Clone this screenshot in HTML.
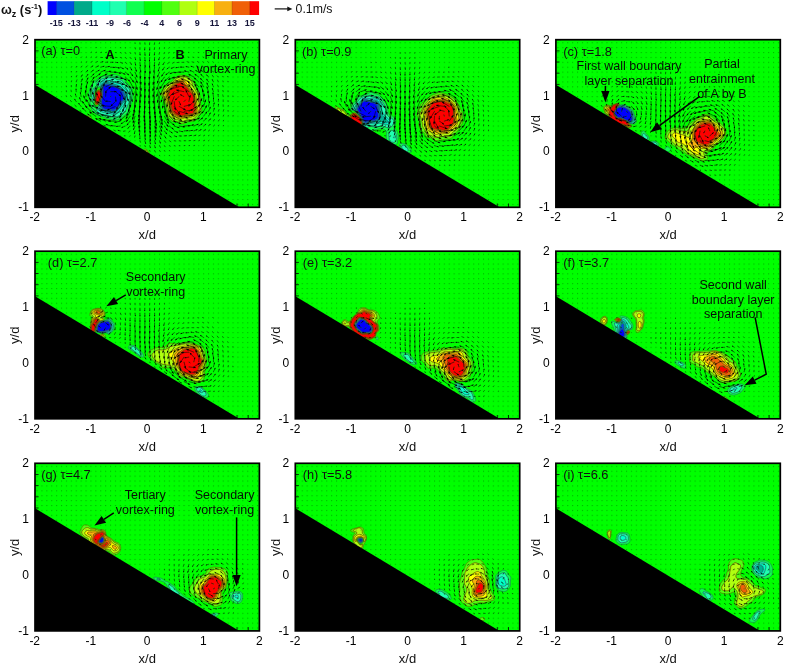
<!DOCTYPE html>
<html><head><meta charset="utf-8"><title>Vortex ring impinging on an inclined wall</title>
<style>html,body{margin:0;padding:0;background:#fff}body{width:785px;height:665px;overflow:hidden}svg{display:block}</style></head>
<body>
<svg width="785" height="665" viewBox="0 0 785 665" font-family="'Liberation Sans', Arial, sans-serif">
<defs><pattern id="dots" x="1.5" y="2.5" width="4.9" height="4.9" patternUnits="userSpaceOnUse"><rect x="0" y="0" width="1.1" height="1.1" fill="#008800" fill-opacity=".62"/></pattern></defs>
<rect width="785" height="665" fill="#fff"/>
<rect x="47.6" y="1.2" width="9.3" height="13.8" fill="#0000ff"/>
<rect x="56.6" y="1.2" width="17.9" height="13.8" fill="#0050e0"/>
<rect x="74.2" y="1.2" width="18.1" height="13.8" fill="#00b090"/>
<rect x="92" y="1.2" width="18.1" height="13.8" fill="#00ffc8"/>
<rect x="109.8" y="1.2" width="16.9" height="13.8" fill="#20ffb0"/>
<rect x="126.4" y="1.2" width="18" height="13.8" fill="#10ff50"/>
<rect x="144.1" y="1.2" width="17.9" height="13.8" fill="#00ff00"/>
<rect x="161.7" y="1.2" width="18" height="13.8" fill="#50ff10"/>
<rect x="179.4" y="1.2" width="18.1" height="13.8" fill="#b0ff10"/>
<rect x="197.2" y="1.2" width="17.6" height="13.8" fill="#ffff00"/>
<rect x="214.5" y="1.2" width="17.8" height="13.8" fill="#f8b010"/>
<rect x="232" y="1.2" width="18.1" height="13.8" fill="#f06008"/>
<rect x="249.8" y="1.2" width="9.3" height="13.8" fill="#ff0000"/>
<rect x="74.2" y="1.2" width="17.8" height="13.8" fill="#00a080" fill-opacity=".35"/>
<line x1="56.6" y1="1.2" x2="56.6" y2="15" stroke="#000" stroke-opacity=".25" stroke-width=".6"/>
<line x1="74.2" y1="1.2" x2="74.2" y2="15" stroke="#000" stroke-opacity=".25" stroke-width=".6"/>
<line x1="92" y1="1.2" x2="92" y2="15" stroke="#000" stroke-opacity=".25" stroke-width=".6"/>
<line x1="109.8" y1="1.2" x2="109.8" y2="15" stroke="#000" stroke-opacity=".25" stroke-width=".6"/>
<line x1="126.4" y1="1.2" x2="126.4" y2="15" stroke="#000" stroke-opacity=".25" stroke-width=".6"/>
<line x1="144.1" y1="1.2" x2="144.1" y2="15" stroke="#000" stroke-opacity=".25" stroke-width=".6"/>
<line x1="161.7" y1="1.2" x2="161.7" y2="15" stroke="#000" stroke-opacity=".25" stroke-width=".6"/>
<line x1="179.4" y1="1.2" x2="179.4" y2="15" stroke="#000" stroke-opacity=".25" stroke-width=".6"/>
<line x1="197.2" y1="1.2" x2="197.2" y2="15" stroke="#000" stroke-opacity=".25" stroke-width=".6"/>
<line x1="214.5" y1="1.2" x2="214.5" y2="15" stroke="#000" stroke-opacity=".25" stroke-width=".6"/>
<line x1="232" y1="1.2" x2="232" y2="15" stroke="#000" stroke-opacity=".25" stroke-width=".6"/>
<line x1="249.8" y1="1.2" x2="249.8" y2="15" stroke="#000" stroke-opacity=".25" stroke-width=".6"/>
<text x="1" y="14.4" font-size="12.8" font-weight="bold" fill="#111">ω<tspan font-size="9" dy="2.2">z</tspan><tspan dy="-2.2"> (s</tspan><tspan font-size="7.5" dy="-5">-1</tspan><tspan dy="5">)</tspan></text>
<text x="56.3" y="26.1" font-size="9" font-weight="bold" fill="#15153a" text-anchor="middle">-15</text>
<text x="74.2" y="26.1" font-size="9" font-weight="bold" fill="#15153a" text-anchor="middle">-13</text>
<text x="92" y="26.1" font-size="9" font-weight="bold" fill="#15153a" text-anchor="middle">-11</text>
<text x="110" y="26.1" font-size="9" font-weight="bold" fill="#15153a" text-anchor="middle">-9</text>
<text x="127" y="26.1" font-size="9" font-weight="bold" fill="#15153a" text-anchor="middle">-6</text>
<text x="144.6" y="26.1" font-size="9" font-weight="bold" fill="#15153a" text-anchor="middle">-4</text>
<text x="161.8" y="26.1" font-size="9" font-weight="bold" fill="#15153a" text-anchor="middle">4</text>
<text x="179.5" y="26.1" font-size="9" font-weight="bold" fill="#15153a" text-anchor="middle">6</text>
<text x="197.2" y="26.1" font-size="9" font-weight="bold" fill="#15153a" text-anchor="middle">9</text>
<text x="214.5" y="26.1" font-size="9" font-weight="bold" fill="#15153a" text-anchor="middle">11</text>
<text x="232" y="26.1" font-size="9" font-weight="bold" fill="#15153a" text-anchor="middle">13</text>
<text x="249.8" y="26.1" font-size="9" font-weight="bold" fill="#15153a" text-anchor="middle">15</text>
<line x1="274.7" y1="8.9" x2="289" y2="8.9" stroke="#111" stroke-width="1.2"/><polygon points="292.4,8.9 287.3,6.6 287.3,11.2" fill="#111"/>
<text x="295.6" y="12.5" font-size="12.3" fill="#111">0.1m/s</text>
<clipPath id="ca"><rect x="0" y="0" width="224.4" height="167.6"/></clipPath>
<g transform="translate(35,39.7)">
<g clip-path="url(#ca)">
<rect width="224.4" height="167.6" fill="#00ff00"/>
<path d="M69.6 45.3l.8-.2 .8 0 .8 .1 .8 .1 .8 .2 .8 .2 .8 .2 .8 .2 .8 .2 .8 .2 .8 .2 .8 .3 .6 .2 1 .4 .8 .3 .8 .3 .8 .5 .8 .5 .6 .4 1 .8 .8 .8 .6 .8 .4 .8 .3 .8 .2 .8 .2 .8 .3 .8 .2 .8 .1 .8-.1 .8-.4 .8-.5 .8-.5 .6-.7 1-.6 .8-.3 .6-.6 1-.5 .8-.5 .7-.7 .9-.8 .8-.7 .8-.9 .8-.9 .6-.8 .4-.8 .2-.8 .1-.8-.1-.8-.1-.8-.1-.8-.1-.8-.1-.8 0-.8 0-.8-.1-.8-.1-.8-.2-.8-.3-.8-.6-.6-1.1-.2-.7-.2-.9-.1-.8-.2-.8-.2-.8-.2-.8 0-.8 .1-.8 .2-.8 .2-.8 .2-.8 .2-.8 .3-.8 .2-.8 .1-.8 0-.8 .1-.8 0-.8 0-.8 .1-.8 0-.8 .1-.8-.1-.8 0-.8 .1-.8 .3-.8 .4-.5 .8-.6z" fill="#0000ff" stroke="#2a4a7a" stroke-opacity=".8" stroke-width=".6"/>
<path d="M69.6 43.8l.8-.1 .8 0 .8 0 .8 .2 .8 .2 .8 .2 .8 .3 .8 .2 .8 .2 .8 .2 .8 .3 .8 .3 .8 .2 .8 .3 .8 .3 .8 .3 .7 .3 .9 .5 .5 .3 1.1 .8 .8 .7 .8 .7 .8 .9 .6 .9 .4 .8 .3 .8 .3 .8 .2 .8 .2 .8 .1 .8 0 .8-.1 .8-.3 .8-.4 .8-.5 .7-.8 .8-.8 .9-.5 .8-.3 .4-.7 1.2-.5 .8-.4 .5-.8 1-.7 .9-.7 .8-.7 .8-.9 .8-1 .7-.8 .3-.8 .2-.8 0-.8-.1-.8-.2-.8-.2-.8-.2-.8-.2-.8 0-.8-.1-.8-.1-.8 0-.8-.2-.8-.1-.8-.4-.8-.6-.3-.4-.3-.8-.2-.8 0-.8 0-.8-.1-.8-.1-.8-.2-.8 0-.8 0-.8 .1-.8 .2-.8 .2-.8 .3-.8 .2-.8 .2-.8 .2-.8 .2-.8 0-.8 0-.8 0-.8 0-.8 0-.8 .1-.8 0-.8-.1-.8-.2-.8-.1-.8-.1-.8 .2-.8 .4-.8 1-.7 .8-.3zM69.1 45.6l-.7 .8-.3 .8-.1 .8 0 .8 .1 .8-.1 .8 0 .8-.1 .8 0 .8 0 .8-.1 .8 0 .8-.1 .8-.2 .8-.3 .8-.2 .8-.2 .8-.2 .8-.2 .6-.1 1 0 .8 .2 .8 .2 .8 .2 .8 .1 .8 .2 .8 .2 .8 .4 .8 .9 .8 .9 .4 .8 .2 .8 .1 .8 .1 .8 0 .8 0 .8 .1 .8 .1 .8 .1 .8 .1 .8 .1 .8-.1 .8-.2 .8-.4 .8-.5 .8-.7 .8-.8 .8-.9 .7-.9 .6-.8 .3-.4 .7-1.2 .4-.8 .5-.7 .7-.9 .6-.8 .5-.8 .4-.8 .1-.8-.1-.8-.2-.8-.3-.8-.2-.8-.2-.8-.3-.8-.4-.8-.6-.8-.8-.8-.8-.6-.8-.6-.6-.4-1-.6-.5-.2-1.1-.4-.8-.3-.8-.3-.8-.3-.8-.2-.8-.2-.8-.2-.8-.2-.8-.2-.8-.2-.8-.2-.8-.1-.8-.1-.8 0-.8 .2-.5 .3z" fill="#0050e0" stroke="#2a4a7a" stroke-opacity=".8" stroke-width=".6"/>
<path d="M70.4 42.4l.8-.1 .8 0 .7 .1 .9 .2 .8 .2 .8 .2 .6 .2 1 .3 .8 .2 .8 .3 .8 .3 .8 .3 .7 .2 .9 .3 .8 .2 .8 .3 .8 .2 .8 .5 .8 .6 .8 .8 .8 .7 .4 .4 .4 .4 .4 .4 .4 .4 .5 .4 .7 .8 .4 .5 .5 1.1 .2 .8 .1 .8 .1 .8 .1 .8 0 .8-.1 .8 0 .8-.2 .8-.3 .8-.4 .7-.7 .9-.8 .8-.7 .8-.6 .8-.4 .6-.6 1-.6 .8-.4 .5-.8 1.1-.6 .8-.6 .8-.4 .4-.8 .9-.4 .3-.4 .4-.6 .4-1 .6-.8 .3-.8 .2-.8 0-.8-.1-.7-.2-.9-.4-.8-.3-.8-.2-.8-.1-.8-.1-.8 0-.8-.1-.8-.1-.8-.1-.8-.2-.8-.3-.7-.5-.6-.8-.3-.6-.2-1 .1-.8 .1-.8 .1-.8 .1-.8-.1-.8-.1-.8 0-.8 0-.8 .2-.8 .2-.8 .3-.8 .3-.8 .3-.8 .2-.8 .1-.8 .1-.8 .1-.8-.1-.8 0-.8 0-.8 0-.8 0-.8 0-.8-.2-.8-.2-.8-.2-.8-.3-.8-.1-.8 0-.8 .4-.8 .5-.6 .8-.5 .8-.2 .8-.2 .8-.1zM69 44l-1 .6-.6 1-.2 .8 .1 .8 .1 .8 .2 .8 .1 .8 0 .8-.1 .8 0 .8 0 .8 0 .8 0 .8 0 .8-.2 .8-.2 .8-.2 .8-.2 .8-.3 .8-.2 .8-.2 .8-.1 .8 0 .8 0 .8 .2 .8 .1 .8 .1 .8 0 .8 0 .8 .2 .8 .3 .8 .3 .4 .4 .4 1.2 .6 .8 .1 .8 .2 .8 0 .8 .1 .8 .1 .8 0 .8 .2 .8 .2 .8 .2 .8 .2 .8 .1 .8 0 .8-.2 .5-.2 1.1-.7 .8-.6 .8-.8 .8-1 .7-.9 .7-.8 .6-.8 .4-.6 .6-1 .5-.8 .5-.8 .7-.8 .8-.8 .6-.8 .3-.5 .4-1.1 .1-.8 0-.8-.1-.8-.2-.8-.2-.8-.3-.8-.3-.8-.4-.8-.5-.8-.7-.8-.9-.8-.9-.8-.8-.6-.8-.5-.8-.5-.8-.3-.8-.3-.8-.3-.8-.3-.8-.2-.8-.3-.8-.3-.8-.2-.8-.2-.8-.2-.8-.3-.8-.2-.8-.2-.8-.2-.8 0-.8 0-.8 .1-.6 .2z" fill="#00b090" stroke="#2a4a7a" stroke-opacity=".8" stroke-width=".6"/>
<path d="M68 41.4l.8-.2 .8-.1 .8-.1 .8-.1 .8-.1 .8 0 .8 .1 .8 .1 .8 .2 .8 .2 .8 .2 .8 .1 .8 .3 .8 .3 .8 .3 .8 .4 .8 .3 .8 .2 .8 .1 .8 .1 .8 .1 .8 .3 .7 .7 .6 .8 .3 .4 .8 1.1 .8 .8 .8 .8 .8 .6 .8 .6 .5 .5 .6 .8 .2 .8 .1 .8 .1 .8 0 .8 0 .8 0 .8 0 .8-.1 .8 0 .8-.1 .8-.2 .8-.3 .8-.4 .8-.4 .5-.8 1-.8 .9-.6 .8-.5 .8-.5 .7-.6 .9-.6 .8-.4 .5-.8 1-.7 .9-.7 .8-.9 .8-.9 .7-.8 .6-.8 .6-.8 .4-.8 .2-.8 .2-.8-.1-.8-.1-.8-.2-.8-.3-.8-.3-.8-.3-.8-.2-.8-.1-.8-.1-.8-.1-.8 0-.8-.1-.8-.1-.8-.3-.8-.4-.8-.6-.8-.8-.5-1-.2-.8 .1-.8 .3-.8 .3-.7 .3-.9 .2-.8 0-.8 0-.8 0-.8 .1-.8 .1-.8 .3-.8 .3-.8 .3-.8 .3-.8 .2-.8 .2-.8 0-.8 0-.8 0-.8 0-.8 0-.8 0-.8 0-.8-.1-.8-.2-.8-.3-.8-.4-.8-.4-.8-.4-.8-.3-.8 0-.8 .4-.8 .7-.8 1.1-.7 .8-.3zM70.1 42.4l-1.3 .3-.8 .2-.5 .3-.8 .8-.3 .5-.1 1.1 .1 .6 .3 1 .2 .8 .2 .8 .2 .8 0 .8 0 .8 0 .8 0 .8 0 .8 .1 .8-.1 .8-.1 .7-.1 .9-.2 .8-.3 .8-.3 .8-.3 .8-.2 .8-.2 .8 0 .7 0 .9 .1 .8 .1 .8-.1 .8-.1 .8-.1 .8-.1 .8 .1 .8 .4 .8 .5 .7 .8 .6 .7 .3 .9 .2 .8 .1 .8 .1 .8 .1 .8 0 .8 .1 .8 .1 .8 .2 .8 .3 .8 .4 .8 .2 .8 .1 .8 0 .8-.2 .8-.3 .8-.4 .8-.6 .4-.4 .4-.3 .5-.5 .7-.8 .4-.5 .8-1.1 .6-.8 .6-.8 .4-.5 .7-1.1 .5-.8 .4-.6 .8-.9 .8-.8 .7-.9 .5-.8 .3-.8 .2-.8 0-.8 .1-.8 0-.8-.1-.8-.1-.8-.1-.8-.2-.8-.3-.8-.6-.8-.4-.4-.8-.8-.4-.4-.4-.4-.4-.4-.4-.4-.5-.4-.8-.8-1-.8-.9-.6-.7-.2-.9-.3-.8-.2-.8-.3-.8-.2-.8-.3-.8-.3-.8-.3-.8-.2-.8-.2-.8-.3-.8-.2-.8-.2-.8-.2-.8-.1-.8 0-.8 .1z" fill="#00ffc8" stroke="#2a4a7a" stroke-opacity=".8" stroke-width=".6"/>
<path d="M70.4 38.3l.8-.2 .8-.1 .8 0 .8 0 .8 0 .8 0 .8 0 .8 0 .8 .1 .8 .1 .6 .2 1 .3 .8 .4 .8 .4 .8 .3 .8 .2 .8 0 .8 .1 .8 .2 .8 .3 .8 .5 .5 .5 .6 .8 .5 .8 .5 .8 .3 .6 .8 1 .8 .8 .8 .6 .8 .6 .5 .4 .8 .8 .3 .5 .4 1.1 .1 .8 0 .8 0 .8 0 .8 0 .8 0 .8 .1 .8 .1 .8 .1 .8 0 .8 0 .8-.1 .8-.1 .8-.3 .8-.3 .7-.5 .9-.3 .6-.5 1-.3 .8-.3 .8-.4 .8-.3 .8-.4 .8-.2 .6-.3 1-.4 .8-.5 .8-1 .8-1 .7-.8 .5-.5 .4-1.1 .8-.8 .6-.5 .2-1.1 .5-.8 .3-.8 .3-.8 .3-.8 .1-.8 .1-.8-.1-.8-.2-.8-.2-.8-.2-.7-.1-.9-.1-.8-.2-.8-.2-.7-.3-.9-.3-.8-.2-.8-.2-.8-.2-.8-.1-.8-.3-.8-.2-.8-.4-.8-.4-.8-.4-.7-.5-.9-.8-.6-.8-.3-.8 0-.8 .4-.8 .5-.6 .7-1 .6-.8 .6-.8 .3-.8 .2-.8 .1-.8 .1-.8 .1-.8 .2-.8 .2-.8 .3-.8 .4-.8 .2-.8 .3-.8 .2-.8 0-.8 0-.8 0-.8-.1-.8 0-.8 0-.8-.1-.8-.1-.8-.3-.8-.5-.8-.6-.8-.4-.4-.6-.4-1-.6-.6-.2-1-.6-.1-1 .5-.8 .4-.4 .3-.4 .5-.5 .8-.8 .8-.7 .5-.4 1.1-.6 .6-.2 1-.3 .8-.2 .8-.2 .8-.2zM67.4 41.6l-1 .5-.8 .8-.6 1.1 0 .8 .3 .8 .3 .5 .5 1.1 .3 .5 .4 1.1 .2 .8 .1 .8 0 .8 0 .8 0 .8 0 .8 0 .8 0 .8 0 .8-.2 .8-.2 .8-.3 .7-.3 .9-.3 .8-.2 .6-.2 1-.1 .8 0 .8 0 .8 0 .8-.2 .8-.3 .8-.3 .8-.3 .8-.1 .8 .2 .8 .4 .8 .6 .8 1.1 .8 .8 .4 .8 .3 .8 .1 .8 .1 .8 0 .8 .1 .8 .1 .8 .1 .8 .2 .5 .2 1.1 .4 .8 .3 .8 .2 .8 .1 .8 .1 .8-.2 .8-.2 .8-.4 .8-.6 .7-.5 .9-.7 .8-.7 .8-.9 .8-.9 .6-.8 .6-.8 .4-.5 .8-1.1 .5-.8 .3-.5 .8-1.1 .7-.8 .7-.8 .6-.8 .4-.7 .3-.9 .2-.8 .1-.8 0-.8 .1-.8 0-.8 0-.8 0-.8 0-.8-.1-.8-.1-.8-.2-.8-.6-.8-.5-.5-.4-.3-1-.8-.9-.8-.8-.8-.6-.8-.6-.8-.5-.7-.8-.8-.8-.3-.8-.1-.8-.1-.8-.1-.8-.2-.8-.3-.8-.4-.5-.2-1.1-.4-.8-.3-.6-.1-1-.2-.8-.2-.8-.2-.8-.1-.8-.1-.8 0-.8 .1-.8 .1-.8 .1-.8 .1-.8 .2-.6 .2zM59.2 47.8l.5 1-.1 .8-.2 .8-.2 .7-.5 .9-.2 .8-.1 .8 0 .8 .1 .8 .1 .8 .1 .8 .1 .8 0 .8-.1 .8-.1 .8-.2 .8-.7 .8-.3-.8-.1-.8-.2-.8-.1-.8-.1-.8-.1-.8-.1-.8 0-.8 0-.8 0-.8 .2-.8 .3-.8 .3-.8 .4-.8 .3-.8 .2-.6 .7-1z" fill="#20ffb0" stroke="#2a4a7a" stroke-opacity=".8" stroke-width=".6"/>
<path d="M77.6 35.1l.8-.1 .8 0 .8 .1 .8 .2 .8 .2 .8 .3 .5 .2 1.1 .4 .8 .3 .8 .4 .8 .4 .8 .6 .5 .3 1 .8 .8 .8 .7 .8 .6 .8 .4 .6 .8 1 .8 .8 .7 .8 .8 .8 .8 .8 .7 .8 .6 .8 .4 .8 .2 .8 .1 .8-.1 .8-.1 .8 0 .8 0 .8 .1 .8 .3 .8 .2 .8 .2 .8 .1 .8-.1 .8-.2 .8-.1 .8-.2 .8-.2 .8-.2 .6-.3 1-.3 .8-.2 .5-.4 1.1-.4 .8-.2 .8-.3 .8-.3 .8-.2 .8-.2 .8-.2 .8-.2 .6-.6 1-.7 .8-1.1 .8-.8 .5-.8 .6-.7 .5-.9 .8-.8 .8-.8 .7-.8 .4-.8 .4-.8 .3-.8 .2-.8 .3-.8 .2-.8 .2-.8 .1-.8 0-.8-.1-.8-.3-.8-.2-.8-.3-.8-.1-.8-.1-.8-.1-.8-.2-.8-.2-.8-.4-.8-.4-.8-.4-.8-.3-.8-.2-.8-.3-.8-.2-.8-.3-.7-.3-.9-.3-.8-.4-.8-.3-.8-.4-.8-.4-.8-.6-.8-.7-.8-.8-.8-.9-.5-.8-.3-.7-.3-.9-.3-.8-.2-.8-.3-.8-.2-.8-.2-.8-.1-.7-.1-.9-.1-.8 0-.8-.1-.8-.2-.8-.1-.8-.2-.6-.3-1-.2-.8 0-.8 0-.8 .1-.8 .1-.8 .1-.8 .2-.8 .2-.8 .2-.8 .2-.8 .2-.7 .2-.9 .2-.8 .4-.8 .4-.8 .4-.5 .8-1 .8-.9 .8-.8 .7-.8 .9-.8 .8-.6 .8-.7 .4-.3 .4-.3 .7-.5 .9-.6 .8-.4 .8-.3 .8-.3 .8-.2 .8-.2 .8-.2 .8-.1 .8-.1 .8 0 .8-.1 .8-.1 .8-.1 .8-.1 .8-.2 .8-.2 .8-.1zM69.9 38.4l-1.1 .3-.8 .2-.8 .2-.8 .3-.8 .4-.8 .6-.5 .4-.8 .8-.8 .8-.3 .4-.4 .4-.4 .7-.2 .9 1 .6 .8 .4 .8 .4 .8 .6 .4 .4 .4 .4 .7 1.2 .3 .8 .1 .8 .1 .8 0 .8 0 .8 .1 .8 0 .8 0 .8 0 .8-.2 .8-.3 .8-.2 .8-.4 .8-.2 .5-.3 1.1-.2 .8-.1 .8-.1 .8-.1 .8-.2 .8-.3 .8-.6 .8-.5 .7-.7 .9-.6 .8-.3 .7-.1 .9 .3 .8 .6 .8 .8 .7 .8 .6 .6 .3 1 .5 .6 .3 1 .3 .8 .3 .8 .1 .8 .2 .8 .2 .8 .2 .8 .3 .8 .3 .8 .2 .8 .2 .8 .1 .8 .1 .8 .2 .8 .2 .8 .2 .8 .1 .8-.1 .8-.1 .8-.3 .8-.3 .8-.3 .8-.4 .8-.3 .8-.6 .8-.6 .8-.6 .6-.4 1-.7 .8-.6 .8-.9 .5-1 .2-.8 .3-.8 .4-.8 .2-.5 .5-1.1 .3-.8 .3-.8 .4-.8 .4-.8 .4-.8 .4-.8 .3-.8 .1-.8 .1-.8 0-.8 0-.8-.1-.8-.1-.8-.1-.8 0-.8 0-.8 0-.8 0-.8 0-.8-.1-.8-.2-.8-.5-.8-.5-.5-.8-.7-.6-.4-1-.8-.8-.8-.6-.8-.5-.8-.5-.8-.5-.8-.3-.5-.8-.8-.5-.3-1.1-.5-.8-.2-.8-.1-.8 0-.8-.2-.8-.3-.6-.3-1-.5-.8-.3-.8-.2-.8-.1-.8-.1-.8 0-.8 0-.8 0-.8 0-.8 0-.8 0-.8 .1-.8 .2zM59.1 48l-.5 .8-.4 .8-.3 .8-.3 .5-.4 1.1-.3 .8-.2 .8 0 .8 0 .8 0 .8 .1 .8 .1 .8 .1 .8 .1 .8 .2 .8 .1 .8 .1 .8 .9-.6 .2-1 .1-.8 .1-.8 0-.8-.1-.8-.1-.8-.1-.8-.1-.8 0-.8 .1-.8 .2-.8 .5-.8 .2-.8 .2-.8 .1-.8-.2-.8zM62.3 48l-.6 .8-.6 .8-.3 .5-.7 1.1-.5 .8-.3 .8-.1 .6-.1 1 .1 .8 .2 .8 .1 .8 .1 .8 .1 .8-.1 .8-.1 .8-.1 .8-.2 .8-.2 .8-.2 .8-.1 .8 .1 .8 .1 .8 .3 .7 .5 .9 1.1 .6 .8-.2 .5-.4 1-.8 .7-.8 .4-.8 .3-.8 .1-.8 .1-.8 .2-.8 .2-.8 .3-.8 .2-.7 .4-.9 .3-.8 .3-.8 .1-.8 .1-.8 0-.8-.1-.8-.1-.8 0-.8-.1-.8 0-.8-.2-.8-.4-.8-.3-.5-.4-.3-.4-.3-.8-.3-.8 0-.8 .4z" fill="#10ff50" stroke="#2a4a7a" stroke-opacity=".8" stroke-width=".6"/>
<path d="M144 36l.8-.3 .8-.1 .8-.1 .8 0 .8 0 .8 0 .8 .1 .8 .2 .7 .2 .9 .3 .8 .4 .8 .4 .8 .5 .8 .5 .4 .3 .9 .8 .7 .8 .4 .5 .6 1.1 .4 .8 .4 .8 .2 .7 .3 .9 .2 .8 .3 .6 .5 1 .3 .5 .7 1.1 .5 .8 .4 .7 .4 .9 .4 .8 .4 .8 .4 .8 .3 .8 .4 .8 .2 .8 .2 .8 .2 .8 0 .8 0 .8 .1 .8 0 .8 0 .8 .1 .8 0 .8 .1 .8 0 .8 .1 .8 .2 .8 .3 .8 .2 .7 .2 .9 .1 .8-.1 .8-.2 .8-.3 .8-.3 .8-.2 .6-.5 1-.3 .7-.7 .9-.6 .8-.7 .8-.4 .5-.8 1-.8 .8-.8 .6-.6 .3-1 .4-.8 .2-.8 .2-.8 .1-.8 0-.8 .1-.8 0-.8 .2-.8 .3-.8 .4-.8 .5-.8 .4-.8 .3-.8 .2-.8-.1-.8-.2-.8-.3-.6-.3-1-.6-.8-.4-.8-.3-.8-.1-.8 0-.8 0-.8 .1-.8-.1-.6-.2-1-.6-.8-.8-.8-.7-.8-.7-.4-.4-.4-.5-.6-1.1-.2-.8-.2-.8-.1-.8-.1-.8-.1-.8-.1-.8-.1-.8-.1-.8-.1-.8-.2-.8-.1-.8-.1-.8-.2-.8-.2-.8-.3-.8-.4-.8-.4-.8-.3-.8-.4-.8-.4-.8-.3-.8-.4-.8-.2-.5-.6-1.1-.5-.8-.4-.8-.3-.8-.1-.8 0-.8 .2-.8 .3-.8 .4-.8 .4-.8 .5-.8 .5-.8 .4-.6 .7-1 .6-.8 .9-.8 1-.8 .8-.6 .8-.4 .8-.4 .8-.4 .8-.5 .8-.6 .8-.8 .8-.9 .8-.9 .8-.8 .8-.7 .8-.6 .6-.4 1-.5 .7-.3zM144.1 37.6l-.9 .4-.6 .4-1 .7-.8 .6-.8 .7-.4 .4-.4 .4-.4 .4-.4 .4-.4 .4-.4 .4-.4 .4-.4 .3-.6 .5-1 .7-.8 .5-.6 .4-1 .8-.8 .7-.8 .8-.6 .9-.6 .8-.4 .7-.6 .9-.5 .8-.3 .8-.3 .8-.1 .8 .2 .8 .3 .8 .4 .8 .4 .8 .4 .8 .2 .8 .3 .8 .3 .8 .4 .8 .4 .8 .4 .8 .4 .8 .3 .8 .3 .8 .3 .8 .2 .8 .2 .8 .3 .8 .1 .8 .1 .8 .1 .8 0 .8 .1 .8 .1 .8 .1 .8 .2 .8 .5 .8 .4 .5 .8 .6 .8 .4 .8 .5 .5 .4 1.1 .7 .8 .2 .8 .1 .8 .1 .8 .2 .8 .2 .8 .4 .8 .4 .8 .5 .8 .4 .8 .2 .8 0 .8-.2 .8-.4 .6-.4 1-.5 .7-.3 .9-.2 .8-.1 .8 0 .8 0 .8 0 .8-.1 .8-.2 .5-.2 1.1-.6 .8-.7 .8-.9 .8-.9 .8-.9 .7-.8 .7-.8 .4-.8 .4-.8 .3-.8 .1-.8 0-.8-.2-.8-.3-.8-.3-.8-.2-.8-.1-.8 0-.8 .1-.8 0-.8-.1-.8-.1-.8-.1-.8-.1-.8-.1-.8-.1-.8 0-.8-.1-.8-.2-.8-.2-.8-.4-.8-.4-.8-.5-.7-.5-.9-.3-.5-.6-1.1-.4-.8-.5-.8-.6-.8-.3-.5-.7-1.1-.2-.8-.2-.8-.2-.8-.2-.8-.3-.8-.5-.8-.6-.8-.3-.4-.4-.4-.4-.3-.6-.5-1-.6-.5-.2-1.1-.5-.8-.3-.8-.3-.8-.2-.8-.1-.8-.1-.8 .1-.8 .1-.8 .2-.7 .3zM64 50.2l.8-.1 .4 .3 .4 .4 .3 1.2 .1 .8 .1 .8 .2 .8 0 .8 0 .8-.2 .8-.2 .8-.3 .6-.4 1-.4 .8-.3 .8-.2 .8-.2 .8-.3 .8-.4 .8-.6 .8-.4 .3-.8 .3-.8-.4-.5-1-.1-.8 0-.8 .1-.8 .1-.8 .2-.8 .1-.8 .1-.6 0-1 0-.8-.1-.8-.2-.8-.1-.8 0-.8 .3-.8 .6-.8 .8-.8 1.1-.7 .8-.3zM62.6 51.2l-1 .8-.6 .8-.3 .8-.1 .8 .1 .8 .2 .8 .1 .8 0 .8 0 .8-.1 .8-.1 .8-.2 .8-.1 .8-.1 .8 0 .8 .2 .8 .6 .8 1.1 0 .9-.8 .4-.8 .3-.8 .2-.8 .3-.8 .3-.8 .3-.8 .4-.8 .4-.8 .2-.8 .2-.8 0-.8 0-.8-.2-.8-.1-.8-.2-.8-.2-.8-.7-.7-.8 0-.8 .4-.6 .3zM49.6 76.1l.8 .1 .8 .1 .8 0 .8 .1 .8 0 .8 .1 .8 .3 .8 .5 .8 .9-.8 .6-.8-.1-.8 0-.8-.1-.8-.1-.8-.1-.8-.2-.8-.5-.8-.4-.5-.5 .5-.7zM52.6 77.6l1 0-.8 0zM109.6 109.4l.8-.1 .8 .3 .8 .5 .8 1 .6 .9 .5 .8 .5 .8 .5 .8 .3 .5 0 .9-.8 .1-.8-.3-.6-.4-1-.7-.8-.6-.8-.7-.4-.4-.4-.5-.6-1.1-.1-.8 .4-.8zM110.2 111.2l.2 .7 .6 .9 .9 .8 .9 .6 .7 .2-.2-.8-.4-.8-.5-.8-.4-.7-.8-.6-.8 0-.2 .5z" fill="#50ff10" stroke="#7a3a00" stroke-opacity=".8" stroke-width=".6"/>
<path d="M144.8 37.3l.8-.2 .8-.1 .8-.1 .8 .1 .8 .1 .8 .2 .8 .3 .8 .3 .8 .4 .8 .3 .8 .5 .8 .6 .4 .3 .4 .4 .3 .4 .5 .6 .6 1 .2 .6 .3 1 .2 .8 .2 .8 .2 .8 .5 .8 .5 .8 .5 .7 .6 .9 .4 .8 .4 .8 .5 .8 .5 .8 .5 .8 .3 .6 .5 1 .2 .8 .2 .8 .1 .8 0 .8 .1 .8 .1 .8 .1 .8 .1 .8 .1 .8 .1 .8 0 .8-.1 .8 0 .8 .1 .7 .2 .9 .3 .8 .3 .8 .2 .8 0 .8-.1 .8-.3 .8-.4 .8-.4 .8-.6 .7-.8 .9-.7 .8-.8 .8-.6 .8-.8 .8-1.1 .7-.8 .3-.8 .2-.8 .1-.8 0-.8 0-.8 0-.8 .1-.8 .2-.8 .3-.8 .4-.8 .5-.8 .4-.8 .2-.8 0-.7-.2-.9-.4-.7-.4-.9-.5-.6-.3-1-.3-.8-.2-.8-.1-.8-.1-.8-.2-.8-.5-.8-.6-.6-.4-1-.5-.8-.6-.4-.5-.4-.6-.3-1-.1-.8-.1-.8-.1-.8 0-.8-.1-.8-.1-.8-.1-.8-.3-.8-.2-.8-.2-.7-.3-.9-.3-.8-.2-.5-.5-1.1-.3-.6-.5-1-.3-.6-.4-1-.3-.8-.2-.8-.4-.8-.3-.6-.5-1-.3-.7-.2-.9 .1-.8 .3-.8 .3-.8 .3-.5 .7-1.1 .5-.8 .4-.6 .8-1 .7-.8 .8-.8 .9-.7 .8-.5 .6-.4 1-.6 .8-.7 .4-.3 .4-.4 .4-.4 .4-.4 .4-.4 .4-.4 .4-.4 .4-.4 .4-.4 1-.8 1-.7 .8-.5 .8-.4 .8-.3zM145.7 39.2l-.9 .3-.8 .4-.8 .4-.8 .5-.8 .4-.5 .4-1 .8-.9 .8-.8 .7-.8 .8-.8 .7-.8 .6-.5 .4-1 .8-.8 .8-.8 .8-.6 .8-.3 .5-.7 1.1-.6 .8-.3 .5-.5 1.1-.1 .8 .2 .8 .2 .8 .4 .8 .2 .8 .3 .8 .2 .8 .2 .8 .3 .8 .4 .8 .5 .8 .4 .8 .3 .8 .3 .8 .3 .8 .3 .8 .3 .8 .2 .8 .3 .8 .2 .8 .1 .8 .1 .8 .1 .8 .1 .8 .3 .8 .6 .8 1 .7 .8 .4 .8 .5 .8 .5 .6 .3 1 .5 .8 .3 .8 .3 .8 .2 .8 .3 .8 .2 .8 .1 .8 0 .8-.1 .6-.2 1-.3 .8-.2 .8-.2 .8-.1 .8-.1 .8 0 .8-.1 .8 0 .8-.1 .8-.2 .8-.3 .8-.4 .5-.4 1-.8 .8-.8 .7-.8 .7-.8 .3-.6 .4-1 0-.8-.1-.8-.3-.8-.2-.8-.2-.8-.2-.8 0-.8-.1-.8 0-.8 0-.8 0-.8-.1-.8-.1-.8 0-.8-.1-.8-.1-.8-.1-.8-.2-.8-.2-.8-.3-.8-.4-.8-.5-.8-.4-.6-.6-1-.4-.8-.5-.8-.6-.8-.8-.8-.8-.8-.3-.4-.5-1.2-.2-.8-.1-.8-.1-.8-.3-.8-.4-.6-.8-.9-.8-.6-.5-.3-1.1-.6-.8-.4-.8-.3-.7-.3-.9-.2-.8 0-.7 .2zM63.2 50.9l.8-.4 .8 0 .7 .7 .2 .8 .2 .8 .1 .8 .2 .8 0 .8 0 .8-.2 .8-.2 .8-.4 .8-.4 .8-.2 .5-.4 1.1-.3 .8-.2 .8-.3 .8-.4 .8-.8 .8-.8 .2-.8-.5-.4-1.3 0-.8 .1-.8 .1-.8 .2-.8 .1-.8 .1-.8 0-.8 0-.8-.1-.8-.2-.8-.1-.8 .1-.8 .3-.8 .6-.8 .8-.7 .8-.4zM63.5 51.2l-1.1 .6-.8 .8-.6 1 0 .8 0 .8 .2 .8 .1 .8 0 .8-.1 .8-.1 .8-.2 .8-.1 .8-.1 .8 0 .8 0 .8 .4 .8 .5 .5 .8-.2 .8-.8 .5-1.1 .2-.8 .3-.8 .3-.8 .3-.6 .5-1 .3-.8 .3-.8 .1-.8 .1-.8-.1-.8-.2-.8-.2-.8-.2-.8-.5-.8-.9-.2zM52.8 77.6l.8-.1-.8 .1zM110.4 110.7l.8 0 .7 .5 .5 .8 .4 .6 .5 1 .3 .7-.8-.1-.8-.5-.8-.7-.8-1-.2-.8 .2-.5z" fill="#b0ff10" stroke="#7a3a00" stroke-opacity=".8" stroke-width=".6"/>
<path d="M146.4 39l.8 0 .8 .2 .8 .3 .8 .3 .8 .4 .8 .4 .8 .5 .7 .5 .8 .8 .5 .8 .3 .8 .1 .7 .1 .9 .2 .8 .3 .8 .5 .8 .5 .5 .8 .8 .8 .9 .6 1 .4 .8 .5 .8 .5 .8 .4 .7 .5 .9 .3 .7 .2 .9 .2 .8 .1 .8 .1 .8 .1 .8 0 .8 .1 .8 .1 .8 0 .8 0 .8 0 .8 .1 .8 0 .8 .2 .8 .2 .8 .2 .7 .3 .9 .1 .8 0 .8-.3 .8-.4 .8-.5 .6-.8 .9-.8 .8-.8 .7-.8 .6-.8 .4-.8 .3-.8 .2-.8 .1-.8 0-.8 .1-.8 0-.7 .1-.9 .1-.8 .2-.8 .2-.8 .2-.8 .3-.8 .1-.8 0-.8-.1-.6-.2-1-.3-.8-.2-.8-.3-.8-.3-.8-.4-.8-.4-.8-.5-.8-.5-.6-.3-1-.6-.8-1-.3-.8-.1-.8-.1-.8-.1-.8-.1-.8-.2-.8-.3-.8-.2-.8-.3-.8-.3-.8-.3-.8-.3-.8-.3-.8-.3-.6-.6-1-.2-.5-.5-1.1-.2-.8-.2-.8-.3-.8-.2-.8-.4-.8-.2-.8-.2-.8 .1-.8 .4-.8 .4-.8 .5-.7 .6-.9 .5-.8 .5-.6 .8-.9 .8-.8 .8-.7 .8-.6 .5-.4 1-.8 .8-.8 .9-.8 .8-.7 .8-.7 .8-.6 .7-.4 .9-.5 .6-.3 1-.5 .8-.3 .8-.2zM144.8 40.8l-.8 .3-.8 .5-.8 .4-.6 .4-1 .6-.8 .6-.5 .4-.9 .8-.9 .8-.9 .7-.8 .7-.8 .7-.8 .8-.8 .9-.6 1-.5 .8-.5 .8-.4 .8-.4 .8-.1 .8 0 .8 .2 .8 .3 .8 .2 .8 .2 .8 .2 .8 .3 .8 .3 .8 .4 .8 .4 .7 .4 .9 .2 .8 .2 .5 .3 1.1 .3 .8 .3 .8 .3 .8 .3 .8 .1 .6 .2 1 .1 .8 .2 .8 .3 .7 .6 .9 1 .8 .8 .5 .5 .3 1.1 .7 .8 .4 .8 .4 .8 .3 .8 .2 .8 .1 .8 .1 .8 0 .8-.1 .8-.2 .8-.1 .7-.2 .9-.1 .8-.2 .8-.1 .8-.1 .8-.2 .8 0 .7-.1 .9-.1 .8-.1 .8-.3 .6-.3 1-.7 .8-.7 .8-.9 .5-.9 .2-.8 .1-.8-.1-.8-.2-.8-.2-.8-.1-.8-.2-.8-.1-.8 0-.8-.1-.8-.1-.8 0-.8 0-.8-.1-.8 0-.8-.1-.8-.1-.8-.1-.8-.1-.7-.3-.9-.3-.8-.5-.8-.5-.7-.6-.9-.5-.8-.5-.8-.6-.8-.8-.8-.8-.8-.6-.8-.4-.6-.6-1-.4-.8-.5-.8-.5-.8-.4-.6-.7-1-.8-.8-.9-.6-.8-.4-.8-.2-.8 0-.8 .1-.8 .3zM64 51l.8 0 .6 1 .2 .6 .2 1 .2 .8 .1 .8-.1 .8-.1 .8-.3 .8-.3 .8-.4 .8-.4 .8-.3 .8-.2 .6-.3 1-.4 .8-.6 .8-1.1 .5-.5-.5-.3-.5-.1-1.1 0-.8 .1-.8 .1-.8 .2-.8 .1-.8 .1-.8 0-.8-.1-.8-.2-.8 0-.8 0-.8 .4-.8 .7-.8 1.1-.7 .8-.3zM62.5 52l-.8 .8-.4 .8-.1 .8 .1 .8 .1 .8 .1 .8-.1 .8-.1 .8-.1 .8-.1 .8-.1 .8-.1 .8-.1 .8 .2 .8 .4 .8 1 0 .7-.8 .4-.8 .3-.8 .2-.6 .4-1 .4-.8 .4-.8 .3-.8 .3-.8 .1-.8 .1-.8-.1-.8-.2-.8-.2-.8-.3-.8-.4-.6-.8-.1-.8 .3-.7 .4z" fill="#ffff00" stroke="#7a3a00" stroke-opacity=".8" stroke-width=".6"/>
<path d="M144.8 40.8l.8-.3 .8-.1 .8 0 .8 .2 .8 .4 .8 .5 .8 .8 .7 .9 .5 .8 .4 .6 .6 1 .4 .8 .5 .8 .5 .8 .4 .6 .8 .8 .8 .8 .8 1 .5 .8 .5 .8 .6 .8 .5 .8 .3 .5 .5 1.1 .3 .8 .1 .8 .1 .8 .1 .8 .1 .8 0 .8 .1 .8 0 .8 0 .8 .1 .8 .1 .8 0 .8 .1 .8 .2 .8 .1 .8 .2 .8 .2 .8 .1 .8-.1 .8-.2 .8-.5 .8-.6 .8-.9 .8-.9 .7-.8 .4-.8 .3-.8 .1-.8 .1-.8 .1-.8 0-.8 .2-.8 .1-.8 .1-.8 .2-.8 .1-.8 .2-.8 .1-.8 .2-.8 .1-.8 0-.8-.1-.8-.1-.8-.2-.8-.3-.8-.4-.5-.3-1.1-.6-.8-.5-.8-.5-.8-.6-.8-1-.3-.8-.2-.8-.1-.8-.2-.8-.1-.8-.3-.8-.3-.8-.3-.8-.3-.8-.2-.8-.3-.8-.2-.8-.4-.8-.4-.8-.4-.8-.3-.8-.3-.8-.2-.8-.2-.8-.2-.8-.3-.8-.2-.8 0-.8 .1-.8 .4-.8 .4-.8 .5-.8 .3-.5 .7-1.1 .6-.8 .8-.8 .8-.8 1-.8 .9-.7 .8-.7 .8-.7 .8-.7 .6-.4 1-.7 .8-.5 .7-.4 .9-.5 .8-.3zM145.9 41.6l-1.1 .3-.8 .3-.8 .5-.8 .4-.8 .5-.6 .4-1 .6-.8 .6-.5 .4-1 .8-.9 .8-.8 .7-.8 .8-.7 .9-.5 .8-.4 .8-.4 .8-.3 .8-.4 .8-.2 .8 0 .8 .2 .8 .2 .8 .2 .8 .2 .8 .2 .8 .2 .8 .3 .8 .4 .8 .2 .5 .3 1.1 .2 .8 .2 .8 .3 .8 .3 .8 .3 .8 .2 .8 .3 .8 .2 .8 .2 .8 .2 .8 .3 .8 .5 .8 .5 .5 .8 .7 .7 .4 .9 .6 .8 .4 .8 .4 .8 .4 .8 .2 .8 .1 .8 0 .8 0 .8-.2 .8-.1 .7-.2 .9-.2 .8-.1 .8-.2 .8-.1 .8-.2 .8-.1 .8-.1 .8-.1 .8 0 .8-.2 .8-.2 .8-.5 .6-.4 .7-.8 .5-.8 .3-.8 0-.8 0-.8-.2-.8-.1-.8-.1-.8-.1-.8-.1-.8 0-.8-.1-.8-.1-.8-.1-.8 0-.8-.1-.8 0-.8 0-.8-.1-.8-.1-.8-.2-.8-.2-.8-.5-.8-.5-.8-.3-.4-.8-1.1-.7-.9-.7-.8-.7-.8-.7-.8-.4-.5-.8-1-.8-.9-.7-.8-.8-.8-.6-.8-.3-.5-.6-1.1-.6-.8-.4-.3-.8-.4-.8-.2zM63.2 51.6l.8-.3 .8 .1 .4 .6 .3 .8 .2 .8 .2 .8 .1 .8-.1 .8-.1 .8-.3 .8-.3 .8-.4 .7-.4 .9-.3 .8-.3 .8-.3 .8-.3 .7-.8 .9-.8 .1-.6-.9-.2-.8 .1-.8 .1-.8 .1-.8 .1-.8 .1-.8 .1-.8 .1-.8-.1-.8-.1-.8-.1-.8 .1-.8 .3-.6 .8-.9 .8-.5zM62.9 52l-.5 .4-.4 .4-.4 .7-.2 .9 .1 .8 .1 .8 0 .8 0 .8-.2 .8-.1 .8-.1 .8-.1 .8-.1 .8 0 .8 .2 .8 .4 .6 .8-.1 .5-.5 .3-.4 .5-1.2 .3-.8 .3-.8 .4-.8 .4-.8 .3-.8 .2-.6 .2-1 0-.8 0-.8-.2-.7-.3-.9-.4-.8-.9-.4-.8 .2z" fill="#f8b010" stroke="#7a3a00" stroke-opacity=".8" stroke-width=".6"/>
<path d="M146.4 41.5l.8 .2 .8 .4 .4 .3 .4 .5 .7 1.1 .4 .8 .5 .7 .8 .8 .8 .8 .7 .9 .7 .8 .6 .8 .4 .4 .8 .9 .8 1 .7 .9 .6 .8 .6 .8 .5 .7 .5 .9 .2 .8 .2 .8 .1 .8 .1 .8 0 .8 0 .8 .1 .8 0 .8 .1 .8 .1 .8 .1 .8 0 .8 .1 .8 .1 .8 .1 .8 .1 .8 .2 .8 0 .8 0 .8-.3 .8-.5 .8-.5 .6-.8 .6-.7 .4-.9 .3-.8 .2-.8 0-.8 .1-.8 .1-.8 .1-.8 .2-.8 .1-.8 .2-.8 .1-.8 .2-.8 .2-.8 .1-.8 .2-.8 0-.8 0-.8-.1-.8-.2-.8-.4-.8-.4-.8-.4-.8-.5-.8-.5-.5-.4-.8-.8-.3-.4-.5-1.2-.2-.8-.2-.8-.2-.8-.3-.8-.2-.8-.3-.8-.3-.8-.2-.6-.3-1-.2-.8-.2-.8-.3-.8-.4-.8-.2-.6-.3-1-.2-.8-.2-.8-.2-.8-.2-.8-.2-.8 0-.8 .2-.8 .3-.6 .4-1 .4-.8 .4-.8 .4-.7 .7-.9 .8-.8 .9-.8 .8-.7 .8-.6 .8-.7 .6-.4 1-.7 .8-.5 .7-.4 .9-.5 .5-.3 1.1-.5 .8-.3 .8-.1zM144.1 43.2l-.9 .5-.6 .3-1 .6-.8 .4-.8 .5-.8 .6-.4 .3-1 .8-1 .8-.8 .8-.6 .8-.5 .8-.3 .8-.2 .6-.3 1-.2 .8-.1 .8 0 .8 .1 .8 .2 .8 .2 .8 .1 .8 .1 .8 .2 .8 .2 .8 .2 .8 .2 .8 .1 .8 .2 .8 .1 .8 .3 .8 .3 .8 .2 .8 .3 .7 .3 .9 .2 .8 .2 .8 .3 .8 .4 .8 .6 .8 1 .8 1 .6 .8 .5 .8 .4 .8 .3 .8 .3 .8 .1 .8 0 .8-.1 .8-.1 .8-.2 .8-.2 .8-.1 .8-.2 .8-.2 .8-.2 .8-.2 .8-.1 .8-.1 .8-.1 .8-.1 .8-.1 .5-.2 1.1-.7 .8-.9 .3-.8 .1-.8 0-.8-.1-.8 0-.8-.1-.8-.1-.8 0-.8-.1-.8-.1-.8-.1-.8-.1-.8-.1-.8 0-.8 0-.8-.1-.8 0-.8-.1-.8-.2-.8-.3-.8-.5-.8-.6-.8-.6-.8-.4-.4-.4-.4-.4-.5-.8-.9-.8-1-.6-.8-.7-.8-.7-.8-1-.8-.9-.8-.7-.8-.6-.8-.4-.7-.7-.9-.9-.4-.8-.1-.8 .2-.7 .3zM63.2 51.8l.8-.2 .8 .2 .5 1 .3 .8 .2 .8 0 .8 0 .8-.1 .8-.3 .8-.3 .8-.3 .5-.5 1.1-.3 .7-.3 .9-.3 .8-.5 .8-.5 .5-.8 .1-.4-.6-.2-.8 0-.8 .1-.8 .1-.8 .1-.8 .1-.8 .2-.8 0-.8 0-.8-.1-.8-.1-.8 .1-.8 .5-.8 .4-.4 .5-.4zM63.5 52l-1.1 .7-.6 .9-.2 .8 .1 .8 .1 .8 0 .8-.1 .8-.1 .7-.2 .9-.1 .8-.1 .8 0 .8 0 .8 .2 .8 1 .3 .8-1.1 .3-.8 .3-.8 .4-.8 .3-.8 .3-.5 .5-1.1 .3-.8 .1-.8 0-.8-.1-.8-.2-.8-.3-.8-.3-.6-.8-.3z" fill="#f06008" stroke="#7a3a00" stroke-opacity=".8" stroke-width=".6"/>
<path d="M144.8 42.9l.8-.2 .8 .1 .8 .3 .8 .9 .4 .8 .4 .6 .8 .9 .8 .7 .8 .7 .8 .7 .8 1 .8 1 .7 .8 .6 .8 .7 .8 .4 .4 .4 .4 .4 .5 .8 1.1 .5 .8 .3 .8 .2 .8 .1 .8 0 .8 .1 .8 0 .8 0 .8 .1 .8 .1 .8 .1 .8 .1 .8 .1 .8 0 .8 .1 .8 .1 .8 0 .8 .1 .8 0 .8-.1 .8-.3 .7-.6 .9-1 .7-.8 .3-.8 .1-.8 .1-.8 .1-.8 .1-.8 .1-.8 .2-.8 .2-.8 .2-.8 .2-.7 .1-.9 .2-.8 .2-.8 .1-.8 .1-.8 0-.8-.1-.8-.3-.5-.2-1.1-.5-.5-.3-1.1-.7-.8-.6-.8-.8-.6-1.1-.2-.5-.3-1.1-.2-.8-.3-.8-.3-.8-.2-.8-.3-.8-.3-.8-.1-.8-.2-.8-.1-.8-.2-.8-.2-.8-.2-.8-.2-.8-.1-.8-.1-.8-.2-.8-.2-.8-.1-.8 0-.8 .1-.8 .2-.8 .2-.8 .3-.8 .3-.8 .3-.5 .8-1.1 .8-.8 .8-.7 .8-.6 .8-.6 .7-.5 .9-.6 .8-.4 .8-.5 .8-.4 .8-.5 .8-.3zM64 51.9l.8 .3 .3 .6 .3 .8 .2 .6 .1 1 0 .8-.1 .6-.3 1-.3 .8-.5 .8-.3 .8-.4 .8-.3 .8-.3 .8-.6 .8-1 .2-.4-1 0-.8 0-.8 .1-.8 .1-.8 .2-.8 .1-.8 .1-.8 0-.8-.1-.8-.1-.8 .2-.8 .5-.8 .9-.7 .8-.2z" fill="#ff0000" stroke="#7a3a00" stroke-opacity=".8" stroke-width=".6"/>
<rect width="224.4" height="167.6" fill="url(#dots)"/>
<path d="M100 3l.2 1.2M104.9 3l.2 1.8M109.8 3l.3 2M114.7 3l-.2 2.4M119.6 3l-.4 2.2M124.5 3l-.4 1.4M60.8 7.9l.9-.1M85.3 7.9l.9 .3M90.2 7.9l.8 .7M100 7.9l.6 1.8M104.9 7.9l0 2.3M109.8 7.9l-.1 2.8M114.7 7.9l0 3M119.6 7.9l-.4 2.4M124.5 7.9l-.2 1.8M129.4 7.9l-.1 1.1M134.3 7.9l-.7 .8M55.9 12.8l1-.6M60.8 12.8l1.1-.4M65.7 12.8l1.3-.3M70.6 12.8l1.4-.3M75.5 12.8l1.4-.1M80.4 12.8l1.3 .2M85.3 12.8l1.3 .7M90.2 12.8l.9 1.3M95.1 12.8l.8 1.4M100 12.8l.5 1.9M104.9 12.8l.2 2.9M109.8 12.8l.3 3.3M114.7 12.8l-.3 3.5M119.6 12.8l-.4 2.9M124.5 12.8l-.5 2.2M129.4 12.8l-.5 1.6M134.3 12.8l-1.2 .8M139.2 12.8l-1 .6M144.1 12.8l-1.2 .2M149 12.8l-.9 .2M153.9 12.8l-.9-.3M163.7 12.8l-.9-.2M46.1 17.7l.7-.7M51 17.7l.9-.7M55.9 17.7l.9-.6M60.8 17.7l1.4-.6M65.7 17.7l2.2 .1M70.6 17.7l2.2-.1M75.5 17.7l2.3 0M80.4 17.7l2 .2M85.3 17.7l1.8 .7M90.2 17.7l1.5 1.3M95.1 17.7l1.4 1.7M100 17.7l.8 2.8M104.9 17.7l.4 3.7M109.8 17.7l.3 4.2M114.7 17.7l-.3 4.3M119.6 17.7l-.3 3.7M124.5 17.7l-.9 2.8M129.4 17.7l-1 1.8M134.3 17.7l-1.4 1M139.2 17.7l-1.6 .7M144.1 17.7l-1.8 0M149 17.7l-1.6 .3M153.9 17.7l-1.2-.5M158.8 17.7l-1.3-.3M163.7 17.7l-1.1-.2M168.6 17.7l-1-.5M178.4 17.7l-.9-.5M46.1 22.6l.9-.6M51 22.6l1.2-.8M55.9 22.6l1.7-1M60.8 22.6l2.1-.9M65.7 22.6l2.6-.7M70.6 22.6l2.6-.3M75.5 22.6l3-.1M80.4 22.6l2.9 .4M85.3 22.6l2.6 1M90.2 22.6l2 1.6M95.1 22.6l1.5 2.4M100 22.6l.8 3.3M104.9 22.6l.5 4.3M109.8 22.6l.4 5.1M114.7 22.6l-.2 5.4M119.6 22.6l-.4 4.4M124.5 22.6l-.9 3.3M129.4 22.6l-1.7 2.6M134.3 22.6l-2 1.5M139.2 22.6l-2.1 1.1M144.1 22.6l-2.5 .3M149 22.6l-2.5 0M153.9 22.6l-2.2-.7M158.8 22.6l-2.1-.5M163.7 22.6l-1.6-1M168.6 22.6l-1.2-.7M173.5 22.6l-1.2-.9M178.4 22.6l-.9-.7M36.3 27.5l.6-.8M41.2 27.5l.9-1.2M46.1 27.5l1.1-1.4M51 27.5l1.6-1.6M55.9 27.5l2.3-1.5M60.8 27.5l3-1.5M65.7 27.5l3.7-1.1M70.6 27.5l4.4-.9M75.5 27.5l4.6 .2M80.4 27.5l4.4 .9M85.3 27.5l3.5 1.7M90.2 27.5l3 2.3M95.1 27.5l1.9 3.2M100 27.5l1.6 4.5M104.9 27.5l1 5.3M109.8 27.5l.5 5.9M114.7 27.5l.3 6.7M119.6 27.5l-.8 5.4M124.5 27.5l-1.5 4.4M129.4 27.5l-2.1 3.2M134.3 27.5l-2.6 2M139.2 27.5l-3.3 1.2M144.1 27.5l-3.6 .7M149 27.5l-4-.1M153.9 27.5l-3.2-.7M158.8 27.5l-3.1-1.1M163.7 27.5l-2.3-1.5M168.6 27.5l-1.8-1.7M173.5 27.5l-1.1-1.1M178.4 27.5l-.8-1M193.1 27.5l-.6-.8M36.3 32.4l.1-1M41.2 32.4l.8-1M46.1 32.4l1.4-1.5M51 32.4l1.9-2M55.9 32.4l2.8-2.2M60.8 32.4l3.8-2.2M65.7 32.4l5-2.1M70.6 32.4l5.7-1M75.5 32.4l6 .1M80.4 32.4l5.8 1.3M85.3 32.4l5.1 2.3M90.2 32.4l3.9 3.1M95.1 32.4l3 4.2M100 32.4l2.2 5.3M104.9 32.4l.8 6.6M109.8 32.4l.1 7.4M114.7 32.4l-.5 7.5M119.6 32.4l-1.2 6.5M124.5 32.4l-2.1 5.2M129.4 32.4l-3 4.4M134.3 32.4l-3.8 2.9M139.2 32.4l-4.5 1.7M144.1 32.4l-5.3 .7M149 32.4l-5.4 0M153.9 32.4l-4.9-1.3M158.8 32.4l-4.2-1.8M163.7 32.4l-3.4-1.8M168.6 32.4l-2.7-1.8M173.5 32.4l-1.5-1.3M178.4 32.4l-1-1.3M183.3 32.4l-.8-.8M188.2 32.4l-.4-.9M193.1 32.4l-.7-.6M36.3 37.3l.5-1.1M41.2 37.3l.8-1.8M46.1 37.3l1.3-2.5M51 37.3l2.2-2.9M55.9 37.3l3.4-3.5M60.8 37.3l4.9-3.8M65.7 37.3l6.7-3.2M70.6 37.3l7.6-2.2M75.5 37.3l7.9 0M80.4 37.3l7.8 1.8M85.3 37.3l6.6 3.3M90.2 37.3l5 4.6M95.1 37.3l3.8 5.6M100 37.3l2.5 6.2M104.9 37.3l1.1 7.7M109.8 37.3l.1 8.7M114.7 37.3l-.7 8.8M119.6 37.3l-1.6 7.9M124.5 37.3l-2.4 6.6M129.4 37.3l-3.7 5.3M134.3 37.3l-5.1 4.4M139.2 37.3l-6.2 2.7M144.1 37.3l-7 1M149 37.3l-7.1-.3M153.9 37.3l-6.4-1.5M158.8 37.3l-5.4-2.9M163.7 37.3l-4.1-3M168.6 37.3l-3.1-2.9M173.5 37.3l-2.1-2.5M178.4 37.3l-1.3-2.1M183.3 37.3l-1.3-1.4M188.2 37.3l-.8-1.1M193.1 37.3l-.7-1M31.4 42.2l.1-1.1M36.3 42.2l.4-1.5M41.2 42.2l.9-2.4M46.1 42.2l1.4-3.3M51 42.2l2.2-4.3M55.9 42.2l3.6-5.2M60.8 42.2l5.2-5M65.7 42.2l7.2-4.6M70.6 42.2l8.5-2.7M75.5 42.2l9.2-.2M80.4 42.2l8.9 2.9M85.3 42.2l7.6 4.9M90.2 42.2l5.5 6.3M95.1 42.2l3.8 7.1M100 42.2l2.3 8M104.9 42.2l1.3 9M109.8 42.2l.2 9.9M114.7 42.2l-.7 10M119.6 42.2l-1.8 9.3M124.5 42.2l-2.9 8M129.4 42.2l-4.6 7M134.3 42.2l-6.1 5.6M139.2 42.2l-7.7 4.2M144.1 42.2l-8.8 1.7M149 42.2l-8.9-1.1M153.9 42.2l-8-3.1M158.8 42.2l-6.4-4M163.7 42.2l-4.8-4.3M168.6 42.2l-3.5-3.9M173.5 42.2l-2.1-3.1M178.4 42.2l-1.3-2.7M183.3 42.2l-.9-2.2M188.2 42.2l-.4-1.4M193.1 42.2l-.3-1M31.4 47.1l-.2-1.2M36.3 47.1l0-1.8M41.2 47.1l.2-2.7M46.1 47.1l.8-3.7M51 47.1l1.9-5.4M55.9 47.1l3.1-6.5M60.8 47.1l4.6-7M65.7 47.1l6.6-6.5M70.6 47.1l8.1-4M75.5 47.1l9.3-.3M80.4 47.1l8.4 3.9M85.3 47.1l7 6.9M90.2 47.1l4.9 8.2M95.1 47.1l3.5 8.7M100 47.1l2.1 9.5M104.9 47.1l1.1 10.4M109.8 47.1l.1 11.2M114.7 47.1l-.9 11.3M119.6 47.1l-1.6 10.6M124.5 47.1l-2.9 10.1M129.4 47.1l-4.3 8.6M134.3 47.1l-6.5 7.7M139.2 47.1l-8.4 5.7M144.1 47.1l-9.5 2.5M149 47.1l-9.5-1.2M153.9 47.1l-8.4-3.8M158.8 47.1l-6.5-5.7M163.7 47.1l-5.3-6.1M168.6 47.1l-3.1-5.4M173.5 47.1l-1.8-4.2M178.4 47.1l-1.3-3.3M183.3 47.1l-.8-2.1M188.2 47.1l-.5-1.6M31.4 52l-.1-1.4M36.3 52l-.3-2M41.2 52l-.2-3.1M46.1 52l0-4.5M51 52l.5-6.3M55.9 52l1.7-7.6M60.8 52l3-9M65.7 52l3.9-8.2M70.6 52l5.3-5.2M75.5 52l6-.2M80.4 52l5.8 4.7M85.3 52l4.6 8.5M90.2 52l3.4 9.8M95.1 52l2.2 10.3M100 52l1.4 10.7M104.9 52l.2 11.2M109.8 52l-.2 12.2M114.7 52l-.8 12.2M119.6 52l-1.4 11.8M124.5 52l-2.2 11.2M129.4 52l-3.5 10.7M134.3 52l-5.1 9.5M139.2 52l-6.6 7.1M144.1 52l-7.7 3M149 52l-7.9-1.8M153.9 52l-7.2-5.4M158.8 52l-5.6-7.4M163.7 52l-4-7.9M168.6 52l-3-6.8M173.5 52l-1.7-5.3M178.4 52l-1.2-3.6M183.3 52l-.3-2.5M188.2 52l-.4-1.7M193.1 52l-.1-1.3M31.4 56.9l-.3-1.2M36.3 56.9l-1-1.5M41.2 56.9l-1-3M46.1 56.9l-.9-4.7M51 56.9l-.6-6.5M55.9 56.9l-.5-8.6M60.8 56.9l.1-9.8M65.7 56.9l.3-9.1M70.6 56.9l.4-5.8M75.5 56.9l.6-.7M80.4 56.9l.7 5.1M85.3 56.9l.1 9.2M90.2 56.9l.4 10.8M95.1 56.9l.2 10.9M100 56.9l.1 11.1M104.9 56.9l-.1 12M109.8 56.9l-.1 12.5M114.7 56.9l-.3 13M119.6 56.9l-.6 12.9M124.5 56.9l-1.1 12.2M129.4 56.9l-1.9 11.9M134.3 56.9l-2.6 10.6M139.2 56.9l-3.4 8.4M144.1 56.9l-4.1 3.6M149 56.9l-3.9-2.1M153.9 56.9l-3.2-6.7M158.8 56.9l-2.8-9M163.7 56.9l-1.9-9.1M168.6 56.9l-1.2-7.5M173.5 56.9l-.7-5.8M178.4 56.9l-.5-4.2M183.3 56.9l-.3-2.7M188.2 56.9l-.5-2.1M193.1 56.9l0-1.3M198 56.9l-.1-1M36.3 61.8l-1.2-1.4M41.2 61.8l-1.8-2.7M46.1 61.8l-1.8-4.3M51 61.8l-2.5-6.1M55.9 61.8l-3.1-8M60.8 61.8l-3.6-9.7M65.7 61.8l-4.5-8.9M70.6 61.8l-4.9-5.9M75.5 61.8l-5-.5M80.4 61.8l-4.8 4.9M85.3 61.8l-4 8.3M90.2 61.8l-2.5 10.4M95.1 61.8l-1.6 10.6M100 61.8l-1 11.1M104.9 61.8l-.6 11.6M109.8 61.8l-.4 12.4M114.7 61.8l-.3 12.9M119.6 61.8l.2 13M124.5 61.8l.4 12.5M129.4 61.8l.7 12.2M134.3 61.8l.9 10.9M139.2 61.8l1.2 8.8M144.1 61.8l1.6 3.7M149 61.8l1.8-1.8M153.9 61.8l1.4-6.5M158.8 61.8l1.2-9M163.7 61.8l.7-9.3M168.6 61.8l.6-7.9M173.5 61.8l.2-6.2M178.4 61.8l.2-4.2M183.3 61.8l.2-2.8M188.2 61.8l0-2M193.1 61.8l-.1-1.3M41.2 66.7l-1.7-1.5M46.1 66.7l-2.8-3.5M51 66.7l-3.9-5.3M55.9 66.7l-5-7.2M60.8 66.7l-6.4-8.4M65.7 66.7l-7.9-7.7M70.6 66.7l-8.8-4.9M75.5 66.7l-9.3-.8M80.4 66.7l-8.5 3.9M85.3 66.7l-6.7 7.3M90.2 66.7l-5.1 9.1M95.1 66.7l-3.5 9.6M100 66.7l-2 10.1M104.9 66.7l-1.3 11.2M109.8 66.7l-.7 12M114.7 66.7l.2 12.5M119.6 66.7l.8 12.1M124.5 66.7l1.9 12.1M129.4 66.7l2.9 11M134.3 66.7l4.2 10.2M139.2 66.7l5.8 8M144.1 66.7l6.7 3.7M149 66.7l6.7-1.8M153.9 66.7l5.9-6M158.8 66.7l4.6-8.5M163.7 66.7l3.3-8.1M168.6 66.7l2.2-6.9M173.5 66.7l1.3-5.5M178.4 66.7l.9-3.9M183.3 66.7l.2-2.6M188.2 66.7l-.1-1.9M193.1 66.7l.3-1.3M46.1 71.6l-1.4-.9M51 71.6l-4-3.5M55.9 71.6l-5.8-5.5M60.8 71.6l-7.4-6.7M65.7 71.6l-9.3-6.3M70.6 71.6l-10.1-4.3M75.5 71.6l-10.7-1.3M80.4 71.6l-9.7 2.7M85.3 71.6l-8.1 5.2M90.2 71.6l-6.1 6.8M95.1 71.6l-4.3 7.8M100 71.6l-2.7 8.5M104.9 71.6l-1.1 10.2M109.8 71.6l-.5 10.9M114.7 71.6l.7 11.7M119.6 71.6l1.3 11.3M124.5 71.6l2.8 10.3M129.4 71.6l4.3 9.8M134.3 71.6l5.9 8.5M139.2 71.6l7.9 5.9M144.1 71.6l9 2.6M149 71.6l9.4-1.5M153.9 71.6l8.2-4.9M158.8 71.6l6.4-7M163.7 71.6l4.8-6.8M168.6 71.6l3.3-6M173.5 71.6l2.1-4.5M178.4 71.6l1-3.5M183.3 71.6l.9-2.2M188.2 71.6l.6-2M193.1 71.6l-.1-1.2M198 71.6l.6-.7M51 76.5l2.2 1M55.9 76.5l-3.5-2.4M60.8 76.5l-6.5-4.5M65.7 76.5l-8.7-4.9M70.6 76.5l-9.3-3.8M75.5 76.5l-9.7-1.4M80.4 76.5l-9.2 1.1M85.3 76.5l-7.4 3.2M90.2 76.5l-5.8 4.8M95.1 76.5l-4 5.9M100 76.5l-2.1 7.1M104.9 76.5l-1.6 8.4M109.8 76.5l0 9.9M114.7 76.5l.5 10.1M119.6 76.5l1.9 9.7M124.5 76.5l3 8.8M129.4 76.5l4.5 7.6M134.3 76.5l6.5 6.5M139.2 76.5l8.1 4.6M144.1 76.5l9.2 2M149 76.5l9.2-.8M153.9 76.5l8.2-3.5M158.8 76.5l7-4.9M163.7 76.5l5-5M168.6 76.5l3.6-4.7M173.5 76.5l2.1-3.6M178.4 76.5l1.3-2.8M183.3 76.5l.6-2.1M188.2 76.5l.6-1.5M193.1 76.5l.3-.9M198 76.5l.2-1M65.7 81.4l-5.4-2.8M70.6 81.4l-7-2.8M75.5 81.4l-7.8-1.8M80.4 81.4l-7.5 0M85.3 81.4l-6 1.4M90.2 81.4l-4.5 3M95.1 81.4l-3.4 4.3M100 81.4l-2 5.7M104.9 81.4l-1 7.3M109.8 81.4l.1 8.7M114.7 81.4l.5 8.8M119.6 81.4l1.6 8.3M124.5 81.4l2.7 7.3M129.4 81.4l4.1 6M134.3 81.4l5.5 4.5M139.2 81.4l7.1 2.9M144.1 81.4l7.9 1.4M149 81.4l7.9-.6M153.9 81.4l7.2-2M158.8 81.4l6-3.4M163.7 81.4l4.3-3.6M168.6 81.4l3.1-3.2M173.5 81.4l2.2-2.6M178.4 81.4l1.3-2M183.3 81.4l1.2-1.7M188.2 81.4l.6-1.2M70.6 86.3l-2.1-.9M75.5 86.3l-4.8-1.8M80.4 86.3l-4.9-.4M85.3 86.3l-4.4 .5M90.2 86.3l-3.8 1.8M95.1 86.3l-2.5 2.6M100 86.3l-1.7 4.1M104.9 86.3l-.8 5.9M109.8 86.3l0 7M114.7 86.3l.8 7.8M119.6 86.3l1.5 6.9M124.5 86.3l2.4 5.8M129.4 86.3l3.2 4.6M134.3 86.3l4.4 3.5M139.2 86.3l5.3 2M144.1 86.3l6 1M149 86.3l6.1-.3M153.9 86.3l5.1-1.3M158.8 86.3l4.8-2.1M163.7 86.3l3.8-2.4M168.6 86.3l2.6-2.1M173.5 86.3l2-2M178.4 86.3l1.6-1.3M183.3 86.3l.8-1.3M188.2 86.3l.5-.9M75.5 91.2l1.2 1.1M80.4 91.2l-1.9-1M85.3 91.2l-2.6-.7M90.2 91.2l-2.2 .5M95.1 91.2l-1.8 1.5M100 91.2l-.8 3.2M104.9 91.2l-.5 4.6M109.8 91.2l.4 5.8M114.7 91.2l.8 6.2M119.6 91.2l1.4 5.8M124.5 91.2l2 4.5M129.4 91.2l2.6 3.3M134.3 91.2l3.3 2.3M139.2 91.2l3.9 1.7M144.1 91.2l4.2 1M149 91.2l4.3-.3M153.9 91.2l4.1-.6M158.8 91.2l3.7-1.4M163.7 91.2l2.8-1.4M168.6 91.2l2.3-1.3M173.5 91.2l1.5-1.2M178.4 91.2l1.1-1M183.3 91.2l.6-.7M188.2 91.2l.6-.7M90.2 96.1l-1.3 0M95.1 96.1l-.7 .7M100 96.1l-.5 1.9M104.9 96.1l0 3.5M109.8 96.1l.6 4.4M114.7 96.1l.8 5.4M119.6 96.1l1.1 4.5M124.5 96.1l1.6 3.5M129.4 96.1l1.8 2.7M134.3 96.1l2.2 1.5M139.2 96.1l2.8 1.1M144.1 96.1l2.6 .3M149 96.1l2.9 0M153.9 96.1l3-.5M158.8 96.1l2.5-.9M163.7 96.1l1.9-.8M168.6 96.1l1.4-.8M173.5 96.1l1-1M178.4 96.1l.8-.6M104.9 101l.7 1.9M109.8 101l1 3.2M114.7 101l.8 3.6M119.6 101l.9 3.5M124.5 101l1 2.8M129.4 101l1.5 2M134.3 101l1.9 1.3M139.2 101l2 .4M144.1 101l2.1 .4M149 101l2.2 .1M153.9 101l2-.2M158.8 101l1.6-.4M163.7 101l1.3-.7M168.6 101l1.4-.6M173.5 101l.8-.6M104.9 105.9l.8 .5M109.8 105.9l.8 1.5M114.7 105.9l.8 2.5M119.6 105.9l.8 2.6M124.5 105.9l1.1 2.1M129.4 105.9l1 1.5M134.3 105.9l1.4 .8M139.2 105.9l1.4 .5M144.1 105.9l1.3 .2M149 105.9l1.3-.1M153.9 105.9l1.1-.1M158.8 105.9l1.1-.3M168.6 105.9l.8-.6M114.7 110.8l.6 1.1M119.6 110.8l1 1.9M124.5 110.8l1 1.4M129.4 110.8l.7 1.1M134.3 110.8l.8 .7M144.1 110.8l1 .3M149 110.8l.9 0M124.5 115.7l.6 .7M134.3 115.7l.7 .7" fill="none" stroke="#000" stroke-width=".62" stroke-opacity=".85"/>
<path d="M109.7 10.7L109.2 9.5L110.2 9.5zM114.7 10.9L114.2 9.6L115.2 9.6zM105.1 15.7L104.5 14.4L105.5 14.4zM110.1 16.1L109.4 14.8L110.5 14.7zM114.4 16.3L114 14.8L115.1 14.9zM119.2 15.7L118.9 14.4L119.9 14.5zM100.8 20.5L100 19.4L100.9 19.2zM105.3 21.4L104.6 20L105.7 19.8zM110.1 21.9L109.3 20.3L110.6 20.3zM114.4 22L113.9 20.3L115.1 20.4zM119.3 21.4L118.9 19.8L120 19.9zM123.6 20.5L123.5 19.1L124.5 19.4zM68.3 21.9L67.2 22.7L67 21.8zM73.2 22.3L72 22.9L71.9 22zM78.5 22.5L77.2 23L77.2 22zM83.3 23L81.9 23.3L82.1 22.3zM87.9 23.6L86.6 23.6L86.9 22.7zM96.6 25L95.5 24.2L96.3 23.7zM100.8 25.9L99.9 24.7L101 24.4zM105.4 26.9L104.6 25.3L105.9 25.2zM110.2 27.7L109.4 25.8L110.8 25.7zM114.5 28L113.9 26L115.3 26zM119.2 27L118.7 25.3L120 25.4zM123.6 25.9L123.5 24.4L124.5 24.7zM127.7 25.2L128 23.8L128.9 24.3zM58.2 26L57.4 27.1L56.9 26.3zM63.8 26L62.8 27.1L62.3 26.2zM69.4 26.4L68.1 27.4L67.7 26.3zM75 26.6L73.4 27.6L73.2 26.3zM80.1 27.7L78.3 28.3L78.4 27zM84.8 28.4L83 28.7L83.2 27.4zM88.8 29.2L87.2 29.1L87.7 28zM93.2 29.8L91.6 29.3L92.3 28.4zM97 30.7L95.7 29.7L96.7 29.1zM101.6 32L100.4 30.5L101.7 30.1zM105.9 32.8L104.8 31L106.3 30.7zM110.3 33.4L109.3 31.4L110.9 31.3zM115 34.2L114 31.9L115.7 31.8zM118.8 32.9L118.4 30.8L119.9 31zM123 31.9L123 30L124.2 30.5zM127.3 30.7L127.7 29.1L128.6 29.7zM131.7 29.5L132.5 28.2L133.1 29.1zM135.9 28.7L137.1 27.7L137.5 28.7zM140.5 28.2L141.9 27.3L142.1 28.4zM145 27.4L146.6 26.9L146.6 28.1zM150.7 26.8L152.2 26.6L152 27.6zM155.7 26.4L157.2 26.4L156.8 27.4zM161.4 26L162.7 26.3L162.2 27.1zM52.9 30.4L52.4 31.7L51.7 31zM58.7 30.2L57.9 31.5L57.2 30.7zM64.6 30.2L63.5 31.6L62.8 30.5zM70.7 30.3L69.2 31.7L68.6 30.4zM76.3 31.4L74.4 32.5L74.1 31zM81.5 32.5L79.4 33.2L79.4 31.6zM86.2 33.7L84 34L84.3 32.5zM90.4 34.7L88.3 34.6L88.9 33.2zM94.1 35.5L92.2 34.9L93.1 33.8zM98.1 36.6L96.4 35.5L97.6 34.6zM102.2 37.7L100.7 36.1L102.1 35.5zM105.7 39L104.5 36.9L106.3 36.6zM109.9 39.8L108.9 37.3L110.8 37.3zM114.2 39.9L113.4 37.3L115.3 37.5zM118.4 38.9L118 36.5L119.7 36.8zM122.4 37.6L122.4 35.5L123.8 36zM126.4 36.8L126.9 34.8L128.1 35.6zM130.5 35.3L131.5 33.7L132.3 34.8zM134.7 34.1L136.2 32.8L136.6 34.1zM138.8 33.1L140.6 32.1L140.8 33.6zM143.6 32.4L145.6 31.7L145.6 33.2zM149 31.1L151 30.9L150.6 32.3zM154.6 30.6L156.5 30.7L155.9 31.9zM160.3 30.6L161.9 30.8L161.3 31.8zM165.9 30.6L167.3 30.9L166.7 31.8zM47.4 34.8L47.2 36.2L46.4 35.7zM53.2 34.4L52.8 35.9L51.9 35.2zM59.3 33.8L58.5 35.6L57.5 34.6zM65.7 33.5L64.5 35.5L63.5 34.2zM72.4 34.1L70.6 36.1L69.8 34.3zM78.2 35.1L76.1 36.7L75.6 34.9zM83.4 37.3L80.9 38.3L80.9 36.4zM88.2 39.1L85.5 39.5L85.9 37.6zM91.9 40.6L89.3 40.3L90.1 38.6zM95.2 41.9L92.9 41L94.1 39.7zM98.9 42.9L96.9 41.4L98.3 40.4zM102.5 43.5L100.8 41.7L102.4 41.1zM106 45L104.7 42.7L106.6 42.4zM109.9 46L108.9 43.5L110.8 43.5zM114 46.1L113.2 43.5L115.1 43.7zM118 45.2L117.6 42.5L119.4 42.9zM122.1 43.9L122.1 41.3L123.8 41.9zM125.7 42.6L126.3 40.3L127.7 41.3zM129.2 41.7L130.4 39.5L131.5 40.8zM133 40L134.8 38.3L135.5 39.9zM137.1 38.3L139.4 37.1L139.6 38.9zM141.9 37L144.4 36.2L144.3 38zM147.5 35.8L149.9 35.5L149.5 37.1zM153.4 34.4L155.7 34.7L154.9 36.2zM159.6 34.3L161.5 34.8L160.6 36zM165.5 34.4L167.1 35.1L166.3 36zM171.4 34.8L172.7 35.6L171.9 36.2zM47.5 38.9L47.4 40.5L46.4 40.1zM53.2 37.9L53 39.8L51.8 39.2zM59.5 37L58.9 39.3L57.6 38.3zM66 37.2L64.9 39.5L63.6 38.2zM72.9 37.6L71.3 39.7L70.3 38.1zM79.1 39.5L77 41.1L76.4 39.3zM84.7 42L82.2 43L82.2 41.1zM89.3 45.1L86.6 45.2L87.2 43.4zM92.9 47.1L90.3 46.5L91.3 44.9zM95.7 48.5L93.3 47.3L94.8 46zM98.9 49.3L96.9 47.6L98.6 46.7zM102.3 50.2L100.7 48.1L102.6 47.5zM106.2 51.2L104.9 48.8L106.8 48.6zM110 52.1L109 49.6L110.9 49.6zM114 52.2L113.2 49.7L115.1 49.8zM117.8 51.5L117.3 48.9L119.2 49.3zM121.6 50.2L121.6 47.6L123.3 48.2zM124.8 49.2L125.4 46.6L127 47.6zM128.2 47.8L129.4 45.4L130.7 46.8zM131.5 46.4L133.2 44.3L134.1 46zM135.3 43.9L137.5 42.5L137.9 44.4zM140.1 41.1L142.7 40.5L142.5 42.4zM145.9 39.1L148.6 39.1L147.9 40.9zM152.4 38.2L155 38.7L154 40.3zM158.9 37.9L161.1 38.8L160 40zM165.1 38.3L166.9 39.3L165.9 40.2zM171.4 39.1L172.7 40L171.8 40.7zM177.1 39.5L178.1 40.5L177.2 40.9zM41.4 44.4L41.8 45.7L40.8 45.6zM46.9 43.4L47.2 45L46 44.7zM52.9 41.7L53 43.9L51.5 43.4zM59 40.6L58.8 43.2L57.1 42.4zM65.4 40.1L64.8 42.7L63.3 41.6zM72.3 40.6L71.2 43L69.9 41.7zM78.7 43.1L76.9 45L76 43.3zM84.8 46.8L82.3 47.8L82.3 45.9zM88.8 51L86.2 50.8L87 49.1zM92.3 54L89.9 52.9L91.2 51.5zM95.1 55.3L93 53.6L94.6 52.6zM98.6 55.8L96.8 53.8L98.5 53.1zM102.1 56.6L100.7 54.4L102.5 54zM106 57.5L104.8 55.1L106.6 54.9zM109.9 58.3L109 55.8L110.9 55.8zM113.8 58.4L113.1 55.8L115 56zM118 57.7L117.4 55.1L119.3 55.3zM121.6 57.2L121.4 54.5L123.2 55zM125.1 55.7L125.3 53L127 53.9zM127.8 54.8L128.7 52.3L130.2 53.5zM130.8 52.8L132.4 50.6L133.4 52.2zM134.6 49.6L136.8 48L137.3 49.8zM139.5 45.9L142.1 45.3L141.9 47.2zM145.5 43.3L148.2 43.5L147.4 45.2zM152.3 41.4L154.8 42.3L153.5 43.7zM158.4 41L160.8 42.3L159.4 43.5zM165.5 41.7L167.3 43.2L165.8 44zM171.7 42.9L173 44.2L171.8 44.8zM177.1 43.8L178.1 45L177.1 45.4zM41 48.9L41.6 50.2L40.6 50.2zM46.1 47.5L46.8 49.2L45.4 49.2zM51.5 45.7L52.2 48L50.5 47.9zM57.6 44.4L58 47.1L56.1 46.6zM63.8 43L63.9 45.6L62.1 45zM69.6 43.8L69.4 46.5L67.7 45.6zM75.9 46.8L74.7 49.2L73.4 47.9zM81.5 51.8L79.4 52.7L79.3 51.1zM86.2 56.7L83.7 55.8L84.9 54.4zM89.9 60.5L87.8 58.7L89.5 57.8zM93.6 61.8L91.9 59.7L93.7 59.1zM97.3 62.3L95.9 60.1L97.7 59.7zM101.4 62.7L100.2 60.3L102 60.1zM105.1 63.2L104.1 60.7L106 60.7zM109.6 64.2L108.7 61.7L110.6 61.7zM113.9 64.2L113.2 61.6L115.1 61.7zM118.2 63.8L117.5 61.2L119.4 61.5zM122.3 63.2L121.9 60.6L123.7 60.9zM125.9 62.7L125.8 60.1L127.6 60.7zM129.2 61.5L129.5 58.8L131.2 59.7zM132.6 59.1L133.6 56.6L135 57.9zM136.4 55L138.4 53.2L139.1 55zM141.1 50.2L143.8 49.8L143.3 51.7zM146.7 46.6L149.3 47.3L148.2 48.8zM153.2 44.6L155.5 46L154 47.1zM159.7 44.1L161.7 45.9L160 46.8zM165.6 45.2L167.5 47.1L165.8 47.9zM171.8 46.7L173.1 48.3L171.7 48.8zM177.2 48.4L178.3 49.6L177.2 50zM40.2 53.9L41.1 55L40.2 55.3zM45.2 52.2L46.2 53.8L44.9 54.1zM50.4 50.4L51.4 52.6L49.7 52.7zM55.4 48.3L56.5 50.7L54.6 50.9zM60.9 47.1L61.8 49.6L59.9 49.6zM66 47.8L66.9 50.4L65 50.3zM71 51.1L71.6 53.2L70.1 53.1zM81.1 62L80.1 60.2L81.5 60.1zM85.4 66.1L84.5 63.6L86.4 63.6zM90.6 67.7L89.5 65.3L91.4 65.2zM95.3 67.8L94.3 65.3L96.2 65.3zM100.1 68L99.2 65.5L101.1 65.5zM104.8 68.9L103.9 66.4L105.8 66.4zM109.7 69.4L108.8 66.9L110.7 66.9zM114.4 69.9L113.5 67.4L115.4 67.4zM119 69.8L118.2 67.2L120.1 67.3zM123.4 69.1L122.7 66.5L124.5 66.7zM127.5 68.8L127 66.2L128.9 66.5zM131.7 67.5L131.4 64.9L133.2 65.3zM135.8 65.3L135.8 62.7L137.6 63.4zM140 60.5L141 58.6L142 59.7zM145.1 54.8L146.9 55L146.3 56.2zM150.7 50.2L152.6 52.1L150.9 52.9zM156 47.9L157.6 50L155.8 50.5zM161.8 47.8L163.2 50L161.4 50.4zM167.4 49.4L168.7 51.7L166.9 52zM172.8 51.1L173.8 53L172.2 53.2zM177.9 52.7L178.7 54.2L177.5 54.4zM183 54.2L183.6 55.4L182.7 55.4zM39.4 59.1L40.6 60L39.7 60.5zM44.3 57.5L45.6 58.9L44.4 59.4zM48.5 55.7L50.2 57.5L48.6 58.1zM52.8 53.8L54.6 55.8L52.8 56.4zM57.2 52.1L58.9 54.1L57.1 54.8zM61.2 52.9L63.2 54.7L61.5 55.6zM65.7 55.9L68.1 57.2L66.6 58.4zM70.5 61.3L72.4 60.8L72.3 62.2zM75.6 66.7L76.6 64.4L77.9 65.6zM81.3 70.1L81.5 67.4L83.2 68.3zM87.7 72.2L87.3 69.5L89.2 70zM93.5 72.4L92.9 69.8L94.8 70.1zM99 72.9L98.3 70.3L100.2 70.5zM104.3 73.4L103.5 70.9L105.4 71zM109.4 74.2L108.5 71.7L110.4 71.8zM114.4 74.7L113.5 72.2L115.4 72.2zM119.8 74.8L118.8 72.3L120.7 72.2zM124.9 74.3L123.9 71.8L125.8 71.8zM130.1 74L129 71.5L130.9 71.4zM135.2 72.7L134.1 70.3L135.9 70.1zM140.4 70.6L139.1 68.2L141 68zM145.7 65.5L144.5 64.3L145.7 63.8zM155.3 55.3L155.7 57.7L153.9 57.4zM160 52.8L160.6 55.4L158.7 55.2zM164.4 52.5L165.2 55.1L163.3 55zM169.2 53.9L170 56.4L168.1 56.3zM173.7 55.6L174.5 57.8L172.8 57.8zM178.6 57.6L179.1 59.3L177.9 59.2zM183.5 59L183.9 60.3L182.9 60.3zM43.3 63.2L44.9 64.1L43.9 64.9zM47.1 61.4L49.1 62.7L47.8 63.8zM50.9 59.5L53.1 61L51.5 62.1zM54.4 58.3L56.7 59.7L55.2 60.8zM57.8 59L60.3 60L58.9 61.4zM61.8 61.8L64.4 62.2L63.5 63.8zM66.2 65.9L68.8 65.2L68.7 67.1zM71.9 70.6L73.8 68.7L74.6 70.4zM78.6 74L79.6 71.5L81 72.8zM85.1 75.8L85.5 73.1L87.1 74zM91.6 76.3L91.6 73.7L93.3 74.3zM98 76.8L97.5 74.1L99.4 74.5zM103.6 77.9L103 75.3L104.9 75.5zM109.1 78.7L108.3 76.1L110.2 76.2zM114.9 79.2L113.9 76.7L115.8 76.7zM120.4 78.8L119.3 76.4L121.2 76.3zM126.4 78.8L125.1 76.5L127 76.2zM132.3 77.7L130.7 75.5L132.6 75zM138.5 76.9L136.6 75L138.4 74.2zM145 74.7L142.7 73.2L144.3 72.1zM150.8 70.4L148.1 70L149 68.3zM155.7 64.9L153.6 66.4L153.2 64.7zM159.8 60.7L158.7 63.2L157.4 61.8zM163.4 58.2L163 60.9L161.4 60zM167 58.6L167 61.3L165.2 60.6zM170.8 59.8L170.9 62.4L169.2 61.9zM174.8 61.2L175.1 63.4L173.6 63zM179.3 62.8L179.5 64.4L178.4 64.2zM183.5 64.1L183.8 65.3L182.9 65.3zM47 68.1L49 68.8L48 69.9zM50.1 66.1L52.6 67.1L51.3 68.5zM53.4 64.9L55.9 65.9L54.7 67.3zM56.4 65.3L59 65.9L57.9 67.5zM60.5 67.3L63.1 67.4L62.4 69.1zM64.8 70.3L67.4 69.6L67.2 71.5zM70.7 74.3L72.8 72.7L73.3 74.5zM77.2 76.8L78.8 74.6L79.9 76.2zM84.1 78.4L85.1 75.9L86.5 77.1zM90.8 79.4L91.2 76.7L92.8 77.6zM97.3 80.1L97.1 77.5L99 78.1zM103.8 81.8L103.1 79.2L105 79.4zM109.3 82.5L108.5 80L110.4 80.1zM115.4 83.3L114.3 80.8L116.2 80.7zM120.9 82.9L119.7 80.5L121.5 80.3zM127.3 81.9L125.7 79.8L127.5 79.3zM133.7 81.4L131.8 79.5L133.5 78.7zM140.2 80.1L138 78.6L139.5 77.5zM147.1 77.5L144.5 76.8L145.6 75.3zM153.1 74.2L150.5 74.4L151 72.6zM158.4 70.1L156 71.4L155.8 69.6zM162.1 66.7L160.4 68.8L159.4 67.2zM165.2 64.6L164.2 67.1L162.8 65.8zM168.5 64.8L167.8 67.4L166.3 66.3zM171.9 65.6L171.6 68.1L170 67.2zM175.6 67.1L175.4 69L174.2 68.4zM179.4 68.1L179.6 69.7L178.5 69.3zM52.4 74.1L54.1 74.5L53.4 75.6zM54.3 72L56.9 72.6L55.8 74.2zM57 71.6L59.6 72L58.7 73.6zM61.3 72.7L64 72.8L63.3 74.5zM65.8 75.1L68.4 74.5L68.1 76.4zM71.2 77.6L73.6 76.4L73.8 78.3zM77.9 79.7L79.8 77.8L80.6 79.6zM84.4 81.3L85.8 78.9L87 80.4zM91.1 82.4L91.7 79.8L93.2 80.9zM97.9 83.6L97.7 80.9L99.5 81.5zM103.3 84.9L102.8 82.3L104.7 82.7zM109.8 86.4L108.8 83.8L110.7 83.9zM115.2 86.6L114.2 84.1L116.1 84zM121.5 86.2L120.1 84L121.9 83.6zM127.5 85.3L125.8 83.2L127.6 82.6zM133.9 84.1L131.8 82.5L133.4 81.5zM140.8 83L138.3 81.9L139.7 80.5zM147.3 81.1L144.6 80.7L145.6 79.1zM153.3 78.5L150.6 78.9L151 77zM158.2 75.7L155.8 76.8L155.7 74.9zM162.1 73L160.2 74.9L159.4 73.1zM165.8 71.6L164.3 73.8L163.2 72.3zM168.7 71.5L167.6 73.8L166.3 72.5zM172.2 71.8L171.6 74L170.3 73zM175.6 72.9L175.3 74.6L174.2 74zM179.7 73.7L179.6 75.2L178.7 74.7zM60.3 78.6L62.6 78.8L61.8 80.3zM63.6 78.6L66.3 78.6L65.6 80.4zM67.7 79.6L70.4 79.2L70 81.1zM72.9 81.4L75.4 80.4L75.4 82.3zM79.3 82.8L81.2 81.5L81.6 83.1zM85.7 84.4L86.9 82.7L87.7 83.9zM91.7 85.7L92.3 83.7L93.5 84.6zM98 87.1L98 84.8L99.5 85.3zM103.9 88.7L103.3 86.1L105.2 86.3zM109.9 90.1L108.9 87.6L110.8 87.6zM115.2 90.2L114.1 87.8L116 87.7zM121.2 89.7L119.8 87.4L121.7 87zM127.2 88.7L125.4 86.7L127.2 86.1zM133.5 87.4L131.3 85.9L132.9 84.8zM139.8 85.9L137.3 85.1L138.5 83.7zM146.3 84.3L143.6 84.3L144.3 82.5zM152 82.8L149.4 83.3L149.7 81.5zM156.9 80.8L154.5 81.9L154.3 80zM161.1 79.4L158.9 81L158.4 79.2zM164.8 78L163.2 79.9L162.3 78.4zM168 77.8L167 79.7L166 78.5zM171.7 78.2L171 79.9L170.1 79zM175.7 78.8L175.2 80.2L174.3 79.6zM70.7 84.5L72.7 84.5L72.2 85.8zM75.5 85.9L77.4 85.3L77.3 86.7zM80.9 86.8L82.5 86L82.6 87.3zM86.4 88.1L87.6 86.8L88.1 87.9zM92.6 88.9L93.2 87.5L94 88.3zM98.3 90.4L98.4 88.6L99.6 89.1zM104.1 92.2L103.6 90L105.2 90.2zM109.8 93.3L108.9 90.9L110.7 90.9zM115.5 94.1L114.3 91.7L116.2 91.5zM121.1 93.2L119.7 91L121.5 90.6zM126.9 92.1L125.3 90.4L126.8 89.8zM132.6 90.9L130.8 89.7L132.1 88.8zM138.7 89.8L136.7 89.1L137.6 87.9zM144.5 88.3L142.3 88.3L142.9 86.9zM150.1 87.3L147.8 87.7L148.1 86.1zM155.1 86L153 86.9L152.9 85.3zM159 85L157.3 86.2L157 84.8zM163.6 84.2L162.2 85.6L161.6 84.3zM167.5 83.9L166.4 85.4L165.7 84.3zM171.2 84.2L170.4 85.5L169.8 84.7zM175.5 84.3L175 85.5L174.3 84.8zM82.7 90.5L84 90.3L83.7 91.2zM99.2 94.4L99 92.9L100 93.2zM104.4 95.8L103.9 94L105.2 94.1zM110.2 97L109.3 95L110.8 94.9zM115.5 97.4L114.4 95.3L116 95.1zM121 97L119.7 95.1L121.3 94.8zM126.5 95.7L125.1 94.3L126.4 93.8zM132 94.5L130.5 93.6L131.5 92.8zM137.6 93.5L135.9 93.1L136.6 92.1zM143.1 92.9L141.4 92.8L141.9 91.6zM148.3 92.2L146.5 92.4L146.8 91.2zM153.3 90.9L151.7 91.7L151.6 90.4zM158 90.6L156.5 91.4L156.3 90.2zM162.5 89.8L161.2 90.9L160.8 89.8zM166.5 89.8L165.5 90.8L165.1 89.9zM170.9 89.9L170 90.9L169.6 90.1zM104.9 99.6L104.3 98.2L105.4 98.2zM110.4 100.5L109.5 98.9L110.8 98.7zM115.5 101.5L114.4 99.7L115.9 99.5zM120.7 100.6L119.6 99.1L120.9 98.8zM126.1 99.6L124.9 98.5L126 98zM131.2 98.8L130 97.9L130.9 97.4zM136.5 97.6L135.2 97.3L135.7 96.5zM142 97.2L140.6 97.2L141 96.3zM146.7 96.4L145.4 96.7L145.5 95.8zM151.9 96.1L150.6 96.6L150.6 95.6zM156.9 95.6L155.6 96.3L155.5 95.4zM161.3 95.2L160.3 96L160 95.2zM110.8 104.2L109.9 103L110.9 102.7zM115.5 104.6L114.6 103.3L115.7 103.1zM120.5 104.5L119.6 103.2L120.7 102.9zM125.5 103.8L124.6 102.7L125.5 102.4zM115.5 108.4L114.7 107.4L115.6 107.1zM120.4 108.5L119.6 107.4L120.5 107.2z" fill="#000"/>
<polygon points="0,45 204.3,167.6 0,167.6" fill="#000"/>
<path d="M0 0h5M0 11.2h3.6M0 22.3h3.6M0 33.5h3.6M0 44.7h3.6M0 55.9h5M0 67h3.6M0 78.2h3.6M0 89.4h3.6M0 100.6h3.6M0 111.7h5M0 122.9h3.6M0 134.1h3.6M0 145.3h3.6M0 156.4h3.6M0 167.6h5M0 167.6v-5M11.2 167.6v-3.8M22.4 167.6v-3.8M33.7 167.6v-3.8M44.9 167.6v-3.8M56.1 167.6v-5M67.3 167.6v-3.8M78.5 167.6v-3.8M89.8 167.6v-3.8M101 167.6v-3.8M112.2 167.6v-5M123.4 167.6v-3.8M134.6 167.6v-3.8M145.9 167.6v-3.8M157.1 167.6v-3.8M168.3 167.6v-5M179.5 167.6v-3.8M190.7 167.6v-3.8M202 167.6v-3.8M213.2 167.6v-3.8M224.4 167.6v-5" stroke="#000" stroke-width=".8" fill="none"/>
</g>
<rect x="0" y="0" width="224.4" height="167.6" fill="none" stroke="#000" stroke-width="1.7"/>
<text x="-.3" y="181.8" font-size="12" fill="#000" text-anchor="middle">-2</text>
<text x="55.8" y="181.8" font-size="12" fill="#000" text-anchor="middle">-1</text>
<text x="112.2" y="181.8" font-size="12" fill="#000" text-anchor="middle">0</text>
<text x="168.3" y="181.8" font-size="12" fill="#000" text-anchor="middle">1</text>
<text x="224.4" y="181.8" font-size="12" fill="#000" text-anchor="middle">2</text>
<text x="-6.2" y="4.1" font-size="12" fill="#000" text-anchor="end">2</text>
<text x="-6.2" y="60" font-size="12" fill="#000" text-anchor="end">1</text>
<text x="-6.2" y="115.8" font-size="12" fill="#000" text-anchor="end">0</text>
<text x="-6.2" y="171.7" font-size="12" fill="#000" text-anchor="end">-1</text>
<text x="112.2" y="199.4" font-size="13" fill="#111" text-anchor="middle">x/d</text>
<text transform="translate(-15.8,84.1) rotate(-90)" font-size="13" fill="#111" text-anchor="middle">y/d</text>
<text x="6.2" y="15.4" font-size="12.8" fill="#111">(a) τ=0</text>
</g>
<text x="110" y="58.5" font-size="12.5" fill="#061006" text-anchor="middle" font-weight="bold">A</text>
<text x="180" y="58.5" font-size="12.5" fill="#061006" text-anchor="middle" font-weight="bold">B</text>
<text x="226" y="59.2" font-size="12.5" fill="#061006" text-anchor="middle">Primary</text>
<text x="226" y="73" font-size="12.5" fill="#061006" text-anchor="middle">vortex-ring</text>
<clipPath id="cb"><rect x="0" y="0" width="224.4" height="167.6"/></clipPath>
<g transform="translate(295.3,39.7)">
<g clip-path="url(#cb)">
<rect width="224.4" height="167.6" fill="#00ff00"/>
<path d="M68.8 61.4l.8-.3 .8 0 .8 .1 .8 .3 .8 .3 .8 .3 .8 .2 .6 .1 1 .2 .8 .2 .8 .3 .8 .3 .8 .3 .8 .3 .8 .4 .4 .4 .4 .5 .4 1.1 .2 .8 .1 .8 .2 .8 .1 .8 .1 .8 0 .8 .1 .8 0 .8 .1 .8 0 .8 .1 .8 .1 .8-.1 .8-.3 .8-.3 .5-.8 1-.8 .6-.7 .3-.9 .3-.8 .2-.8 .1-.8 .1-.7 .1-.9 .1-.8 .2-.8 .3-.6 .2-1 .5-.8 .3-.8 .2-.8-.1-.8-.7-.5-1-.3-.4-.6-1.2-.5-.8-.5-.7-.5-.9-.3-.8-.3-.8-.4-.8-.4-.8-.5-.7-.7-.9-.5-.8-.3-.8-.1-.8 .1-.8 .4-.8 .3-.6 .7-1 .7-.8 .7-.8 .7-.8 .4-.4 .4-.4 .4-.4 .4-.4 .4-.4 .6-.4z" fill="#0000ff" stroke="#2a4a7a" stroke-opacity=".8" stroke-width=".6"/>
<path d="M68.8 60.5l.8-.3 .8 0 .8 .1 .8 .3 .8 .3 .8 .3 .8 .2 .8 .1 .8 .1 .8 .1 .8 .1 .8 .1 .8 .1 .8 .1 .8 .2 .8 .3 .8 .6 .6 .8 .3 .8 .2 .8 .1 .8-.1 .8 0 .8 .1 .8 0 .8 .1 .8 .1 .8 .1 .8 .1 .8 .2 .8 .2 .8 .3 .8 .4 .8 .4 .8 .2 .8-.4 .8-.5 .3-.5 .5-1.1 .7-.8 .5-.8 .4-.8 .3-.8 .2-.8 .1-.8 .1-.7 .1-.9 .1-.8 0-.8 .2-.8 .2-.8 .2-.8 .4-.8 .4-.8 .4-.8 .2-.8-.2-.8-.8-.6-1.1-.4-.8-.3-.8-.3-.4-.7-1.2-.4-.8-.5-.8-.3-.8-.4-.8-.4-.8-.5-.7-.7-.9-.6-.8-.3-.5-.6-1.1-.2-.7 0-.9 .2-.8 .4-.8 .6-.8 .4-.5 .8-.9 .8-.9 .8-.8 .8-.8 .8-.8 .8-.7 .8-.5zM68.6 61.6l-.6 .4-.4 .4-.4 .4-.4 .4-.4 .4-.4 .4-.4 .5-.8 .8-.8 1-.7 .9-.4 .8-.4 .8-.1 .8 .1 .8 .3 .8 .4 .7 .7 .9 .6 .8 .3 .5 .5 1.1 .3 .8 .3 .8 .4 .8 .6 .8 .3 .6 .6 1 .5 .8 .4 .8 .8 .8 .9 .2 .8-.2 .8-.3 .8-.4 .8-.3 .8-.3 .8-.2 .8-.1 .8-.1 .8-.1 .8-.1 .8-.2 .8-.2 .8-.4 .7-.5 .7-.8 .5-.8 .3-.8 .1-.8-.1-.8-.1-.8 0-.8-.1-.8 0-.8-.1-.8 0-.8-.1-.8-.1-.8-.2-.8-.1-.8-.2-.8-.3-.8-.5-.8-.4-.4-.8-.4-.8-.3-.8-.3-.8-.3-.8-.3-.8-.2-.8-.2-.8-.1-.8-.2-.8-.3-.5-.2-1.1-.4-.8-.1-.8 0-.8 .3z" fill="#0050e0" stroke="#2a4a7a" stroke-opacity=".8" stroke-width=".6"/>
<path d="M68.8 59.6l.8-.3 .8 0 .8 .1 .8 .2 .8 .3 .8 .3 .8 .1 .8 .1 .8 0 .8 0 .8 .1 .8 .1 .8 0 .8 0 .8 0 .8 .1 .8 .4 .6 .5 .6 .8 .4 .6 .5 1 .3 .7 .2 .9 0 .8-.1 .8-.1 .8 0 .8 0 .8 .1 .8 .2 .8 .1 .8 .2 .8 .3 .8 .4 .8 .6 .8 .5 .5 .8 .7 .5 .4 .9 .8 .7 .8 .6 .8 .5 .6 .8 .8 .8 1-.2 .8-.6 .5-.7 .3-.9 0-.8-.1-.8-.3-.8-.3-.8-.3-.8-.3-.8-.2-.8 0-.8 .1-.8 .1-.8 .2-.8 .1-.8 .2-.8 .2-.8 .1-.8 0-.8 0-.8 0-.8 .1-.8 .1-.8 .2-.8 .3-.8 .4-.5 .2-1.1 .6-.8 .1-.8-.2-.5-.5-.5-.8-.4-.8-.3-.8-.3-.8-.4-.7-.4-.9-.4-.5-.6-1.1-.4-.8-.4-.8-.4-.8-.5-.8-.6-.8-.7-.8-.4-.5-.8-1.1-.5-.8-.3-.7-.2-.9 .1-.8 .4-.8 .5-.8 .7-.8 .7-.8 .8-.8 .8-.8 .8-.8 .7-.8 .9-.8 1-.8 .8-.4zM68.3 60.8l-1 .8-.8 .8-.8 .8-.8 .8-.8 .8-.7 .8-.6 .8-.4 .5-.6 1.1-.2 .8 0 .8 .2 .8 .4 .8 .5 .8 .5 .7 .8 .9 .5 .8 .3 .5 .5 1.1 .3 .8 .5 .8 .3 .6 .6 1 .5 .8 .3 .8 .4 .8 .4 .8 .7 .8 1.1 .5 .8-.2 .6-.3 1-.5 .7-.3 .9-.3 .8-.2 .8-.2 .8 0 .8-.1 .8-.1 .8-.1 .8-.1 .8-.2 .7-.3 .9-.4 .7-.4 .9-.6 .8-.7 .5-.3 .3-.6-.1-1-.4-.8-.3-.5-.4-1.1-.2-.8-.2-.8-.1-.8-.1-.8-.1-.8-.1-.8 0-.8-.1-.8 0-.8 .1-.8-.1-.8-.2-.8-.3-.8-.6-.8-.8-.6-.8-.3-.8-.2-.8-.1-.8-.1-.8-.1-.8-.1-.8-.1-.8-.1-.8-.1-.8-.2-.8-.3-.8-.3-.8-.3-.8-.1-.8 0-.8 .3-.5 .3z" fill="#00b090" stroke="#2a4a7a" stroke-opacity=".8" stroke-width=".6"/>
<path d="M69.6 58.4l.8-.1 .8 0 .7 .1 .9 .2 .8 .1 .8 .1 .8 0 .8 0 .8 .1 .8 .1 .8 .1 .8 .1 .8-.1 .8 0 .8 0 .8 .2 .8 .4 .8 .9 .6 1 .4 .8 .5 .8 .4 .8 .4 .8 .3 .8 0 .8-.1 .8-.1 .8 0 .8 .1 .8 .1 .8 .3 .8 .2 .8 .2 .8 .4 .8 .3 .5 .8 1 .8 .7 .8 .8 .8 .9 .8 .9 .8 .7 .8 .6 .5 .3 .8 .8 .3 .7 0 .9-.3 .8-.5 .7-.8 .6-.7 .3-.9 .2-.8 0-.8-.1-.8-.2-.8-.2-.8-.2-.8-.2-.8-.2-.8-.2-.8-.1-.8 0-.8 .1-.8 .1-.8 .1-.8 .2-.8 .1-.8 0-.8 0-.8-.1-.8-.1-.8 0-.7 0-.9 .2-.8 .3-.6 .3-1 .5-.6 .3-1 .3-.8-.2-.8-.9-.3-.8-.3-.8-.3-.8-.3-.8-.3-.8-.4-.8-.4-.8-.5-.8-.4-.7-.5-.9-.3-.6-.5-1-.3-.5-.8-1-.8-.9-.7-.8-.7-.8-.7-.8-.3-.5-.6-1.1 0-.8 .3-.8 .3-.4 .8-1 .8-.8 .8-.8 .8-.8 .8-.9 .8-.8 .8-.9 .8-.7 .8-.7 .8-.5 .8-.3 .7-.2zM68 60l-.8 .6-.8 .7-.8 .9-.8 .8-.8 .8-.8 .8-.8 .8-.8 1-.5 .8-.3 .6-.2 1 .1 .8 .4 .8 .5 .8 .6 .8 .6 .8 .4 .4 .8 1 .6 1 .4 .8 .4 .8 .4 .8 .5 .8 .5 .8 .4 .8 .4 .8 .3 .8 .3 .8 .4 .8 .5 .8 .5 .5 .8 .2 .8-.1 .8-.4 .8-.4 .8-.4 .8-.3 .8-.2 .8-.1 .8-.1 .8 0 .8 0 .8 0 .8-.1 .8-.2 .8-.2 .8-.1 .8-.2 .8-.1 .8-.1 .8 0 .8 .2 .8 .3 .8 .3 .8 .3 .8 .3 .7 .1 .9 0 .8-.3 .6-.5 .2-.8-.6-.8-.8-.8-.7-.8-.3-.4-.8-1-.8-.7-.8-.7-.5-.4-.8-.8-.6-.8-.4-.8-.3-.8-.2-.8-.1-.8-.2-.8-.1-.8 0-.8 0-.8 .1-.8 .1-.8 0-.8-.2-.8-.3-.8-.4-.8-.5-.8-.4-.6-.8-.7-.6-.3-1-.2-.8 0-.8 0-.8 0-.8-.1-.8-.1-.8 0-.8 0-.8-.1-.8-.1-.5-.2-1.1-.4-.8-.2-.8-.1-.8 0-.8 .3-.8 .4zM98.4 97l.3 .6-.1 .8-.5-.8 .3-.6z" fill="#00ffc8" stroke="#2a4a7a" stroke-opacity=".8" stroke-width=".6"/>
<path d="M73.6 55.8l.8-.2 .8-.2 .8 0 .8 .2 .8 .3 .8 .3 .8 .3 .8 .1 .8 .1 .8 0 .8 .2 .8 .2 .8 .5 .8 .7 .7 .9 .5 .8 .4 .8 .4 .8 .4 .7 .6 .9 .6 .8 .4 .6 .5 1 .3 .8 .2 .8 .1 .8 .2 .8 .2 .8 .1 .8 .1 .8 .1 .8 .2 .8 .3 .8 .4 .8 .5 .8 .6 .8 .7 .8 1 .8 .9 .4 .8 .3 .8 .5 .6 .4 .6 .8 .4 .8 .1 .8 0 .8-.2 .8-.2 .8-.4 .8-.4 .8-.5 .7-.8 .9-.8 .6-.7 .2-.9 .1-.8 0-.8-.1-.8-.2-.8-.3-.7-.3-.9-.3-.8-.2-.8-.2-.8 0-.8 0-.8 .1-.8 .2-.8 .1-.8 .2-.8 0-.8 .1-.8 0-.8 0-.8 0-.8-.1-.8-.2-.8-.2-.8-.1-.8 .1-.8 .3-.5 .2-1.1 .5-.8 .3-.8 0-.8-.1-.8-.4-.6-1.1-.1-.8-.1-.8-.1-.8-.2-.8-.2-.8-.3-.8-.2-.8-.4-.8-.4-.8-.5-.8-.5-.8-.4-.7-.5-.9-.3-.6-.8-1-.7-.8-.7-.8-.8-.8-1-.8-.8-.6-.5-.2-1-.8-.4-.8 0-.8 .2-.8 .3-.8 .6-.8 .7-.8 .9-.8 .8-.6 .8-.7 .8-.9 .7-1 .6-.8 .3-.4 .8-.9 .5-.3 1.1-.6 .8-.4 .8-.3 .8-.3 .8-.2 .8-.1 .8-.2 .8-.1 .8-.1 .8-.3zM69.5 58.4l-.7 .2-.8 .3-.8 .5-.7 .6-.9 .8-.7 .8-.8 .8-.7 .8-.8 .8-.9 .8-.8 .8-.7 .8-.5 .8-.3 .8 0 .8 .4 .8 .5 .8 .5 .5 .8 1 .8 .9 .7 .8 .7 .8 .5 .8 .4 .8 .4 .8 .4 .8 .5 .8 .4 .7 .5 .9 .3 .7 .4 .9 .3 .8 .3 .8 .3 .8 .3 .8 .7 .8 .9 .3 .8-.2 .8-.4 .8-.4 .8-.4 .8-.3 .8-.2 .8 0 .7 0 .9 .1 .8 .1 .8 0 .8 0 .8-.1 .8-.2 .8-.1 .8-.1 .8-.1 .8 0 .8 .1 .8 .2 .8 .2 .8 .2 .8 .2 .8 .2 .8 .2 .8 .1 .8 0 .8-.1 .8-.4 .7-.5 .6-.8 .3-.7 .1-.9-.4-.8-.5-.5-.8-.6-.7-.5-.9-.8-.7-.8-.7-.8-.8-.8-.9-.8-.7-.8-.5-.8-.4-.8-.2-.8-.2-.8-.3-.8-.1-.8-.1-.8 0-.8 .1-.8 .1-.8 0-.8-.3-.8-.4-.8-.3-.6-.6-1-.4-.8-.5-.8-.6-.8-1.1-.7-.8-.2-.8 0-.8 0-.8 .1-.8-.1-.8-.1-.8-.1-.8-.1-.8 0-.8 0-.8-.1-.8-.1-.8-.2-.8-.1-.8 0-.8 .1zM95.2 91.1l.8-.5 .8 .1 .8 .3 .8 .5 .8 .4 .8 .7 .5 1 .3 .8 .2 .8 .2 .8 .2 .8 .1 .8 0 .8-.2 .8-.3 .8-.2 .5-.5 1.1-.8 .8-1.1 .3-.8-.1-.8-.1-.8-.1-.8-.3-.6-.5-.5-.8-.2-.8-.1-.8 0-.8-.1-.8-.1-.8-.1-.8 0-.8 0-.8 .3-.8 .3-.8 .3-.5 .8-1.1zM98.1 97.6l.1 .8 .5-.8-.3-.6-.3 .6zM107.2 105.6l.8-.2 .8 .1 .8 .3 .8 .5 .8 .9 .6 .8 .5 .8 .4 .8 .4 .8-.1 .8-1 .5-.8 .1-.8-.1-.8-.3-.8-.5-.6-.5-.7-.8-.6-.8-.4-.8-.1-.7 .1-.9 .6-.8z" fill="#20ffb0" stroke="#2a4a7a" stroke-opacity=".8" stroke-width=".6"/>
<path d="M75.2 52.7l.8-.1 .6 .2 1 .4 .7 .4 .9 .4 .8 .2 .8 .2 .8 .1 .8 .3 .8 .3 .8 .5 .6 .4 .9 .8 .7 .8 .6 .8 .4 .6 .6 1 .5 .8 .5 .8 .6 .8 .7 .8 .3 .4 .8 1.2 .4 .8 .2 .8 .2 .8 .1 .8 .1 .8 .1 .8 .1 .8 .2 .8 .1 .8 .3 .8 .2 .8 .4 .8 .6 .8 1 .7 .8 .3 .8 .2 .8 .3 .8 .6 .8 1 .5 .9 .3 .6 .4 1 .1 .8 0 .8-.2 .8-.2 .8-.2 .8-.2 .8-.2 .8-.2 .8 .1 .8 .3 .8 .3 .5 .8 .9 .7 1 .4 .8 .3 .8 .1 .8 .2 .8 .2 .8 .2 .8 .1 .8 .1 .8 0 .8-.3 .8-.2 .8-.2 .5-.2 1.1 0 .8 0 .8-.4 .8-1 .6-.8 .2-.8 0-.8-.1-.8-.1-.8-.1-.8 0-.8-.1-.8-.4-.8 0-.8-.8-.8-.5-.5-1.1-.2-.8-.1-.7-.1-.9 0-.8 0-.8 0-.8 0-.8 0-.8 .1-.8 .1-.8 .1-.8-.1-.8-.4-.8-.5-.4-.6-.4-1-.7-.8-.4-.8-.3-.8-.2-.8 0-.8 .1-.8 .1-.8 .2-.8 .2-.8 .2-.8 .1-.8 .2-.8 .3-.7 .2-.9 .3-.8 .3-.8 .1-.8-.1-.8-.1-.8-.2-.8-.1-.8-.1-.8-.2-.8-.6-.8-.1-.8-.7-.8-.1-.8-.8-.2-.8 .4-.8 .2-.8 .1-.8-.1-.8-.1-.8-.2-.8-.3-.8-.2-.8-.4-.8-.4-.8-.4-.6-.6-1-.4-.8-.5-.8-.5-.8-.4-.4-.8-.9-.8-.9-.8-.7-.8-.6-.8-.4-.8-.2-.8-.2-.8-.2-.6-.3-.5-.8-.1-.8 .1-.8 .2-.8 .3-.8 .4-.8 .5-.8 .5-.8 .7-.8 .8-.8 .9-.8 .7-.8 .4-.8 .4-.8 .4-.8 .5-.6 .8-.7 .5-.3 1.1-.3 .8-.3 .8-.2 .8-.2 .8-.3 .8-.2 .8-.2 .8-.2 .8-.2 .8-.3 .8-.4 .6-.4 1-.6 .8-.3zM73 56l-1 .2-.8 .1-.8 .2-.8 .1-.7 .2-.9 .3-.8 .3-.8 .4-.8 .4-.8 .5-.5 .5-.6 .8-.5 .7-.6 .9-.7 .8-.9 .8-1 .8-.8 .7-.8 .9-.6 .8-.2 .5-.3 1.1 0 .8 .3 .7 .8 .7 .8 .4 .8 .6 .8 .6 .8 .8 .8 .9 .8 .9 .6 .8 .5 .8 .5 .8 .4 .8 .4 .7 .6 .9 .4 .8 .4 .8 .2 .8 .3 .8 .2 .8 .2 .8 .1 .6 .1 1 .1 .8 .4 .8 1 .7 .6 .1 1 0 .8-.3 .8-.4 .8-.3 .8-.3 .8-.1 .8 .1 .8 .2 .8 .2 .7 .1 .9 0 .8 0 .8 0 .8-.1 .8 0 .8-.2 .8-.1 .8-.2 .8-.1 .8 0 .8 0 .8 .2 .8 .2 .8 .3 .8 .3 .8 .3 .7 .2 .9 .1 .8 0 .8-.1 .8-.2 .8-.6 .7-.8 .6-.8 .3-.5 .5-1.1 .2-.8 .2-.8 0-.8-.1-.6-.4-1-.4-.6-.8-.6-.7-.4-.9-.4-.8-.3-.8-.6-.8-.8-.8-1.1-.5-.8-.3-.5-.4-1.1-.2-.8-.1-.8-.1-.8-.1-.8-.2-.8-.2-.8-.1-.8-.2-.8-.3-.8-.4-.8-.5-.8-.4-.5-.7-1.1-.5-.8-.4-.8-.4-.8-.4-.6-.7-1-.9-.8-.8-.5-.8-.2-.8-.2-.8 0-.8-.1-.8-.1-.8-.3-.6-.2-1-.4-.8-.2-.8 0-.8 .2-.8 .2-.6 .2zM95.2 91.2l-.6 .8-.5 .8-.3 .8-.2 .6-.1 1 0 .8 .1 .8 .1 .8 .1 .8 0 .8 .1 .8 .2 .8 .3 .5 .8 .8 .8 .3 .8 .1 .8 .1 .8 .1 .8-.1 .8-.6 .7-1.2 .3-.8 .3-.8 .2-.8 0-.8-.1-.8-.2-.8-.2-.8-.2-.7-.3-.9-.4-.8-.8-.8-.9-.5-.6-.3-1-.5-.8-.1-.8 .5zM105.6 103.9l.8 0 .8 0 .8 .2 .8 .1 .8 .2 .8 .3 .8 .4 .8 .5 .8 .8 .6 .8 .6 .8 .4 .5 .8 .9 .6 1 .2 .6-.1 1-.7 .6-.7 .2-.9 .1-.8 0-.8 0-.8-.1-.8-.2-.8-.3-.6-.3-1-.7-.8-.8-.8-.9-.7-.8-.5-.8-.4-.8-.3-.8-.3-.8 0-.8 .6-.7 .8-.2zM107.1 105.6l-.6 .8-.1 .8 .1 .8 .4 .8 .3 .4 .8 1 .8 .7 .4 .3 1.2 .5 .8 .1 .8-.1 .8-.3 .3-1-.3-.6-.5-1-.5-.8-.6-.8-.7-.8-.9-.6-.5-.2-1.1-.2-.8 .2z" fill="#10ff50" stroke="#2a4a7a" stroke-opacity=".8" stroke-width=".6"/>
<path d="M142.4 53.3l.8-.3 .8-.1 .8 0 .8 .2 .8 .2 .7 .3 .9 .2 .8 .2 .8 .1 .8 .2 .8 .2 .8 .3 .8 .4 .8 .5 .5 .3 1.1 .6 .8 .5 .8 .5 .8 .5 .8 .6 .6 .5 .8 .8 .6 .8 .4 .6 .7 1 .6 .8 .6 .8 .5 .7 .6 .9 .2 .6 .4 1 .2 .8 .2 .6 .5 1 .3 .6 .6 1 .4 .8 .3 .8 .2 .8 .1 .6 .1 1 0 .8 0 .8 0 .8 0 .8 0 .8 .1 .8 .1 .8-.1 .8-.1 .8-.2 .8-.4 .8-.3 .6-.5 1-.3 .5-.7 1.1-.4 .8-.5 .7-.6 .9-.6 .8-.4 .7-.8 .9-.8 .8-.8 .6-.8 .8-.8 1-.4 .8-.4 .6-.7 1-.8 .8-.9 .5-.8 .3-.8 .1-.8 0-.8-.1-.8 0-.8 .1-.8 .2-.8 .2-.8 .2-.8 .2-.8 .1-.8 .1-.8 0-.8 0-.8 .2-.8 .2-.8 .2-.8 0-.8-.1-.8-.2-.8-.5-.8-.5-.5-.4-1.1-.8-.8-.3-.8-.1-.8-.2-.8-.1-.8-.3-.8-.5-.8-.9-.4-.8-.4-.7-.6-.9-.8-.8-1-.8-.8-.6-.8-.8-.5-1-.3-.6-.4-1-.3-.8-.3-.8-.2-.8-.1-.8 .2-.8 .2-.8 .2-.8 .1-.8-.1-.8-.1-.8-.3-.8-.4-.8-.5-.8-.4-.6-.4-1-.1-.8 0-.8 .2-.8 .2-.8 .2-.8 .1-.8 .1-.8 .4-.8 .5-.8 .4-.5 .6-1.1 .3-.8 .3-.8 .3-.8 .6-.8 1-.8 .9-.6 .8-.5 .7-.5 .9-.6 .8-.7 .4-.3 .4-.4 .4-.4 .4-.4 .3-.4 .5-.5 .8-.8 .8-.7 .7-.4 .9-.5 .8-.3 .8-.3 .8-.2 .8-.3 .8-.3 .8-.4 .8-.4zM141.2 56l-1.2 .4-.8 .2-.7 .2-.9 .3-.8 .3-.8 .6-.5 .4-.8 .8-.7 .8-.4 .5-.8 1-.8 .8-.8 .9-.7 .8-.7 .8-.6 .8-.4 .5-.6 1.1-.4 .8-.4 .8-.4 .8-.4 .8-.4 .8-.4 .8-.4 .8-.3 .8-.2 .8-.1 .6 .1 1 .3 .8 .4 .7 .3 .9 .2 .8 .2 .8 .2 .8 .2 .8 .2 .8 .2 .8 0 .8 .1 .8 0 .8 .2 .8 .3 .8 .3 .6 .6 1 .6 .8 .4 .5 .8 1.1 .6 .8 .5 .8 .5 .8 .7 .8 .9 .6 .8 .3 .8 .3 .8 .2 .8 .4 .8 .4 .8 .5 .8 .4 .8 .3 .8 .1 .8-.1 .7-.2 .9-.2 .8-.2 .8-.1 .8-.1 .8-.1 .8-.2 .8-.1 .8-.1 .8-.1 .8-.1 .8 .1 .8 0 .8 .1 .8-.1 .8-.2 .8-.7 .8-1.1 .6-.8 .6-.8 .4-.4 .4-.4 1.1-.8 .9-.7 .8-.7 .8-.9 .6-.9 .6-.8 .4-.8 .4-.8 .4-.8 .3-.8 .3-.8 .2-.8 .2-.8 .2-.8 .1-.8 .1-.8 .1-.8 .1-.7 .1-.9 0-.8-.1-.8-.2-.8-.3-.8-.3-.6-.6-1-.4-.8-.4-.8-.3-.8-.2-.8-.2-.8-.2-.8-.3-.8-.3-.8-.5-.8-.6-.7-.7-.9-.7-.8-.6-.8-.4-.4-.8-.8-.4-.4-1.1-.8-.9-.6-.8-.5-.8-.4-.8-.4-.8-.4-.8-.3-.8-.3-.8-.1-.8-.1-.8-.1-.8-.2-.8-.2-.8-.2-.8-.1-.8-.1-.8 .1-.8 .3-.8 .2zM40 66.8l.8-.1 .8 .3 .8 .5 .8 .5 .8 .5 .5 .3 1.1 .6 .8 .3 .8 .3 .8 .4 .8 .5 .8 .8 .8 1.1 .5 .8 .7 .8 .4 .4 .6 .4 1 .5 .8-.2 .5-.3 1.1-.8 .8-.5 .6-.3 1-.4 .8 0 .8 .1 .8 .5 .7 .6 .9 .8 .7 .8 .6 .8 .6 .8 .5 .8 .5 .8 .3 .5 .5 1.1 .3 .8 .2 .8 .1 .8 0 .8-.3 .8-.8 .8-.8 .4-.8 .2-.8-.1-.5-.5-1.1-.2-.6-.6-1-.3-.5-.5-.7-.8-.4-.5-.4-.3-.4-.8-.6-.8-.6-.8-.4-.4-.4-.4-.4-.4-.5-.4-1-.8-.9-.5-.8-.2-.6-.1-1-.3-.8-.3-.8-.4-.8-.4-.8-.4-.8-.5-.8-.4-.7-.5-.9-.7-.8-.9-.7-.8-.6-.8-.3-.5-.8-1-.7-.9-.4-.8zM42.1 68.8l.2 .8 .5 .8 .4 .6 .8 .9 .8 .7 .8 .6 .6 .4 1 .6 .8 .5 .8 .4 .8 .4 .8 .2 .8-.4-.6-.9-.6-.8-.4-.7-.7-.9-.9-.7-.8-.4-.8-.3-.8-.3-.8-.4-.4-.3-1.2-.7-.8-.3zM58.8 73.6l-1.2 .3-.8 .4-.8 .6-.8 .8-.4 .3-.4 .5 0 .8 .8 1.1 .8 .8 .7 .8 .6 .8 .3 .5 .7 1.1 .6 .8 .8 .8 1.1 .5 .8 .7 .8 .1 .5 .3 1.1 .4 .8-.3 .8-.4 .5-.5 .3-.6 .1-1-.1-.8-.1-.8-.3-.8-.4-.8-.4-.8-.4-.5-.7-1.1-.6-.8-.3-.4-.3-.4-.5-.5-.8-.7-.5-.4-1.1-.7-.6-.1z" fill="#50ff10" stroke="#7a3a00" stroke-opacity=".8" stroke-width=".6"/>
<path d="M141.6 55.8l.8-.2 .8-.3 .8-.1 .8 .1 .8 .1 .8 .2 .8 .2 .8 .2 .8 .1 .8 .1 .8 .1 .8 .3 .6 .2 1 .5 .6 .3 1 .5 .5 .3 1.1 .7 .8 .6 .8 .7 .5 .4 .7 .8 .4 .5 .8 1 .7 .9 .7 .8 .5 .8 .3 .8 .2 .5 .3 1.1 .2 .8 .2 .8 .3 .8 .4 .8 .4 .8 .5 .8 .4 .8 .3 .8 .2 .8 .1 .8 0 .8-.1 .8-.1 .8-.1 .8-.1 .8-.1 .8-.2 .8-.2 .8-.2 .8-.3 .8-.3 .7-.4 .9-.4 .8-.4 .8-.4 .6-.8 1-.6 .8-.9 .8-.9 .7-.8 .6-.8 .7-.4 .4-.4 .5-.8 1.1-.5 .8-.9 .8-1 .4-.8 .1-.8-.1-.8 0-.8-.1-.8 .1-.8 .1-.8 .1-.8 .1-.8 .2-.8 .1-.8 .1-.8 .1-.8 .2-.8 .2-.8 .2-.8 .1-.8-.1-.6-.2-1-.5-.5-.3-1.1-.6-.8-.4-.8-.2-.8-.3-.8-.3-.8-.5-.8-.9-.5-.8-.3-.4-.8-1.2-.6-.8-.6-.8-.4-.6-.7-1-.4-.8-.3-.8-.2-.8 0-.8-.1-.8 0-.8-.2-.8-.2-.8-.2-.8-.2-.8-.2-.8-.2-.8-.3-.8-.4-.8-.3-.8-.1-.6 .1-1 .2-.8 .3-.8 .4-.8 .4-.8 .4-.8 .4-.8 .4-.8 .4-.8 .4-.8 .4-.8 .6-.8 .4-.5 .8-1 .8-.9 .7-.8 .8-.8 .7-.8 .6-.8 .4-.4 .8-.9 .8-.7 .5-.4 1.1-.5 .8-.3 .8-.2 .8-.2 .8-.3 .8-.3zM141 58.4l-1 .2-.8 .1-.8 .3-.8 .4-.8 .5-.8 .7-.8 .9-.7 .9-.6 .8-.3 .5-.8 1-.7 .9-.6 .8-.3 .4-.8 1.2-.4 .8-.4 .8-.3 .8-.2 .8-.3 .8-.1 .8-.1 .8 .1 .8 .2 .8 .2 .8 .2 .8 .1 .8 0 .8 0 .8 .1 .8 .3 .8 .3 .8 .3 .8 .2 .8 .1 .8 0 .8 .1 .8 .2 .8 .2 .6 .3 1 .4 .8 .5 .8 .4 .6 .8 .8 .8 .5 .8 .4 .8 .3 .8 .3 .6 .3 1 .7 .8 .6 .7 .3 .9 .2 .8-.1 .8-.2 .8-.2 .8-.1 .8-.1 .8 0 .8 .1 .8 0 .8-.1 .8 0 .8-.1 .8-.1 .8 0 .8-.1 .8-.2 .8-.3 .4-.3 .9-.8 .7-.8 .4-.4 .4-.4 .4-.4 .4-.4 1.1-.8 .9-.7 .8-.7 .8-.9 .5-.9 .3-.7 .3-.9 .2-.8 .2-.8 0-.8 .1-.8 .1-.8 .1-.8 .2-.8 .2-.8 .1-.8 .1-.8-.2-.8-.3-.8-.3-.6-.5-1-.3-.8-.2-.8-.2-.8-.1-.8-.2-.8-.2-.8-.2-.8-.3-.8-.5-.8-.5-.7-.7-.9-.8-.8-.8-.8-.9-.8-.8-.5-.5-.3-1.1-.7-.8-.5-.7-.4-.9-.4-.8-.3-.8-.2-.8-.1-.8-.1-.8 0-.8 .1-.8 0-.8 0-.8 0-.8 0-.8 .1-.8 0-.6 .1zM42.4 68.6l.8 .3 .8 .5 .8 .5 .8 .4 .8 .3 .8 .3 .7 .3 .9 .7 .7 .9 .5 .8 .4 .5 .8 1.1-.8 .5-.8-.2-.7-.3-.9-.5-.5-.3-1.1-.7-.8-.5-.5-.4-1-.8-.7-.8-.6-.8-.4-.6-.3-1zM59.2 73.6l.8 .1 .8 .4 .8 .7 .5 .4 .8 .8 .3 .4 .3 .4 .5 .7 .6 .9 .6 .8 .4 .8 .4 .8 .3 .8 .1 .7 .1 .9 0 .8-.4 .8-.5 .5-.6 .3-1 .4-.8-.1-.8-.6-.8-.1-.4-.4-1.2-.5-.8-.8-.8-1-.6-.9-.5-.8-.5-.6-.8-1-.8-.8-.7-.8-.4-.8 .7-.8 .4-.3 .5-.5 1-.8 .9-.5 .8-.3 .8 0zM57.8 74.4l-1 .5-.8 .7-.4 .4-.4 .7 0 .9 .4 .8 .4 .4 .3 .4 .5 .5 .8 1.1 .5 .8 .3 .5 .8 1.1 .7 .8 .9 .3 .6 .5 1 .4 .8 .4 .8 0 .8-.3 .8-.5 .5-.8 .2-.8-.1-.8-.1-.8-.3-.8-.4-.8-.5-.8-.5-.8-.4-.5-.8-1.1-.7-.8-.9-.8-.8-.6-.8-.4-.8-.1-.8 .1-.6 .2z" fill="#b0ff10" stroke="#7a3a00" stroke-opacity=".8" stroke-width=".6"/>
<path d="M141.6 58.3l.8 0 .8-.1 .8 0 .8 0 .8 0 .8 0 .8-.1 .8 0 .8 .1 .8 .1 .8 .2 .8 .3 .8 .4 .8 .4 .7 .4 .9 .6 .8 .5 .7 .5 .9 .7 .8 .7 .8 .9 .7 .9 .6 .8 .3 .5 .5 1.1 .2 .8 .2 .8 .2 .8 .1 .8 .2 .8 .2 .7 .3 .9 .4 .8 .4 .8 .3 .8 .2 .8-.1 .8-.1 .8-.2 .8-.2 .8-.1 .8-.1 .7-.1 .9 0 .8-.2 .8-.2 .8-.2 .8-.4 .8-.5 .8-.6 .8-.9 .8-.9 .7-.8 .6-.8 .7-.4 .4-.4 .4-.4 .4-.4 .5-.8 .8-.8 .6-.8 .3-.8 .2-.8 .1-.8 0-.8 .1-.8 .1-.8 0-.8 .1-.8 0-.8-.1-.8 0-.8 .1-.8 .1-.8 .2-.8 .2-.8 .1-.8-.2-.8-.3-.7-.5-.9-.7-.8-.4-.8-.3-.8-.3-.8-.4-.5-.3-.9-.8-.6-.8-.4-.7-.5-.9-.2-.8-.3-.8-.2-.8-.1-.8 0-.8-.1-.8-.2-.8-.3-.8-.3-.8-.2-.6-.2-1 0-.8 0-.8-.1-.8-.2-.8-.2-.8-.2-.8-.1-.8 .1-.8 .1-.8 .3-.8 .2-.8 .3-.7 .4-.9 .4-.8 .5-.8 .6-.8 .5-.6 .7-1 .6-.8 .6-.8 .5-.6 .7-1 .7-.8 .9-.8 .9-.6 .8-.4 .8-.3 .8-.1 .8-.2 .8-.1zM139.8 60l-.6 .1-.8 .3-.8 .4-.8 .5-.8 .9-.8 1-.5 .8-.6 .8-.5 .7-.7 .9-.6 .8-.6 .8-.5 .8-.3 .8-.3 .8-.2 .8-.1 .8-.1 .8 .1 .8 .1 .7 .2 .9 .1 .8 .1 .8 0 .8 .1 .8 .1 .8 .2 .8 .2 .8 .3 .8 .3 .8 .2 .8 .1 .8 .1 .8 .1 .8 .1 .8 .2 .7 .3 .9 .4 .8 .8 .8 .9 .5 .8 .3 .8 .2 .8 .3 .5 .3 1.1 .6 .8 .4 .8 .2 .8 0 .8-.1 .8-.1 .8 0 .8 .1 .8 .1 .8 .1 .8 .1 .8 0 .8-.1 .8 0 .8-.1 .8-.1 .8-.2 .8-.2 .8-.5 .8-.7 .8-.9 .8-.9 .8-.8 .8-.7 .8-.6 .5-.4 .7-.8 .4-.5 .5-1.1 .2-.8 .1-.7 .1-.9 0-.8 0-.8 0-.8 0-.8-.1-.8 0-.8 0-.8 0-.8-.1-.8-.1-.8-.2-.8-.1-.8-.1-.8-.2-.8-.1-.8-.1-.8-.2-.8-.2-.8-.4-.8-.5-.8-.6-.8-.7-.8-.4-.4-.5-.4-1.1-.8-.8-.4-.7-.4-.9-.5-.5-.3-1.1-.6-.8-.4-.8-.3-.8-.1-.8 0-.8 0-.8 .1-.8 .2-.8 0-.8 .1-.8 0-.8 .1-.8 0-.8 0-.8 .1zM58.4 74.2l.8-.1 .8 .1 .8 .4 .8 .6 .8 .7 .8 .9 .6 .8 .6 .8 .4 .6 .6 1 .4 .8 .3 .8 .1 .8 .1 .8-.2 .8-.5 .8-.8 .5-.8 .3-.8 0-.8-.4-.8-.2-.8-.7-.8-.2-.8-.9-.6-.8-.5-.8-.5-.8-.6-.8-.7-.8-.3-.4-.4-.4-.4-.8 0-.8 .4-.8 .4-.4 .5-.4 1.1-.7 .8-.3zM59.1 74.4l-.7 .1-.8 .3-.7 .4-.8 .8-.6 .8 0 .8 .4 .8 .6 .8 .7 .8 .4 .5 .7 1.1 .5 .8 .4 .5 .8 1 .8 .3 .7 .6 .9 .3 .8 .3 .8 0 .8-.3 .5-.3 .6-.8 .2-.8 0-.8-.2-.8-.2-.8-.4-.8-.5-.8-.6-.8-.6-.8-.4-.6-.8-.8-.8-.7-.8-.6-.8-.4-.8-.1z" fill="#ffff00" stroke="#7a3a00" stroke-opacity=".8" stroke-width=".6"/>
<path d="M140 60l.8-.1 .8 0 .8 0 .8-.1 .8 0 .8-.1 .8 0 .8-.2 .8-.1 .8 0 .8 0 .8 .1 .8 .3 .8 .4 .8 .4 .8 .5 .8 .5 .8 .4 .8 .4 .8 .5 .8 .7 .4 .4 .4 .5 .8 1 .6 .9 .4 .8 .2 .8 .2 .8 .1 .8 .1 .6 .2 1 .1 .8 .1 .8 .2 .8 .1 .8 .1 .8 0 .8 0 .8 0 .8 .1 .8 0 .8 0 .8 0 .8 0 .8-.1 .8-.1 .8-.2 .8-.4 .8-.5 .8-.4 .5-.8 .7-.5 .4-1 .8-.8 .8-.7 .8-.7 .8-.9 .8-1 .7-.8 .2-.8 .2-.8 .1-.8 .1-.8 0-.8 .1-.8 0-.8-.1-.8-.1-.8-.1-.8-.1-.8 0-.8 .1-.8 .1-.8 0-.8-.2-.8-.4-.8-.4-.8-.5-.8-.3-.8-.2-.8-.3-.8-.4-.8-.8-.5-.9-.3-.8-.2-.8-.1-.8-.1-.8-.1-.8-.1-.8-.2-.8-.3-.8-.3-.8-.2-.8-.2-.8-.1-.8-.1-.8 0-.8-.1-.8-.1-.8-.2-.8-.1-.8-.1-.8 .1-.8 .1-.8 .2-.8 .3-.8 .3-.7 .5-.9 .6-.8 .5-.7 .7-.9 .6-.8 .6-.8 .5-.8 .6-.8 .7-.8 1-.8 .9-.4 .8-.3 .6-.1zM146.5 60.8l-.9 .1-.8 .1-.8 .1-.8 .1-.8 0-.8 .1-.8 0-.8 0-.8 .2-.8 .2-.8 .4-.8 .7-.4 .4-.4 .6-.7 1-.5 .8-.4 .6-.8 1-.6 .8-.6 .8-.4 .8-.3 .8-.2 .8-.1 .8 0 .8 .1 .8 .1 .8 .1 .8 .1 .8 .1 .8 .1 .8 .1 .8 .2 .8 .2 .8 .3 .8 .3 .8 .3 .8 .2 .8 .2 .8 .1 .8 0 .8 .1 .8 .2 .8 .4 .8 .6 .6 .8 .4 .8 .3 .8 .3 .8 .3 .8 .3 .8 .3 .8 .2 .8 .1 .8-.1 .8 0 .8 .1 .8 .1 .8 .2 .6 .1 1 .1 .8 .1 .8-.1 .8 0 .8-.1 .8-.2 .8-.2 .8-.4 .8-.6 .8-.9 .7-.9 .7-.8 .8-.8 .9-.8 .8-.8 .6-.8 .3-.6 .3-1 .1-.8 0-.8 0-.8-.1-.8-.1-.8-.1-.8-.2-.8-.1-.8 0-.8 .1-.8 0-.8 .1-.8-.1-.8 0-.8-.2-.8-.1-.8-.1-.8-.2-.8-.3-.8-.3-.8-.6-.8-.5-.7-.8-.7-.8-.6-.8-.4-.8-.3-.8-.4-.8-.4-.8-.5-.8-.4-.8-.4-.8-.1-.8-.1-.8 .1-.7 .1zM59.2 74.4l.8 .1 .8 .4 .4 .3 1 .8 .8 .8 .6 .8 .4 .5 .8 1.1 .5 .8 .3 .7 .3 .9 .2 .8 0 .8-.2 .8-.3 .5-.8 .6-.8 .3-.8 0-.8-.3-.8-.2-.8-.7-.6-.2-.8-.8-.6-.8-.4-.7-.6-.9-.6-.8-.4-.5-.8-1-.5-.9 0-.8 .5-.7 .8-.8 .8-.5 .8-.3 .7-.1zM57.4 75.2l-.6 .4-.4 .4-.4 .6-.2 1 .3 .8 .7 .8 .6 .8 .5 .8 .5 .7 .6 .9 .6 .8 .4 .4 .4 .4 1.2 .8 .8 .2 .8 .2 .8 0 .8-.3 .8-.7 .4-1 0-.8-.2-.8-.2-.6-.5-1-.3-.5-.8-1.1-.6-.8-.6-.8-.4-.4-.5-.4-1.1-.8-.8-.4-.8-.1-.8 0-.8 .4z" fill="#f8b010" stroke="#7a3a00" stroke-opacity=".8" stroke-width=".6"/>
<path d="M147.2 60.7l.8-.1 .8 .1 .7 .1 .9 .4 .8 .4 .8 .5 .6 .3 1 .5 .8 .3 .8 .4 .6 .4 .9 .8 .6 .8 .6 .8 .3 .8 .3 .8 .2 .8 .1 .8 .1 .8 .2 .8 0 .8 .1 .8-.1 .8 0 .8-.1 .8 0 .8 .1 .8 .2 .8 .1 .8 .1 .8 .1 .8 0 .8 0 .8-.1 .8-.2 .8-.4 .8-.5 .7-.8 .8-.8 .7-.8 .8-.8 .9-.7 .9-.7 .8-1 .8-.8 .4-.8 .2-.8 .2-.8 .1-.8 0-.8 .1-.8-.1-.8-.1-.8-.1-.8-.2-.8-.1-.8-.1-.8 0-.8 .1-.8-.1-.8-.2-.8-.3-.8-.3-.7-.3-.9-.3-.8-.3-.5-.2-.9-.8-.4-.8-.2-.8-.1-.8 0-.8-.1-.8-.2-.8-.2-.8-.3-.8-.3-.8-.3-.8-.2-.8-.2-.8-.1-.8-.1-.8-.1-.8-.1-.8-.1-.8-.1-.8-.1-.8 0-.8 .1-.8 .2-.8 .3-.8 .4-.8 .4-.5 .8-1.1 .6-.8 .6-.8 .4-.6 .6-1 .6-.8 .4-.4 .4-.4 1.2-.7 .8-.2 .8-.2 .8 0 .8 0 .8-.1 .8 0 .8-.1 .8-.1 .8-.1 .8-.1 .8-.1zM142.2 62.4l-.6 .1-.8 0-.8 .1-.8 .1-.8 .3-.8 .5-.5 .5-.3 .4-.8 1.2-.5 .8-.6 .8-.5 .7-.7 .9-.5 .8-.4 .8-.2 .8-.1 .8 0 .8 .1 .8 .1 .8 .1 .8 .1 .8 0 .8 .1 .8 .2 .8 .2 .8 .2 .5 .4 1.1 .3 .8 .3 .8 .2 .8 .2 .8 .1 .8 .1 .7 .2 .9 .3 .8 1 .8 .9 .4 .8 .3 .8 .2 .8 .3 .8 .1 .8 .1 .8 .1 .8 0 .8 .1 .8 .2 .8 .1 .8 .2 .8 .1 .8 .1 .8 0 .8-.1 .8-.1 .8-.2 .6-.3 1-.7 .8-.8 .7-.9 .6-.8 .7-.8 .4-.4 .4-.4 .4-.4 .8-1 .5-1 .3-.8 .1-.8 0-.8-.1-.8-.1-.8-.2-.8-.2-.8-.1-.8-.1-.8 .1-.8 .1-.8 .1-.8 0-.8 0-.8-.1-.8-.1-.8-.2-.8-.2-.8-.3-.8-.3-.6-.7-1-.9-.8-.8-.4-.8-.3-.8-.2-.8-.4-.7-.3-.9-.5-.6-.3-1-.3-.8-.1-.8 0-.8 0-.8 .1-.8 0-.8 .1-.8 .1-.8 .1zM57.6 75.1l.8-.4 .8 0 .8 .1 .8 .4 .8 .5 .8 .7 .4 .4 .4 .5 .8 1 .6 .9 .5 .8 .4 .8 .3 .8 .2 .8 0 .8-.3 .8-.8 .8-.9 .4-.8 0-.8-.2-.8-.2-.8-.7-.8-.5-.4-.4-.4-.5-.7-1.1-.6-.8-.3-.5-.8-1.1-.7-.8-.3-.8 .1-.8 .5-.8 .4-.4 .6-.4zM57.9 75.2l-1.1 .7-.7 .9-.1 .8 .3 .8 .5 .6 .8 1 .5 .8 .3 .4 .8 1.2 .6 .8 .9 .8 .9 .6 .8 .3 .8 .1 .8 0 .8-.4 .7-.6 .3-.8 0-.8-.1-.8-.3-.8-.4-.8-.5-.8-.5-.7-.7-.9-.7-.8-.9-.8-.9-.6-.5-.2-1.1-.3-.8 .1z" fill="#f06008" stroke="#7a3a00" stroke-opacity=".8" stroke-width=".6"/>
<path d="M142.4 62.4l.8-.1 .8-.1 .8-.1 .8 0 .8-.1 .8 0 .8 0 .8 .1 .8 .2 .8 .4 .8 .4 .8 .4 .8 .4 .8 .2 .8 .3 .7 .4 .9 .7 .7 .9 .4 .8 .3 .8 .2 .7 .2 .9 .1 .8 .1 .8 0 .8 0 .8-.1 .8-.1 .8-.1 .8 .1 .8 .1 .8 .2 .8 .2 .8 .1 .6 .1 1 0 .8-.1 .6-.3 1-.4 .8-.6 .8-.7 .8-.4 .4-.4 .4-.4 .5-.8 1-.7 .9-.7 .8-1 .7-.8 .4-.8 .2-.8 .1-.8 .1-.8 0-.8-.1-.8-.1-.8-.2-.8-.1-.8-.2-.8-.1-.8 0-.8-.1-.8-.1-.8-.1-.8-.3-.8-.2-.8-.3-.8-.3-.8-.6-.6-1.1-.2-.8-.1-.8-.1-.8-.2-.8-.2-.8-.3-.8-.3-.8-.3-.8-.3-.8-.2-.8-.2-.8-.1-.8 0-.8-.1-.8-.1-.8-.1-.8-.1-.8 0-.8 .1-.8 .2-.8 .4-.8 .4-.7 .7-.9 .6-.8 .6-.8 .5-.8 .5-.8 .6-.8 .5-.5 .4-.3 1.2-.5 .8-.1 .8-.1 .8 0 .6-.1zM58.4 75l.8-.1 .8 .2 .8 .3 .8 .5 .8 .7 .8 .9 .7 .9 .6 .8 .3 .5 .6 1.1 .2 .6 .2 1 0 .8-.2 .6-.8 .8-.8 .4-.8 0-.8-.1-.8-.3-.8-.6-.8-.6-.8-1-.6-.8-.5-.8-.5-.7-.7-.9-.6-.8-.3-.8 .1-.8 .6-.8 .9-.7 .8-.3z" fill="#ff0000" stroke="#7a3a00" stroke-opacity=".8" stroke-width=".6"/>
<rect width="224.4" height="167.6" fill="url(#dots)"/>
<path d="M104.9 12.8l0 1.3M109.8 12.8l.2 1.1M114.7 12.8l-.2 .9M119.6 12.8l-.2 1.1M95.1 17.7l.5 .8M100 17.7l.2 1.1M104.9 17.7l.1 1.6M109.8 17.7l0 1.5M114.7 17.7l-.5 1.5M119.6 17.7l.1 1.2M75.5 22.6l.9 .3M80.4 22.6l.9 .2M100 22.6l.2 1.5M104.9 22.6l.5 2M109.8 22.6l.2 2.3M114.7 22.6l-.2 1.9M119.6 22.6l-.3 1.5M124.5 22.6l-.1 1.2M55.9 27.5l.8-.5M65.7 27.5l1-.2M70.6 27.5l1 .2M75.5 27.5l1.3-.2M85.3 27.5l.9 .6M95.1 27.5l.8 1.3M100 27.5l.4 2M104.9 27.5l.1 2.7M109.8 27.5l.2 2.6M114.7 27.5l-.5 2.5M119.6 27.5l-.3 2.1M124.5 27.5l-.4 1.6M134.3 27.5l-.9 .4M153.9 27.5l-1.2 .2M51 32.4l.9-.5M55.9 32.4l1.3-.6M60.8 32.4l1.2-.5M65.7 32.4l1.3-.4M70.6 32.4l1.8-.3M75.5 32.4l1.8-.1M80.4 32.4l1.6 0M85.3 32.4l1.5 .7M90.2 32.4l1 1.2M95.1 32.4l.7 2.1M100 32.4l.6 2.6M104.9 32.4l.3 3.4M109.8 32.4l-.1 3.7M114.7 32.4l-.1 3.2M119.6 32.4l-.6 2.7M124.5 32.4l-.8 1.9M129.4 32.4l-.9 1.3M134.3 32.4l-.9 1M139.2 32.4l-1 .5M144.1 32.4l-1.4 0M149 32.4l-1.3 .2M153.9 32.4l-1.2-.2M158.8 32.4l-1.3-.1M163.7 32.4l-1-.6M168.6 32.4l-.6-.7M46.1 37.3l1.1-.6M51 37.3l1.1-.8M55.9 37.3l1.5-.7M60.8 37.3l1.9-.5M65.7 37.3l2.4-.5M70.6 37.3l2.3-.1M75.5 37.3l2.6 .1M80.4 37.3l2.2 .7M85.3 37.3l1.8 1.1M90.2 37.3l1.7 1.8M95.1 37.3l1 2.3M100 37.3l.8 3.4M104.9 37.3l.2 4.1M109.8 37.3l0 4.2M114.7 37.3l-.3 4.1M119.6 37.3l-.7 3.4M124.5 37.3l-1.1 2.4M129.4 37.3l-1.3 1.5M134.3 37.3l-1.7 1.4M139.2 37.3l-1.8 .5M144.1 37.3l-2.3 .1M149 37.3l-2.2-.1M153.9 37.3l-2-.1M158.8 37.3l-1.8-.4M163.7 37.3l-1.5-.5M168.6 37.3l-1.1-.6M173.5 37.3l-.9-.3M178.4 37.3l-.7-.7M183.3 37.3l-.6-.7M41.2 42.2l.4-1.2M46.1 42.2l.7-1.2M51 42.2l1.7-1.4M55.9 42.2l2.1-1.6M60.8 42.2l2.6-1.1M65.7 42.2l3.1-1M70.6 42.2l3.6-.2M75.5 42.2l3.5 .6M80.4 42.2l3.1 1.1M85.3 42.2l2.4 1.6M90.2 42.2l2 2M95.1 42.2l1.3 3.3M100 42.2l.6 4.1M104.9 42.2l.4 5.5M109.8 42.2l.1 5.4M114.7 42.2l-.7 5M119.6 42.2l-.9 4.3M124.5 42.2l-1.4 3.1M129.4 42.2l-1.7 2.1M134.3 42.2l-2.2 1.4M139.2 42.2l-2.7 .7M144.1 42.2l-3 .5M149 42.2l-3-.1M153.9 42.2l-2.7-.6M158.8 42.2l-2.6-1M163.7 42.2l-2-1M168.6 42.2l-1.6-.9M173.5 42.2l-1.2-.9M178.4 42.2l-.8-.8M36.3 47.1l.2-1M41.2 47.1l.7-1.2M46.1 47.1l.9-1.6M51 47.1l1.9-1.9M55.9 47.1l2.6-2.3M60.8 47.1l3.8-1.8M65.7 47.1l4.6-1.1M70.6 47.1l4.7-.3M75.5 47.1l5 .4M80.4 47.1l4.4 1.6M85.3 47.1l3.2 2.6M90.2 47.1l2.5 3.2M95.1 47.1l1.9 4.1M100 47.1l1.1 5M104.9 47.1l.6 6.1M109.8 47.1l-.2 6.5M114.7 47.1l-.5 5.9M119.6 47.1l-1 5M124.5 47.1l-1.5 4M129.4 47.1l-2.5 3M134.3 47.1l-3.4 2.1M139.2 47.1l-4 1.3M144.1 47.1l-4.3 .6M149 47.1l-4.2-.1M153.9 47.1l-4.1-.9M158.8 47.1l-3.4-1.6M163.7 47.1l-3.2-1.7M168.6 47.1l-2.2-1.8M173.5 47.1l-1.7-1.3M178.4 47.1l-1-1.3M183.3 47.1l-.6-.7M36.3 52l0-1.2M41.2 52l.5-1.4M46.1 52l.9-2.2M51 52l1.6-3M55.9 52l3.2-3.2M60.8 52l4.2-3.1M65.7 52l5.7-2.1M70.6 52l6.7-.7M75.5 52l6.3 1.1M80.4 52l5.7 2.6M85.3 52l4.4 3.1M90.2 52l3.3 4.3M95.1 52l2.3 5.3M100 52l1.2 6.5M104.9 52l.4 7.6M109.8 52l-.1 7.3M114.7 52l-.9 7.2M119.6 52l-1.7 6.1M124.5 52l-2.3 4.8M129.4 52l-3.4 3.8M134.3 52l-4.3 3.1M139.2 52l-5.4 2.1M144.1 52l-6 1.1M149 52l-6.1 0M153.9 52l-5.4-1.6M158.8 52l-5-2.3M163.7 52l-3.7-2.5M168.6 52l-2.6-2.5M173.5 52l-2.1-2.3M178.4 52l-1.5-1.7M183.3 52l-.5-1.1M188.2 52l-.5-1M36.3 56.9l-.2-1.2M41.2 56.9l-.2-2M46.1 56.9l.3-2.8M51 56.9l1.1-4.1M55.9 56.9l2.4-4.9M60.8 56.9l4.2-5.1M65.7 56.9l6.3-3.8M70.6 56.9l7.9-1.2M75.5 56.9l7.7 1.4M80.4 56.9l6.4 4M85.3 56.9l5 4.8M90.2 56.9l3.5 5.7M95.1 56.9l2.2 6.3M100 56.9l1.1 7.2M104.9 56.9l.4 8.5M109.8 56.9l0 8.8M114.7 56.9l-1 8.3M119.6 56.9l-1.7 7.3M124.5 56.9l-2.5 6M129.4 56.9l-4 5.3M134.3 56.9l-5.2 4.2M139.2 56.9l-6.8 3.4M144.1 56.9l-7.5 1.4M149 56.9l-7.7-.5M153.9 56.9l-7.4-2M158.8 56.9l-6.1-3.4M163.7 56.9l-4.8-3.8M168.6 56.9l-3.3-3.7M173.5 56.9l-2.1-2.9M178.4 56.9l-1.3-2.2M183.3 56.9l-.7-1.6M188.2 56.9l-.6-1.2M193.1 56.9l-.5-.9M36.3 61.8l-1-.7M41.2 61.8l-.7-2M46.1 61.8l-.6-3.4M51 61.8l.1-4.8M55.9 61.8l1.2-6.4M60.8 61.8l3.2-7.1M65.7 61.8l5.7-5.6M70.6 61.8l7.1-2.1M75.5 61.8l7.4 2.4M80.4 61.8l6.3 5.5M85.3 61.8l4.6 6.8M90.2 61.8l2.9 7.5M95.1 61.8l1.9 7.5M100 61.8l.7 8.1M104.9 61.8l.2 8.9M109.8 61.8l-.4 9.3M114.7 61.8l-.9 9.5M119.6 61.8l-1.7 8.6M124.5 61.8l-2.8 7.6M129.4 61.8l-4.3 6.8M134.3 61.8l-5.8 6.1M139.2 61.8l-7.5 4.6M144.1 61.8l-8.8 2.2M149 61.8l-8.8-.7M153.9 61.8l-8.1-3.4M158.8 61.8l-6.4-5.3M163.7 61.8l-5-5.2M168.6 61.8l-3.3-4.9M173.5 61.8l-2-3.8M178.4 61.8l-1.5-2.6M183.3 61.8l-.7-2.2M188.2 61.8l-.8-1.5M41.2 66.7l-1-1.3M46.1 66.7l-1.9-2.9M51 66.7l-2-5.4M55.9 66.7l-1.5-7.4M60.8 66.7l0-9M65.7 66.7l1.9-8M70.6 66.7l3.8-3.2M75.5 66.7l3.9 2.6M80.4 66.7l3.2 6.9M85.3 66.7l2.2 8.5M90.2 66.7l1.6 8.3M95.1 66.7l.9 8.3M100 66.7l.4 8.9M104.9 66.7l0 9.8M109.8 66.7l-.2 10.4M114.7 66.7l-.7 10M119.6 66.7l-1.3 9.5M124.5 66.7l-2.4 8.7M129.4 66.7l-3.7 8.2M134.3 66.7l-5.2 7.5M139.2 66.7l-6.8 6M144.1 66.7l-8.3 2.9M149 66.7l-8.3-1.2M153.9 66.7l-7.4-4.6M158.8 66.7l-5.9-6.9M163.7 66.7l-4.1-7M168.6 66.7l-2.6-6.1M173.5 66.7l-2.2-4.6M178.4 66.7l-1.2-3.6M183.3 66.7l-.8-2.2M188.2 66.7l-.4-1.7M193.1 66.7l-.2-1M46.1 71.6l-1.4-1M51 71.6l-3.8-3.7M55.9 71.6l-4.9-7.3M60.8 71.6l-5-9.8M65.7 71.6l-4.3-9M70.6 71.6l-3.4-4.2M75.5 71.6l-2.5 2.5M80.4 71.6l-2 7.1M85.3 71.6l-1.3 8.6M90.2 71.6l-.4 8.7M95.1 71.6l-.3 8.8M100 71.6l-.2 9M104.9 71.6l-.1 9.8M109.8 71.6l-.5 10.5M114.7 71.6l-.4 10.3M119.6 71.6l-1 9.9M124.5 71.6l-1.4 9.7M129.4 71.6l-2.3 9.7M134.3 71.6l-3.2 9.3M139.2 71.6l-4.4 7.4M144.1 71.6l-5 3.7M149 71.6l-5.2-1.4M153.9 71.6l-5-5.9M158.8 71.6l-3.7-8M163.7 71.6l-3-8.2M168.6 71.6l-1.6-7.2M173.5 71.6l-1.3-5M178.4 71.6l-.7-4M183.3 71.6l-.4-2.5M188.2 71.6l-.3-1.6M193.1 71.6l-.4-1.2M51 76.5l2.4 1.1M55.9 76.5l-4.4-3.5M60.8 76.5l-8.3-7.6M65.7 76.5l-9.9-8.4M70.6 76.5l-10.2-4.9M75.5 76.5l-9.1 .9M80.4 76.5l-7 5.7M85.3 76.5l-4.6 7.4M90.2 76.5l-3 7.5M95.1 76.5l-1.6 8.1M100 76.5l-1.4 8.3M104.9 76.5l-.4 9.5M109.8 76.5l-.4 10.3M114.7 76.5l-.3 10.5M119.6 76.5l-.2 10.3M124.5 76.5l-.1 10.1M129.4 76.5l-.2 10M134.3 76.5l-.3 9.9M139.2 76.5l-.5 8.2M144.1 76.5l-.3 3.5M149 76.5l-.5-1.7M153.9 76.5l-.5-6.3M158.8 76.5l-.2-8.7M163.7 76.5l-.3-8.7M168.6 76.5l-.2-7.6M173.5 76.5l0-5.9M178.4 76.5l.1-3.9M183.3 76.5l.1-2.9M188.2 76.5l-.1-1.8M193.1 76.5l0-1M65.7 81.4l-9.2-5.7M70.6 81.4l-11.8-5.4M75.5 81.4l-12-1.5M80.4 81.4l-9.5 2.7M85.3 81.4l-6.7 4.8M90.2 81.4l-4.2 5.5M95.1 81.4l-2.4 6.5M100 81.4l-1.1 7.5M104.9 81.4l-.5 8.9M109.8 81.4l-.1 9.3M114.7 81.4l.2 9.8M119.6 81.4l.7 9.6M124.5 81.4l1.4 9.5M129.4 81.4l2.1 9.6M134.3 81.4l3 9.3M139.2 81.4l4.1 7.5M144.1 81.4l4.7 3.3M149 81.4l4.8-1.6M153.9 81.4l4.2-6M158.8 81.4l3.4-8.1M163.7 81.4l2.5-8.4M168.6 81.4l1.4-7.5M173.5 81.4l1-5.2M178.4 81.4l.4-3.8M183.3 81.4l.3-2.8M188.2 81.4l.4-1.7M193.1 81.4l0-1.2M70.6 86.3l-3.8-2M75.5 86.3l-8.3-2.7M80.4 86.3l-8.4-.5M85.3 86.3l-6.2 1.8M90.2 86.3l-4.6 3.3M95.1 86.3l-2.6 4.7M100 86.3l-1.4 5.9M104.9 86.3l-.5 7.3M109.8 86.3l.4 8.5M114.7 86.3l.5 8.7M119.6 86.3l1.6 8.6M124.5 86.3l2.4 8.4M129.4 86.3l3.5 8.1M134.3 86.3l5.2 7.9M139.2 86.3l6.9 6.4M144.1 86.3l8.1 2.8M149 86.3l8-1.1M153.9 86.3l7.5-5M158.8 86.3l5.7-6.9M163.7 86.3l4-7.2M168.6 86.3l2.9-6.2M173.5 86.3l1.9-5M178.4 86.3l1.2-3.2M183.3 86.3l.6-2.3M188.2 86.3l.2-1.8M193.1 86.3l.3-1.1M75.5 91.2l3 2M80.4 91.2l-3.5-1.4M85.3 91.2l-4.2-.1M90.2 91.2l-3 1.4M95.1 91.2l-1.8 2.6M100 91.2l-1.1 4.5M104.9 91.2l-.2 6.2M109.8 91.2l.6 7.1M114.7 91.2l1.2 7.3M119.6 91.2l1.8 7.1M124.5 91.2l2.9 6.7M129.4 91.2l4.4 6.6M134.3 91.2l6 6M139.2 91.2l7.5 4.7M144.1 91.2l8.9 2.2M149 91.2l9.3-.9M153.9 91.2l8.1-3.5M158.8 91.2l6.7-4.9M163.7 91.2l4.9-5.5M168.6 91.2l3.4-4.8M173.5 91.2l1.8-3.8M178.4 91.2l1.2-2.9M183.3 91.2l.9-2M188.2 91.2l.4-1.2M193.1 91.2l.2-1.3M90.2 96.1l-1.3-.1M95.1 96.1l-.9 1.2M100 96.1l-.2 2.6M104.9 96.1l.2 4.3M109.8 96.1l1 5.6M114.7 96.1l1.2 5.8M119.6 96.1l1.9 5.7M124.5 96.1l2.9 5.4M129.4 96.1l4.2 5.2M134.3 96.1l5.5 4.6M139.2 96.1l6.9 3.2M144.1 96.1l8 2M149 96.1l8.1-.5M153.9 96.1l7-2.4M158.8 96.1l6.1-3.4M163.7 96.1l4.9-3.9M168.6 96.1l3.1-3.3M173.5 96.1l2.2-2.9M178.4 96.1l1.3-2.3M183.3 96.1l.8-1.6M188.2 96.1l.6-1M100 101l.3 1.3M104.9 101l.9 2.7M109.8 101l1.3 3.5M114.7 101l1.5 4.3M119.6 101l2.2 4.3M124.5 101l2.9 3.7M129.4 101l3.7 3.6M134.3 101l4.7 2.9M139.2 101l5.8 2.4M144.1 101l6.3 1M149 101l6.5-.4M153.9 101l6.1-1.3M158.8 101l5.1-2.2M163.7 101l4-2.8M168.6 101l2.7-2.7M173.5 101l2.2-2.3M178.4 101l1.4-1.4M183.3 101l1-1.2M188.2 101l.5-1M104.9 105.9l.7 1M109.8 105.9l1.2 2.2M114.7 105.9l1.5 2.9M119.6 105.9l1.9 3M124.5 105.9l2.7 2.7M129.4 105.9l3.2 2.3M134.3 105.9l3.6 2.2M139.2 105.9l4.3 1.5M144.1 105.9l4.7 .7M149 105.9l4.9 0M153.9 105.9l4.3-.7M158.8 105.9l3.9-1.2M163.7 105.9l3.1-1.5M168.6 105.9l2.2-1.7M173.5 105.9l1.8-1.4M178.4 105.9l1.3-1M183.3 105.9l1-.9M114.7 110.8l1.4 1.3M119.6 110.8l1.7 1.7M124.5 110.8l1.8 1.9M129.4 110.8l2.4 1.7M134.3 110.8l2.7 1.4M139.2 110.8l3 1M144.1 110.8l3.4 .5M149 110.8l3.2-.1M153.9 110.8l3.2-.4M158.8 110.8l2.9-.8M163.7 110.8l2.1-1.1M168.6 110.8l1.8-.6M173.5 110.8l1.2-.9M178.4 110.8l.8-.6M124.5 115.7l1.3 1M129.4 115.7l1.9 1.3M134.3 115.7l2.2 .8M139.2 115.7l2.2 .5M144.1 115.7l2.8 .5M149 115.7l2.2 0M153.9 115.7l2.3-.8M158.8 115.7l1.7-.5M163.7 115.7l1.3-.4M168.6 115.7l1.1-.6M173.5 115.7l1.1-.5M178.4 115.7l.9-.2M188.2 115.7l.6-.7M129.4 120.6l1 .4M134.3 120.6l1.1 .6M139.2 120.6l1.2 .4M144.1 120.6l1.7 .2M149 120.6l1.4 .1M153.9 120.6l1.4 .4M158.8 120.6l1.2-.2M163.7 120.6l1.1-.3M144.1 125.5l.9 .1M149 125.5l.9 .5M153.9 125.5l1 .2M158.8 125.5l.9-.4" fill="none" stroke="#000" stroke-width=".62" stroke-opacity=".85"/>
<path d="M105 30.2L104.5 29L105.4 29zM110 30.1L109.4 28.9L110.4 28.9zM100.6 35L99.9 33.9L100.8 33.7zM105.2 35.8L104.5 34.5L105.6 34.4zM109.7 36.1L109.2 34.6L110.3 34.6zM114.6 35.6L114.1 34.2L115.2 34.3zM119 35.1L118.8 33.7L119.7 34zM78.1 37.4L76.9 37.8L76.9 36.9zM100.8 40.7L99.9 39.4L101 39.2zM105.1 41.4L104.4 39.8L105.6 39.7zM109.8 41.5L109.2 39.9L110.4 39.9zM114.4 41.4L113.9 39.7L115.1 39.8zM118.9 40.7L118.6 39.2L119.7 39.4zM58 40.6L57.3 41.7L56.8 41zM63.4 41.1L62.4 42.1L62 41.2zM68.8 41.2L67.6 42.1L67.3 41.1zM74.2 42L72.7 42.7L72.7 41.6zM79 42.8L77.5 43.1L77.7 42zM83.5 43.3L82 43.3L82.3 42.4zM87.7 43.8L86.4 43.5L86.9 42.7zM92.2 44.2L91 43.6L91.6 43zM96.4 45.5L95.3 44.3L96.4 43.9zM100.6 46.3L99.8 44.8L101 44.6zM105.3 47.7L104.4 45.8L105.9 45.7zM109.9 47.6L109.1 45.6L110.6 45.6zM114 47.2L113.6 45.3L115 45.5zM118.7 46.5L118.4 44.7L119.7 45zM123.1 45.3L123.2 43.8L124.2 44.3zM127.7 44.3L128.1 43L128.9 43.6zM136.5 42.9L137.6 42.1L137.8 43zM141.1 42.7L142.3 42L142.5 43zM146 42.1L147.3 41.6L147.3 42.6zM151.2 41.6L152.5 41.4L152.3 42.3zM156.2 41.2L157.6 41.2L157.2 42.1zM52.9 45.2L52.4 46.4L51.7 45.7zM58.5 44.8L57.8 46.2L57 45.4zM64.6 45.3L63.4 46.5L62.8 45.4zM70.3 46L68.7 47.1L68.4 45.7zM75.3 46.8L73.6 47.6L73.5 46.2zM80.5 47.5L78.6 48L78.7 46.6zM84.8 48.7L82.9 48.7L83.4 47.5zM88.5 49.7L86.9 49.1L87.6 48.2zM92.7 50.3L91.3 49.4L92.2 48.6zM97 51.2L95.7 49.9L96.8 49.4zM101.1 52.1L100 50.4L101.4 50.1zM105.5 53.2L104.4 51.1L106.1 51zM109.6 53.6L108.8 51.3L110.5 51.4zM114.2 53L113.6 50.8L115.2 51zM118.6 52.1L118.2 50.1L119.6 50.4zM123 51.1L123 49.3L124.2 49.7zM126.9 50.1L127.5 48.5L128.4 49.3zM130.9 49.2L132 47.9L132.6 48.9zM135.2 48.4L136.6 47.3L137 48.5zM139.8 47.7L141.3 46.8L141.5 48.1zM144.8 47L146.4 46.4L146.4 47.7zM149.8 46.2L151.5 46L151.3 47.2zM155.4 45.5L157 45.6L156.5 46.7zM160.5 45.4L162.1 45.6L161.6 46.6zM166.4 45.3L167.7 45.7L167.1 46.5zM52.6 49L52.4 50.5L51.5 50zM59.1 48.8L58.3 50.5L57.4 49.6zM65 48.9L63.9 50.6L63.1 49.4zM71.4 49.9L69.7 51.4L69.1 49.9zM77.3 51.3L75.1 52.4L74.9 50.7zM81.8 53.1L79.4 53.5L79.7 51.9zM86.1 54.6L83.7 54.4L84.4 52.9zM89.7 55.1L87.7 54.6L88.5 53.4zM93.5 56.3L91.7 55.2L92.9 54.3zM97.4 57.3L95.8 55.7L97.3 55.1zM101.2 58.5L99.9 56.4L101.6 56.1zM105.3 59.6L104.2 57.2L106.1 57.1zM109.7 59.3L108.8 56.8L110.7 56.9zM113.8 59.2L113.2 56.7L115.1 56.9zM117.9 58.1L117.7 55.7L119.3 56.2zM122.2 56.8L122.3 54.7L123.7 55.4zM126 55.8L126.7 53.9L127.8 54.8zM130 55.1L131.1 53.3L132 54.6zM133.8 54.1L135.4 52.6L136 54.1zM138.1 53.1L140.1 51.9L140.4 53.5zM142.9 52L145 51.2L145 52.8zM148.5 50.4L150.6 50.2L150.2 51.7zM153.8 49.7L155.9 49.8L155.3 51.2zM160 49.5L161.8 49.9L161.1 51zM166 49.5L167.5 50.1L166.7 50.9zM171.4 49.7L172.7 50.4L171.9 51.1zM46.4 54.1L46.7 55.4L45.8 55.3zM52.1 52.8L52.3 54.6L51.1 54.2zM58.3 52L58.1 54.1L56.8 53.5zM65 51.8L64.2 54.1L62.9 53zM72 53.1L70.3 55.2L69.4 53.6zM78.5 55.7L76.2 57L75.9 55.1zM83.2 58.3L80.6 58.8L80.9 56.9zM86.8 60.9L84.2 60.4L85.2 58.8zM90.3 61.7L88 60.7L89.2 59.4zM93.7 62.6L91.7 61.1L93.2 60.2zM97.3 63.2L95.7 61.3L97.3 60.8zM101.1 64.1L99.8 61.8L101.6 61.5zM105.3 65.4L104.2 63L106.1 62.9zM109.8 65.7L108.8 63.2L110.7 63.2zM113.7 65.2L113.1 62.6L115 62.8zM117.9 64.2L117.5 61.6L119.4 62zM122 62.9L122.1 60.5L123.6 61.1zM125.4 62.2L126.1 59.9L127.5 60.9zM129.1 61.1L130.3 58.9L131.4 60.3zM132.4 60.3L134.2 58.3L135.1 60zM136.6 58.3L138.8 56.9L139.2 58.8zM141.3 56.4L143.8 55.6L143.7 57.5zM146.5 54.9L149.2 54.6L148.7 56.5zM152.7 53.5L155.3 53.9L154.4 55.5zM158.9 53.1L161.1 53.8L160.1 55.1zM165.3 53.2L167 54.1L166 55.1zM171.4 54L172.7 54.8L171.8 55.5zM45.5 58.4L46.3 59.7L45.2 59.9zM51.1 57L51.7 58.8L50.4 58.8zM57.1 55.4L57.5 57.8L55.9 57.5zM64 54.7L63.9 57.4L62.1 56.6zM71.4 56.2L70.3 58.6L68.9 57.3zM77.7 59.7L75.6 61.3L75.1 59.5zM82.9 64.2L80.3 64.3L80.8 62.5zM86.7 67.3L84.2 66.4L85.5 65zM89.9 68.6L87.7 67.1L89.3 66zM93.1 69.3L91.3 67.3L93.1 66.6zM97 69.3L95.5 67.2L97.3 66.7zM100.7 69.9L99.5 67.5L101.4 67.3zM105.1 70.7L104.1 68.2L106 68.2zM109.4 71.1L108.5 68.6L110.4 68.7zM113.8 71.3L113.1 68.7L115 68.9zM117.9 70.4L117.4 67.8L119.3 68.2zM121.7 69.4L121.7 66.7L123.4 67.4zM125.1 68.6L125.6 66L127.2 67zM128.5 67.9L129.5 65.4L130.9 66.7zM131.7 66.4L133.4 64.3L134.4 65.9zM135.3 64L137.5 62.5L138 64.3zM140.2 61.1L142.8 60.3L142.6 62.2zM145.8 58.4L148.5 58.5L147.7 60.2zM152.4 56.5L154.9 57.4L153.7 58.8zM158.7 56.6L161.1 57.7L159.7 59zM165.3 56.9L167.1 58.2L165.8 59.1zM171.5 58L172.9 59.2L171.8 59.8zM176.9 59.2L178 60.1L177.1 60.6zM44.2 63.8L45.5 64.7L44.6 65.3zM49 61.3L50.4 62.9L49 63.5zM54.4 59.3L55.8 61.6L54 61.9zM60.8 57.7L61.7 60.2L59.8 60.2zM67.6 58.7L67.9 61.3L66.1 60.9zM74.4 63.5L73.4 65.2L72.5 64.1zM79.4 69.3L77.6 68.9L78.3 67.8zM83.6 73.6L81.7 71.8L83.4 71zM87.5 75.2L85.9 73L87.8 72.5zM91.8 75L90.4 72.7L92.3 72.4zM96 75L94.8 72.6L96.7 72.4zM100.4 75.6L99.3 73.1L101.2 73zM104.9 76.5L103.9 74L105.8 74zM109.6 77.1L108.7 74.6L110.6 74.6zM114 76.7L113.2 74.1L115.1 74.3zM118.3 76.2L117.7 73.6L119.6 73.9zM122.1 75.4L121.9 72.7L123.7 73.2zM125.7 74.9L125.9 72.2L127.6 73zM129.1 74.2L129.8 71.6L131.3 72.7zM132.4 72.7L133.6 70.3L134.9 71.8zM135.8 69.6L137.9 67.9L138.5 69.6zM140.7 65.5L143.3 64.9L143 66.8zM146.5 62.1L149.1 62.6L148.1 64.2zM152.9 59.8L155.3 61.1L153.8 62.4zM159.6 59.7L161.6 61.4L160 62.3zM166 60.6L167.7 62.4L166.1 63zM171.3 62.1L172.8 63.5L171.5 64.1zM177.2 63.1L178.3 64.4L177.2 64.7zM47.2 67.9L49.1 68.7L48.1 69.8zM51 64.3L53.2 65.9L51.6 66.9zM55.8 61.8L57.8 63.6L56.1 64.5zM61.4 62.6L63.3 64.4L61.6 65.3zM67.2 67.4L69 68.4L67.9 69.4zM73 74.1L73.6 72.7L74.4 73.5zM78.4 78.7L78.1 76.1L80 76.6zM84 80.2L83.5 77.6L85.3 77.9zM89.8 80.3L89 77.8L90.9 77.9zM94.8 80.4L93.9 77.9L95.8 77.9zM99.8 80.6L98.9 78L100.8 78.1zM104.8 81.4L103.9 78.9L105.8 78.9zM109.3 82.1L108.4 79.6L110.3 79.7zM114.3 81.9L113.4 79.4L115.3 79.5zM118.6 81.5L117.9 78.9L119.8 79.1zM123.1 81.3L122.5 78.7L124.4 79zM127.1 81.3L126.7 78.6L128.6 79.1zM131.1 80.9L131 78.2L132.8 78.8zM134.8 79L135.2 76.4L136.9 77.3zM139.1 75.3L140.4 73.3L141.4 74.6zM143.8 70.2L145.9 70L145.5 71.4zM148.9 65.7L151.2 67L149.8 68.2zM155.1 63.6L157 65.5L155.3 66.3zM160.7 63.4L162.4 65.4L160.7 66.1zM167 64.4L168.5 66.6L166.6 67zM172.2 66.6L173.4 68.3L172 68.6zM177.7 67.6L178.6 69.1L177.4 69.3zM53.4 77.6L52.1 77.5L52.5 76.7zM51.5 73L53.6 73.7L52.6 74.8zM52.5 68.9L55 69.8L53.7 71.2zM55.8 68.1L58.3 69L57.1 70.5zM60.4 71.6L63 71.9L62.2 73.6zM66.4 77.4L68.8 76.2L68.9 78.1zM73.4 82.2L74.8 79.9L76 81.4zM80.7 83.9L81.2 81.3L82.9 82.3zM87.2 84L87.2 81.3L89 82zM93.5 84.6L93.1 81.9L94.9 82.3zM98.6 84.8L98.1 82.2L100 82.5zM104.5 86L103.6 83.5L105.5 83.6zM109.4 86.8L108.5 84.3L110.4 84.4zM114.4 87L113.5 84.4L115.4 84.5zM119.4 86.8L118.5 84.3L120.4 84.3zM124.4 86.6L123.4 84.1L125.3 84.1zM129.2 86.5L128.3 84L130.2 84zM134 86.4L133.1 83.9L135 83.9zM138.7 84.7L137.9 82.1L139.8 82.2zM143.8 80L143.4 78.5L144.5 78.6zM153.4 70.2L154.4 72.4L152.8 72.5zM158.6 67.8L159.6 70.2L157.7 70.3zM163.4 67.8L164.5 70.2L162.6 70.3zM168.4 68.9L169.4 71.3L167.5 71.4zM173.5 70.6L174.3 72.7L172.7 72.7zM178.5 72.6L179.1 74.2L177.9 74.2zM183.4 73.6L183.9 74.9L182.9 74.8zM56.5 75.7L59.2 76.2L58.2 77.8zM58.8 76L61.5 76.1L60.7 77.9zM63.5 79.9L66.1 79.3L65.9 81.2zM70.9 84.1L73.1 82.5L73.6 84.3zM78.6 86.2L80.1 84L81.2 85.5zM86 86.9L86.7 84.4L88.1 85.5zM92.7 87.9L92.7 85.4L94.3 86zM98.9 88.9L98.3 86.3L100.2 86.5zM104.4 90.3L103.6 87.7L105.5 87.8zM109.7 90.7L108.8 88.2L110.7 88.2zM114.9 91.2L113.9 88.8L115.8 88.7zM120.3 91L119.2 88.6L121.1 88.5zM125.9 90.9L124.6 88.6L126.5 88.3zM131.5 91L130 88.8L131.9 88.4zM137.3 90.7L135.7 88.7L137.5 88.1zM143.3 88.9L141.3 87.2L142.9 86.3zM148.8 84.7L146.7 84.2L147.6 82.9zM153.8 79.8L152.3 81.1L151.8 79.7zM158.1 75.4L157.5 78L155.9 76.9zM162.2 73.3L162.1 75.9L160.3 75.2zM166.2 73L166.4 75.6L164.6 75.1zM170 73.9L170.5 76.5L168.6 76.2zM174.5 76.2L174.9 78.2L173.4 77.9zM178.8 77.6L179.2 79.2L178.1 79.1zM183.6 78.6L183.9 79.9L183 79.8zM66.8 84.3L68.6 84.5L68 85.6zM67.2 83.6L69.9 83.5L69.3 85.3zM72 85.8L74.5 85L74.4 86.9zM79.1 88.1L81 86.6L81.5 88.3zM85.6 89.6L86.8 87.8L87.7 89zM92.5 91L92.8 88.9L94.1 89.6zM98.6 92.2L98.3 89.9L99.9 90.3zM104.4 93.6L103.6 91L105.5 91.2zM110.2 94.8L109.1 92.3L111 92.3zM115.2 95L114.1 92.5L116 92.4zM121.2 94.9L119.8 92.6L121.7 92.3zM126.9 94.7L125.3 92.5L127.1 92zM132.9 94.4L131 92.5L132.8 91.8zM139.5 94.2L137.4 92.7L138.9 91.6zM146.1 92.7L143.7 91.7L144.9 90.3zM152.2 89.1L149.5 89.2L150.1 87.4zM157 85.2L154.6 86.5L154.4 84.6zM161.4 81.3L159.9 83.5L158.8 81.9zM164.5 79.4L163.7 81.9L162.2 80.7zM167.7 79.1L167.3 81.7L165.7 80.8zM171.5 80.1L171.3 82.6L169.7 81.8zM175.4 81.3L175.4 83.4L174 82.8zM179.6 83.1L179.6 84.6L178.6 84.2zM78.5 93.2L77 92.8L77.6 91.9zM76.9 89.8L78.5 89.8L78.1 90.9zM81.1 91.1L82.8 90.5L82.7 91.8zM87.2 92.6L88.2 91.5L88.7 92.5zM93.3 93.8L93.6 92.4L94.5 93zM98.9 95.7L98.7 93.8L99.9 94.1zM104.7 97.4L104 95.2L105.6 95.2zM110.4 98.3L109.3 95.9L111.1 95.8zM115.9 98.5L114.5 96.2L116.4 95.9zM121.4 98.3L119.9 96.1L121.7 95.7zM127.4 97.9L125.5 96L127.3 95.3zM133.8 97.8L131.6 96.2L133.2 95.2zM140.3 97.2L137.9 96.1L139.2 94.7zM146.7 95.9L144.1 95.4L145.1 93.7zM153 93.4L150.3 93.7L150.8 91.9zM158.3 90.3L155.9 91.5L155.7 89.6zM162 87.7L160.1 89.6L159.4 87.8zM165.5 86.3L164 88.6L162.9 87zM168.6 85.7L167.7 88.2L166.3 86.9zM172 86.4L171.5 88.6L170.2 87.7zM175.3 87.4L175.2 89.1L174 88.6zM179.6 88.3L179.6 89.8L178.6 89.4zM105.1 100.4L104.4 98.8L105.6 98.7zM110.8 101.7L109.7 99.8L111.2 99.6zM115.9 101.9L114.7 100L116.3 99.7zM121.5 101.8L120.1 100L121.6 99.5zM127.4 101.5L125.7 100L127.1 99.2zM133.6 101.3L131.4 100L132.8 99zM139.8 100.7L137.4 99.9L138.5 98.4zM146.1 99.3L143.4 99.1L144.2 97.3zM152.1 98.1L149.5 98.4L149.9 96.6zM157.1 95.6L154.7 96.7L154.5 94.8zM160.9 93.7L158.8 95.4L158.2 93.6zM164.9 92.7L163.3 94.6L162.4 93.1zM168.6 92.2L167.4 94.2L166.3 92.9zM171.7 92.8L171 94.5L170 93.6zM175.7 93.2L175.2 94.7L174.3 94.1zM179.7 93.8L179.5 95.1L178.7 94.6zM105.8 103.7L105 102.7L105.9 102.4zM111.1 104.5L110 103.3L111.1 102.9zM116.2 105.3L115 103.9L116.3 103.4zM121.8 105.3L120.4 104L121.6 103.4zM127.4 104.7L125.8 103.7L126.9 102.9zM133.1 104.6L131.3 103.8L132.3 102.8zM139 103.9L136.9 103.5L137.7 102.2zM145 103.4L142.6 103.3L143.3 101.8zM150.4 102L148.1 102.5L148.3 100.8zM155.5 100.6L153.3 101.6L153.2 99.9zM160 99.7L158 101L157.7 99.4zM163.9 98.8L162.4 100.3L161.8 98.9zM167.7 98.2L166.6 99.8L165.8 98.7zM171.3 98.3L170.6 99.8L169.8 99zM175.7 98.7L175.1 100.1L174.4 99.4zM116.2 108.8L115.1 107.8L116 107.3zM121.5 108.9L120.2 108L121.2 107.4zM127.2 108.6L125.7 107.9L126.5 107.1zM132.6 108.2L131 107.8L131.7 106.8zM137.9 108.1L136.2 107.8L136.8 106.7zM143.5 107.4L141.6 107.4L142.1 106.2zM148.8 106.6L146.9 107L147.1 105.7zM153.9 105.9L152.1 106.6L152.1 105.2zM158.2 105.2L156.7 106.1L156.5 104.8zM162.7 104.7L161.3 105.7L161 104.6zM166.8 104.4L165.8 105.5L165.3 104.5zM170.8 104.2L170.1 105.3L169.5 104.6zM126.3 112.7L125.1 112.2L125.8 111.5zM131.8 112.5L130.4 112.2L131 111.4zM137 112.2L135.6 112.1L136.1 111.2zM142.2 111.8L140.8 111.9L141.1 110.9zM147.5 111.3L146 111.6L146.2 110.5zM152.2 110.7L150.9 111.3L150.8 110.2zM157.1 110.4L155.8 111.1L155.7 110.1zM161.7 110L160.6 110.8L160.3 109.9zM146.9 116.2L145.5 116.4L145.7 115.5z" fill="#000"/>
<polygon points="0,45 204.3,167.6 0,167.6" fill="#000"/>
<path d="M0 0h5M0 11.2h3.6M0 22.3h3.6M0 33.5h3.6M0 44.7h3.6M0 55.9h5M0 67h3.6M0 78.2h3.6M0 89.4h3.6M0 100.6h3.6M0 111.7h5M0 122.9h3.6M0 134.1h3.6M0 145.3h3.6M0 156.4h3.6M0 167.6h5M0 167.6v-5M11.2 167.6v-3.8M22.4 167.6v-3.8M33.7 167.6v-3.8M44.9 167.6v-3.8M56.1 167.6v-5M67.3 167.6v-3.8M78.5 167.6v-3.8M89.8 167.6v-3.8M101 167.6v-3.8M112.2 167.6v-5M123.4 167.6v-3.8M134.6 167.6v-3.8M145.9 167.6v-3.8M157.1 167.6v-3.8M168.3 167.6v-5M179.5 167.6v-3.8M190.7 167.6v-3.8M202 167.6v-3.8M213.2 167.6v-3.8M224.4 167.6v-5" stroke="#000" stroke-width=".8" fill="none"/>
</g>
<rect x="0" y="0" width="224.4" height="167.6" fill="none" stroke="#000" stroke-width="1.7"/>
<text x="-.3" y="181.8" font-size="12" fill="#000" text-anchor="middle">-2</text>
<text x="55.8" y="181.8" font-size="12" fill="#000" text-anchor="middle">-1</text>
<text x="112.2" y="181.8" font-size="12" fill="#000" text-anchor="middle">0</text>
<text x="168.3" y="181.8" font-size="12" fill="#000" text-anchor="middle">1</text>
<text x="224.4" y="181.8" font-size="12" fill="#000" text-anchor="middle">2</text>
<text x="-6.2" y="4.1" font-size="12" fill="#000" text-anchor="end">2</text>
<text x="-6.2" y="60" font-size="12" fill="#000" text-anchor="end">1</text>
<text x="-6.2" y="115.8" font-size="12" fill="#000" text-anchor="end">0</text>
<text x="-6.2" y="171.7" font-size="12" fill="#000" text-anchor="end">-1</text>
<text x="112.2" y="199.4" font-size="13" fill="#111" text-anchor="middle">x/d</text>
<text transform="translate(-15.8,84.1) rotate(-90)" font-size="13" fill="#111" text-anchor="middle">y/d</text>
<text x="6.6" y="16" font-size="12.8" fill="#111">(b) τ=0.9</text>
</g>
<clipPath id="cc"><rect x="0" y="0" width="224.4" height="167.6"/></clipPath>
<g transform="translate(555.9,39.7)">
<g clip-path="url(#cc)">
<rect width="224.4" height="167.6" fill="#00ff00"/>
<path d="M62.4 67.8l.8-.3 .8-.2 .8 0 .8 0 .8 0 .8 .2 .8 .1 .8 .3 .8 .4 .7 .5 .9 .6 .8 .6 .5 .4 1 .8 .7 .8 .5 .8 .3 .8 .2 .8 .2 .8 .3 .8 .2 .8 .2 .8 .1 .8 0 .8-.1 .8-.4 .8-.5 .4-.8 .4-.8-.1-.8-.2-.8-.3-.6-.2-1-.5-.8-.2-.8-.4-.8-.3-.8-.3-.8-.4-.7-.3-.9-.3-.8-.2-.8-.1-.8-.1-.8-.4-.6-.5-.7-.8-.7-.8-.4-.6-.3-1-.1-.8 .2-.8 .2-.7 .6-.9 .6-.8 .4-.6 .8-.7 .5-.3z" fill="#0000ff" stroke="#2a4a7a" stroke-opacity=".8" stroke-width=".6"/>
<path d="M64 67l.8 0 .8 0 .8 0 .8 .1 .8 .2 .8 .2 .8 .4 .8 .5 .5 .4 1 .8 .9 .6 .8 .7 .4 .3 .4 .5 .7 1.1 .3 .8 .2 .8 .3 .8 .3 .8 .2 .8 .2 .8 .1 .8 .1 .8-.1 .8-.3 .8-.4 .5-.8 .6-.8 .1-.8-.1-.8-.3-.8-.4-.8-.3-.8-.4-.8-.3-.8-.3-.8-.4-.8-.3-.8-.4-.8-.3-.8-.2-.8-.2-.8-.1-.8-.1-.8-.3-.8-.7-.8-.9-.6-.8-.5-.8-.2-.8-.1-.8 .2-.8 .3-.8 .6-.8 .3-.6 .8-1 .8-.7 .8-.5 .8-.4 .8-.2zM62.1 68l-.5 .3-.5 .5-.7 .8-.4 .5-.7 1.1-.3 .8-.2 .8 .1 .8 .2 .8 .5 .8 .4 .5 .8 .9 .8 .7 .5 .3 1.1 .2 .8 .1 .8 .2 .8 .3 .8 .3 .8 .4 .8 .3 .8 .3 .6 .3 1 .3 .8 .4 .8 .3 .8 .3 .8 .2 .8 .1 .8-.4 .5-.4 .3-.6 .2-1 0-.8-.1-.8-.2-.8-.2-.8-.3-.8-.2-.8-.2-.8-.3-.8-.3-.5-.8-1-.8-.7-.8-.6-.6-.4-1-.8-.8-.5-.6-.3-1-.4-.8-.1-.8-.2-.8 0-.8 0-.8 0-.8 .2-.8 .3z" fill="#0050e0" stroke="#2a4a7a" stroke-opacity=".8" stroke-width=".6"/>
<path d="M63.2 67l.8-.2 .8-.2 .8 0 .8 .1 .8 .1 .8 .1 .8 .3 .8 .3 .8 .5 .8 .6 .8 .6 .5 .4 1.1 .8 .8 .7 .7 .9 .5 .8 .2 .8 .3 .8 .3 .8 .2 .8 .2 .6 .3 1 .1 .8 .1 .8 0 .8-.2 .8-.3 .6-.8 .8-.6 .2-1 0-.8-.2-.8-.4-.5-.2-1.1-.6-.5-.2-1.1-.5-.8-.3-.8-.4-.8-.3-.8-.3-.8-.4-.8-.2-.8-.1-.8-.1-.8-.1-.8-.3-.8-.6-.3-.4-.5-.5-.8-1.1-.4-.8-.3-.8 0-.8 .2-.8 .3-.8 .5-.8 .5-.8 .7-.8 .8-.8 .9-.7 .8-.3zM63.3 67.2l-.9 .4-.7 .4-.9 .8-.6 .8-.5 .8-.5 .6-.4 1-.2 .8 .1 .8 .2 .8 .3 .5 .8 1.1 .7 .8 .9 .8 .8 .3 .8 .1 .8 .1 .8 .2 .8 .2 .8 .3 .8 .4 .8 .3 .8 .4 .8 .3 .8 .3 .6 .3 1 .4 .8 .4 .8 .3 .8 .1 .8-.1 .5-.3 .7-.8 .3-.8 .1-.8-.1-.8-.1-.8-.2-.8-.2-.8-.3-.8-.3-.8-.2-.8-.3-.8-.4-.8-.7-.8-.4-.3-.6-.5-1-.7-.8-.7-.8-.6-.7-.4-.9-.5-.8-.2-.8-.2-.8-.1-.8 0-.8 0-.8 0-.7 .2z" fill="#00b090" stroke="#2a4a7a" stroke-opacity=".8" stroke-width=".6"/>
<path d="M64.8 66.3l.8 0 .8 0 .8 .1 .8 .1 .8 .2 .8 .3 .8 .5 .6 .5 1 .8 .8 .6 .8 .5 .6 .5 .9 .8 .6 .8 .3 .7 .3 .9 .3 .8 .2 .7 .3 .9 .3 .8 .2 .8 .2 .8 .1 .8 0 .8-.1 .8-.2 .7-.7 .9-.9 .5-.8 0-.8-.1-.8-.3-.8-.4-.8-.4-.8-.5-.8-.4-.8-.4-.8-.3-.8-.3-.8-.4-.6-.2-1-.4-.8-.2-.8-.1-.8-.1-.8-.1-.8-.3-.6-.4-.7-.8-.7-.8-.4-.5-.6-1.1-.2-.6 0-1 .2-.8 .3-.8 .3-.6 .7-1 .6-.8 .8-.8 1-.8 .9-.5 .8-.2 .8-.2zM62.7 67.2l-1.1 .7-.8 .7-.8 1-.5 .8-.3 .4-.5 1.2-.2 .8 0 .8 .3 .8 .4 .8 .6 .8 .7 .8 .3 .4 .5 .4 1.1 .5 .8 .1 .8 .1 .8 .1 .8 .2 .8 .4 .5 .2 1.1 .4 .8 .4 .8 .3 .8 .4 .8 .3 .8 .5 .8 .3 .8 .4 .7 .2 .9 0 .8-.2 .7-.6 .4-.8 .2-.8 0-.8-.1-.8-.1-.8-.2-.8-.3-.8-.2-.8-.3-.8-.3-.8-.2-.8-.4-.7-.7-.9-.9-.8-.8-.6-.8-.6-.6-.4-1-.8-.8-.5-.7-.3-.9-.3-.8-.1-.8-.1-.8-.1-.8 0-.8 .2-.8 .2z" fill="#00ffc8" stroke="#2a4a7a" stroke-opacity=".8" stroke-width=".6"/>
<path d="M63.2 66.4l.8-.4 .8-.2 .8-.1 .8-.1 .8 .1 .8 .1 .8 .1 .8 .3 .5 .2 1.1 .8 .8 .7 .8 .6 .8 .6 .7 .5 .9 .6 .8 .8 .6 1 .3 .8 .3 .8 .2 .8 .2 .6 .4 1 .2 .8 .2 .6 .3 1 .3 .8 .1 .8 .1 .8-.1 .8-.3 .8-.4 .5-.8 .6-.8 .2-.8 0-.8-.1-.8-.3-.8-.4-.8-.5-.8-.5-.5-.3-1.1-.6-.8-.4-.8-.3-.7-.3-.9-.4-.8-.3-.8-.3-.8-.3-.8-.1-.8 0-.8-.1-.8-.2-.8-.6-.8-.8-.6-.9-.6-.8-.4-.7-.2-.9 0-.8 .2-.8 .4-.8 .4-.8 .6-.8 .5-.8 .5-.6 .8-.7 .8-.6 .8-.5zM64.4 66.4l-1.2 .3-.8 .4-.8 .6-.8 .8-.8 .9-.6 1-.5 .8-.3 .8-.2 .6 0 1 .2 .8 .4 .8 .6 .8 .4 .5 .8 .9 .8 .6 .8 .3 .7 .1 .9 .1 .8 .1 .8 .2 .8 .3 .8 .3 .8 .4 .5 .2 1.1 .4 .7 .4 .9 .4 .7 .4 .9 .5 .7 .3 .9 .4 .8 .1 .8 0 .8-.4 .8-.9 .2-.8 .1-.8 0-.8-.1-.8-.2-.6-.2-1-.3-.8-.3-.8-.2-.8-.3-.8-.3-.8-.3-.8-.5-.7-.8-.7-.8-.7-.5-.3-1.1-.8-.8-.7-.8-.6-.5-.3-1.1-.5-.8-.2-.8-.1-.8-.1-.8 0-.8 0zM87.2 93.7l.8 0 .8 .7 .8 .7 .8 .7 .8 .8 .6 1 0 .8-.3 .8-1.1 .7-.8-.1-.8-.4-.8-.9-.7-.9-.4-.8-.3-.8 0-.8 .2-.8 .4-.7zM97.6 102.4l.8 0 .8 .2 .8 .4 .8 .7 .4 1.1-.4 .7-.8 .5-.8 0-.8 0-.8-.3-.8-.5-.4-.4-.4-.8 .1-.8 .7-.6 .7-.2z" fill="#20ffb0" stroke="#2a4a7a" stroke-opacity=".8" stroke-width=".6"/>
<path d="M64.8 65.4l.8-.2 .8-.1 .8 0 .8 0 .8 .1 .8 .2 .8 .3 .8 .6 .8 .6 .8 .8 .4 .3 .4 .3 .7 .5 .9 .6 .8 .6 .5 .4 .3 .4 .7 1.2 .3 .8 .2 .8 .2 .8 .2 .6 .4 1 .2 .8 .3 .8 .4 .8 .3 .8 .3 .8 .1 .8-.1 .8-.2 .8-.4 .8-.5 .5-.8 .5-.8 .1-.8 0-.8-.1-.7-.2-.9-.4-.7-.4-.9-.6-.8-.5-.8-.5-.8-.5-.7-.3-.9-.4-.8-.3-.8-.4-.8-.3-.5-.2-1.1-.3-.8-.2-.8 0-.8-.1-.8-.2-.8-.5-.8-.9-.8-1-.5-.8-.3-.5-.3-1.1 .1-.8 .1-.8 .4-.8 .4-.8 .6-.8 .3-.5 .8-1.1 .8-.7 .8-.6 .5-.3 1.1-.7 .8-.3zM63.2 66.4l-.8 .5-.4 .3-1 .8-.7 .8-.3 .4-.8 1.2-.4 .8-.4 .8-.2 .8 0 .8 .2 .8 .4 .8 .4 .6 .8 1 .7 .8 .9 .7 .8 .2 .8 .1 .8 0 .8 .1 .8 .3 .5 .2 1.1 .4 .8 .4 .8 .3 .8 .3 .8 .4 .8 .4 .8 .5 .8 .5 .8 .5 .6 .3 1 .4 .8 .1 .8 0 .8-.2 .5-.3 .7-.8 .3-.8 .1-.8-.1-.8-.1-.8-.3-.8-.2-.8-.3-.8-.2-.8-.3-.8-.3-.8-.2-.8-.3-.8-.3-.8-.5-.8-.7-.8-1-.7-.8-.6-.4-.3-1-.8-1-.8-.8-.6-.8-.4-.8-.3-.8-.1-.8-.1-.8-.1-.8 .1-.8 .1-.8 .2-.8 .4zM87.2 91.2l.8 .2 .7 .6 .6 .8 .6 .8 .5 .6 .8 .8 .8 .9 .7 .9 .4 .8 .2 .8-.1 .8-.2 .8-.7 .8-1.1 .6-.8 .1-.8-.1-.8-.6-.8-.8-.6-.8-.6-.8-.4-.5-.7-1.1-.4-.8-.1-.8 0-.8 .2-.8 .2-.6 .5-1 1.1-.8zM86.8 94.4l-.2 .8 0 .8 .3 .8 .3 .6 .7 1 .7 .8 1 .6 .8 .1 .8-.4 .6-1.1 0-.8-.5-.8-.7-.8-.9-.8-.9-.8-.8-.7-.8 0-.4 .7zM96 101.5l.8-.1 .8 0 .8 .1 .7 .1 .9 .2 .8 .3 .5 .3 1 .8 .6 .8 .1 .8-.3 .8-.7 .8-1.2 .7-.8 .2-.8-.1-.8-.6-.8 0-.8-.8-.8-.1-.8-.8-.6-.9-.1-.8 .2-.8 .5-.5 .5-.3zM97.5 102.4l-.7 .2-.7 .6-.1 .7 .4 .9 .4 .4 .6 .4 1 .4 .8 0 .8 0 .7-.4 .5-.8-.2-.8-.7-.8-1.1-.6-.8-.2-.8 0zM111.2 106.9l.8 .1 .8 .5 .6 .5 .8 .8 .4 .8-.1 .8-.6 .8-1.1 .5-.8 .2-.8 0-.8 0-.8-.4-.7-1.1 .1-.8 .4-.8 .4-.8 .6-.8 .8-.3z" fill="#10ff50" stroke="#2a4a7a" stroke-opacity=".8" stroke-width=".6"/>
<path d="M60.8 64l.8-.3 .8-.1 .8 .2 .1 1-.6 .8-.7 .8-.9 .8-.7 .8-.4 .5-.7 1.1-.5 .8-.4 .7-.3 .9-.2 .8-.1 .8 .1 .8 .3 .8 .5 .8 .5 .7 .7 .9 .8 .8 .9 .5 .8 .2 .8 .1 .8 0 .8 .1 .8 .2 .8 .2 .6 .3 1 .4 .8 .3 .8 .4 .8 .5 .8 .5 .4 .3 .4 .4 .5 .4 .9 .8 .9 .8 .9 .8 .6 .8-.4 .8-1 .6-.8 .1-.8 .1-.8-.1-.8-.3-.8-.3-.8-.4-.8-.4-.8-.3-.8-.4-.8-.4-.8-.3-.8-.3-.8-.1-.8 0-.8 0-.8 .1-.8-.3-.8 0-.5-.5-.9-.8-1-.5-.8-1.1-.7-.8-.6-.8-.3-.4-.3-.4-.5-.7-.7-.9-.5-.8-.4-.8-.8-.8-.8-.2-.8-.2-.8-.4-.5-.8-.3-.8-.2-.8-.2-.8-.2-.8-.3-.8-.2-.8-.1-.8 .3-.8 .7-.8 1-.6 .8-.4 .8-.2 .8 0 .8 .3 .8 .3 .8 .3 .8 .2 .8-.3 .6-.4 1-.7 .8-.3 .8-.3 .8-.1 .8-.2zM58.8 64.8l-1.2 .4-.6 .4-.9 .8-.9 .4-.8 0-.8-.2-.5-.2-1.1-.3-.8 .1-.8 .2-.8 .5-.8 1.1-.1 .8 .2 .8 .2 .8 .2 .8 .2 .8 .3 .8 .4 .8 1 .5 .8 .2 .8 .8 .3 .9 .5 .8 .4 .8 .4 .5 .8 1.1 .6 .8 .6 .8 .4 .5 .8 1.1 .8 .4 .4 .4 .4 .4 .5 .4 1.1 .4 .8 .1 .8 0 .8 0 .8 0 .8 .1 .8 .1 .8 .2 .8 .4 .8 .3 .8 .4 .8 .4 .8 .4 .8 .3 .8 .3 .8 .1 .8-.1 .7-.2 .7-.8-.3-.8-.8-.8-.8-.8-.8-.8-.9-.8-1-.7-.8-.5-.8-.4-.8-.3-.8-.4-.8-.3-.8-.3-.8-.1-.8-.1-.8 0-.8-.1-.8-.2-.8-.4-.8-.7-.8-1-.6-.9-.5-.8-.3-.8-.1-.8 .1-.8 .2-.8 .3-.8 .5-.8 .4-.8 .6-.8 .5-.8 .5-.6 .8-.9 .8-.8 .5-.9-.5-.8-.8 0-.8 .2-.8 .2-.8 .2zM147.2 75l.8-.3 .8-.2 .8 0 .8 .1 .8 .1 .8 .2 .8 .3 .8 .3 .8 .4 .8 .5 .5 .4 1.1 .8 .8 .7 .8 .9 .7 .8 .9 .8 .8 .5 .8 .5 .8 .5 .8 .5 .6 .4 1 .7 .8 .6 .8 .8 .8 .8 .8 1 .6 .9 .5 .8 .3 .8 .2 .8 .2 .8 .1 .8 0 .8 0 .8-.1 .8-.2 .8-.3 .8-.4 .8-.5 .8-.4 .6-.8 1-.7 .8-.7 .8-.8 .8-.9 .8-.9 .7-.8 .6-.8 .6-.6 .5-.9 .8-.9 .8-.8 .8-.8 .8-.8 .8-.8 .8-.8 .7-.8 .7-.8 .5-.8 .5-.8 .5-.5 .3-.7 .8-.2 .8 .2 .8 .3 .8 .3 .8 .3 .8 .1 .8-.3 .8-.3 .4-.6 .4-1 .4-.8 .1-.8 .1-.8 .1-.8 0-.8-.1-.8-.2-.8-.2-.8-.4-.8-.4-.8-.4-.8-.4-.6-.2-1-.4-.8-.4-.8-.4-.8-.3-.8-.4-.8-.3-.5-.2-1.1-.4-.8-.3-.8-.3-.8-.4-.8-.5-.8-.5-.8-.6-.8-.6-.6-.4-1-.6-.8-.4-.8-.3-.8-.3-.8-.5-.4-.3-.9-.8-1-.8-.9-.7-.8-.5-.8-.4-.8-.5-.5-.3-1.1-.8-.8-.7-.8-.7-.8-.7-.8-.7-.5-.4-.9-.8-.9-.8-.7-.8-.4-.8-.2-.8-.1-.8 .1-.8 .2-.8 .4-.8 .6-.8 .6-.8 .6-.8 .4-.5 .8-1 .8-.7 .8-.5 .8-.4 .8-.2 .8-.2 .8-.2 .8-.1 .8-.1 .8 0 .8 0 .8 .1 .8 .2 .8 .2 .8 .2 .8 .1 .8 .1 .8-.1 .8 0 .8-.2 .8-.3 .8-.4 .8-.6 .8-.7 .8-.7 .5-.4 .9-.8 .9-.8 .9-.7 .8-.6 .5-.3 1.1-.8 .8-.6 .8-.7 .4-.3 1.2-.8 .8-.5 .6-.3 1-.5 .6-.3 1-.7 .8-.7 .8-.7 .8-.5zM149.2 76.8l-1.2 .7-.8 .6-.4 .3-1.2 .7-.8 .3-.8 .2-.8 .2-.6 .2-1 .4-.6 .4-1 .7-.8 .8-.8 .9-.6 .8-.6 .8-.4 .5-.8 .8-.8 .7-.4 .4-.4 .4-.5 .4-.3 .5-.7 1.1-.4 .8-.5 .8-.8 .5-.8 .2-.8 0-.8-.1-.8-.1-.8-.1-.8-.1-.8-.1-.8-.1-.8-.2-.8-.2-.8-.3-.8-.2-.8-.2-.8-.1-.8 .1-.8 0-.8 .2-.8 .2-.8 .3-.6 .3-1 .8-.6 .8-.5 .8-.4 .8-.4 .8-.4 .8-.2 .8 .1 .8 .4 .8 .4 .5 .8 .7 .5 .4 1 .8 .8 .8 .7 .8 .8 .8 .8 .8 1 .6 .8 .5 .8 .4 .8 .4 .8 .4 .8 .4 .8 .4 .8 .3 .8 .4 .8 .4 .8 .5 .8 .6 .4 .3 .4 .3 .5 .5 .8 .8 .8 .8 .9 .8 1 .7 .8 .4 .8 .3 .6 .2 1 .4 .8 .3 .8 .4 .8 .3 .8 .4 .8 .4 .8 .4 .8 .3 .5 .3 1.1 .5 .6 .3 1 .3 .8 .2 .8-.1 .8-.1 .7-.3 .7-.8 0-.8-.2-.8-.3-.8-.2-.8-.1-.8 .1-.8 .3-.8 .6-.6 .8-.4 .8-.2 .8-.2 .6-.2 1-.3 .8-.5 .8-.6 .8-.7 .8-.8 .4-.3 .4-.4 .4-.4 .4-.4 .4-.4 .4-.5 .8-.8 .8-.8 .8-.7 .6-.4 1-.6 .8-.5 .6-.5 .9-.8 .7-.8 .7-.8 .7-.8 .4-.6 .6-1 .4-.8 .2-.8 .1-.8 .1-.8-.1-.8-.1-.8-.2-.8-.2-.6-.5-1-.7-.8-.4-.4-.4-.4-.4-.3-.5-.5-.9-.8-1-.8-.8-.7-.8-.5-.8-.4-.8-.4-.8-.4-.8-.5-.5-.3-1-.8-.9-.8-.8-.8-.8-.7-.8-.8-.8-.5-.8-.4-.8-.2-.8-.1-.8 .1z" fill="#50ff10" stroke="#7a3a00" stroke-opacity=".8" stroke-width=".6"/>
<path d="M59.2 64.6l.8-.2 .8-.2 .8-.2 .8 0 .5 .8-.4 .8-.7 .8-.8 .8-.7 .8-.3 .4-.8 1.2-.4 .8-.4 .6-.4 1-.2 .8-.1 .8 .1 .8 .3 .8 .3 .5 .7 1.1 .7 .8 .7 .8 1.1 .6 .6 .2 1 .1 .8 0 .8 .1 .8 .1 .8 .3 .8 .3 .8 .4 .7 .3 .9 .4 .7 .4 .9 .6 .8 .7 .8 .8 .8 .9 .8 .8 .6 1-.6 .7-.8 .3-.8 .1-.8-.1-.8-.3-.8-.3-.7-.4-.9-.4-.8-.4-.8-.3-.8-.4-.8-.2-.8-.1-.8-.1-.8 0-.8 0-.8 0-.8-.1-.8-.1-.8-.7-.4-.4-.4-.4-.8-.4-.6-.8-.6-.8-.4-.6-.8-1-.6-.8-.6-.8-.4-.8-.5-.8-.3-.8-.7-.8-.9-.3-.8-.4-.6-.9-.3-.8-.2-.8-.2-.8-.2-.8-.2-.8 .1-.8 .5-.8 1.1-.8 .8-.2 .8-.1 .8 .2 .8 .3 .8 .2 .8 0 .8-.3 .8-.7 .8-.6 .8-.3 .8-.3zM59.8 64.8l-.6 .1-.8 .2-.8 .5-.8 .6-.8 .8-.8 .6-.8 .1-.8-.2-.8-.2-.8 0-.8 .3-.6 .4-.3 .8 0 .8 .1 .7 .2 .9 .3 .8 .3 .5 .8 .5 .8 .4 .2 1 .2 .8 .4 .8 .3 .8 .5 .8 .5 .8 .3 .4 .8 1 .8 1 .6 .8 .5 .8 .5 .3 .5 .5 1.1 .8 .8 .1 .8 .1 .8 0 .8-.1 .8 0 .8 .1 .8 .1 .8 .2 .8 .3 .8 .3 .8 .3 .8 .4 .8 .4 .5 .2 1.1 .4 .8 0 .8-.2 .3-1-.6-.8-.5-.6-.8-1-.8-.8-.8-.6-.8-.5-.8-.3-.8-.4-.8-.3-.7-.3-.9-.3-.8-.2-.8-.1-.8 0-.8 0-.8-.2-.8-.4-.5-.4-.7-.8-.4-.5-.8-1.1-.4-.8-.3-.8-.1-.8 .1-.8 .2-.8 .3-.8 .5-.8 .4-.8 .6-.8 .3-.6 .8-1 .7-.8 .6-.8 .3-.8-.8-.4-.8 .1-.8 .2zM149.6 76.6l.8-.1 .8 .1 .8 .2 .8 .4 .6 .4 .9 .8 .9 .8 .8 .8 .8 .7 .8 .6 .8 .6 .8 .5 .8 .4 .8 .4 .8 .4 .6 .4 1 .8 .8 .7 .8 .7 .8 .7 .4 .3 .4 .4 .4 .4 .4 .4 .7 1.2 .3 .8 .2 .8 .1 .8 .1 .8-.1 .8-.1 .8-.2 .8-.4 .8-.4 .8-.6 .8-.4 .5-.8 .9-.8 .9-.8 .7-.8 .7-.5 .3-1.1 .7-.8 .5-.5 .4-.8 .8-.8 .8-.7 .8-.4 .4-.4 .4-.4 .4-.4 .4-.4 .3-.5 .5-.8 .8-1.1 .8-.8 .5-.8 .3-.8 .2-.8 .2-.8 .2-.8 .4-.6 .6-.3 .8-.1 .8 .1 .8 .2 .8 .3 .8 .2 .8 0 .8-.6 .7-.8 .4-.8 .1-.8 .1-.8-.2-.8-.2-.8-.4-.8-.4-.8-.4-.8-.3-.8-.4-.8-.4-.8-.4-.8-.3-.6-.3-1-.4-.8-.3-.8-.3-.8-.3-.6-.3-1-.7-.8-.6-.8-.8-.8-.8-.8-.8-.4-.3-.4-.3-.7-.5-.9-.6-.8-.4-.8-.4-.5-.2-1.1-.5-.5-.3-1.1-.5-.5-.3-1.1-.5-.5-.3-1.1-.7-.8-.7-.8-.8-.8-.9-.8-.8-.8-.7-.8-.6-.5-.4-.7-.8-.4-.8-.1-.8 .2-.8 .4-.8 .3-.7 .5-.9 .3-.5 .8-1.1 .8-.7 .8-.4 .8-.3 .8-.2 .8-.2 .8 0 .8-.1 .8 .1 .8 .2 .8 .2 .8 .3 .8 .2 .8 .2 .8 .1 .8 .1 .8 .1 .8 .1 .8 .1 .8 .1 .8 0 .8-.2 .8-.5 .5-.8 .3-.5 .6-1.1 .5-.8 .5-.4 .4-.4 .4-.4 .5-.4 .8-.8 .7-.8 .4-.5 .8-1.1 .7-.8 .8-.8 .9-.7 .8-.5 .8-.3 .8-.3 .8-.2 .8-.2 .8-.3 .8-.5 .8-.5 .6-.5 1-.6 .8-.4zM150 80l-1.2 .3-.8 .3-.7 .2-.9 .2-.8 .3-.8 .2-.6 .1-1 .3-.8 .4-.8 .6-.8 .9-.6 1-.2 .5-.6 1.1-.6 .8-.4 .6-.8 1-.6 .8-.5 .8-.3 .8-.2 .7-.3 .9-.3 .8-.2 .7-.3 .9-.3 .8-.2 .5-.8 .9-.8 .3-.8-.1-.8-.2-.8-.4-.8-.4-.8-.5-.8-.4-.8-.3-.7-.2-.9-.2-.8-.1-.8-.3-.6-.2-1-.5-.8-.3-.8-.2-.8-.1-.8 0-.8 .1-.8 .3-.8 .6-.5 .9 .1 .8 .4 .8 .8 .8 .8 .8 .7 .8 .7 .8 .6 .8 .4 .5 .8 .7 .6 .4 1 .4 .8 .2 .8 .2 .8 .2 .8 .2 .7 .4 .9 .6 .8 .7 .8 .8 .8 .8 .8 .8 .8 .8 .8 1 .7 .9 .9 .8 .8 .5 .8 .5 .8 .4 .8 .4 .8 .5 .8 .4 .8 .4 .8 .3 .8 .2 .8 .2 .8 .1 .7-.7 .1-.8-.1-.8-.3-.8-.3-.8-.2-.8 .2-.8 .7-.6 .8-.3 .8-.1 .8 0 .8 0 .8 .1 .8 0 .8 .1 .8-.1 .8-.1 .8-.2 .7-.4 .9-.7 .8-.7 .8-.8 .8-.7 .8-.8 .8-.9 .8-.9 .8-.8 .8-.6 .5-.3 1.1-.6 .8-.6 .6-.4 .9-.8 .7-.8 .7-.8 .3-.4 .7-1.2 .2-.8 .1-.8 0-.8-.1-.8-.1-.6-.6-1-.9-.8-.9-.6-.8-.7-.8-1.1-.6-.8-.7-.8-1.1-.8-.8-.5-.6-.3-1-.6-.8-.5-.6-.5-1-.7-.8-.6-.5-.3-1.1-.6-.6-.2-1-.2-.8 .1z" fill="#b0ff10" stroke="#7a3a00" stroke-opacity=".8" stroke-width=".6"/>
<path d="M60 64.7l.8-.2 .8-.1 .8 .4-.3 .8-.5 .7-.8 .9-.6 .8-.5 .8-.5 .7-.5 .9-.3 .4-.5 1.2-.2 .8-.1 .6 .1 1 .3 .8 .4 .8 .6 .8 .6 .8 .4 .5 .8 .7 .8 .4 .8 .2 .8 0 .8 0 .8 .1 .8 .2 .8 .2 .8 .4 .8 .3 .5 .2 1.1 .5 .5 .3 1.1 .8 .8 .8 .7 .8 .6 .8 .3 .5 .3 1.1-1.1 .4-.8 0-.8-.3-.8-.3-.8-.4-.8-.4-.8-.3-.7-.3-.9-.3-.8-.2-.8-.1-.8-.1-.8 0-.8 .1-.8 0-.8-.1-.8-.1-.8-.5-.8-.8-.5-.3-.3-.5-.8-1.1-.6-.8-.7-.8-.6-.8-.5-.8-.5-.8-.3-.7-.4-.9-.2-.8-.1-.8-.9-.6-.8-.5-.3-.5-.3-.8-.2-.8-.1-.8 0-.8 .3-.8 .6-.4 .8-.3 .8 0 .8 .2 .8 .2 .8-.1 .4-.4 1-.8 1-.8 .8-.5 .8-.2 .6-.1zM60.5 64.8l-1.3 .3-.8 .2-.5 .3-1.1 .8-.8 .8-.8 .8-.8 .3-.8-.1-.8-.1-.8 .3-.5 .4-.1 .8 .1 .8 .2 .8 .3 .5 .8 .6 .3 .5 .2 .8 0 .8 .1 .8 .3 .8 .3 .8 .4 .6 .7 1 .6 .8 .3 .4 .3 .4 .5 .6 .8 1 .5 .8 .9 .8 1 .7 .8 .1 .8 0 .8 0 .8-.1 .8 0 .8 .1 .8 .1 .8 .2 .8 .3 .8 .2 .8 .3 .8 .4 .8 .3 .8 .4 .8 .2 .8 0 .5-.8-.3-.8-.6-.8-.4-.5-.8-.9-.8-.6-.5-.4-1.1-.6-.5-.2-1.1-.5-.8-.3-.8-.3-.8-.1-.8-.1-.8 0-.8-.1-.8-.1-.8-.4-.6-.5-.7-.8-.6-.8-.5-.7-.5-.9-.3-.8-.1-.8 .1-.8 .3-.8 .3-.8 .4-.8 .5-.8 .5-.8 .4-.7 .7-.9 .7-.8 .5-.8-.1-.8-1-.1zM150.4 79.9l.8-.1 .8 .1 .8 .3 .8 .4 .8 .5 .7 .5 .9 .7 .8 .6 .5 .3 1.1 .7 .8 .4 .8 .5 .8 .5 .8 .8 .8 1.1 .6 .8 .7 .8 1.1 .7 .8 .7 .7 1 .2 .8 .1 .8 0 .8-.1 .8-.2 .8-.5 .8-.5 .8-.5 .6-.8 .9-.8 .7-.8 .6-.5 .4-1.1 .6-.8 .5-.7 .5-.8 .8-.7 .8-.7 .8-.8 .8-.8 .8-.9 .8-.8 .8-1 .8-.8 .4-.8 .2-.8 .1-.8 .1-.8-.1-.8 0-.8-.1-.8 0-.8 0-.8 .1-.8 .3-.7 .6-.2 .8 .2 .8 .3 .8 .3 .8 .1 .7-.1 .9-.7 .7-.8-.1-.8-.2-.8-.2-.5-.2-1.1-.5-.6-.3-1-.6-.8-.4-.8-.4-.8-.5-.8-.5-.8-.7-.7-.9-.7-.8-.7-.8-.8-.8-.8-.8-.8-.8-.9-.8-1-.8-.8-.4-.8-.2-.7-.2-.9-.2-.8-.2-.8-.3-.8-.5-.5-.4-.7-.8-.4-.5-.8-1-.8-.9-.8-.8-.8-.8-.4-.8-.1-.8 .4-.8 .9-.7 .8-.3 .8-.1 .8 0 .8 .1 .8 .2 .8 .3 .8 .4 .8 .3 .8 .3 .8 .1 .8 .2 .8 .2 .8 .3 .6 .3 1 .6 .8 .4 .8 .4 .8 .2 .8 .1 .8-.3 .6-.6 .4-.8 .3-.8 .3-.8 .2-.8 .3-.8 .3-.8 .2-.8 .3-.8 .3-.5 .8-1.1 .6-.8 .6-.8 .4-.5 .6-1.1 .4-.8 .5-.8 .6-.8 .9-.8 1-.5 .8-.3 .8-.1 .8-.2 .8-.3 .8-.2 .8-.2 .8-.3 .8-.2 .8-.2zM150.3 81.6l-.7 .1-.8 .1-.8 .1-.8 .2-.8 .2-.6 .1-1 .3-.8 .3-.5 .2-1.1 .8-.7 .8-.6 .8-.3 .5-.7 1.1-.6 .8-.3 .5-.8 1.1-.4 .8-.4 .8-.2 .8-.2 .8-.2 .8-.2 .8-.1 .8 0 .8-.1 .8 .1 .8-.1 .8 0 .8-.2 .8-.3 .8-.5 .8-.4 .6-.8 .5-.8 .3-.5 .2-.3 .6 .4 1 .4 .6 .8 .9 .8 .9 .7 .8 .8 .8 .9 .6 .8-.6 .7-.8 .9-.4 .8-.4 .8-.2 .8-.2 .8-.1 .8 0 .8 0 .8 .2 .8 .1 .8 .2 .8 .1 .8 .2 .8 0 .8 0 .8-.1 .5-.2 1.1-.7 .8-.6 .8-.7 .4-.4 .4-.3 .5-.5 .7-.8 .4-.5 .8-1 .8-.8 .8-.6 .5-.3 1.1-.6 .8-.6 .6-.4 .9-.8 .7-.8 .6-.8 .4-.7 .3-.9 .1-.8-.2-.8-.2-.5-.8-.8-.8-.6-.7-.5-.7-.8-.5-.8-.4-.8-.4-.8-.5-.7-.8-.8-.8-.6-.5-.3-1.1-.8-.8-.6-.8-.6-.6-.4-1-.5-.8-.3-.8-.1-.8 0-.8 .1z" fill="#ffff00" stroke="#7a3a00" stroke-opacity=".8" stroke-width=".6"/>
<path d="M60.8 64.7l.8 0 .3 .9-.3 .4-.8 1-.7 1-.5 .8-.4 .6-.6 1-.4 .8-.3 .8-.3 .8-.1 .8 .1 .8 .3 .8 .4 .8 .6 .8 .3 .4 .8 1 .8 .7 .6 .3 1 .2 .8 .1 .8 0 .8 .1 .8 .1 .7 .3 .9 .3 .8 .4 .8 .3 .8 .4 .8 .6 .6 .4 .8 .8 .6 .8 .4 .6 .5 1-.5 .8-.8 0-.8-.2-.8-.4-.8-.3-.8-.4-.8-.3-.8-.2-.8-.3-.8-.2-.8-.1-.8-.1-.8 0-.8 .1-.8 0-.8 0-.8-.1-.8-.5-.8-.9-.8-.9-.6-.8-.7-.8-.3-.4-.3-.4-.5-.6-.7-1-.5-.8-.3-.8-.3-.8-.1-.8 0-.8-.2-.8-.3-.5-.6-.3-.5-.8-.2-.8-.1-.8 .1-.8 .5-.4 .8-.3 .8 .1 .8 .1 .8-.3 .8-.7 .8-.8 .8-.8 .8-.4 .8-.2 .8-.2 .8-.2zM58.2 65.6l-.6 .3-.6 .5-.8 .8-.7 .8-.3 .5-.6 .3-1 .1-.8 .4-.2 1.1 .5 .8 .5 .5 .1 1.1-.1 .8-.1 .8 .1 .8 .2 .8 .4 .8 .4 .8 .6 .8 .6 .8 .7 .8 .3 .4 .3 .4 .5 .6 .7 1 .9 .8 .8 .5 .8 .2 .8 0 .8 0 .8-.1 .8 0 .8 .1 .8 0 .8 .2 .8 .2 .8 .3 .7 .2 .9 .4 .8 .3 .8 .3 .8 .1 .7-.3-.1-.8-.4-.8-.6-.8-.4-.4-.4-.4-.4-.3-.7-.5-.9-.5-.7-.3-.9-.4-.8-.3-.8-.3-.8-.2-.8 0-.8 0-.8-.1-.8-.1-.8-.4-.7-.6-.7-.8-.6-.8-.4-.5-.6-1.1-.2-.5-.1-1.1 0-.8 .3-.8 .3-.8 .3-.6 .6-1 .5-.8 .5-.8 .6-.8 .6-.8 .4-.7-.8-.8-.8 .1-.8 .2-.8 .3zM150.4 81.6l.8-.1 .8 0 .8 .1 .8 .3 .8 .3 .8 .6 .6 .4 1 .8 .8 .6 .8 .5 .7 .5 .9 .8 .5 .8 .3 .5 .5 1.1 .3 .5 .8 1 .8 .6 .8 .6 .6 .5 .4 .8 .2 .8-.1 .8-.2 .8-.5 .8-.4 .6-.8 .9-.8 .7-.8 .6-.5 .4-1.1 .6-.8 .5-.6 .5-.9 .8-.6 .8-.7 .8-.4 .5-.8 .8-.4 .3-.4 .4-.5 .4-.9 .8-1 .7-.8 .3-.8 .1-.8 0-.8 0-.8-.2-.7-.1-.9-.2-.8-.1-.8-.2-.8 0-.8 0-.8 .1-.8 .2-.7 .2-.9 .4-.8 .4-.8 .8-.8 .6-.8-.5-.8-.8-.8-.9-.7-.8-.7-.8-.6-.8-.4-.7 .3-.9 .5-.2 .8-.3 .8-.5 .4-.6 .4-.5 .4-1.1 .2-.8 0-.8 .1-.8-.1-.8 .1-.8 0-.8 .1-.8 .2-.8 .2-.8 .2-.8 .2-.7 .4-.9 .4-.7 .6-.9 .5-.8 .5-.6 .6-1 .5-.8 .5-.7 .8-.9 .8-.6 .8-.4 .8-.3 .8-.3 .8-.1 .8-.2 .8-.2 .8-.1 .8-.1 .7-.1zM147.6 83.2l-1.2 .2-.8 .3-.8 .3-.8 .4-.6 .4-.9 .8-.7 .8-.6 .8-.4 .5-.8 1.1-.5 .8-.3 .6-.5 1-.2 .8-.2 .8-.1 .8-.1 .8-.1 .8 0 .8 0 .8 .1 .8 .1 .8 .2 .8 .1 .8 .3 .8 .3 .8 .5 .8 .4 .5 .8 .8 .5 .3 1.1 .5 .8 .2 .8 .2 .8 .2 .8 .2 .8 .3 .8 .2 .8 .2 .8 .1 .8 .1 .8 0 .8-.2 .8-.4 .8-.6 .8-.5 .6-.5 .9-.8 .7-.8 .6-.8 .4-.5 .8-.9 .8-.6 .5-.4 1.1-.7 .8-.6 .8-.7 .4-.4 .4-.5 .6-1.1 .2-.8-.2-.8-.5-.8-.7-.8-.6-.8-.4-.5-.7-1.1-.4-.8-.4-.8-.5-.8-.4-.5-.8-.8-.8-.7-.4-.4-.4-.3-.6-.5-1-.7-.8-.4-.8-.2-.8-.1-.8 .1-.8 .1-.8 .1-.8 .1-.8 .1z" fill="#f8b010" stroke="#7a3a00" stroke-opacity=".8" stroke-width=".6"/>
<path d="M58.4 65.5l.8-.3 .8-.2 .8-.1 .8 .3-.4 1.2-.4 .5-.8 1.1-.5 .8-.3 .5-.7 1.1-.4 .8-.3 .8-.2 .6-.1 1 0 .8 .3 .8 .4 .8 .6 .8 .4 .6 .8 .9 .8 .7 .8 .4 .8 .1 .8 .1 .8 0 .8 0 .8 .2 .8 .3 .8 .3 .8 .3 .8 .4 .8 .4 .8 .6 .4 .3 .4 .4 .4 .4 .4 .6 .6 1 .1 .8-.7 .3-.8-.1-.5-.2-1.1-.4-.8-.4-.8-.2-.8-.3-.8-.2-.8-.2-.8 0-.8-.1-.8 0-.8 .1-.8 0-.8 0-.8-.2-.8-.5-.8-.8-.7-.8-.6-.8-.3-.4-.3-.4-.5-.6-.8-1-.6-.8-.2-.5-.6-1.1-.2-.8-.1-.8 .1-.8 .1-.8 0-.8-.6-.8-.3-.4-.2-1.2 1-.7 .8 .1 .8-.5 .3-.5 .5-.5 .8-.8 .8-.8 .6-.3zM58.5 65.6l-.9 .5-.4 .3-.4 .4-.4 .4-.4 .6-.7 1-.7 .8-.2 .6-.2 1-.1 .8-.2 .8-.1 .8-.1 .8 0 .8 .3 .8 .4 .8 .4 .8 .4 .6 .8 1 .6 .8 .7 .8 .3 .4 .8 1.1 .8 .8 .8 .5 .8 .1 .8 .1 .8-.1 .8 0 .8 0 .8 0 .8 .1 .8 .1 .8 .2 .8 .3 .8 .2 .6 .2 1 .4 .8 .2 .8-.1 0-1-.6-1.1-.7-.8-1.1-.8-.8-.4-.8-.4-.8-.3-.8-.3-.8-.3-.8-.2-.8-.1-.8 0-.8 0-.8-.1-.7-.3-.9-.8-.7-.8-.6-.8-.6-.8-.4-.8-.2-.8-.1-.8 .1-.8 .2-.8 .4-.8 .3-.7 .5-.9 .5-.8 .5-.8 .6-.8 .3-.5 .7-1.1-.7-.5-.8 .1-.8 .2-.7 .2zM148 83.1l.8-.1 .8-.1 .8-.1 .8-.1 .8-.1 .8 .1 .8 .2 .7 .3 .9 .6 .8 .7 .4 .3 .4 .4 .5 .4 .9 .8 .6 .8 .4 .6 .5 1 .3 .6 .6 1 .6 .8 .4 .6 .8 .9 .6 .9 .2 .8-.2 .8-.4 .8-.6 .8-.4 .4-.4 .4-1 .8-1 .6-.8 .6-.5 .4-.8 .8-.7 .8-.4 .6-.8 .9-.8 .8-.8 .6-.5 .3-1.1 .8-.8 .4-.8 .2-.8 0-.8-.1-.8-.1-.8-.2-.7-.2-.9-.3-.8-.2-.8-.2-.8-.2-.8-.2-.8-.3-.8-.5-.5-.5-.7-.8-.4-.6-.4-1-.3-.8-.1-.8-.2-.8-.1-.8-.1-.8 0-.8 0-.8 .1-.8 .1-.8 .1-.8 .2-.8 .2-.8 .4-.8 .4-.8 .5-.7 .6-.9 .6-.8 .4-.6 .8-.9 .8-.8 .8-.5 .7-.4 .9-.3 .8-.3 .8-.1 .8-.2zM149.9 84l-1.1 .2-.8 .2-.8 .1-.8 .2-.8 .3-.8 .3-.5 .3-1.1 .7-.8 .7-.8 1-.6 .8-.5 .8-.4 .8-.4 .8-.2 .8-.2 .8-.1 .8 0 .8-.1 .8 0 .8 .1 .8 .1 .8 .1 .8 .3 .8 .3 .7 .7 .9 .9 .8 .8 .5 .5 .3 1.1 .6 .8 .4 .8 .4 .8 .3 .8 .3 .8 .1 .8 .1 .8 0 .8-.1 .8-.2 .7-.3 .9-.4 .7-.4 .9-.7 .8-.9 .6-.8 .6-.8 .4-.5 .8-.8 .4-.3 .4-.3 .6-.5 .8-.8 .6-.8 .4-.8 .2-.8-.1-.8-.3-.8-.4-.8-.4-.8-.5-.8-.5-.8-.4-.8-.5-.8-.6-.8-.5-.6-.8-.8-.8-.8-.8-.6-.7-.4-.9-.3-.8 0-.8 0-.8 .2z" fill="#f06008" stroke="#7a3a00" stroke-opacity=".8" stroke-width=".6"/>
<path d="M59.2 65.4l.8-.2 .8-.1 .7 .5-.4 .8-.6 .8-.5 .7-.6 .9-.5 .8-.4 .8-.4 .8-.4 .8-.2 .8-.1 .8 .1 .8 .2 .8 .4 .8 .6 .8 .5 .7 .8 .9 .8 .7 .8 .4 .8 .1 .8 0 .8 0 .8 .1 .8 .2 .8 .3 .8 .3 .8 .3 .8 .4 .8 .4 .8 .6 .8 .8 .7 1 .3 .8-1 .6-.8-.2-.8-.3-.8-.3-.8-.2-.8-.3-.8-.2-.8-.1-.8-.1-.8 0-.8 0-.8 0-.8 .1-.8-.1-.8-.1-.6-.4-.9-.8-.6-.8-.6-.8-.5-.6-.8-1-.7-.8-.5-.8-.4-.7-.4-.9-.3-.8 0-.8 .1-.8 .1-.8 .2-.8 .1-.8 0-.8 .4-.8 .6-.6 .6-1 .6-.8 .4-.4 .4-.4 .4-.3 .8-.5 .8-.2zM150.4 83.9l.8-.2 .8 0 .8 0 .8 .2 .8 .5 .6 .4 .8 .8 .8 .8 .7 .8 .6 .8 .5 .8 .4 .8 .4 .6 .6 1 .2 .5 .6 1.1 .2 .6 .2 1-.2 .8-.4 .8-.4 .6-.8 .8-.8 .7-.4 .3-.4 .3-.5 .5-.7 .8-.4 .5-.8 1.1-.7 .8-.9 .7-.8 .5-.8 .4-.8 .3-.8 .2-.8 .1-.8 0-.8-.1-.8-.1-.8-.3-.8-.3-.8-.4-.5-.2-1.1-.6-.8-.5-.8-.5-.8-.6-.7-1-.4-.8-.3-.8-.1-.8-.1-.8-.1-.8 0-.8 .1-.8 0-.8 .1-.8 .2-.8 .2-.8 .3-.6 .5-1 .3-.5 .8-1.1 .7-.8 .8-.8 .9-.6 .8-.5 .8-.3 .8-.3 .8-.2 .8-.1 .8-.2 .8-.1 .8-.2z" fill="#ff0000" stroke="#7a3a00" stroke-opacity=".8" stroke-width=".6"/>
<rect width="224.4" height="167.6" fill="url(#dots)"/>
<path d="M109.8 17.7l-.1 .9M114.7 17.7l.1 1.2M104.9 22.6l.2 1M109.8 22.6l-.1 1.1M114.7 22.6l-.1 1.1M119.6 22.6l-.2 1.1M95.1 27.5l.1 1M100 27.5l0 1.2M104.9 27.5l-.1 1.6M109.8 27.5l-.1 1.6M114.7 27.5l-.2 1.5M119.6 27.5l0 1.6M124.5 27.5l-.1 1.5M95.1 32.4l0 1.3M100 32.4l.2 1.6M104.9 32.4l.1 1.9M109.8 32.4l-.2 2.2M114.7 32.4l0 2M119.6 32.4l.1 1.6M124.5 32.4l0 1.3M65.7 37.3l1.1 0M90.2 37.3l.3 1.1M95.1 37.3l.4 1.5M100 37.3l0 1.9M104.9 37.3l0 2.5M109.8 37.3l.1 2.4M114.7 37.3l-.2 2.7M119.6 37.3l-.2 2.5M124.5 37.3l-.1 1.9M129.4 37.3l-.3 1.4M134.3 37.3l-.6 .8M55.9 42.2l1.1-.2M65.7 42.2l1.1-.2M70.6 42.2l1 .4M75.5 42.2l1.2 .5M80.4 42.2l.9 .5M85.3 42.2l.8 .7M90.2 42.2l.3 1.4M95.1 42.2l.3 1.9M100 42.2l.1 2.2M104.9 42.2l-.2 3M109.8 42.2l-.2 3.3M114.7 42.2l-.2 3.2M119.6 42.2l-.4 3M124.5 42.2l-.2 2.6M129.4 42.2l-.6 1.9M134.3 42.2l-.6 1.2M139.2 42.2l-.7 .8M144.1 42.2l-.8 .4M153.9 42.2l-.9-.1M158.8 42.2l-.9-.2M55.9 47.1l.9-.5M60.8 47.1l1.4-.4M65.7 47.1l1.6 0M70.6 47.1l1.6 .1M75.5 47.1l1.4 .6M80.4 47.1l1.1 .8M85.3 47.1l.9 1.4M90.2 47.1l.6 1.9M95.1 47.1l.4 2.4M100 47.1l.1 3M104.9 47.1l.3 3.5M109.8 47.1l.1 3.9M114.7 47.1l0 4M119.6 47.1l-.2 3.6M124.5 47.1l-.7 3M129.4 47.1l-.7 1.9M134.3 47.1l-.9 1.3M139.2 47.1l-.8 .9M144.1 47.1l-1.1 .6M149 47.1l-1 .1M153.9 47.1l-1 0M158.8 47.1l-1-.3M163.7 47.1l-.9-.4M168.6 47.1l-1-.4M46.1 52l.2-.9M51 52l.6-1M55.9 52l1.1-1M60.8 52l1.7-1M65.7 52l1.9-.5M70.6 52l2.5 .3M75.5 52l2 .9M80.4 52l1.8 1.2M85.3 52l1.3 1.7M90.2 52l1 2.1M95.1 52l.5 3M100 52l.1 3.7M104.9 52l0 4.3M109.8 52l-.3 4.6M114.7 52l-.4 4.7M119.6 52l-.7 4.3M124.5 52l-.9 3.5M129.4 52l-1.1 2.3M134.3 52l-1.3 1.6M139.2 52l-1.1 1.2M144.1 52l-1.5 .7M149 52l-2 .3M153.9 52l-1.8-.1M158.8 52l-1.7-.4M163.7 52l-1.5-.6M168.6 52l-1-.6M173.5 52l-1-.7M178.4 52l-.7-.7M46.1 56.9l.6-1.4M51 56.9l.9-1.7M55.9 56.9l1.3-1.6M60.8 56.9l2.1-1.1M65.7 56.9l2.9-.3M70.6 56.9l2.9 .3M75.5 56.9l2.8 1.2M80.4 56.9l1.9 1.8M85.3 56.9l1.4 2.3M90.2 56.9l.9 2.7M95.1 56.9l.5 3.3M100 56.9l.3 4.1M104.9 56.9l.3 4.8M109.8 56.9l-.3 5.3M114.7 56.9l-.4 5.5M119.6 56.9l-.5 4.8M124.5 56.9l-.6 3.7M129.4 56.9l-1.3 3.2M134.3 56.9l-1.6 2M139.2 56.9l-2.1 1.5M144.1 56.9l-2.6 1M149 56.9l-2.4 .3M153.9 56.9l-2.5-.3M158.8 56.9l-2.2-.5M163.7 56.9l-2-.8M168.6 56.9l-1.8-.8M173.5 56.9l-1.1-.7M178.4 56.9l-1-.5M41.2 61.8l-.6-1M46.1 61.8l-.3-1.4M51 61.8l.5-2.2M55.9 61.8l1.2-2.5M60.8 61.8l2.5-2.6M65.7 61.8l3.6-.9M70.6 61.8l3.7 .4M75.5 61.8l2.9 2.2M80.4 61.8l2.1 2.5M85.3 61.8l1.2 2.9M90.2 61.8l1 3.2M95.1 61.8l.2 4.3M100 61.8l.2 4.4M104.9 61.8l0 5.3M109.8 61.8l-.4 5.7M114.7 61.8l-.6 5.5M119.6 61.8l-.9 5.3M124.5 61.8l-1.3 4.5M129.4 61.8l-1.9 3.6M134.3 61.8l-2.4 2.6M139.2 61.8l-2.9 1.8M144.1 61.8l-3.2 1.1M149 61.8l-3.7 .4M153.9 61.8l-3.5-.5M158.8 61.8l-3.2-1M163.7 61.8l-2.7-1M168.6 61.8l-2.3-1.3M173.5 61.8l-1.7-1.2M178.4 61.8l-1.2-.8M183.3 61.8l-1-.9M46.1 66.7l-1-1.4M51 66.7l-.7-2.6M55.9 66.7l.6-3.8M60.8 66.7l2.3-4M65.7 66.7l4.1-2.3M70.6 66.7l4.1 1.1M75.5 66.7l3.2 3.5M80.4 66.7l1.8 3.5M85.3 66.7l.9 3.4M90.2 66.7l.8 3.4M95.1 66.7l0 4M100 66.7l.1 5M104.9 66.7l-.2 5.8M109.8 66.7l-.4 6M114.7 66.7l-.6 6.2M119.6 66.7l-.9 5.8M124.5 66.7l-1.3 5.2M129.4 66.7l-2.3 4.4M134.3 66.7l-2.9 3.3M139.2 66.7l-4.1 2.4M144.1 66.7l-5 1.7M149 66.7l-5.2 .9M153.9 66.7l-5.2-.6M158.8 66.7l-4.7-1.6M163.7 66.7l-4-1.8M168.6 66.7l-2.9-2.1M173.5 66.7l-2-1.7M178.4 66.7l-1.5-1.7M183.3 66.7l-.9-1M188.2 66.7l-.5-1M193.1 66.7l-.4-.8M51 71.6l-1.7-2.2M55.9 71.6l-2.1-4.8M60.8 71.6l-.6-5.7M65.7 71.6l.9-3.3M70.6 71.6l1.8 1.7M75.5 71.6l1 4.1M80.4 71.6l.6 4.3M85.3 71.6l.2 3.9M90.2 71.6l0 3.8M95.1 71.6l-.3 4.1M100 71.6l.2 5M104.9 71.6l-.3 5.9M109.8 71.6l-.2 6.2M114.7 71.6l-.7 6.4M119.6 71.6l-1.1 6.2M124.5 71.6l-1.6 5.8M129.4 71.6l-2.7 5.4M134.3 71.6l-3.7 4.4M139.2 71.6l-5 3.8M144.1 71.6l-6.3 2.4M149 71.6l-6.9 1M153.9 71.6l-6.8-1.1M158.8 71.6l-6.1-2.2M163.7 71.6l-5-3.1M168.6 71.6l-3.7-2.7M173.5 71.6l-2.6-2.6M178.4 71.6l-1.5-2.3M183.3 71.6l-1-1.9M188.2 71.6l-.9-1.2M51 76.5l1.5 .6M55.9 76.5l-2.9-2M60.8 76.5l-5.1-6M65.7 76.5l-5.2-4.4M70.6 76.5l-4.1 1.3M75.5 76.5l-3.1 4.6M80.4 76.5l-1.7 4.4M85.3 76.5l-.9 3.5M90.2 76.5l-.6 3.6M95.1 76.5l-.4 3.7M100 76.5l-.2 4.9M104.9 76.5l-.5 5.5M109.8 76.5l-.4 6M114.7 76.5l-.8 6.6M119.6 76.5l-1 6.6M124.5 76.5l-1.7 6.2M129.4 76.5l-2.8 6.2M134.3 76.5l-3.9 6M139.2 76.5l-6.3 5M144.1 76.5l-7.5 3.3M149 76.5l-8.3 1.2M153.9 76.5l-8.2-1.4M158.8 76.5l-7.2-3.5M163.7 76.5l-5.5-4.7M168.6 76.5l-3.8-4.3M173.5 76.5l-2.7-3.9M178.4 76.5l-1.7-3M183.3 76.5l-.9-2.1M188.2 76.5l-.6-1.6M193.1 76.5l-.3-1.1M65.7 81.4l-6.4-3.3M70.6 81.4l-7.5-1M75.5 81.4l-5.3 2M80.4 81.4l-3.1 2.6M85.3 81.4l-1.8 2.4M90.2 81.4l-1.1 2.9M95.1 81.4l-.9 3.6M100 81.4l-.4 4.3M104.9 81.4l-.2 5.1M109.8 81.4l-.2 5.9M114.7 81.4l-.3 6.5M119.6 81.4l-.8 7M124.5 81.4l-1.4 7M129.4 81.4l-2.5 7.2M134.3 81.4l-3.9 7.5M139.2 81.4l-5.8 6.9M144.1 81.4l-7.6 5M149 81.4l-8.5 1.4M153.9 81.4l-8.3-2.2M158.8 81.4l-7.3-5.1M163.7 81.4l-5.2-5.9M168.6 81.4l-3.6-5.7M173.5 81.4l-2.4-4.9M178.4 81.4l-1.3-3.5M183.3 81.4l-.7-3M188.2 81.4l-.6-2M193.1 81.4l-.2-1.3M198 81.4l-.5-1M70.6 86.3l-2.2-.9M75.5 86.3l-4-.8M80.4 86.3l-3.1 .8M85.3 86.3l-1.9 1.3M90.2 86.3l-1.2 2M95.1 86.3l-.7 2.7M100 86.3l-.2 3.6M104.9 86.3l.1 4.8M109.8 86.3l0 5.7M114.7 86.3l-.3 6.2M119.6 86.3l-.6 6.5M124.5 86.3l-.9 7.7M129.4 86.3l-1.6 8.3M134.3 86.3l-2.7 8.8M139.2 86.3l-4 8.4M144.1 86.3l-5.3 6.2M149 86.3l-6.5 1.9M153.9 86.3l-6.1-3.1M158.8 86.3l-5.2-6.7M163.7 86.3l-3.5-7.7M168.6 86.3l-2.5-7.2M173.5 86.3l-1.4-5.9M178.4 86.3l-.9-4.2M183.3 86.3l-.6-3.2M188.2 86.3l-.3-2.1M193.1 86.3l-.2-1.4M198 86.3l-.2-.9M75.5 91.2l.8 .7M80.4 91.2l-1.1-.4M85.3 91.2l-1.4 .2M90.2 91.2l-.7 .8M95.1 91.2l-.6 2M100 91.2l.3 2.8M104.9 91.2l.1 3.8M109.8 91.2l.1 4.7M114.7 91.2l.2 5.7M119.6 91.2l.1 6.4M124.5 91.2l0 7.5M129.4 91.2l-.5 8.5M134.3 91.2l-.5 9.4M139.2 91.2l-.9 9.6M144.1 91.2l-1.2 7.2M149 91.2l-1.3 2.3M153.9 91.2l-1.5-3.5M158.8 91.2l-1-7.5M163.7 91.2l-.6-8.6M168.6 91.2l-.3-8M173.5 91.2l-.3-6.2M178.4 91.2l.2-4.7M183.3 91.2l-.1-3.3M188.2 91.2l.1-2.1M193.1 91.2l-.2-1.3M198 91.2l-.1-1M100 96.1l.3 1.7M104.9 96.1l.5 2.9M109.8 96.1l.7 3.6M114.7 96.1l.9 5M119.6 96.1l.7 6M124.5 96.1l1 6.9M129.4 96.1l1.7 8.3M134.3 96.1l2.1 8.8M139.2 96.1l2.7 8.9M144.1 96.1l3.5 6.7M149 96.1l3.8 2.1M153.9 96.1l3.9-3.4M158.8 96.1l3.5-7.2M163.7 96.1l2.6-8.4M168.6 96.1l1.3-7.5M173.5 96.1l.9-5.9M178.4 96.1l.6-4.6M183.3 96.1l.4-3.2M188.2 96.1l0-2.1M193.1 96.1l0-1.3M198 96.1l-.1-1.2M100 101l.6 .7M104.9 101l.5 1.9M109.8 101l1 2.9M114.7 101l1.3 3.8M119.6 101l1.6 4.9M124.5 101l1.8 6.2M129.4 101l2.5 7M134.3 101l4 7.7M139.2 101l5.7 7.7M144.1 101l6.6 5.8M149 101l7.8 1.9M153.9 101l7.8-2.8M158.8 101l6.4-5.9M163.7 101l4.9-6.9M168.6 101l3.4-6.6M173.5 101l2.1-5.7M178.4 101l1.3-4M183.3 101l.8-3M188.2 101l.4-2M193.1 101l0-1.1M198 101l-.1-.9M104.9 105.9l.7 .6M109.8 105.9l1.1 1.6M114.7 105.9l1.4 2.7M119.6 105.9l1.8 3.7M124.5 105.9l2.7 5M129.4 105.9l3.5 5.7M134.3 105.9l4.7 5.8M139.2 105.9l6.5 5.6M144.1 105.9l8.4 4.2M149 105.9l9.2 1.4M153.9 105.9l8.9-2.1M158.8 105.9l7.4-4.3M163.7 105.9l5.6-5.4M168.6 105.9l3.7-5.1M173.5 105.9l2.6-4.5M178.4 105.9l1.8-3.4M183.3 105.9l.9-2.4M188.2 105.9l.7-1.7M193.1 105.9l.2-1.4M198 105.9l.3-.9M114.7 110.8l1.3 1.1M119.6 110.8l1.9 2.2M124.5 110.8l2.9 3.3M129.4 110.8l3.8 4.1M134.3 110.8l5.1 4.4M139.2 110.8l6.1 4.2M144.1 110.8l7.6 3M149 110.8l8.4 1.1M153.9 110.8l7.8-1.1M158.8 110.8l7-2.9M163.7 110.8l5.6-3.6M168.6 110.8l3.8-3.4M173.5 110.8l2.7-3.4M178.4 110.8l1.7-2.4M183.3 110.8l1.5-2.1M188.2 110.8l.5-1.4M193.1 110.8l.7-.9M119.6 115.7l.7 .5M124.5 115.7l2.4 1.9M129.4 115.7l3.4 2.7M134.3 115.7l4.4 3M139.2 115.7l5.2 2.7M144.1 115.7l6.2 2.3M149 115.7l6.8 .7M153.9 115.7l6.3-.7M158.8 115.7l5.6-1.5M163.7 115.7l4.3-2.4M168.6 115.7l3.3-2.2M173.5 115.7l2.4-2M178.4 115.7l1.7-2M183.3 115.7l.9-1.6M188.2 115.7l.7-1.1M193.1 115.7l.5-.8M124.5 120.6l-1-.7M129.4 120.6l1.9 1.1M134.3 120.6l3.3 1.9M139.2 120.6l4.1 2.1M144.1 120.6l4.7 1.9M149 120.6l5 .7M153.9 120.6l4.6 0M158.8 120.6l4.1-1M163.7 120.6l3.5-1.5M168.6 120.6l2.7-1.5M173.5 120.6l2.1-1.2M178.4 120.6l1.5-1.3M183.3 120.6l1-.9M139.2 125.5l2.4 1.1M144.1 125.5l3.4 1.4M149 125.5l3.2 .9M153.9 125.5l3.1 .5M158.8 125.5l3-.4M163.7 125.5l2.5-.6M168.6 125.5l2.1-.7M173.5 125.5l1.7-.8M178.4 125.5l1.2-.7M144.1 130.4l1 .4M149 130.4l2 .8M153.9 130.4l2.2 .5M158.8 130.4l2.1 .1M163.7 130.4l2-.1M168.6 130.4l1.6-.3M173.5 130.4l1.3 0M153.9 135.3l1 .4M158.8 135.3l1.5 .4M163.7 135.3l1.2 .1M168.6 135.3l1.1-.1M173.5 135.3l.9-.2" fill="none" stroke="#000" stroke-width=".62" stroke-opacity=".85"/>
<path d="M114.5 40L114.1 38.7L115.1 38.8zM104.7 45.2L104.3 43.8L105.3 43.9zM109.6 45.5L109.2 44.1L110.2 44.2zM114.5 45.4L114.1 44L115.1 44.1zM119.2 45.2L118.9 43.8L119.9 43.9zM100.1 50.1L99.6 48.8L100.6 48.8zM105.2 50.6L104.5 49.2L105.6 49.1zM109.9 51L109.2 49.5L110.4 49.5zM114.7 51.1L114.1 49.5L115.3 49.6zM119.4 50.7L118.9 49.2L120 49.2zM123.8 50.1L123.6 48.7L124.6 48.9zM95.6 55L94.9 53.8L95.9 53.6zM100.1 55.7L99.5 54.2L100.6 54.2zM104.9 56.3L104.3 54.6L105.5 54.6zM109.5 56.6L108.9 54.8L110.3 54.9zM114.3 56.7L113.8 54.8L115.1 55zM118.9 56.3L118.5 54.6L119.8 54.8zM123.6 55.5L123.4 53.9L124.5 54.2zM68.6 56.6L67.4 57.2L67.3 56.2zM73.5 57.2L72.2 57.6L72.3 56.6zM78.3 58.1L76.9 58L77.3 57.1zM82.3 58.7L81.1 58.2L81.7 57.5zM86.7 59.2L85.6 58.4L86.4 57.9zM91.1 59.6L90.2 58.6L91.1 58.3zM95.6 60.2L94.9 58.9L95.9 58.7zM100.3 61L99.6 59.5L100.8 59.4zM105.2 61.7L104.4 60L105.8 59.9zM109.5 62.2L108.9 60.3L110.4 60.3zM114.3 62.4L113.7 60.4L115.2 60.5zM119.1 61.7L118.6 59.8L120 59.9zM123.9 60.6L123.6 59L124.7 59.2zM128.1 60.1L128.2 58.6L129.2 59zM141.5 57.9L142.5 57L142.8 57.9zM57.1 59.3L57 60.7L56.2 60.2zM63.3 59.2L62.7 60.7L61.9 59.9zM69.3 60.9L68 61.8L67.7 60.7zM74.3 62.2L72.7 62.6L72.9 61.5zM78.4 64L76.9 63.5L77.6 62.6zM82.5 64.3L81.2 63.6L82 62.9zM86.5 64.7L85.5 63.6L86.4 63.2zM91.2 65L90.3 63.8L91.3 63.5zM95.3 66.1L94.6 64.4L95.8 64.4zM100.2 66.2L99.5 64.6L100.8 64.5zM104.9 67.1L104.2 65.2L105.6 65.2zM109.4 67.5L108.8 65.4L110.3 65.5zM114.1 67.3L113.5 65.2L115 65.4zM118.7 67.1L118.3 65.1L119.8 65.3zM123.2 66.3L123.1 64.4L124.4 64.8zM127.5 65.4L127.7 63.7L128.8 64.3zM131.9 64.4L132.5 63L133.3 63.7zM136.3 63.6L137.3 62.4L137.8 63.3zM140.9 62.9L142.1 61.9L142.4 62.9zM145.3 62.2L146.7 61.5L146.8 62.6zM150.4 61.3L151.9 61L151.8 62.1zM155.6 60.8L157.1 60.7L156.8 61.7zM161 60.8L162.4 60.8L162 61.7zM166.3 60.5L167.6 60.7L167.2 61.5zM50.3 64.1L51.1 65.2L50.2 65.4zM56.5 62.9L56.8 64.5L55.7 64.3zM63.1 62.7L62.8 64.6L61.6 63.9zM69.8 64.4L68.6 65.9L68 64.7zM74.7 67.8L72.9 68L73.3 66.8zM78.7 70.2L77 69.4L78 68.4zM82.2 70.2L81 69.1L82 68.5zM86.2 70.1L85.3 68.8L86.3 68.5zM91 70.1L90.1 68.8L91.2 68.6zM95.1 70.7L94.5 69.1L95.7 69.1zM100.1 71.7L99.3 69.8L100.7 69.8zM104.7 72.5L104 70.4L105.5 70.4zM109.4 72.7L108.7 70.5L110.3 70.6zM114.1 72.9L113.5 70.7L115.2 70.8zM118.7 72.5L118.3 70.4L119.8 70.6zM123.2 71.9L123 69.8L124.4 70.2zM127.1 71.1L127.3 69.1L128.6 69.8zM131.4 70L132 68.3L133 69.2zM135.1 69.1L136.3 67.6L137 68.8zM139.1 68.4L140.7 67.1L141.2 68.5zM143.8 67.6L145.6 66.5L145.8 68zM148.7 66.1L150.7 65.6L150.5 67zM154.1 65.1L156.1 65L155.6 66.3zM159.7 64.9L161.5 65L160.9 66.2zM165.7 64.6L167.2 65L166.5 65.9zM171.5 65L172.7 65.4L172.1 66.1zM49.3 69.4L50.4 70.1L49.7 70.7zM53.8 66.8L55.2 68.2L53.9 68.8zM60.2 65.9L61.2 67.8L59.6 68zM66.6 68.3L66.7 69.8L65.7 69.5zM76.5 75.7L75.5 74.3L76.7 74zM81 75.9L80.2 74.3L81.4 74.1zM85.5 75.5L84.9 74L86 73.9zM90.2 75.4L89.6 73.9L90.8 73.8zM94.8 75.7L94.3 74.1L95.6 74.1zM100.2 76.6L99.4 74.8L100.8 74.7zM104.6 77.5L103.9 75.3L105.5 75.4zM109.6 77.8L108.8 75.6L110.5 75.6zM114 78L113.4 75.7L115.1 75.9zM118.5 77.8L118.1 75.5L119.7 75.8zM122.9 77.4L122.7 75.1L124.3 75.6zM126.7 77L126.9 74.7L128.4 75.4zM130.6 76L131.3 73.9L132.5 74.9zM134.2 75.4L135.4 73.4L136.4 74.7zM137.8 74L139.7 72.3L140.3 74zM142.1 72.6L144.3 71.4L144.6 73.1zM147.1 70.5L149.5 70L149.3 71.8zM152.7 69.4L155.1 69.4L154.5 71zM158.7 68.5L160.9 68.9L160 70.3zM164.9 68.9L166.7 69.4L165.9 70.4zM170.9 69L172.3 69.6L171.5 70.4zM176.9 69.3L178 70.1L177.2 70.6zM53 74.5L54.5 74.9L53.9 75.8zM55.7 70.5L58.1 71.8L56.6 73zM60.5 72.1L62.8 73L61.7 74.3zM66.5 77.8L67.9 76.7L68.3 77.9zM72.4 81.1L72.9 79L74.1 79.9zM78.7 80.9L78.7 79L80 79.5zM84.4 80L84.2 78.4L85.3 78.7zM89.6 80.1L89.3 78.6L90.4 78.7zM94.7 80.2L94.3 78.6L95.4 78.7zM99.8 81.4L99.2 79.6L100.5 79.6zM104.4 82L103.8 80L105.4 80.1zM109.4 82.5L108.8 80.3L110.4 80.4zM113.9 83.1L113.3 80.7L115.1 80.9zM118.6 83.1L118.1 80.7L119.8 80.9zM122.8 82.7L122.6 80.3L124.2 80.8zM126.6 82.7L126.7 80.2L128.4 81zM130.4 82.5L131 79.9L132.5 80.9zM132.9 81.5L134.3 79.2L135.5 80.7zM136.6 79.8L138.5 77.9L139.2 79.7zM140.7 77.7L143 76.4L143.3 78.3zM145.7 75.1L148.4 74.6L148.1 76.5zM151.6 73L154.3 73.2L153.4 74.9zM158.2 71.8L160.7 72.7L159.5 74.1zM164.8 72.2L166.7 73.2L165.6 74.2zM170.8 72.6L172.4 73.7L171.3 74.5zM176.7 73.5L177.9 74.5L176.9 75zM59.3 78.1L61.9 78.4L61 80zM63.1 80.4L65.7 79.8L65.5 81.7zM70.2 83.4L71.8 81.9L72.3 83.4zM77.3 84L78.1 82.5L78.9 83.4zM83.5 83.8L83.9 82.5L84.7 83.1zM89.1 84.3L89.1 82.9L90.1 83.2zM94.2 85L94 83.4L95.1 83.7zM99.6 85.7L99.1 84L100.4 84.1zM104.7 86.5L104.1 84.6L105.5 84.7zM109.6 87.3L108.9 85.2L110.4 85.2zM114.4 87.9L113.7 85.6L115.4 85.7zM118.8 88.4L118.2 85.9L120 86.1zM123.1 88.4L122.7 85.8L124.5 86.2zM126.9 88.6L126.8 85.9L128.6 86.5zM130.4 88.9L130.7 86.3L132.4 87.1zM133.4 88.3L134.3 85.8L135.8 87zM136.5 86.4L138.1 84.3L139.1 85.8zM140.5 82.8L142.8 81.5L143.1 83.4zM145.6 79.2L148.3 78.9L147.8 80.8zM151.5 76.3L154.1 77L153 78.5zM158.5 75.5L160.9 76.8L159.4 78zM165 75.7L167 77.2L165.5 78.1zM171.1 76.5L172.6 78L171.3 78.6zM177.1 77.9L178.2 79.1L177.1 79.5zM182.6 78.4L183.4 79.5L182.4 79.8zM71.5 85.5L73.2 85.2L72.9 86.4zM77.3 87.1L78.5 86.2L78.7 87.3zM94.4 89L94.3 87.7L95.2 87.9zM99.8 89.9L99.3 88.4L100.4 88.4zM105 91.1L104.3 89.3L105.6 89.3zM109.8 92L109 90L110.6 90zM114.4 92.5L113.7 90.3L115.3 90.4zM119 92.8L118.3 90.5L120.1 90.6zM123.6 94L122.9 91.4L124.8 91.6zM127.8 94.6L127.4 91.9L129.2 92.3zM131.6 95.1L131.5 92.4L133.3 92.9zM135.2 94.7L135.4 92.1L137.2 92.9zM138.8 92.5L139.7 90L141.2 91.2zM142.5 88.2L144.5 86.7L145 88.4zM147.8 83.2L150.3 83.5L149.5 85.1zM153.6 79.6L155.9 81L154.4 82.2zM160.2 78.6L162.1 80.5L160.4 81.3zM166.1 79.1L167.8 81.1L166 81.7zM172.1 80.4L173.4 82.3L171.8 82.7zM177.5 82.1L178.5 83.6L177.2 83.9zM182.7 83.1L183.5 84.4L182.4 84.6zM100.3 94L99.7 92.8L100.6 92.7zM105 95L104.4 93.5L105.5 93.5zM109.9 95.9L109.2 94.1L110.5 94.1zM114.9 96.9L114 94.9L115.6 94.8zM119.7 97.6L118.8 95.4L120.5 95.4zM124.5 98.7L123.6 96.2L125.5 96.2zM128.9 99.7L128.1 97.2L130 97.3zM133.8 100.6L133 98.1L134.9 98.2zM138.3 100.8L137.6 98.2L139.5 98.4zM142.9 98.4L142.4 95.8L144.2 96.1zM147.7 93.5L147.9 92.2L148.7 92.7zM152.4 87.7L153.5 88.9L152.5 89.3zM157.8 83.7L159 86.1L157.2 86.3zM163.1 82.6L164.2 85L162.3 85.1zM168.3 83.2L169.3 85.6L167.4 85.7zM173.2 85L174.1 87.1L172.5 87.2zM178.6 86.5L179.2 88.3L177.8 88.2zM183.2 87.9L183.8 89.3L182.7 89.3zM105.4 99L104.7 97.8L105.7 97.6zM110.5 99.7L109.6 98.4L110.8 98.2zM115.6 101.1L114.5 99.4L115.9 99.2zM120.3 102.1L119.2 100L120.8 99.9zM125.5 103L124.3 100.7L126.1 100.5zM131.1 104.4L129.6 102.2L131.5 101.8zM136.4 104.9L134.9 102.7L136.8 102.3zM141.9 105L140.3 102.9L142.1 102.4zM147.6 102.8L145.6 101L147.3 100.1zM152.8 98.2L151 98L151.7 96.8zM157.8 92.7L156.9 94.5L155.9 93.4zM162.3 88.9L162 91.5L160.3 90.7zM166.3 87.7L166.5 90.4L164.7 89.8zM169.9 88.6L170.4 91.2L168.5 90.9zM174.4 90.2L174.9 92.4L173.3 92.1zM179 91.5L179.4 93.4L178.1 93.2zM183.7 92.9L184.1 94.3L183 94.2zM110.8 103.9L109.9 102.8L110.8 102.5zM116 104.8L114.9 103.5L116 103.1zM121.2 105.9L119.9 104.3L121.3 103.9zM126.3 107.2L124.9 105.3L126.5 104.8zM131.9 108L130.2 106L132 105.3zM138.3 108.7L136.3 106.9L138 106zM144.9 108.7L142.6 107.2L144.2 106.1zM150.7 106.8L148.2 105.8L149.5 104.4zM156.8 102.9L154.1 103.2L154.6 101.4zM161.7 98.2L159.7 99.9L159.1 98.1zM165.2 95.1L164 97.5L162.7 96.1zM168.6 94.1L167.9 96.7L166.3 95.6zM172 94.4L171.7 97L170 96.2zM175.6 95.3L175.6 97.6L174.1 97zM179.7 97L179.8 98.8L178.6 98.4zM184.1 98L184.3 99.4L183.3 99.2zM116.1 108.6L115.1 107.6L115.9 107.2zM121.4 109.6L120.2 108.4L121.3 107.9zM127.2 110.9L125.5 109.5L126.9 108.7zM132.9 111.6L131 110.1L132.5 109.2zM139 111.7L136.7 110.4L138.1 109.2zM145.7 111.5L143.2 110.6L144.4 109.1zM152.5 110.1L149.8 109.8L150.7 108.1zM158.2 107.3L155.6 107.9L155.9 106zM162.8 103.8L160.6 105.3L160.1 103.5zM166.2 101.6L164.5 103.7L163.6 102zM169.3 100.5L168.1 102.9L166.8 101.6zM172.3 100.8L171.7 103.1L170.4 102.1zM176.1 101.4L175.8 103.4L174.5 102.7zM180.2 102.5L180 104.1L179 103.6zM121.5 113L120.3 112.4L121 111.7zM127.4 114.1L125.8 113.3L126.8 112.4zM133.2 114.9L131.3 114L132.4 112.9zM139.4 115.2L137 114.3L138.2 113zM145.3 115L142.7 114.4L143.7 112.8zM151.7 113.8L149.1 113.7L149.7 112zM157.4 111.9L154.8 112.5L155 110.7zM161.7 109.7L159.3 111L159 109.1zM165.8 107.9L163.8 109.7L163.1 108zM169.3 107.2L167.9 109.2L166.9 107.7zM172.4 107.4L171.5 109.2L170.5 108.1zM176.2 107.4L175.6 109.1L174.6 108.3zM180.1 108.4L179.7 109.8L178.9 109.2zM184.8 108.7L184.5 109.9L183.8 109.4zM126.9 117.6L125.6 117.2L126.2 116.4zM132.8 118.4L131.1 117.9L131.9 116.9zM138.7 118.7L136.7 118.2L137.5 117zM144.4 118.4L142.2 118.2L142.9 116.8zM150.3 118L147.8 118L148.4 116.4zM155.8 116.4L153.4 117.1L153.6 115.3zM160.2 115L158.1 116.1L157.9 114.4zM164.4 114.2L162.6 115.5L162.2 114zM168 113.3L166.8 114.8L166.1 113.6zM171.9 113.5L170.9 114.9L170.3 113.9zM175.9 113.7L175.2 114.9L174.5 114.2zM180.1 113.7L179.7 114.9L179 114.3zM137.6 122.5L136 122.2L136.6 121.2zM143.3 122.7L141.5 122.5L142.1 121.3zM148.8 122.5L146.8 122.5L147.3 121.2zM154 121.3L152.1 121.7L152.2 120.3zM158.5 120.6L156.8 121.3L156.8 119.9zM162.9 119.6L161.5 120.6L161.2 119.4zM167.2 119.1L166 120.3L165.6 119.2zM171.3 119.1L170.4 120.2L169.9 119.3zM147.5 126.9L145.9 126.8L146.3 125.8zM152.2 126.4L150.7 126.5L151 125.5zM157 126L155.6 126.3L155.8 125.3zM161.8 125.1L160.5 125.8L160.4 124.8z" fill="#000"/>
<polygon points="0,45 204.3,167.6 0,167.6" fill="#000"/>
<path d="M0 0h5M0 11.2h3.6M0 22.3h3.6M0 33.5h3.6M0 44.7h3.6M0 55.9h5M0 67h3.6M0 78.2h3.6M0 89.4h3.6M0 100.6h3.6M0 111.7h5M0 122.9h3.6M0 134.1h3.6M0 145.3h3.6M0 156.4h3.6M0 167.6h5M0 167.6v-5M11.2 167.6v-3.8M22.4 167.6v-3.8M33.7 167.6v-3.8M44.9 167.6v-3.8M56.1 167.6v-5M67.3 167.6v-3.8M78.5 167.6v-3.8M89.8 167.6v-3.8M101 167.6v-3.8M112.2 167.6v-5M123.4 167.6v-3.8M134.6 167.6v-3.8M145.9 167.6v-3.8M157.1 167.6v-3.8M168.3 167.6v-5M179.5 167.6v-3.8M190.7 167.6v-3.8M202 167.6v-3.8M213.2 167.6v-3.8M224.4 167.6v-5" stroke="#000" stroke-width=".8" fill="none"/>
</g>
<rect x="0" y="0" width="224.4" height="167.6" fill="none" stroke="#000" stroke-width="1.7"/>
<text x="-.3" y="181.8" font-size="12" fill="#000" text-anchor="middle">-2</text>
<text x="55.8" y="181.8" font-size="12" fill="#000" text-anchor="middle">-1</text>
<text x="112.2" y="181.8" font-size="12" fill="#000" text-anchor="middle">0</text>
<text x="168.3" y="181.8" font-size="12" fill="#000" text-anchor="middle">1</text>
<text x="224.4" y="181.8" font-size="12" fill="#000" text-anchor="middle">2</text>
<text x="-6.2" y="4.1" font-size="12" fill="#000" text-anchor="end">2</text>
<text x="-6.2" y="60" font-size="12" fill="#000" text-anchor="end">1</text>
<text x="-6.2" y="115.8" font-size="12" fill="#000" text-anchor="end">0</text>
<text x="-6.2" y="171.7" font-size="12" fill="#000" text-anchor="end">-1</text>
<text x="112.2" y="199.4" font-size="13" fill="#111" text-anchor="middle">x/d</text>
<text transform="translate(-15.8,84.1) rotate(-90)" font-size="13" fill="#111" text-anchor="middle">y/d</text>
<text x="7.3" y="16" font-size="12.8" fill="#111">(c) τ=1.8</text>
</g>
<text x="629" y="70.3" font-size="12.5" fill="#061006" text-anchor="middle">First wall boundary</text>
<text x="629" y="85.3" font-size="12.5" fill="#061006" text-anchor="middle">layer separation</text>
<text x="722" y="68.3" font-size="12.5" fill="#061006" text-anchor="middle">Partial</text>
<text x="722" y="82.7" font-size="12.5" fill="#061006" text-anchor="middle">entrainment</text>
<text x="722" y="97.7" font-size="12.5" fill="#061006" text-anchor="middle">of A by B</text>
<polyline points="605.4,85.9 605.4,91.1" fill="none" stroke="#000" stroke-width="1.5"/><polygon points="605.4,102.4 601.3,91.1 609.5,91.1" fill="#000"/>
<polyline points="699.7,96.4 659.4,125.7" fill="none" stroke="#000" stroke-width="1.5"/><polygon points="650.3,132.3 657,122.3 661.9,129" fill="#000"/>
<clipPath id="cd"><rect x="0" y="0" width="224.4" height="167.6"/></clipPath>
<g transform="translate(35,251.2)">
<g clip-path="url(#cd)">
<rect width="224.4" height="167.6" fill="#00ff00"/>
<path d="M71.2 70.3l.8-.1 .8 0 .8 .4 .6 .6 .5 .8 .5 .8 .4 .8 .2 .8 0 .8-.1 .8-.3 .8-.2 .5-.8 1-.8 .5-.8 .3-.8 .2-.8 .2-.8 .2-.8 .2-.8 .2-.8 .2-.8 .1-.8 0-.8-.1-.8-.2-.7-.1-.9-.3-.6-.5-.4-.8 0-.8 .1-.8 .1-.8 .2-.8 .3-.8 .3-.6 .8-1 .8-.7 .8-.5 .8-.4 .8-.2 .8-.2 .8-.1 .8-.2 .8-.1 .8-.1z" fill="#0000ff" stroke="#2a4a7a" stroke-opacity=".8" stroke-width=".6"/>
<path d="M69.6 70.3l.8-.1 .8-.1 .8-.2 .8-.1 .8 .2 .5 .4 .3 .4 .8 1.2 .4 .8 .4 .8 .3 .8 0 .8-.1 .8-.3 .8-.3 .8-.4 .5-.8 .9-.8 .4-.8 .2-.8 .1-.8 .1-.8 .2-.8 .2-.8 .2-.8 .2-.8 0-.8 0-.8-.1-.8-.1-.8-.2-.8-.2-.8-.6-.4-1 0-.8 .1-.8 .1-.8 .2-.7 .3-.9 .4-.8 .6-.8 1-.8 .9-.6 .8-.3 .8-.3 .8-.2 .8-.1 .8-.2zM70.5 70.4l-.9 .1-.8 .2-.8 .1-.8 .2-.7 .2-.9 .4-.6 .4-1 .8-.7 .8-.4 .8-.3 .8-.2 .8-.1 .8-.1 .8 0 .8 .4 .8 .6 .5 .8 .3 .8 .1 .8 .2 .8 .1 .8 0 .8-.1 .8-.2 .8-.2 .8-.2 .8-.2 .8-.2 .8-.2 .8-.3 .7-.4 .7-.8 .4-.8 .3-.8 .1-.8 0-.8-.2-.8-.4-.8-.5-.8-.3-.5-.8-.9-.8-.4-.8 0-.8 .1-.7 .1z" fill="#0050e0" stroke="#2a4a7a" stroke-opacity=".8" stroke-width=".6"/>
<path d="M72.8 69.5l.8 0 .8 .5 .8 1.2 .5 .8 .3 .6 .5 1 .2 .8 0 .8-.1 .8-.2 .8-.3 .8-.5 .8-.4 .6-.8 .7-.8 .3-.8 .1-.8 .1-.8 0-.8 .1-.8 .2-.8 .2-.8 .1-.8 .1-.8 0-.8-.1-.8-.2-.8-.1-.8-.2-.7-.3-.6-.8-.2-.8 0-.8 .2-.8 .1-.8 .3-.8 .2-.8 .4-.8 .6-.8 .5-.5 .8-.6 .8-.5 .8-.3 .8-.3 .8-.2 .8-.1 .8-.1 .8-.2 .8-.2 .8-.2 .8-.1zM69.2 70.4l-1.2 .2-.8 .2-.8 .3-.8 .3-.8 .5-.8 .6-.8 1-.5 .9-.3 .8-.2 .8-.1 .8-.1 .8 0 .8 .2 .8 1 .8 .8 .2 .8 .2 .8 .1 .8 .1 .8 0 .8 0 .8-.2 .8-.2 .8-.2 .8-.2 .8-.1 .8-.1 .8-.2 .8-.4 .6-.6 .6-.8 .3-.8 .3-.8 .1-.8 0-.8-.3-.8-.4-.8-.4-.7-.5-.9-.6-.8-.5-.4-.8-.2-.8 .1-.8 .2-.8 .1-.8 .1z" fill="#00b090" stroke="#2a4a7a" stroke-opacity=".8" stroke-width=".6"/>
<path d="M71.2 69.6l.8-.3 .8-.2 .8-.1 .8 .3 .8 1 .6 .9 .5 .8 .4 .8 .4 .8 .2 .8 0 .8-.1 .8-.2 .8-.2 .5-.5 1.1-.3 .5-.8 .9-.8 .6-.8 .3-.8 0-.8 0-.8-.1-.8 .1-.8 .1-.8 .1-.8 .2-.8 0-.8 0-.8-.1-.8-.1-.8-.1-.8-.2-.8-.3-.8-1-.1-.9 0-.8 .2-.8 .2-.8 .2-.8 .3-.8 .4-.8 .4-.7 .8-.8 .8-.6 .5-.3 1.1-.5 .8-.2 .8-.2 .8-.2 .8-.1 .8-.2 .8-.2zM72.2 69.6l-1 .2-.8 .2-.8 .2-.8 .1-.8 .1-.8 .2-.8 .3-.8 .3-.8 .5-.4 .3-.9 .8-.3 .4-.7 1.2-.2 .8-.3 .8-.1 .8-.2 .8 0 .8 .2 .8 .5 .7 .8 .4 .8 .2 .8 .1 .8 .2 .8 .1 .8 0 .8-.1 .8-.1 .8-.2 .8-.2 .8-.1 .8 0 .8-.1 .8-.1 .8-.3 .6-.5 .6-.8 .4-.6 .4-1 .2-.8 .1-.8 0-.8-.2-.8-.3-.8-.5-.8-.5-.7-.5-.9-.9-.8-1-.1-.6 .1zM164.8 138.6l.8 0 .8 .5 .8 .9 .4 .8-.2 .8-1-.2-.8-.6-.6-.8-.2-.5 0-.9z" fill="#00ffc8" stroke="#2a4a7a" stroke-opacity=".8" stroke-width=".6"/>
<path d="M72.8 68.5l.8-.3 .8-.1 .8 .5 .7 1 .5 .8 .4 .7 .7 .9 .6 .8 .3 .8 .1 .8 0 .8-.2 .8-.2 .8-.2 .8-.3 .5-.6 1.1-.6 .8-.4 .4-.4 .4-.4 .4-.6 .4-1 .3-.8-.2-.8-.3-.8-.1-.8-.1-.8 .1-.8 .1-.8 0-.8 .1-.8-.1-.8 0-.8-.1-.8-.1-.8-.1-.8-.2-.8-.6-.4-1.1 0-.8 0-.8 .2-.8 .2-.8 .3-.8 .2-.8 .3-.6 .6-1 .8-.8 1-.8 .8-.4 .8-.4 .8-.2 .8-.2 .8-.1 .8-.2 .8-.2 .8-.3 .8-.3 .8-.4zM71.2 69.6l-.8 .2-.8 .2-.8 .1-.8 .2-.6 .1-1 .3-.8 .3-.8 .5-.7 .5-.8 .8-.5 .8-.4 .7-.3 .9-.2 .8-.2 .8-.2 .8 0 .8 .1 .8 .5 .8 1.1 .6 .8 .2 .8 .1 .8 .1 .8 .1 .8 0 .8 0 .8-.2 .7-.1 .9-.1 .8-.1 .8 .1 .8 0 .8 0 .8-.3 .6-.4 .8-.8 .5-.8 .4-.8 .3-.8 .2-.8 .1-.8 0-.8-.2-.8-.3-.7-.5-.9-.5-.8-.5-.8-.6-.8-1.1-.6-.8 .1-.8 .2-.8 .3zM96 96l.8-.5 .8-.1 .8-.1 .8 .2 .8 .3 .8 .7 .8 .9 .8 .9 .8 .8 .8 .6 .8 .7 .5 .4 .6 .8 .5 .8 .3 .8 0 .8-1.1 .3-.8-.1-.8-.4-.8-.5-.8-.7-.8-.6-.4-.4-1-.8-1-.8-.8-.6-.8-.6-.5-.4-.9-.8-.2-.5 0-1.1zM162.4 136.4l.8-.2 .8 0 .8 .1 .8 .3 .8 .4 .8 .6 .8 .7 .8 .8 .8 .9 .6 .8 .5 .8 .3 .8 .2 .8-.3 .8-.5 .5-.5 .3-1.1 .2-.8-.1-.8-.3-.8-.5-.8-.7-.8-.7-.4-.3-.4-.4-.4-.4-.4-.5-.8-1.1-.5-.8-.3-.7-.1-.9 .3-.8 .6-.4zM164.7 139.2l.3 .8 .6 .8 .8 .6 .8 .3 .4-.9-.4-.8-.7-.8-.9-.6-.8 0z" fill="#20ffb0" stroke="#2a4a7a" stroke-opacity=".8" stroke-width=".6"/>
<path d="M74.4 67.1l.8 .2 .8 .7 .5 .8 .3 .5 .8 1.1 .8 .8 .7 .8 .5 .8 .1 .8 0 .8-.1 .8-.1 .8-.3 .8-.2 .8-.4 .8-.5 .8-.5 .6-.8 1-.8 .8-.8 .8-.8 .4-.8 0-.8-.3-.8-.4-.8-.4-.6-.1-1 0-.8 0-.8 .1-.8 0-.8 0-.8-.1-.8-.1-.8 0-.8-.1-.8-.2-.8-.4-.5-.8-.1-.8-.1-.8 .1-.8 .2-.8 .2-.8 .3-.8 .3-.8 .3-.8 .5-.8 .4-.5 .8-.7 .5-.4 1.1-.6 .8-.3 .8-.3 .8-.1 .8-.2 .8-.2 .8-.3 .8-.3 .8-.5 .7-.4 .9-.6 .6-.2zM72.2 68.8l-1 .4-.8 .3-.8 .2-.8 .2-.8 .1-.8 .2-.7 .2-.9 .4-.8 .4-.8 .6-.8 .8-.7 1-.4 .8-.2 .8-.3 .8-.2 .8-.2 .8 0 .8 0 .8 .3 .8 .8 .8 .9 .3 .8 .1 .8 .1 .8 .1 .8 0 .8 .1 .8-.1 .8 0 .8-.1 .8-.1 .8 .1 .8 .1 .6 .2 1 .3 .8-.2 .8-.5 .4-.4 .4-.4 .4-.4 .4-.6 .7-1 .4-.8 .2-.8 .2-.8 .2-.8 0-.8-.1-.7-.3-.9-.5-.7-.7-.9-.5-.8-.4-.6-.6-1-1-.7-.8 .1-.8 .3-.6 .3zM95.2 94.3l.8-.2 .8 0 .8 0 .8 .1 .8 .2 .8 .3 .7 .5 .8 .8 .7 .8 .6 .8 .4 .4 .5 .4 1.1 .8 .8 .6 .8 .8 .7 1 .5 .8 .4 .7 .4 .9 .3 .8 .1 .8-.8 .2-.8-.1-.8-.2-.8-.2-.8-.2-.8-.3-.8-.4-.5-.4-1-.8-.9-.8-.8-.7-.8-.6-.8-.6-.7-.5-.9-.5-.6-.3-1-.7-.8-.6-.8-1.1-.2-.8 .2-.7 .8-.7 .8-.3zM96 96l-.2 .8 .4 .8 .6 .5 .8 .7 .6 .4 1 .8 .8 .6 .8 .7 .8 .7 .5 .4 1 .8 .9 .6 .8 .4 .8 .1 .8-.1 .3-1-.3-.8-.5-.8-.3-.4-.8-.8-.4-.4-1-.8-.9-.8-.7-.8-.7-.8-.9-.8-1-.5-.8-.2-.8 .1-.8 .1-.8 .5zM160.8 135.8l.8-.4 .8-.1 .8 0 .8 0 .8 .2 .8 .2 .6 .3 1 .6 .8 .6 .5 .4 .9 .8 .8 .8 .7 .8 .3 .4 .4 .4 .4 .6 .8 .9 .6 .9 .2 .8-.2 .8-.5 .8-.9 .7-.8 .2-.8 0-.8 0-.8-.1-.8-.2-.8-.3-.5-.3-1-.8-.9-.8-.8-.6-.8-.5-.6-.5-.7-.8-.3-.5-.7-1.1-.5-.8-.3-.8-.2-.8 .2-.8 .4-.8zM161.8 136.8l-.3 .8 .1 .8 .3 .8 .5 .8 .5 .8 .7 .8 .4 .4 .4 .4 .4 .3 .5 .5 1 .8 .9 .6 .8 .3 .8 .1 .8-.1 .8-.4 .5-.5 .3-.8-.2-.8-.3-.8-.3-.5-.8-1.1-.7-.8-.8-.8-.9-.8-.8-.6-.8-.4-.8-.3-.8-.1-.8 0-.8 .2-.6 .4z" fill="#10ff50" stroke="#2a4a7a" stroke-opacity=".8" stroke-width=".6"/>
<path d="M60 57.6l.8-.2 .8-.1 .8-.2 .8 0 .8 0 .8 .1 .8 .2 .8 .3 .8 .5 .8 .5 .6 .5 .6 .8 .4 .7 .3 .9 .1 .8 0 .8-.2 .8-.4 .8-.6 .7-.5 .9 .5 .6 .6 1-.6 .7-.8 .3-.8 .2-.8 .2-.8 .3-.8 .4-.8 .6-.5 .5-.8 .8-.3 .4-.7 1.2-.3 .8-.3 .8-.3 .8-.3 .8-.2 .8-.1 .8-.1 .8 0 .8-.1 .8-.1 .8-.4 .8-1.1 .4-.8 0-.4-.4-1.2-.4-.4-.4-.2-.8 0-.8 0-.8 0-.8-.1-.8 0-.8 0-.8 .1-.8 .1-.8 .1-.8 .2-.8 .1-.8 0-.8-.1-.8 .1-.8 .3-.8 .2-.8 .4-.8 .1-.8-.3-.8-.6-.4-.6-.4-.5-.8 0-.8 .1-.8 .2-.6 .3-1 .3-.8 .5-.8 .5-.4 .5-.4 1.1-.5 .8-.2 .8-.1zM59.2 58.4l-.8 .3-.8 .4-.8 .9-.3 .8-.2 .8-.1 .8 .1 .8 .5 .7 .8 .5 .5 .4 .3 .8-.4 .8-.4 .8-.4 .8-.3 .8-.2 .8-.1 .8-.1 .8-.2 .8-.1 .8-.2 .6-.2 1-.1 .8-.1 .8 0 .8 0 .8 .1 .8 0 .8 .1 .8 0 .8 .1 .8 .9 .3 .6 .5 1 .1 .8-.5 .5-1.2 .2-.8 0-.8 .1-.7 .2-.9 .2-.8 .2-.8 .3-.8 .3-.8 .4-.8 .4-.8 .4-.6 .8-1 .8-.7 .8-.6 .6-.3 1-.5 .8-.2 .8-.4 .4-.5-.4-.4-.7-.4-.9-.3-.8-.3 .5-1 1.1-.3 .8-.3 .8-.9 .3-.9 0-.8-.2-.8-.4-.8-.5-.7-.8-.8-.8-.5-.7-.4-.9-.4-.8-.2-.8 0-.8 0-.8 .1-.8 .1-.8 .2-.8 .2zM64.8 83.2l.8-.2 .8-.1 .8 .1 .8 0 .8 .2 .8 .4 .5 .4 .3 .7-.3 .9-1.3 .2-.8-.1-.6-.1-1-.4-.8-.4-.8-.7-.1-.9zM66.2 84l1 .6 .7 .2 .6-.8-.5-.2-.8-.2-.8 .2zM149.6 91l.8-.1 .8 0 .8 0 .8 .1 .8 .1 .8 .2 .8 .3 .8 .3 .8 .3 .8 .2 .8 .2 .8 .2 .8 .1 .8 .2 .8 .1 .8 .3 .8 .3 .8 .3 .7 .3 .9 .4 .6 .4 .9 .8 .7 .8 .7 .8 .3 .4 .8 1.2 .3 .8 .2 .8 .1 .8 0 .8 .1 .8 .1 .8 .2 .8 .3 .8 .2 .8 .1 .8 0 .8 0 .8 0 .8 0 .8-.1 .8-.1 .8 0 .8-.1 .8 0 .8 0 .8-.1 .8-.1 .8-.2 .8-.3 .8-.2 .8-.2 .8-.2 .7-.1 .9 0 .8 0 .8 0 .8-.1 .8-.1 .8-.1 .8-.3 .8-.3 .8-.5 .8-.8 .8-.9 .7-.8 .4-.8 .3-.7 .2-.9 .1-.8 0-.8 0-.8-.1-.8-.2-.8-.3-.7-.3-.9-.4-.8-.4-.8-.3-.8-.4-.8-.4-.8-.4-.8-.4-.8-.5-.8-.4-.7-.4-.9-.3-.8-.2-.8-.1-.8-.1-.8 0-.8-.1-.8-.2-.8-.5-.7-.9-.4-.8-.3-.8-.4-.8-.6-.8-.8-.7-.8-.6-.8-.7-.6-.4-1-.6-.8-.4-.8-.3-.8-.3-.8-.1-.8-.1-.8 0-.8 0-.8 .1-.8 .1-.8 0-.8-.2-.8-.2-.7-.4-.9-.7-.8-.9-.6-.8-.8-.8-1-.5-.7-.3-.9-.3-.8-.4-.8-.5-.6-.4-.9-.8-.9-.7-.8-.7-.8-.8-.8-.8-.8-.8-.8-1-.3-.8-.2-.8 0-.8 .2-.8 .3-.6 .8-.9 .8-.7 .8-.5 .8-.4 .8-.4 .8-.4 .8-.4 .8-.3 .5-.2 1.1-.3 .8-.2 .8-.1 .8 0 .8 0 .8 .1 .8 0 .8 0 .8-.1 .7-.2 .9-.4 .6-.4 1-.7 .8-.7 .8-.7 .5-.3 1.1-.5 .8-.2 .8 0 .8 0 .8 .2 .8 .1 .8 .1 .8 .1 .8 0 .8 0 .8 0 .8-.1 .8-.1 .8-.1 .8-.2 .8-.2 .8-.2 .8-.3 .8-.2 .8-.2zM150.5 92.8l-.9 .1-.8 .1-.8 .1-.8 .2-.8 .2-.8 .2-.8 .1-.8 .2-.8 .1-.8 .1-.8 .2-.8 .1-.8 .2-.8 .2-.8 0-.8 .1-.8 .1-.8 .1-.8 .2-.8 .5-.8 .5-.6 .4-1 .7-.8 .4-.8 .4-.8 .3-.8 .2-.8 .1-.8 0-.8 0-.8-.1-.8-.1-.8 .1-.8 .1-.8 .2-.8 .3-.8 .3-.5 .3-1.1 .8-.8 .7-.8 .9-.4 .8-.1 .8 .2 .8 .3 .7 .5 .9 .6 .8 .5 .6 .8 .8 .8 .8 .8 .5 .8 .5 .8 .3 .8 .3 .8 .4 .8 .4 .8 .5 .8 .5 .8 .3 .8 .2 .8 .1 .8 .1 .8 .1 .8 .1 .8 0 .8 .1 .8 .2 .8 .3 .8 .4 .8 .5 .8 .5 .6 .3 1 .6 .8 .5 .7 .5 .9 .6 .8 .6 .4 .4 .4 .5 .6 1.1 .4 .8 .3 .8 .3 .6 .8 .9 .8 .3 .8 .2 .8 .1 .8 .1 .8 .2 .8 .2 .8 .3 .6 .3 1 .5 .5 .3 1.1 .6 .5 .2 1.1 .5 .7 .3 .9 .5 .7 .3 .9 .5 .7 .3 .9 .3 .8 .1 .8-.1 .8-.2 .8-.3 .8-.5 .8-.7 .8-.9 .6-.9 .4-.8 .2-.8 .2-.8 0-.8 0-.8-.1-.8 .1-.8 .1-.8 .3-.8 .3-.8 .3-.8 .2-.8 .2-.8 .1-.8 0-.8 .2-.8 .1-.8 .1-.8 .2-.8 0-.8 .1-.8-.1-.8-.1-.8-.2-.7-.3-.9-.5-.8-.4-.8-.3-.8-.2-.8 0-.8 0-.8 0-.8-.2-.8-.4-.8-.4-.8-.5-.8-.6-.8-.9-.8-.9-.6-.8-.4-.8-.4-.7-.2-.9-.3-.8-.1-.8-.2-.8-.1-.8-.2-.8-.1-.8-.2-.8-.1-.8-.2-.8-.1-.8 0-.8-.1-.8 .1-.7 0z" fill="#50ff10" stroke="#7a3a00" stroke-opacity=".8" stroke-width=".6"/>
<path d="M60 58.2l.8-.2 .8-.1 .8-.1 .8 0 .8 0 .8 .2 .8 .3 .8 .5 .6 .4 .9 .8 .6 .8 .3 .6 .3 1 0 .8-.2 .8-.7 .8-1 .5-.8 .2-.8 .6 .8 .8 .8 .3 .8 .4 .4 .4-.4 .5-.4 .3-1.2 .3-.8 .3-.8 .5-.6 .5-.9 .8-.8 .8-.5 .8-.4 .7-.4 .9-.3 .8-.3 .8-.2 .8-.2 .8-.2 .8-.1 .8 0 .8-.2 .8-.2 .8-.7 .8-1.2 .2-.8-.7-.8-.2-.2-.9 0-.8-.1-.8 0-.8-.1-.8 0-.8 0-.8 .1-.8 .1-.8 .2-.8 .2-.8 .1-.8 .2-.8 .1-.8 .1-.8 .2-.8 .3-.8 .4-.7 .4-.9 .4-.8-.3-.8-.5-.4-.6-.4-.7-.8-.1-.8 .1-.8 .2-.8 .3-.7 .7-.9 .9-.5 .8-.3 .8-.2zM59.7 59.2l-1.3 .8-.5 .8-.1 .8 .2 .8 .4 .4 .7 .4 .9 .5 .6 .3 .6 .8-.4 .4-.8 .7-.5 .5-.7 .8-.4 .6-.5 1-.2 .8-.1 .7-.2 .9-.3 .8-.3 .6-.4 1-.2 .8-.1 .8-.1 .8-.1 .8 .1 .8 .1 .8 0 .8 .1 .8 .1 .8 .2 .8 1.1 .7 .8-.3 .4-.4 .4-.6 .3-1 .1-.8 .1-.8 .2-.8 .2-.8 .3-.8 .3-.8 .3-.8 .3-.8 .3-.6 .6-1 .7-.8 .8-.8 .3-.4 .5-.4 .3-.7-.4-.9-.4-.3-.4-.5-.4-.6-.6-1 .6-.8 .8-.3 .8-.1 .8-.1 .8-.1 .6-.2 .8-.8 0-.8-.2-.8-.4-.6-.8-.9-.8-.6-.5-.3-1.1-.4-.8-.2-.8 0-.8 .1-.8 .2-.8 .2zM66.4 83.8l.8-.2 .8 .2 .5 .2-.4 .8-.9-.2-.8-.4zM151.2 92.8l.8-.1 .8 .1 .8 0 .8 .1 .8 .2 .8 .1 .8 .2 .8 .1 .8 .2 .8 .1 .8 .2 .8 .1 .8 .3 .8 .2 .8 .4 .8 .4 .8 .5 .8 .7 .8 1 .5 .8 .3 .6 .5 1 .2 .8 0 .8 0 .8 0 .8 .2 .8 .3 .8 .4 .7 .5 .9 .3 .8 .2 .8 .1 .8 .1 .8-.1 .8 0 .8-.2 .8-.1 .8-.1 .8-.2 .8 0 .8-.1 .8-.2 .8-.2 .8-.3 .8-.3 .8-.2 .5-.2 1.1-.1 .8 .1 .8 0 .8 0 .8-.2 .8-.2 .8-.4 .8-.5 .8-.7 .8-.9 .8-.9 .6-.8 .3-.8 .2-.8 .1-.8-.1-.8-.3-.8-.3-.8-.4-.8-.4-.8-.4-.8-.4-.8-.4-.8-.3-.8-.4-.8-.5-.8-.4-.8-.4-.8-.3-.6-.2-1-.2-.8-.1-.8-.1-.8-.2-.5-.2-1-.8-.4-.8-.3-.8-.4-.8-.4-.8-.6-.8-.4-.4-.5-.4-1.1-.8-.8-.5-.5-.3-1.1-.7-.8-.4-.8-.5-.8-.5-.6-.3-1-.4-.8-.2-.8-.1-.8 0-.8-.1-.8-.1-.8-.1-.8-.1-.8-.2-.8-.3-.8-.5-.5-.3-1.1-.6-.8-.4-.8-.3-.8-.3-.8-.5-.5-.3-.9-.8-.8-.8-.7-.8-.3-.4-.8-1.2-.3-.8-.2-.8 .1-.8 .4-.8 .7-.8 .9-.8 .8-.6 .8-.5 .8-.3 .8-.3 .8-.2 .8-.1 .8-.1 .8 .1 .8 .1 .8 0 .8 0 .8-.1 .8-.2 .8-.3 .8-.4 .6-.3 1-.6 .8-.6 .6-.4 1-.6 .7-.2 .9-.1 .8-.1 .8-.1 .8 0 .8-.2 .8-.2 .8-.1 .8-.2 .8-.1 .8-.1 .8-.2 .8-.1 .8-.2 .8-.2 .8-.2 .8-.1 .8-.1 .8-.1 .8 0zM147.8 95.2l-.6 .1-.8 .2-.8 .3-.8 .2-.8 .2-.8 .3-.7 .3-.9 .5-.5 .3-1.1 .7-.8 .6-.6 .3-1 .5-.7 .3-.9 .4-.7 .4-.9 .7-.7 .9-.1 .8 .2 .8 .6 .8 .6 .8 .6 .8 .4 .5 .8 1.1 .5 .8 .3 .4 .6 1.2 .2 .6 .3 1 .3 .8 .4 .8 .6 .7 .8 .7 .8 .6 .4 .4 1 .8 .8 .8 .6 .8 .4 .7 .4 .9 .4 .8 .4 .8 .4 .5 .8 .6 .8 .3 .8 .2 .8 .2 .8 .1 .8 .2 .8 .3 .8 .4 .8 .4 .8 .3 .8 .4 .8 .3 .8 .3 .7 .3 .9 .4 .8 .3 .8 .2 .8 .1 .8-.1 .8-.6 .8-.9 .8-1 .5-.8 .3-.5 .4-1.1 .2-.8 .1-.8 .2-.8 .2-.8 .3-.8 .4-.8 .3-.8 .2-.8 .2-.8 .2-.8 .3-.8 .2-.7 .3-.9 .2-.8 .1-.8 0-.8-.2-.8-.2-.8-.4-.8-.5-.8-.5-.8-.4-.7-.3-.9-.1-.8-.2-.8-.1-.8-.2-.8-.2-.8-.3-.8-.4-.8-.6-.8-.8-.8-.8-.6-.8-.4-.8-.3-.8-.2-.8-.2-.8-.2-.8-.1-.8 0-.8 0-.8 0-.8 .1-.8 .2-.8 .1-.8 0-.8-.1-.8 0-.8-.1-.8 .1-.8 .1z" fill="#b0ff10" stroke="#7a3a00" stroke-opacity=".8" stroke-width=".6"/>
<path d="M60 59.1l.8-.2 .8-.2 .8-.1 .8 0 .8 .2 .8 .2 .8 .5 .7 .5 .8 .8 .5 .8 .2 .8 0 .8-.6 .7-.8 .3-.8 .1-.8 .1-.8 .1-.8 .3-.6 .8 .4 .8 .6 .8 .4 .5 .4 .3 .4 .6-.3 1-.5 .4-.3 .4-.5 .4-.8 1-.7 1-.4 .8-.3 .8-.3 .8-.3 .8-.3 .8-.2 .8-.2 .8-.1 .8-.1 .8-.2 .8-.5 .8-.4 .4-.8 .3-.8-.6-.5-.9-.1-.8-.1-.8 0-.8-.1-.8-.1-.8 .1-.8 .1-.8 .1-.8 .2-.8 .3-.8 .4-.8 .3-.8 .2-.8 .1-.8 .2-.8 .4-.8 .5-.8 .4-.5 .8-.8 .5-.3 .7-.8-.4-.4-.8-.7-.8-.5-.8-.4-.4-.4-.2-.8 .1-.8 .5-.8 .8-.6 .8-.3zM62.1 59.2l-1.3 .3-.8 .3-.8 .8-.1 1 .9 .8 .8 .3 .8 .4 .8 .3 .8 .1 .8 0 .8 0 .8-.1 .8-.2 .5-.8-.2-.8-.6-.8-.5-.5-.4-.3-1.2-.6-.8-.2-.8 0zM59.6 67.2l-.4 .4-.6 1.2-.2 .7-.2 .9-.2 .8-.4 .7-.5 .9-.3 .6-.3 1-.2 .8-.1 .8 0 .8 0 .8 .1 .8 .1 .8 .1 .8 .1 .8 .6 .8 .9 0 .8-.8 .3-.5 .2-1.1 .1-.8 .2-.8 .2-.8 .3-.8 .3-.8 .3-.8 .3-.8 .4-.8 .5-.8 .4-.5 .8-1 .7-.9 .1-.8-.6-.8-.8-.8-1-.6-.8-.1-.8 .4-.4 .3zM148 95.2l.8-.1 .8-.1 .8 .1 .8 0 .8 .1 .8 0 .8-.1 .8-.2 .8-.1 .8 0 .8 0 .8 0 .8 .1 .8 .2 .6 .1 1 .3 .8 .3 .8 .4 .8 .6 .8 .8 .6 .8 .2 .5 .5 1.1 .2 .8 .2 .8 .1 .8 .2 .8 .1 .8 .3 .8 .4 .8 .4 .7 .6 .9 .4 .8 .2 .8 .2 .8 0 .8-.1 .8-.2 .8-.3 .8-.2 .8-.3 .8-.2 .8-.2 .8-.2 .8-.3 .8-.4 .8-.3 .8-.2 .8-.2 .8-.1 .8-.2 .8-.3 .8-.4 .8-.5 .7-.6 .9-.7 .8-1 .8-.9 .2-.8-.1-.8-.2-.8-.3-.8-.4-.8-.3-.8-.3-.5-.2-1.1-.5-.7-.3-.9-.4-.8-.4-.8-.3-.8-.2-.8-.1-.8-.2-.8-.2-.8-.3-.5-.3-.7-.8-.4-.8-.4-.8-.4-.8-.4-.8-.4-.6-.8-.9-.8-.6-.8-.7-.6-.4-.9-.8-.7-.8-.4-.8-.3-.8-.3-.8-.2-.8-.4-.8-.5-.8-.5-.8-.6-.8-.6-.8-.4-.5-.8-1-.6-.9-.2-.7 .1-.9 .5-.8 1-.7 .8-.5 .8-.3 .8-.4 .8-.4 .8-.4 .7-.5 .9-.6 .8-.5 .8-.4 .8-.4 .8-.3 .7-.2 .9-.2 .8-.3 .8-.2 .6-.1zM154.3 96l-.7 .2-.8 .1-.8 .1-.8-.1-.8 0-.8 0-.8 .1-.8 .2-.8 .4-.8 .4-.8 .5-.8 .4-.8 .5-.7 .4-.9 .8-.8 .8-.6 .8-.7 .8-.3 .5-.5 1.1-.1 .8 .2 .8 .3 .8 .4 .8 .4 .8 .2 .8 .1 .8 0 .8 0 .8 0 .8 .1 .8 .3 .8 .6 .8 .4 .4 .3 .4 .5 .4 .3 .4 .5 .5 .8 1 .5 .9 .3 .7 .4 .9 .4 .7 .8 .9 .8 .5 .7 .3 .9 .2 .8 .2 .8 .1 .8 .2 .8 .3 .8 .4 .5 .2 1.1 .5 .8 .3 .8 .2 .8 .2 .8 .2 .8 .2 .8-.1 .8-.2 .6-.5 .7-.8 .7-.8 .4-.6 .6-1 .4-.8 .2-.8 .3-.8 .3-.8 .3-.8 .3-.7 .3-.9 .3-.8 .2-.6 .4-1 .4-.8 .3-.8 .2-.8 .1-.8 0-.8-.2-.8-.3-.8-.5-.8-.4-.6-.6-1-.4-.8-.3-.8-.2-.8-.2-.8-.2-.8-.3-.8-.2-.5-.5-1.1-.3-.6-.8-1-.8-.7-.8-.5-.8-.3-.8-.2-.8-.2-.8-.1-.8 0-.8 .1-.8 .1-.8 .2z" fill="#ffff00" stroke="#7a3a00" stroke-opacity=".8" stroke-width=".6"/>
<path d="M62.4 59.2l.8 0 .8 .2 .8 .4 .8 .5 .5 .5 .3 .4 .5 1.2-.5 .8-.8 .2-.8 .1-.8 0-.8 0-.8-.1-.8-.3-.8-.4-.8-.3-.8-.6-.2-1 .7-.8 1.1-.5 .8-.2 .8-.1zM61.9 60l-1.1 .8 .5 .8 1.1 .6 .7 .2 .9 .1 .8 0 .7-.9-.6-.8-.9-.6-.5-.2-1.1-.1zM60 66.9l.8-.4 .8 .1 .8 .4 .8 .8 .8 1-.1 .8-.6 .8-.7 .8-.6 .8-.4 .7-.5 .9-.3 .8-.3 .8-.3 .8-.2 .6-.3 1-.2 .8-.1 .8-.1 .8-.4 .8-.5 .7-.8 .3-.8-.5-.3-1.3-.1-.8-.1-.8-.1-.8 0-.8 0-.8 .1-.8 .2-.8 .2-.8 .4-.8 .4-.8 .5-.8 .2-.8 .2-.8 .2-.8 .3-.8 .7-.8 .4-.3zM59.7 68l-.5 .8-.2 .8-.1 .8-.3 .8-.5 .8-.5 .6-.5 1-.3 .7-.2 .9-.2 .8 0 .8 0 .8 .1 .8 .1 .8 .2 .8 .3 .8 .5 .5 .8-.3 .6-1 .2-.7 .2-.9 .1-.8 .2-.8 .3-.8 .3-.8 .3-.8 .3-.8 .4-.8 .3-.5 .8-1.1 .6-.8 .4-.8-.1-.8-.7-.8-1-.6-.8-.1-.8 .4zM154.4 96l.8-.2 .8-.1 .8-.1 .8 0 .8 .1 .8 .2 .8 .2 .8 .3 .7 .4 .9 .8 .7 .8 .4 .8 .4 .8 .3 .8 .3 .8 .2 .8 .2 .8 .2 .8 .3 .8 .2 .5 .7 1.1 .5 .8 .4 .6 .4 1 .2 .8 0 .8-.1 .8-.2 .8-.3 .7-.4 .9-.3 .8-.3 .8-.3 .8-.3 .8-.3 .8-.3 .8-.3 .8-.3 .8-.2 .8-.4 .8-.4 .8-.6 .8-.4 .5-.8 .9-.8 .7-.8 .2-.8 .1-.8-.2-.8-.2-.8-.2-.6-.2-1-.3-.8-.4-.8-.3-.8-.4-.6-.2-1-.3-.8-.1-.8-.2-.8-.2-.8-.3-.8-.5-.7-.8-.5-.8-.3-.8-.4-.8-.5-.8-.5-.8-.8-.8-.3-.4-.5-.4-.3-.4-.4-.4-.4-.6-.5-1-.1-.8 0-.8 0-.8 0-.8-.1-.8-.2-.8-.4-.8-.3-.7-.4-.9-.2-.8 .1-.8 .3-.8 .5-.8 .5-.6 .8-1 .7-.8 .9-.7 .8-.5 .7-.4 .9-.5 .4-.3 1.2-.6 .8-.4 .8-.2 .8-.1 .8 0 .8 0 .8 .1 .8-.1 .8-.1 .7-.2zM154.7 96.8l-1.1 .3-.8 .1-.8 .1-.8 0-.8 .1-.8 .1-.8 .3-.8 .6-.8 .6-.8 .7-.5 .3-1.1 .7-.8 .6-.8 .8-.8 1.1-.2 .8-.1 .8 .1 .8 .2 .8 .2 .8 .1 .8 .1 .8-.1 .8-.1 .8-.1 .8-.1 .8 .1 .8 .3 .8 .4 .6 .7 1 .7 .8 .5 .8 .5 .8 .4 .8 .4 .8 .4 .8 .4 .6 .8 .7 .7 .3 .9 .3 .8 .1 .8 .2 .8 .1 .8 .3 .8 .3 .8 .3 .8 .3 .8 .3 .8 .2 .8 .1 .8 0 .8-.1 .8-.3 .6-.5 .9-.8 .7-.8 .6-.8 .4-.7 .4-.9 .3-.8 .4-.8 .3-.8 .3-.8 .4-.8 .3-.8 .4-.8 .3-.8 .4-.8 .3-.8 .1-.8 0-.8-.3-.8-.4-.8-.5-.8-.3-.4-.8-1.2-.4-.8-.3-.8-.3-.8-.3-.8-.3-.8-.3-.8-.4-.8-.4-.8-.5-.8-.8-.8-.8-.5-.7-.3-.9-.2-.8-.1-.8-.1-.8 .1-.8 .2z" fill="#f8b010" stroke="#7a3a00" stroke-opacity=".8" stroke-width=".6"/>
<path d="M62.4 59.9l.8 0 .8 .3 .8 .5 .7 .9-.5 .8-1 .1-.8-.1-.8-.2-.8-.4-.8-1 .8-.6 .8-.3zM60 67.7l.8-.4 .8 .1 .8 .4 .8 .9 .2 .9-.4 .8-.6 .8-.6 .8-.5 .8-.4 .8-.3 .8-.3 .8-.3 .8-.3 .8-.2 .8-.1 .8-.2 .8-.2 .8-.4 .8-1 .5-.5-.5-.3-.7-.2-.9-.1-.8-.1-.8 0-.8 0-.8 .2-.8 .2-.8 .3-.8 .4-.8 .6-.8 .3-.5 .5-1.1 .1-.8 .2-.8 .5-.8zM59.9 68.8l-.3 .8-.2 .8-.2 .7-.6 .9-.6 .8-.4 .5-.5 1.1-.3 .8-.1 .8-.1 .8 .1 .8 0 .8 .2 .8 .3 .8 .4 .7 .8-.2 .3-.5 .2-.8 .3-.8 .1-.8 .2-.8 .3-.8 .2-.5 .4-1.1 .3-.8 .4-.8 .4-.8 .6-.8 .3-.5 .5-1.1-.3-.8-1-.7-.8 0-.8 .5zM155.2 96.7l.8-.2 .8-.1 .8 .1 .8 .1 .8 .2 .8 .3 .8 .5 .8 .8 .5 .8 .3 .5 .5 1.1 .3 .7 .3 .9 .3 .8 .3 .8 .3 .8 .4 .7 .5 .9 .6 .8 .5 .7 .4 .9 .3 .8 0 .8-.1 .8-.3 .8-.3 .7-.4 .9-.4 .8-.3 .8-.4 .8-.3 .8-.3 .8-.3 .6-.4 1-.4 .8-.4 .8-.4 .6-.8 .9-.8 .8-.8 .6-.7 .3-.9 .1-.8 0-.8-.1-.8-.2-.8-.3-.8-.3-.8-.3-.8-.3-.6-.2-1-.2-.8-.2-.8-.1-.8-.2-.8-.4-.6-.5-.6-.8-.4-.7-.4-.9-.4-.8-.5-.8-.3-.5-.8-1-.7-.9-.5-.8-.3-.8-.1-.8 .1-.8 .1-.8 .1-.8 .1-.8-.1-.8-.1-.8-.2-.8-.2-.8-.1-.8 .1-.8 .2-.7 .5-.9 .8-.8 1-.8 .9-.6 .8-.5 .6-.5 .9-.8 .9-.6 .6-.2 1-.2 .8-.1 .8 0 .8-.1 .8-.1 .8-.2 .8-.2zM154.9 97.6l-1.3 .3-.8 .2-.8 0-.8 .1-.8 .2-.8 .3-.8 .5-.8 .7-.8 .7-.8 .7-.8 .7-.4 .4-.4 .5-.6 1.1-.1 .8 0 .8 0 .8 0 .8-.1 .8-.1 .8-.1 .8-.1 .8-.2 .8 0 .8 .1 .8 .2 .8 .5 .8 .5 .7 .6 .9 .4 .8 .4 .8 .4 .8 .5 .8 .5 .8 .4 .4 .6 .4 1 .4 .8 .2 .8 .1 .7 .1 .9 .2 .8 .3 .8 .3 .8 .3 .8 .3 .8 .1 .8 0 .8-.1 .8-.3 .5-.3 1-.8 .8-.8 .6-.8 .3-.5 .6-1.1 .4-.8 .3-.8 .3-.6 .4-1 .4-.8 .4-.8 .4-.8 .4-.8 .3-.8 .1-.8-.1-.8-.2-.8-.5-.8-.6-.8-.6-.8-.4-.7-.4-.9-.4-.8-.4-.8-.3-.8-.4-.8-.4-.8-.5-.8-.4-.7-.8-.9-.8-.6-.5-.2-1.1-.3-.8 0-.8 .1-.8 .1z" fill="#f06008" stroke="#7a3a00" stroke-opacity=".8" stroke-width=".6"/>
<path d="M60 68.6l.8-.5 .8 0 .8 .5 .5 1-.2 .8-.6 .8-.5 .7-.5 .9-.3 .7-.4 .9-.3 .8-.3 .8-.3 .8-.2 .8-.1 .6-.3 1-.2 .8-.3 .5-.8 .2-.4-.7-.3-.8-.2-.8 0-.8-.1-.8 .1-.8 .1-.8 .3-.8 .3-.8 .6-.8 .4-.6 .8-1 .2-.8 .2-.8 .3-.8zM155.2 97.5l.8-.1 .8-.1 .8 0 .8 .2 .8 .3 .8 .6 .7 .8 .5 .8 .4 .7 .5 .9 .3 .7 .4 .9 .4 .8 .4 .8 .4 .8 .4 .8 .4 .5 .8 1.1 .5 .8 .2 .8 .1 .8-.1 .8-.3 .8-.4 .8-.4 .8-.4 .8-.4 .8-.3 .8-.4 .8-.3 .8-.4 .8-.4 .8-.5 .8-.5 .7-.8 .8-.8 .7-.8 .5-.8 .3-.8 .1-.8 0-.8-.1-.8-.3-.8-.3-.8-.3-.8-.3-.8-.2-.8-.1-.8-.1-.8-.2-.8-.3-.8-.5-.4-.4-.4-.6-.6-1-.4-.8-.4-.8-.4-.8-.6-.8-.5-.8-.3-.5-.4-1.1-.1-.8 0-.8 .2-.8 .1-.8 .1-.8 .1-.6 .1-1 0-.8 0-.8 0-.8 .1-.8 .4-.8 .6-.8 .4-.4 .5-.4 .9-.8 .8-.8 1-.8 .8-.5 .7-.3 .9-.2 .8-.1 .8 0 .8-.2 .8-.2 .8-.2z" fill="#ff0000" stroke="#7a3a00" stroke-opacity=".8" stroke-width=".6"/>
<rect width="224.4" height="167.6" fill="url(#dots)"/>
<path d="M104.9 37.3l-.1 1M109.8 37.3l0 1M104.9 42.2l-.3 1.2M109.8 42.2l-.2 1.3M114.7 42.2l-.1 1M119.6 42.2l0 1.1M124.5 42.2l-.1 1.1M90.2 47.1l.2 .9M95.1 47.1l.1 1.5M100 47.1l.1 1.2M104.9 47.1l-.2 1.7M109.8 47.1l.3 1.5M114.7 47.1l.1 1.6M119.6 47.1l0 1.7M124.5 47.1l-.4 1.1M90.2 52l.2 1M95.1 52l.3 1.9M100 52l.1 2M104.9 52l.2 2.4M109.8 52l-.1 2.4M114.7 52l-.1 2.2M119.6 52l-.1 1.7M124.5 52l0 1.6M129.4 52l.1 1.3M65.7 56.9l-.1-1.6M70.6 56.9l.9-.6M75.5 56.9l1 .3M80.4 56.9l.7 .7M85.3 56.9l.4 1.2M90.2 56.9l.5 1.5M95.1 56.9l.5 2M100 56.9l0 2.5M104.9 56.9l.1 3M109.8 56.9l-.1 3.1M114.7 56.9l.1 3M119.6 56.9l-.2 2.6M124.5 56.9l-.3 2.2M129.4 56.9l-.3 1.5M134.3 56.9l-.1 1M55.9 61.8l1.3 1M60.8 61.8l1.9-.4M65.7 61.8l2.3-2.5M70.6 61.8l2.3-.9M75.5 61.8l1.6 .3M80.4 61.8l1 .9M85.3 61.8l.9 2.1M90.2 61.8l.3 1.9M95.1 61.8l.3 2.5M100 61.8l.4 3.3M104.9 61.8l.1 3.6M109.8 61.8l.1 3.9M114.7 61.8l-.1 3.5M119.6 61.8l.1 3.4M124.5 61.8l-.1 2.8M129.4 61.8l-.3 2.1M134.3 61.8l-.7 1.4M144.1 61.8l-.8 .5M153.9 61.8l-1 .3M55.9 66.7l2.2-.7M60.8 66.7l4.4-2.1M65.7 66.7l4.9-2M70.6 66.7l3.5 .2M75.5 66.7l2 1.6M80.4 66.7l1.1 1.8M85.3 66.7l.7 2.1M90.2 66.7l.4 2.8M95.1 66.7l-.1 3.4M100 66.7l.1 4.2M104.9 66.7l.1 4.3M109.8 66.7l.2 4.6M114.7 66.7l-.2 4.3M119.6 66.7l-.2 3.8M124.5 66.7l-.2 3M129.4 66.7l-.7 2.2M134.3 66.7l-.7 1.8M139.2 66.7l-.7 .8M144.1 66.7l-.8 1M149 66.7l-.9 .3M153.9 66.7l-1.2 .3M158.8 66.7l-1.3 .1M163.7 66.7l-1.3-.2M168.6 66.7l-1.4-.4M178.4 66.7l-.9-.4M55.9 71.6l.6-2.1M60.8 71.6l2.6-3.8M65.7 71.6l3.8-1.6M70.6 71.6l3.2 2.4M75.5 71.6l1.2 2.8M80.4 71.6l.5 2.4M85.3 71.6l.2 2.5M90.2 71.6l0 2.8M95.1 71.6l0 3.9M100 71.6l-.2 4.6M104.9 71.6l0 5.3M109.8 71.6l.2 5.5M114.7 71.6l-.2 5M119.6 71.6l-.1 4.6M124.5 71.6l-.2 3.6M129.4 71.6l-.7 3.1M134.3 71.6l-1.1 2.1M139.2 71.6l-1.3 1.3M144.1 71.6l-1.5 1M149 71.6l-1.6 .7M153.9 71.6l-1.4 .1M158.8 71.6l-1.7-.1M163.7 71.6l-1.4-.5M168.6 71.6l-1.3-.5M173.5 71.6l-1-.6M183.3 71.6l-.8-.5M55.9 76.5l-1.4-1.1M60.8 76.5l-2.4-3.9M65.7 76.5l-2.3-1.9M70.6 76.5l-1.7 3M75.5 76.5l-.9 3.1M80.4 76.5l-.6 2.6M85.3 76.5l-.2 2.7M90.2 76.5l.2 3.3M95.1 76.5l0 3.9M100 76.5l.2 4.7M104.9 76.5l0 5.7M109.8 76.5l.1 6.1M114.7 76.5l0 5.7M119.6 76.5l-.5 5.2M124.5 76.5l-.7 4.2M129.4 76.5l-.6 3.3M134.3 76.5l-1.2 2.5M139.2 76.5l-1.8 2.1M144.1 76.5l-2.3 1.2M149 76.5l-2.4 .7M153.9 76.5l-2.5 .2M158.8 76.5l-2.3 0M163.7 76.5l-2-.1M168.6 76.5l-1.7-.9M173.5 76.5l-1.7-.9M178.4 76.5l-1.3-1M65.7 81.4l-4.6-2M70.6 81.4l-4.1 .5M75.5 81.4l-1.8 1.9M80.4 81.4l-1.1 2.2M85.3 81.4l-.5 2.6M90.2 81.4l-.1 3M95.1 81.4l-.3 4M100 81.4l.2 4.9M104.9 81.4l-.1 5.8M109.8 81.4l0 6.1M114.7 81.4l-.1 6.4M119.6 81.4l-.2 5.8M124.5 81.4l-.6 5M129.4 81.4l-1.1 4.1M134.3 81.4l-1.8 2.9M139.2 81.4l-2.4 2.4M144.1 81.4l-3 1.8M149 81.4l-3.6 1.2M153.9 81.4l-3.5 .3M158.8 81.4l-3.2-.5M163.7 81.4l-3.4-.9M168.6 81.4l-2.4-.9M173.5 81.4l-1.9-1.2M178.4 81.4l-1.4-1.2M183.3 81.4l-1.1-.7M188.2 81.4l-.6-.7M70.6 86.3l-1-.5M75.5 86.3l-1.5 .2M80.4 86.3l-1.2 .7M85.3 86.3l-.8 1.4M90.2 86.3l-.1 2.7M95.1 86.3l0 3.6M100 86.3l.1 4.9M104.9 86.3l.3 5.5M109.8 86.3l-.1 6.2M114.7 86.3l-.5 6.2M119.6 86.3l-.4 6.1M124.5 86.3l-.8 5.3M129.4 86.3l-1.7 4.5M134.3 86.3l-2 3.9M139.2 86.3l-3.4 3.4M144.1 86.3l-4 2.7M149 86.3l-4.6 1.5M153.9 86.3l-4.9 .2M158.8 86.3l-5.3-1.1M163.7 86.3l-4.5-1.8M168.6 86.3l-3.6-2.3M173.5 86.3l-2.5-1.9M178.4 86.3l-1.6-1.7M183.3 86.3l-1.3-1.7M188.2 86.3l-.8-1.3M193.1 86.3l-.6-.7M90.2 91.2l.1 1.6M95.1 91.2l0 2.8M100 91.2l.5 4.2M104.9 91.2l.3 5.1M109.8 91.2l.6 6M114.7 91.2l-.2 6.1M119.6 91.2l-.2 5.9M124.5 91.2l-.6 5.7M129.4 91.2l-1.5 5.2M134.3 91.2l-2.6 5M139.2 91.2l-3.7 4.3M144.1 91.2l-5.1 3.5M149 91.2l-5.9 2.2M153.9 91.2l-6.7 .5M158.8 91.2l-6.6-1.2M163.7 91.2l-5.4-2.8M168.6 91.2l-4.2-3.4M173.5 91.2l-2.8-2.8M178.4 91.2l-1.8-2.5M183.3 91.2l-1.2-2M188.2 91.2l-.7-1.5M193.1 91.2l-.6-1M95.1 96.1l.6 2M100 96.1l.8 2.8M104.9 96.1l.6 4.4M109.8 96.1l.6 5.2M114.7 96.1l.4 5.6M119.6 96.1l-.3 5.9M124.5 96.1l-.6 6.2M129.4 96.1l-1.7 5.8M134.3 96.1l-2.3 5.8M139.2 96.1l-3.8 5.9M144.1 96.1l-5.7 5.1M149 96.1l-7.5 3.1M153.9 96.1l-8.1 .4M158.8 96.1l-7.6-2.5M163.7 96.1l-6-4.2M168.6 96.1l-4.3-4.5M173.5 96.1l-3.1-4M178.4 96.1l-2.1-3.3M183.3 96.1l-1.2-2.6M188.2 96.1l-.8-2.1M193.1 96.1l-.4-1.3M198 96.1l-.1-1M100 101l1 1.6M104.9 101l.9 2.7M109.8 101l1 3.9M114.7 101l.7 4.8M119.6 101l.3 5.4M124.5 101l0 5.9M129.4 101l-.5 6.5M134.3 101l-1.5 7M139.2 101l-3.3 7.5M144.1 101l-4.9 6.9M149 101l-7 4.6M153.9 101l-8 .4M158.8 101l-7.6-3.2M163.7 101l-5.8-5.8M168.6 101l-3.9-6.3M173.5 101l-2.4-5.5M178.4 101l-1.4-4.2M183.3 101l-.8-3.2M188.2 101l-.5-2.3M193.1 101l-.1-1.5M104.9 105.9l1 .7M109.8 105.9l1.3 2.3M114.7 105.9l1.4 3.6M119.6 105.9l1 4.9M124.5 105.9l1 5.6M129.4 105.9l.4 6.1M134.3 105.9l-.2 7.6M139.2 105.9l-1.3 8.6M144.1 105.9l-2.6 8.4M149 105.9l-4 5.9M153.9 105.9l-4.4 .8M158.8 105.9l-4-4.3M163.7 105.9l-3.2-7.5M168.6 105.9l-2.1-7.9M173.5 105.9l-1.3-6.3M178.4 105.9l-.9-4.7M183.3 105.9l-.3-3.7M188.2 105.9l-.2-2.3M193.1 105.9l.3-1.4M198 105.9l-.2-.9M114.7 110.8l1.1 1.2M119.6 110.8l1.8 3M124.5 110.8l1.9 4.6M129.4 110.8l1.7 6M134.3 110.8l1.9 7.6M139.2 110.8l2.1 9M144.1 110.8l1.5 9.1M149 110.8l1.7 6.5M153.9 110.8l1.5 1.1M158.8 110.8l1.2-4.8M163.7 110.8l.8-7.6M168.6 110.8l.7-8.3M173.5 110.8l.3-6.5M178.4 110.8l.2-5.2M183.3 110.8l.1-3.6M188.2 110.8l0-2.2M193.1 110.8l0-1.5M119.6 115.7l.8 .5M124.5 115.7l2.4 2.7M129.4 115.7l3 4.6M134.3 115.7l4.3 6.9M139.2 115.7l4.7 8.4M144.1 115.7l5.8 8.8M149 115.7l7.1 5.9M153.9 115.7l7 .8M158.8 115.7l6.3-3.9M163.7 115.7l4.8-7.1M168.6 115.7l3.3-7.1M173.5 115.7l2-5.9M178.4 115.7l1.2-4.5M183.3 115.7l1-3.1M188.2 115.7l.3-2.3M193.1 115.7l.3-1.7M198 115.7l-.2-1.1M124.5 120.6l-1.6-.9M129.4 120.6l2.6 2M134.3 120.6l4.6 4.6M139.2 120.6l6.7 6.4M144.1 120.6l8.2 7M149 120.6l9.5 5.1M153.9 120.6l9.7 1.3M158.8 120.6l9.1-2.3M163.7 120.6l6.8-4.7M168.6 120.6l4.8-5.5M173.5 120.6l3.2-4.9M178.4 120.6l2-4M183.3 120.6l1.1-3.1M188.2 120.6l.8-2.1M193.1 120.6l.3-1.3M198 120.6l.1-1M139.2 125.5l5 3.5M144.1 125.5l7.8 4.9M149 125.5l9.3 4.1M153.9 125.5l10 1.7M158.8 125.5l8.9-.9M163.7 125.5l6.9-2.8M168.6 125.5l5.2-3.4M173.5 125.5l3.3-3.4M178.4 125.5l2.2-2.9M183.3 125.5l1.5-2M188.2 125.5l.9-1.8M193.1 125.5l.5-1.1M144.1 130.4l2.7 1.6M149 130.4l6.3 3.1M153.9 130.4l7.6 2.2M158.8 130.4l7.1 .5M163.7 130.4l6-.8M168.6 130.4l4.7-2.2M173.5 130.4l3.4-2.1M178.4 130.4l2.2-1.8M183.3 130.4l1.2-1.3M188.2 130.4l1-1.3M149 135.3l-2.2-1.6M153.9 135.3l3 1.5M158.8 135.3l4.5 1.5M163.7 135.3l4.4 .3M168.6 135.3l3.7-.5M173.5 135.3l2.9-.8M178.4 135.3l1.8-1.3M183.3 135.3l1.3-.8M188.2 135.3l.9-.8M193.1 135.3l.6-.8M163.7 140.2l2 1M168.6 140.2l2.5 .2M173.5 140.2l2.3-.3M178.4 140.2l1.5-.2M183.3 140.2l1.1-.4M188.2 140.2l.8-.6M173.5 145.1l1 .3" fill="none" stroke="#000" stroke-width=".62" stroke-opacity=".85"/>
<path d="M105 59.9L104.5 58.6L105.4 58.5zM109.7 60L109.3 58.7L110.3 58.7zM114.8 59.9L114.3 58.6L115.3 58.6zM119.4 59.5L119 58.3L120 58.4zM68 59.3L67.4 60.7L66.6 60zM100.4 65.1L99.7 63.8L100.8 63.7zM105 65.4L104.4 64L105.5 63.9zM109.9 65.7L109.2 64.2L110.4 64.2zM114.6 65.3L114.1 63.8L115.2 63.9zM119.7 65.2L119.1 63.8L120.2 63.7zM124.4 64.6L123.9 63.3L124.9 63.4zM65.2 64.6L63.9 66L63.3 64.8zM70.6 64.7L69.1 66.1L68.5 64.7zM74.1 66.9L72.6 67.4L72.7 66.3zM90.6 69.5L89.9 68.3L90.9 68.2zM95 70.1L94.5 68.7L95.6 68.7zM100.1 70.9L99.4 69.3L100.7 69.3zM105 71L104.4 69.3L105.6 69.3zM110 71.3L109.3 69.6L110.6 69.5zM114.5 71L114 69.3L115.2 69.4zM119.4 70.5L118.9 69L120.1 69zM124.3 69.7L123.9 68.4L124.9 68.4zM63.4 67.8L63 69.6L61.9 68.9zM69.5 70L68.2 71.2L67.7 70.1zM73.8 74L72.2 73.5L72.9 72.6zM76.7 74.4L75.7 73.4L76.6 73zM90.2 74.4L89.7 73.1L90.7 73.1zM95.1 75.5L94.5 73.9L95.7 73.9zM99.8 76.2L99.2 74.4L100.5 74.5zM104.9 76.9L104.1 75L105.6 75zM110 77.1L109.2 75.1L110.7 75.1zM114.5 76.6L113.9 74.7L115.3 74.8zM119.5 76.2L118.9 74.5L120.2 74.5zM124.3 75.2L123.8 73.7L125 73.8zM128.7 74.7L128.5 73.3L129.5 73.5zM58.4 72.6L59.9 73.7L58.8 74.4zM63.4 74.6L64.7 75L64.1 75.8zM68.9 79.5L69.1 78L70.1 78.5zM74.6 79.6L74.5 78.2L75.5 78.4zM79.8 79.1L79.6 77.8L80.5 78zM85.1 79.2L84.7 77.9L85.6 78zM90.4 79.8L89.8 78.4L90.8 78.4zM95.1 80.4L94.5 78.8L95.7 78.8zM100.2 81.2L99.5 79.5L100.8 79.4zM104.9 82.2L104.1 80.1L105.7 80.1zM109.9 82.6L109 80.4L110.6 80.4zM114.7 82.2L113.9 80.1L115.5 80.1zM119.1 81.7L118.6 79.7L120 79.8zM123.8 80.7L123.4 79L124.7 79.2zM128.8 79.8L128.5 78.3L129.6 78.5zM133.1 79L133.2 77.7L134.1 78.1zM137.4 78.6L137.9 77.4L138.6 78zM61.1 79.4L63 79.5L62.5 80.8zM66.5 81.9L68 81.1L68.2 82.3zM73.7 83.3L74.2 82.1L74.8 82.7zM84.8 84L84.6 82.7L85.5 82.9zM90.1 84.4L89.6 83.1L90.6 83.1zM94.8 85.4L94.3 83.8L95.5 83.9zM100.2 86.3L99.4 84.5L100.8 84.4zM104.8 87.2L104.1 85.1L105.6 85.2zM109.8 87.5L109 85.4L110.6 85.4zM114.6 87.8L113.8 85.6L115.5 85.6zM119.4 87.2L118.7 85.1L120.2 85.1zM123.9 86.4L123.4 84.5L124.8 84.6zM128.3 85.5L128.1 83.7L129.3 84.1zM132.5 84.3L132.8 82.8L133.7 83.4zM136.8 83.8L137.4 82.4L138.2 83.2zM141.1 83.2L142 82L142.6 82.9zM145.4 82.6L146.7 81.6L147 82.7zM150.4 81.7L151.8 81L151.9 82.1zM155.6 80.9L157 80.6L156.9 81.6zM160.3 80.5L161.8 80.3L161.5 81.4zM90.1 89L89.7 87.8L90.6 87.8zM95.1 89.9L94.5 88.4L95.7 88.4zM100.1 91.2L99.4 89.4L100.8 89.4zM105.2 91.8L104.4 89.9L105.9 89.8zM109.7 92.5L108.9 90.3L110.6 90.4zM114.2 92.5L113.5 90.2L115.2 90.4zM119.2 92.4L118.5 90.2L120.2 90.3zM123.7 91.6L123.3 89.5L124.7 89.8zM127.7 90.8L127.7 88.9L129 89.3zM132.3 90.2L132.5 88.4L133.6 89zM135.8 89.7L136.6 87.9L137.6 88.9zM140.1 89L141.2 87.4L142 88.6zM144.4 87.8L145.9 86.6L146.3 87.9zM149 86.5L150.8 85.7L150.9 87.1zM153.5 85.2L155.6 84.8L155.3 86.3zM159.2 84.5L161.2 84.5L160.6 85.8zM165 84L166.7 84.3L166 85.4zM171 84.4L172.4 84.8L171.8 85.6zM95.1 94L94.6 92.7L95.6 92.7zM100.5 95.4L99.7 93.9L100.9 93.7zM105.2 96.3L104.4 94.5L105.8 94.4zM110.4 97.2L109.4 95.1L111 95zM114.5 97.3L113.8 95.1L115.4 95.2zM119.4 97.1L118.7 95L120.3 95.1zM123.9 96.9L123.3 94.8L124.9 94.9zM127.9 96.4L127.7 94.3L129.2 94.7zM131.7 96.2L132 94L133.3 94.7zM135.5 95.5L136.2 93.5L137.4 94.5zM139 94.7L140.3 92.8L141.2 94.1zM143.1 93.4L144.9 91.8L145.4 93.4zM147.2 91.7L149.4 90.7L149.6 92.4zM152.2 90L154.7 89.5L154.3 91.3zM158.3 88.4L160.6 88.7L159.8 90.1zM164.4 87.8L166.4 88.5L165.5 89.6zM170.7 88.4L172.2 89.1L171.4 89.9zM176.6 88.7L177.8 89.5L177 90.1zM100.8 98.9L100 97.8L100.9 97.5zM105.5 100.5L104.7 98.9L105.9 98.7zM110.4 101.3L109.5 99.5L110.9 99.3zM115.1 101.7L114.2 99.8L115.7 99.7zM119.3 102L118.6 99.8L120.2 99.9zM123.9 102.3L123.3 100L125 100.2zM127.7 101.9L127.5 99.6L129.1 100.1zM132 101.9L132 99.6L133.6 100.2zM135.4 102L135.9 99.5L137.5 100.4zM138.4 101.2L139.6 98.9L140.9 100.3zM141.5 99.2L143.5 97.4L144.2 99.1zM145.8 96.5L148.2 95.4L148.3 97.3zM151.2 93.6L153.9 93.5L153.3 95.3zM157.7 91.9L160.3 92.6L159.2 94.1zM164.3 91.6L166.4 92.6L165.2 93.8zM170.4 92.1L172.1 93.2L171 94zM176.3 92.8L177.6 93.8L176.6 94.5zM182.1 93.5L183 94.5L182.2 94.9zM105.8 103.7L105 102.6L105.9 102.3zM110.8 104.9L109.8 103.5L111 103.2zM115.4 105.8L114.5 104.1L115.8 103.9zM119.9 106.4L119.1 104.5L120.6 104.4zM124.5 106.9L123.7 104.8L125.3 104.8zM128.9 107.5L128.2 105.2L129.9 105.3zM132.8 108L132.4 105.4L134.2 105.8zM135.9 108.5L136.1 105.8L137.8 106.6zM139.2 107.9L139.8 105.3L141.4 106.4zM142 105.6L143.6 103.4L144.6 105zM145.9 101.4L148.4 100.3L148.5 102.2zM151.2 97.8L153.9 97.9L153.1 99.7zM157.9 95.2L160.4 96.3L159 97.6zM164.7 94.7L166.8 96.3L165.2 97.3zM171.1 95.5L172.7 97.1L171.2 97.7zM177 96.8L178.1 98.2L176.9 98.6zM182.5 97.8L183.3 99L182.3 99.3zM111.1 108.2L110.1 107.4L110.9 106.9zM116.1 109.5L115 108.3L116.1 107.8zM120.6 110.8L119.6 109.1L120.9 108.8zM125.5 111.5L124.4 109.6L125.9 109.4zM129.8 112L128.9 109.9L130.5 109.8zM134.1 113.5L133.2 111L135.1 111.1zM137.9 114.5L137.3 111.9L139.2 112.2zM141.5 114.3L141.3 111.6L143.1 112.2zM145 111.8L145.6 109.3L147.1 110.3zM149.5 106.7L151 105.8L151.3 107zM154.8 101.6L156.8 102.6L155.6 103.7zM160.5 98.4L162.4 100.4L160.6 101.1zM166.5 98L168.1 100.2L166.2 100.7zM172.2 99.6L173.5 101.6L171.9 102zM177.5 101.2L178.5 102.8L177.2 103.1zM183 102.2L183.7 103.6L182.5 103.7zM121.4 113.8L120.2 112.8L121.1 112.3zM126.4 115.4L125.1 113.9L126.4 113.4zM131.1 116.8L129.7 115L131.3 114.5zM136.2 118.4L134.7 116.2L136.5 115.7zM141.3 119.8L139.8 117.6L141.7 117.2zM145.6 119.9L144.3 117.6L146.1 117.2zM150.7 117.3L149.3 115.3L150.9 114.8zM160 106L160.2 107.9L158.9 107.6zM164.5 103.2L165.2 105.8L163.3 105.6zM169.3 102.5L170 105.1L168.1 104.9zM173.8 104.3L174.6 106.6L172.8 106.5zM178.6 105.6L179.3 107.5L177.8 107.5zM183.4 107.2L183.9 108.7L182.8 108.7zM126.9 118.4L125.5 117.7L126.3 116.9zM132.4 120.3L130.7 119.1L131.9 118.3zM138.6 122.6L136.4 121L138.1 120zM143.9 124.1L141.9 122.4L143.5 121.4zM149.9 124.5L147.7 123L149.3 121.9zM156.1 121.6L153.6 120.8L154.8 119.3zM160.9 116.5L158.4 117.1L158.6 115.3zM165.1 111.8L163.5 113.9L162.5 112.3zM168.5 108.6L167.9 111.2L166.3 110.1zM171.9 108.6L171.7 111.3L170 110.5zM175.5 109.8L175.6 112.1L174 111.6zM179.6 111.2L179.8 113.1L178.5 112.7zM184.3 112.6L184.4 114.1L183.4 113.7zM132 122.6L130.6 122.2L131.2 121.3zM138.9 125.2L136.7 124.2L137.9 123zM145.9 127L143.4 125.9L144.8 124.6zM152.3 127.6L149.8 126.7L151 125.3zM158.5 125.7L155.8 125.4L156.7 123.7zM163.6 121.9L161 122.5L161.3 120.6zM167.9 118.3L165.7 119.8L165.2 118zM170.5 115.9L169 118.1L167.9 116.6zM173.4 115.1L172.5 117.6L171 116.4zM176.7 115.7L176.2 117.9L174.9 117zM180.4 116.6L180.2 118.4L179.1 117.8zM184.4 117.5L184.4 119L183.5 118.7zM144.2 129L141.9 128.5L142.9 127.1zM151.9 130.4L149.2 129.9L150.3 128.3zM158.3 129.6L155.6 129.5L156.4 127.8zM163.9 127.2L161.3 127.7L161.6 125.8zM167.7 124.6L165.3 125.8L165.1 123.9zM170.6 122.7L168.6 124.5L167.9 122.7zM173.8 122.1L172.4 124L171.5 122.6zM176.8 122.1L176 123.8L175.1 122.9zM180.6 122.6L180.2 124.1L179.3 123.4zM146.8 132L145.4 131.8L145.9 130.9zM155.3 133.5L152.8 133.3L153.6 131.6zM161.5 132.6L158.9 132.8L159.4 131zM165.9 130.9L163.4 131.7L163.5 129.8zM169.7 129.6L167.7 130.7L167.5 129.1zM173.3 128.2L171.9 129.7L171.3 128.4zM176.9 128.3L175.9 129.6L175.2 128.6zM180.6 128.6L180 129.8L179.3 129zM146.8 133.7L148.1 134.1L147.5 134.8zM156.9 136.8L155.4 136.7L155.9 135.7zM163.3 136.8L161.4 136.9L161.9 135.6zM168.1 135.6L166.4 136.1L166.4 134.8zM172.3 134.8L170.9 135.6L170.7 134.5zM176.4 134.5L175.3 135.3L175 134.3z" fill="#000"/>
<polygon points="0,45 204.3,167.6 0,167.6" fill="#000"/>
<path d="M0 0h5M0 11.2h3.6M0 22.3h3.6M0 33.5h3.6M0 44.7h3.6M0 55.9h5M0 67h3.6M0 78.2h3.6M0 89.4h3.6M0 100.6h3.6M0 111.7h5M0 122.9h3.6M0 134.1h3.6M0 145.3h3.6M0 156.4h3.6M0 167.6h5M0 167.6v-5M11.2 167.6v-3.8M22.4 167.6v-3.8M33.7 167.6v-3.8M44.9 167.6v-3.8M56.1 167.6v-5M67.3 167.6v-3.8M78.5 167.6v-3.8M89.8 167.6v-3.8M101 167.6v-3.8M112.2 167.6v-5M123.4 167.6v-3.8M134.6 167.6v-3.8M145.9 167.6v-3.8M157.1 167.6v-3.8M168.3 167.6v-5M179.5 167.6v-3.8M190.7 167.6v-3.8M202 167.6v-3.8M213.2 167.6v-3.8M224.4 167.6v-5" stroke="#000" stroke-width=".8" fill="none"/>
</g>
<rect x="0" y="0" width="224.4" height="167.6" fill="none" stroke="#000" stroke-width="1.7"/>
<text x="-.3" y="181.8" font-size="12" fill="#000" text-anchor="middle">-2</text>
<text x="55.8" y="181.8" font-size="12" fill="#000" text-anchor="middle">-1</text>
<text x="112.2" y="181.8" font-size="12" fill="#000" text-anchor="middle">0</text>
<text x="168.3" y="181.8" font-size="12" fill="#000" text-anchor="middle">1</text>
<text x="224.4" y="181.8" font-size="12" fill="#000" text-anchor="middle">2</text>
<text x="-6.2" y="4.1" font-size="12" fill="#000" text-anchor="end">2</text>
<text x="-6.2" y="60" font-size="12" fill="#000" text-anchor="end">1</text>
<text x="-6.2" y="115.8" font-size="12" fill="#000" text-anchor="end">0</text>
<text x="-6.2" y="171.7" font-size="12" fill="#000" text-anchor="end">-1</text>
<text x="112.2" y="199.4" font-size="13" fill="#111" text-anchor="middle">x/d</text>
<text transform="translate(-15.8,84.1) rotate(-90)" font-size="13" fill="#111" text-anchor="middle">y/d</text>
<text x="12.8" y="15.4" font-size="12.8" fill="#111">(d) τ=2.7</text>
</g>
<text x="155.7" y="281.3" font-size="12.5" fill="#061006" text-anchor="middle">Secondary</text>
<text x="155.7" y="296.3" font-size="12.5" fill="#061006" text-anchor="middle">vortex-ring</text>
<polyline points="125.8,294.9 116.1,300.6" fill="none" stroke="#000" stroke-width="1.5"/><polygon points="106.3,306.3 114,297.1 118.1,304.1" fill="#000"/>
<clipPath id="ce"><rect x="0" y="0" width="224.4" height="167.6"/></clipPath>
<g transform="translate(295.3,251.2)">
<g clip-path="url(#ce)">
<rect width="224.4" height="167.6" fill="#00ff00"/>
<path d="M65.6 68.5l.8-.2 .8 .1 .8 .2 .8 .4 .8 .5 .8 .9 .8 .8 .7 .8 .9 .8 .8 .6 .8 .7 .4 .3 .4 .4 .8 1.1 .4 .9 .1 .8-.1 .8-.3 .8-.7 .8-1 .7-.8 .2-.8 .1-.8 0-.8 0-.8 .1-.8 0-.8 .1-.8 0-.8-.2-.7-.2-.9-.7-.8-.7-.8-.8-.8-.6-.5-.4-.8-.8-.6-.8-.4-.8-.1-.8 .1-.8 .3-.8 .4-.6 .8-.9 .8-.8 .8-.9 .8-.7 .8-.4z" fill="#0000ff" stroke="#2a4a7a" stroke-opacity=".8" stroke-width=".6"/>
<path d="M64.8 68.4l.8-.3 .8 0 .8 .1 .8 .2 .8 .3 .8 .6 .8 .8 .8 .9 .8 .9 .8 .7 .8 .6 .5 .4 1 .8 .7 .8 .5 .8 .4 .8 .1 .7-.1 .9-.3 .8-.4 .6-.8 .8-.8 .4-.8 .2-.8 0-.8 0-.8 0-.8 .1-.8 0-.8 .1-.8 0-.8-.1-.8-.3-.8-.5-.5-.5-.8-.8-.9-.8-1-.8-.8-.7-.6-.9-.3-.8-.2-.8 0-.8 .3-.8 .5-.8 .7-.8 .4-.4 .4-.4 .4-.5 .8-.9 .8-.6zM64.9 68.8l-.9 .8-.7 .8-.8 .8-.7 .8-.6 .8-.3 .8-.1 .8 .1 .8 .4 .8 .3 .5 .8 .8 .8 .7 .5 .4 .9 .8 .8 .8 1 .7 .8 .3 .8 .2 .8 0 .8-.1 .8 0 .8-.1 .8 0 .8 0 .8-.1 .8-.2 .8-.5 .8-.8 .4-1 .1-.8-.1-.8-.3-.8-.6-.8-.7-.8-.4-.3-.5-.5-1.1-.8-.8-.7-.8-.9-.8-.8-.7-.8-.9-.6-.8-.4-.8-.2-.8-.1-.8 .2-.7 .3z" fill="#0050e0" stroke="#2a4a7a" stroke-opacity=".8" stroke-width=".6"/>
<path d="M65.6 67.8l.8 0 .8 .1 .8 .3 .8 .4 .8 .5 .5 .5 .7 .8 .4 .4 .3 .4 .5 .5 .8 .7 .5 .4 1.1 .8 .8 .7 .8 .9 .5 .8 .3 .6 .2 1 0 .8-.2 .6-.6 1-.9 .8-.9 .4-.8 .2-.8 .1-.8 0-.8 0-.8 0-.8 .1-.8 0-.8 .1-.7-.1-.9-.3-.8-.5-.8-.7-.8-.8-.8-.7-.8-.7-.8-.8-.8-1-.4-.9-.2-.8 0-.8 .2-.8 .4-.8 .8-.8 .7-.8 .7-.8 .7-.8 1.1-.8 .8-.2zM64.3 68.8l-.8 .8-.7 .8-.4 .4-.4 .4-.4 .5-.8 1-.3 .9 0 .8 .2 .8 .3 .8 .6 .8 .7 .8 .9 .7 .8 .6 .8 .8 .8 .8 .4 .3 1.2 .5 .8 .1 .8 0 .8-.1 .8 0 .8-.1 .8 0 .8 0 .8 0 .8-.2 .8-.4 .7-.6 .5-.8 .3-.8 .1-.8-.1-.8-.4-.8-.3-.5-.8-1-.8-.7-.8-.6-.5-.4-1-.8-.8-.8-.7-.8-.7-.8-1-.8-.9-.4-.8-.2-.8-.1-.8 0-.8 .3-.5 .4z" fill="#00b090" stroke="#2a4a7a" stroke-opacity=".8" stroke-width=".6"/>
<path d="M64.8 67.7l.8-.2 .8 .1 .8 .2 .8 .2 .8 .4 .7 .4 .8 .8 .7 .8 .7 .8 .8 .8 1 .8 .9 .7 .8 .6 .8 .8 .8 1.1 .2 .8 .2 .8-.1 .8-.2 .8-.5 .8-.4 .5-.8 .6-.8 .4-.8 .2-.8 0-.8 0-.8 0-.8 0-.8 0-.8 .1-.8 .1-.8-.1-.7-.2-.9-.5-.8-.7-.4-.4-.4-.4-.4-.4-.4-.4-.5-.4-.9-.8-.7-.8-.6-.8-.4-.8-.2-.8 0-.8 .1-.6 .5-1 .3-.4 .4-.4 .4-.4 .8-.9 .8-1 .8-.8 .8-.4zM64.8 68l-.8 .5-.8 .9-.8 .9-.8 .9-.8 .8-.4 .8-.2 .8 0 .8 .2 .8 .3 .8 .6 .8 .8 .8 .9 .8 .9 .8 .8 .8 .9 .8 .8 .5 .8 .3 .8 .1 .8-.1 .8 0 .8-.1 .8 0 .8 0 .8 0 .8-.1 .8-.2 .8-.3 .8-.7 .7-1 .3-.8 0-.8-.1-.8-.4-.8-.5-.8-.7-.8-.9-.8-.8-.6-.8-.6-.5-.4-.8-.8-.3-.4-.4-.4-.4-.5-.8-.8-.4-.3-1.2-.6-.6-.2-1-.2-.8 0-.8 .2zM163.2 134.2l.8 0 .8 .2 .8 .5 .4 .3 1 .8 .9 .8 .7 .8 .7 .8 .7 .8 .4 .4 .5 .4 1.1 .8 .8 .5 .8 .8 .2 1.1-1 .2-.8 .1-.8 0-.8-.1-.8-.1-.8-.5-.5-.4-.8-.8-.7-.8-.4-.5-.8-1-.6-.9-.6-.8-.4-.6-.6-1-.4-.8 0-.8z" fill="#00ffc8" stroke="#2a4a7a" stroke-opacity=".8" stroke-width=".6"/>
<path d="M65.6 67.2l.8 .1 .8 .2 .8 .3 .6 .2 1 .7 .8 .7 .8 .9 .8 .9 .8 .8 .8 .6 .8 .6 .5 .4 .9 .8 .7 .8 .3 .5 .5 1.1 .2 .8-.1 .8-.3 .8-.3 .8-.7 .8-.9 .7-.8 .3-.8 .1-.8 0-.8 0-.8 0-.8 0-.8 .1-.8 .1-.8 .1-.8-.1-.8-.3-.5-.2-1.1-.8-.8-.8-.8-.8-.8-.7-.8-.7-.8-.9-.6-.9-.3-.8-.2-.8-.1-.8 .1-.8 .3-.8 .7-.8 .7-.8 .8-.8 .6-.8 .4-.5 .8-.7 .8-.4 .8 0zM64.1 68l-.8 .8-.7 .8-.7 .8-.7 .8-.4 .4-.3 .4-.5 .8-.1 .8 0 .8 .2 .8 .4 .8 .6 .8 .5 .6 .8 .8 .8 .6 .4 .4 .4 .4 .4 .4 .4 .4 .5 .4 1.1 .8 .8 .2 .8 .1 .8-.1 .8-.1 .8 0 .8 0 .8 0 .8 0 .8 0 .8-.2 .8-.4 .5-.3 .7-.8 .4-.5 .3-1.1 .1-.8-.2-.8-.2-.7-.6-.9-.7-.8-.9-.8-1-.7-.8-.7-.8-.7-.8-.9-.8-.9-.8-.8-.8-.5-.7-.4-.9-.2-.8-.2-.8-.1-.8 .2-.7 .3zM108.8 103.2l.8-.2 .8-.1 .8 .1 .8 .2 .8 .4 .5 .4 .9 .8 .8 .8 .6 .8 .4 .5 .7 1.1 .5 .8 .4 .5 .7 1.1-.3 .8-1.2 .2-.8-.1-.8-.3-.8-.5-.8-.7-.8-.6-.5-.4-1-.8-.9-.7-.8-.8-.6-.9-.4-.8-.2-.8 .4-.8zM161.6 132.6l.8 0 .8 .1 .8 .3 .8 .3 .7 .3 .9 .5 .5 .3 1.1 .8 .8 .7 .8 .8 .8 .8 .8 .7 .8 .5 .8 .4 .8 .3 .8 .4 .8 .6 .4 .4 .4 .5 .7 1.1 .4 .8 .3 .8 .3 .8 .2 .8 .2 .8 0 .8-.1 .8-.4 .5-.8 .3-.8-.3-.7-.5-.7-.8-.9-.8-.9-.5-.8-.3-.8-.2-.8-.1-.8-.3-.6-.2-1-.5-.5-.3-1-.8-.7-.8-.5-.8-.5-.8-.4-.8-.4-.6-.7-1-.7-.8-.7-.8-.7-.8-.4-.8-.2-.8 .1-.8 .4-.8zM163 134.4l0 .8 .4 .8 .5 .8 .5 .8 .4 .5 .8 1.1 .6 .8 .6 .8 .4 .5 .8 .9 .8 .6 .7 .4 .9 .2 .8 .1 .8 0 .8-.1 .8-.1 .2-.9-.6-.8-1.1-.8-.9-.5-.8-.7-.4-.4-.4-.4-.8-1-.8-.9-.8-.7-.8-.7-.8-.6-.8-.5-.8-.2-.8 0z" fill="#20ffb0" stroke="#2a4a7a" stroke-opacity=".8" stroke-width=".6"/>
<path d="M64.8 67l.8 0 .8 .1 .8 .2 .8 .3 .8 .4 .8 .5 .8 .7 .8 .9 .8 1 .8 .8 .8 .6 .4 .3 1.2 .8 .8 .8 .6 .8 .5 .8 .3 .8 .2 .7 0 .9-.3 .8-.4 .8-.6 .8-1 .8-.9 .3-.8 .2-.8 0-.8-.1-.8 0-.8 .1-.8 .1-.8 .1-.8 0-.8 0-.8-.3-.8-.4-.8-.6-.8-.8-.8-.7-.8-.7-.4-.4-.4-.4-.4-.4-.4-.5-.8-1.1-.3-.8-.2-.8-.1-.8 .1-.8 .3-.8 .6-.8 .4-.4 .4-.4 .4-.5 .8-1 .7-.9 .9-.7 .8-.3zM65 67.2l-1 .4-.5 .4-.7 .8-.4 .5-.8 .9-.8 .8-.8 1-.3 .8-.1 .8 .1 .8 .2 .8 .3 .8 .5 .8 .7 .8 .8 .8 1 .8 .8 .8 .8 .8 .8 .6 .8 .4 .8 .3 .8 .1 .8-.1 .8-.1 .8-.1 .8 0 .8 0 .8 0 .8 0 .8-.1 .6-.2 1-.7 .8-.9 .3-.8 .3-.8 .1-.8-.2-.8-.3-.8-.5-.8-.5-.6-.8-.8-.8-.6-.6-.4-1-.8-.8-.8-.7-.8-.7-.8-.8-.8-1-.7-.8-.3-.8-.3-.8-.2-.8-.1zM81.6 85.5l.8 .5 .3 .4 .2 .8-.2 .8-.3 .5-.8 .2-.6-.7-.3-.8 .1-.7 .7-.9zM105.6 101.3l.8 0 .8 .1 .8 0 .8 .1 .8 0 .8 0 .8 .1 .8 .1 .8 .3 .6 .4 .9 .8 .8 .8 .7 .8 .7 .8 .3 .5 .8 1 .8 .9 .8 .8 .8 .8 .6 .8 .5 .8 .3 .8-.3 .8-1.1 .4-.8 0-.8-.1-.8-.1-.8-.1-.8-.3-.8-.3-.8-.5-.8-.6-.8-.7-.8-.6-.8-.6-.7-.5-.9-.7-.8-.7-.8-.9-.6-.9-.6-.8-.4-.5-.8-1-.5-.9 0-.8 .5-.3zM108.8 103.2l-.4 .8 .2 .8 .4 .8 .5 .8 .8 .8 .9 .7 .8 .6 .8 .7 .5 .4 1 .8 .9 .6 .8 .3 .8 .1 .8 0 .7-1-.4-.8-.7-.8-.4-.6-.6-1-.6-.8-.4-.6-.8-.9-.8-.7-.8-.6-.8-.4-.8-.2-.8-.1-.8 .1-.8 .2zM160.8 131.8l.8 0 .8 .1 .8 .3 .8 .2 .8 .3 .8 .3 .8 .4 .8 .4 .8 .5 .8 .5 .5 .4 .8 .8 .9 .8 1 .7 .8 .4 .8 .3 .8 .4 .8 .4 .8 .6 .4 .4 .4 .5 .8 1.1 .5 .8 .3 .7 .5 .9 .3 .8 .3 .8 .3 .8 .2 .6 .3 1 .1 .8-.2 .8-.8 .8-1 .3-.8 .1-.8-.1-.8-.1-.8-.4-.8-.6-.6-.8-.5-.8-.5-.5-.8-.6-.8-.4-.8-.2-.8-.3-.8-.3-.8-.4-.8-.4-.8-.4-.7-.5-.7-.8-.6-.8-.3-.8-.4-.8-.4-.8-.5-.8-.4-.4-.4-.4-.4-.4-.4-.4-.4-.4-.4-.4-.4-.5-.4-1.1-.2-.8 0-.8 .1-.8 .5-.8 .8-.2zM161.1 132.8l-.3 .4-.2 1.2 .2 .7 .4 .9 .4 .5 .8 .9 .8 .9 .7 .9 .5 .8 .4 .7 .5 .9 .3 .5 .8 1 .8 .7 .8 .5 .8 .4 .8 .3 .8 .3 .8 .1 .8 .2 .8 .3 .8 .4 .8 .7 .8 .9 .8 .6 .8 .3 .8-.3 .4-.5 .1-.8 0-.8-.2-.8-.2-.8-.3-.8-.3-.8-.3-.6-.6-1-.6-.8-.4-.4-.5-.4-1.1-.6-.5-.2-1.1-.5-.5-.3-1-.8-.8-.8-.7-.8-1-.8-.8-.6-.8-.5-.8-.4-.8-.4-.8-.3-.8-.3-.8-.1-.8 0z" fill="#10ff50" stroke="#2a4a7a" stroke-opacity=".8" stroke-width=".6"/>
<path d="M65.6 56.7l.8-.2 .8-.1 .8 0 .8 0 .8 .1 .7 .3 .9 .4 .6 .4 1 .6 .8 .3 .8 .2 .8 0 .8 0 .8 .1 .8 .1 .8 .2 .8 .3 .8 .3 .5 .3 1.1 .8 .7 .8 .6 .8 .3 .6 .5 1 .3 .6 .3 1 .1 .8-.3 .8-.5 .8-.4 .4-.4 .4-.4 .5-.5 1.1 0 .8 .3 .8 .5 .8 .4 .8 .2 .8 .2 .8 .1 .8 .1 .8-.1 .8 0 .8-.2 .8-.4 .8-.6 .6-.8 .7-.4 .3-.4 .3-.3 1.3-.1 .8-.2 .8-.6 .8-.4 .4-.8 .4-.8 .6-.5 .2-1.1 .6-.8 .2-.8 .2-.8 0-.8-.1-.7-.1-.9-.2-.8-.2-.8-.2-.7-.2-.9-.1-.8-.1-.8-.2-.8-.3-.8-.2-.8-.4-.5-.3-1.1-.8-.8-.5-.8-.7-.4-.4-.4-.3-.4-.5-.4-.4-.4-.4-.4-.5-.8-1.1-.7-.8-.8-.8-.6-.8-.3-.5-.8-1.1-.8-.7-.8-.2-.8 .1-.8 .2-.8 .1-.8-.1-.6-.2-1-.5-.8-.9-.5-1-.1-.8 0-.8 .3-.8 .6-.8 .5-.4 .6-.4 1-.4 .8 0 .6 .4 .7 .8 1.1 .7 .8-.2 .8-.2 .8-.2 .7-.9 .2-.8 .4-.8 .3-.4 .4-.4 .4-.4 .4-.4 .4-.4 .5-.4 .3-.4 .4-.4 .4-.5 .8-.8 .8-.8 .5-.3 .3-.5 .4-1.1 .4-.8 .4-.8 .4-.5 .8-.8 .5-.3zM67.1 57.6l-.7 .2-.8 .4-.8 .8-.7 1-.4 .8-.5 .7-.8 .5-.5 .4-.9 .8-.8 .8-.8 .8-.9 .8-.9 .8-.7 .8-.5 .8-.2 .8-.2 .5-.8 .8-.6 .3-1 .6-.8 .6-.8 0-.5-.4-.6-.8-.5-.6-.7-.2-.9 .2-.8 .5-.5 .9-.1 .8 .1 .8 .5 .8 .8 .7 .8 .3 .8 0 .8-.1 .8-.3 .8-.2 .8 .1 .8 1 .4 .9 .4 .5 .8 1.1 .8 .8 .6 .8 .5 .8 .5 .6 .8 1 .8 .8 .8 .7 .8 .7 .8 .7 .5 .3 1.1 .7 .8 .5 .8 .3 .8 .1 .8 .3 .8 .1 .8 .1 .8 0 .8 .1 .8 .1 .8 .3 .8 .3 .8 .1 .8 0 .8-.1 .8-.3 .8-.3 .8-.5 .8-.4 .8-.5 .7-.9 .3-.8 .1-.8 .1-.8 .3-.8 .8-.8 .9-.8 .4-.8 .2-.8 0-.8-.2-.8-.1-.8 0-.8-.1-.8-.2-.6-.5-1-.8-.8-.8-.8-.3-.5-.6-1.1 .1-.8 .5-.6 .8-.8 .6-1 .1-.8 0-.8-.2-.8-.4-.8-.4-.8-.5-.7-.8-.7-.8-.6-.7-.4-.9-.3-.8-.1-.8 0-.8-.1-.8-.1-.6-.2-1-.5-.5-.3-1.1-.6-.7-.2-.9-.1-.8 0-.8 .1zM64 66.3l.8-.1 .8 .1 .7 .1 .9 .3 .8 .3 .8 .4 .8 .5 .8 .6 .8 .9 .8 1 .8 .8 .8 .7 .8 .6 .5 .3 1 .8 .8 .8 .5 .8 .4 .6 .3 1 .2 .8-.1 .8-.2 .8-.2 .6-.6 1-.7 .8-1.1 .8-.8 .2-.8 .1-.8 0-.8-.1-.8 0-.8 .1-.8 .1-.8 .1-.8 0-.8 0-.8-.2-.7-.3-.9-.6-.8-.7-.8-.7-.5-.4-.8-.8-.7-.8-.4-.4-.8-1.1-.6-.9-.4-.8-.2-.8 0-.8 0-.8 .3-.8 .4-.8 .5-.6 .8-.9 .8-.9 .6-.8 .6-.8 .4-.4 .6-.4zM64.2 66.4l-1 .6-.8 .9-.6 .9-.7 .8-.8 .8-.3 .4-.3 .4-.5 .7-.3 .9 0 .8 .1 .8 .1 .8 .4 .8 .5 .8 .6 .8 .7 .8 .8 .8 .8 .8 .9 .8 .9 .8 .9 .6 .8 .4 .8 .2 .8 0 .8 0 .8-.1 .8-.1 .8-.1 .8 0 .8 .1 .8 0 .8-.1 .8-.2 .8-.5 .8-.8 .6-1 .4-.8 .1-.8 .1-.8-.1-.8-.3-.8-.5-.8-.3-.5-.8-.9-.8-.6-.5-.4-1.1-.8-.8-.7-.8-.8-.7-.9-.7-.8-.9-.8-.9-.5-.6-.3-1-.4-.8-.2-.6-.2-1-.1zM147.2 96.6l.8-.1 .8 .2 .8 .2 .8 .1 .8 0 .8 0 .8-.1 .8-.1 .8 0 .8 0 .8 .1 .8 .2 .8 .2 .8 .2 .8 .1 .8 0 .8 0 .8-.1 .8-.1 .8-.1 .8-.1 .8 0 .8 0 .8 0 .8 .2 .8 .2 .8 .3 .8 .4 .8 .7 .7 1 .4 .8 .3 .8 .3 .8 .3 .8 .3 .8 .5 .8 .4 .7 .6 .9 .6 .8 .4 .6 .7 1 .5 .8 .3 .8 .2 .8 .1 .8 .1 .8 0 .8-.1 .8 0 .8-.2 .8-.1 .8-.3 .8-.2 .8-.2 .6-.2 1-.2 .8-.2 .8-.1 .8-.1 .8-.1 .8-.2 .8-.4 .8-.6 .8-.7 .8-1 .8-1 .7-.8 .5-.8 .3-.8 .3-.8 .2-.8 .1-.8 .1-.8 0-.8-.1-.8-.1-.8-.1-.8-.2-.8-.3-.8-.3-.8-.2-.8 0-.8 0-.8 .2-.8 .2-.8 .2-.7 .1-.9 .2-.8 0-.8 0-.8-.1-.8-.4-.6-.5-.5-.8-.4-.8-.2-.8-.3-.8-.4-.7-.7-.9-.7-.8-.7-.8-.7-.8-.4-.4-.8-.9-.4-.3-.4-.3-.6-.5-1-.7-.8-.5-.6-.4-1-.6-.7-.2-.9-.1-.8 .1-.8 .1-.8 .1-.8 .1-.8 0-.8-.1-.5-.2-1.1-.7-.7-.9-.5-.8-.4-.6-.7-1-.7-.8-.8-.8-.8-.8-.6-.8-.4-.6-.3-1-.1-.8 0-.8 .1-.8 .2-.8 .2-.8 .5-.8 .6-.8 .4-.4 .6-.4 1-.5 .8-.1 .8-.1 .8-.1 .8-.1 .8-.3 .8-.2 .6-.2 1-.3 .8-.1 .8-.1 .8-.1 .8-.1 .8-.1 .8-.1 .8-.1 .8-.1 .8-.2 .8-.2 .8-.4 .7-.5 .9-.7 .8-.3zM152.5 98.4l-1.3 .2-.8 .2-.8 0-.8 0-.8 .1-.8 .2-.8 .3-.8 .4-.8 .5-.8 .3-.8 .2-.8 .1-.8 .1-.8 0-.8 .1-.8 .1-.8 0-.8 .1-.8 .2-.6 .1-1 .3-.8 .3-.5 .2-1.1 .4-.8 .3-.8 .4-.7 .5-.4 .8-.2 .8-.1 .8 0 .8 0 .8 .1 .8 .3 .8 .5 .8 .5 .6 .8 .9 .8 .9 .8 .8 .8 .6 .7 .2 .9 .1 .8-.2 .8-.1 .8-.2 .8 0 .8 .2 .5 .2 1.1 .7 .8 .7 .8 .8 .8 .7 .8 .8 .4 .3 .4 .4 .4 .4 .4 .4 .4 .4 .4 .4 .4 .4 .4 .3 .5 .5 .9 .8 .7 .8 .6 .8 .4 .8 .2 .8 .3 .8 .4 .8 .8 .8 .8 .3 .8 .2 .8 0 .8-.1 .8-.1 .8-.1 .8-.1 .8 0 .8 .1 .8 .2 .8 .3 .8 .2 .8 .2 .8 .1 .8 0 .8 0 .8-.2 .8-.2 .8-.3 .8-.4 .8-.5 .5-.4 .9-.8 .6-.8 .4-.6 .5-1 .2-.8 .2-.8 .1-.8 .2-.8 .1-.8 .2-.8 .3-.8 .2-.8 .2-.8 .2-.7 .2-.9 .2-.8 .1-.8 .1-.8 0-.8-.1-.8-.3-.8-.4-.8-.6-.8-.6-.8-.6-.8-.4-.7-.5-.9-.3-.6-.4-1-.3-.8-.3-.8-.4-.8-.5-.8-.5-.6-.8-.7-.5-.3-1.1-.5-.8-.2-.8-.1-.8 0-.8 .1-.8 0-.8 .1-.8 .1-.8 .1-.8 0-.8-.1-.8-.1-.8-.1-.8-.2-.8-.1-.8 0-.8 0-.8 .2z" fill="#50ff10" stroke="#7a3a00" stroke-opacity=".8" stroke-width=".6"/>
<path d="M67.2 57.6l.8-.1 .8 0 .8 .1 .8 .2 .8 .4 .8 .5 .8 .4 .8 .3 .8 .1 .8 .1 .8 0 .8 .1 .8 .3 .8 .4 .6 .4 .9 .8 .6 .8 .3 .5 .5 1.1 .2 .8 0 .8-.1 .8-.5 .8-.7 .8-.7 .8-.1 .8 .4 .8 .5 .8 .5 .4 .8 .9 .8 1.1 .2 .8 .1 .8 0 .8 .1 .8 .2 .8 0 .8-.2 .8-.4 .7-.8 .8-.8 .7-.4 1-.1 .8-.1 .8-.2 .6-.7 1-.9 .6-.8 .4-.8 .5-.8 .3-.8 .3-.8 .1-.8 0-.8-.1-.8-.3-.5-.2-1.1-.2-.8-.1-.8 0-.8-.1-.8-.1-.8-.3-.8-.1-.8-.3-.6-.4-1-.6-.8-.5-.5-.5-1-.8-.9-.8-.8-.8-.7-.8-.6-.8-.3-.5-.8-1.1-.8-.8-.6-.8-.6-.8-.4-.8-.6-.8-1-.4-.8 .2-.5 .2-1.1 .2-.8 0-.8-.3-.8-.7-.5-.8-.1-.8 .1-.8 .4-.8 .9-.6 .7-.2 .9 .2 .5 .6 .3 .5 .8 .7 .8 0 .5-.4 1.1-.7 .8-.4 .6-.5 .4-.8 .2-.8 .4-.7 .8-.9 .8-.7 .8-.7 .8-.8 .8-.8 .8-.8 .8-.6 .7-.4 .6-.8 .3-.6 .6-1 .7-.8 1.1-.6 .7-.2zM66.6 59.2l-.9 .8-.7 .8-.7 .8-1.1 .4-.5 .4-1.1 .8-.8 .8-.8 .8-.8 .7-.8 .7-.8 .8-.7 1-.4 .8-.3 .8-.7 .8-1 .8-.5 .8 .2 .8 .4 .8 .1 .8 .2 .8 .3 .5 .6 1.1 .6 .8 .4 .4 .3 .4 .5 .5 .7 1.1 .5 .8 .4 .4 .8 .9 .8 .7 .6 .4 1 .8 .8 .6 .8 .6 .8 .4 .8 .4 .8 .2 .8 .1 .8 .1 .8 0 .8 0 .8 .1 .8 .2 .8 .2 .8 .2 .8 .3 .8 0 .8-.1 .8-.3 .8-.3 .5-.3 1.1-.5 .8-.6 .4-.5 .3-.8 .1-.8 0-.8 .3-.8 .5-.7 .8-.8 .6-.9 .2-.8-.1-.8-.1-.8-.1-.8 0-.8 0-.8-.4-.8-.6-.8-.9-.8-1-.8-.8-.7-.8-.9-.5-.8-.2-.8 .6-.8 .9-.7 .6-.9 .1-.8-.1-.8-.3-.8-.3-.5-.8-1-.8-.6-.7-.3-.9-.2-.8-.1-.8-.1-.8-.3-.8-.3-.8-.4-.8-.4-.8-.2-.8-.1-.8 0-.8 .2-.6 .3zM48.8 72l.4 .8 .9 0-.2-.8-1.1 0zM64 66.1l.8-.1 .8 .1 .8 .2 .8 .3 .8 .3 .8 .3 .8 .5 .8 .7 .4 .4 .4 .4 .8 1 .8 .9 .8 .7 .8 .5 .7 .5 .9 .7 .8 .8 .6 .9 .4 .8 .3 .8 .1 .8-.1 .8-.1 .8-.4 .8-.4 .8-.4 .5-.8 .8-.4 .3-1.2 .4-.8 .1-.8-.1-.8 0-.8 0-.8 0-.8 .1-.8 .1-.8 .1-.8-.1-.8-.2-.8-.3-.8-.6-.5-.3-.9-.8-.9-.8-.8-.8-.7-.8-.6-.8-.4-.5-.8-1.1-.3-.8-.2-.8-.1-.8 .1-.8 .2-.8 .3-.6 .7-1 .8-.8 .7-.8 .6-.8 .4-.6 .8-.8 .8-.5zM63.8 66.4l-.6 .4-.4 .4-.4 .5-.8 1.1-.7 .8-.7 .8-.7 .8-.3 .5-.4 1.1 0 .8 0 .8 .2 .8 .4 .8 .5 .8 .6 .8 .7 .8 .4 .5 .8 .8 .8 .7 .4 .4 1 .8 1 .7 .8 .4 .8 .2 .8 0 .8 0 .8-.1 .8-.1 .8-.1 .8 0 .8 .1 .8 0 .8-.1 .8-.2 .8-.5 .8-.8 .7-1.1 .3-.8 .2-.8 .1-.8-.2-.8-.2-.8-.5-.8-.4-.6-.8-.9-.8-.6-.8-.6-.7-.5-.9-.8-.8-.8-.6-.8-.7-.8-.9-.8-1-.6-.8-.4-.8-.3-.8-.3-.8-.1-.8-.1-.8 .1zM152.8 98.4l.8-.2 .8 0 .8 0 .8 .1 .8 .2 .8 .1 .8 .1 .8 .1 .8 0 .8-.1 .8-.1 .8-.1 .8 0 .8-.1 .8 0 .8 .1 .8 .2 .8 .4 .8 .4 .6 .5 .7 .8 .5 .8 .4 .8 .3 .8 .3 .8 .3 .8 .4 .8 .4 .8 .5 .8 .4 .5 .8 1.1 .6 .8 .2 .5 .5 1.1 .1 .8 0 .8-.1 .8-.1 .8-.2 .8-.2 .8-.2 .8-.2 .8-.2 .8-.2 .6-.3 1-.1 .8-.2 .8-.1 .8-.2 .8-.2 .8-.4 .8-.5 .8-.4 .5-.8 .9-.8 .6-.6 .4-1 .5-.7 .3-.9 .2-.8 .2-.8 0-.8 0-.8-.1-.8-.2-.8-.2-.8-.3-.8-.2-.8-.1-.8 0-.8 .1-.8 .1-.8 .1-.8 .1-.8 0-.8-.2-.8-.3-.8-.8-.4-.8-.3-.8-.2-.8-.4-.8-.3-.5-.8-.9-.8-.7-.8-.8-.4-.3-.4-.4-.4-.4-.4-.4-.4-.4-.4-.4-.4-.4-.4-.3-.5-.5-.9-.8-.8-.8-.9-.8-.9-.6-.8-.4-.8-.2-.8 0-.8 .2-.8 .1-.8 .2-.8-.1-.8-.2-.8-.6-.8-.8-.7-.8-.7-.8-.7-.8-.3-.5-.5-1.1-.1-.8 0-.8 0-.8 .1-.8 .2-.8 .3-.6 .8-.7 .5-.3 1.1-.4 .8-.3 .8-.3 .8-.3 .8-.3 .8-.1 .8-.2 .8-.1 .8 0 .8-.1 .8-.1 .8 0 .8-.1 .8-.1 .8-.2 .8-.3 .5-.3 1.1-.6 .6-.2 1-.3 .8-.1 .8 0 .8 0 .8-.2 .8-.1 .8-.1zM149.8 100.8l-1 .1-.8 .2-.8 .4-.8 .4-.7 .5-.9 .5-.6 .3-1 .4-.8 .2-.8 .2-.8 .2-.8 .2-.8 .1-.8 .1-.8 .1-.8 .3-.8 .5-.7 .9-.3 .8-.1 .8 .1 .8 .4 .8 .6 .5 .8 .5 .8 .2 .8 .2 .8 .2 .8 .2 .8 .2 .8 .2 .5 .2 1.1 .5 .5 .3 .9 .8 .5 .8 .5 .7 .6 .9 .6 .8 .4 .5 .8 .9 .8 .8 .8 .8 .8 .7 .8 .9 .8 1 .5 .8 .3 .5 .7 1.1 .7 .8 1 .6 .8 .3 .8 .1 .8 .1 .8 .1 .8 .1 .8 .2 .6 .1 1 .2 .8 .2 .8 .1 .8 0 .8-.1 .8-.2 .7-.2 .9-.5 .5-.3 .9-.8 .7-.8 .6-.8 .4-.8 .3-.8 .2-.8 .2-.8 .2-.8 .2-.8 .3-.8 .2-.8 .3-.8 .2-.8 .2-.8 .1-.8 .1-.8 .1-.8-.1-.8-.2-.8-.4-.8-.6-.8-.4-.4-.4-.4-.4-.4-.5-.4-.8-.8-.6-.8-.4-.8-.2-.8-.2-.8-.3-.8-.3-.8-.6-.8-.9-.7-.8-.4-.8-.2-.8 0-.8 0-.8 .1-.8 .1-.8 0-.8 0-.8 0-.8 0-.8 0-.8 0-.8-.1-.8-.1-.8 0-.8 .1-.8 .1-.8 .1-.8 .1z" fill="#b0ff10" stroke="#7a3a00" stroke-opacity=".8" stroke-width=".6"/>
<path d="M67.2 58.9l.8-.2 .8 0 .8 .1 .8 .2 .8 .4 .8 .4 .8 .3 .8 .3 .8 .1 .8 .1 .8 .2 .8 .3 .7 .5 .7 .8 .5 .8 .3 .8 .1 .8-.1 .8-.5 .8-.9 .7-.7 .9 .2 .8 .5 .8 .7 .8 .9 .8 .8 .6 .8 .7 .8 .9 .5 1 0 .8 0 .8 .1 .8 .1 .8 .1 .8-.2 .8-.5 .8-.8 .8-.6 .8-.3 .8 0 .8-.1 .8-.3 .8-.4 .5-.4 .3-1.2 .7-.8 .4-.8 .3-.6 .2-1 .2-.8 0-.8-.3-.8-.2-.8-.2-.8-.2-.7-.1-.9 0-.8 0-.8-.1-.8-.1-.8-.2-.7-.4-.9-.4-.5-.4-1.1-.8-.8-.6-.8-.6-.5-.4-.8-.8-.7-.8-.4-.7-.6-.9-.7-.8-.3-.4-.4-.4-.4-.5-.7-1.1-.4-.8-.2-.8-.1-.8-.4-.8-.2-.8 .4-.5 .8-.8 .8-.7 .5-1.2 .3-.6 .6-1 .8-.8 .9-.8 .8-.8 .9-.8 .8-.8 .8-.7 .8-.5 .8-.3 .8-.7 .8-.9 .8-.8 .8-.4zM66.8 60l-.9 .8-.7 .8-1.2 .4-.8 .4-.8 .3-.6 .5-.8 .8-.8 .8-.9 .8-.8 .8-.8 .8-.6 .8-.3 .8-.4 .8-.4 .7-.8 .8-.7 .9 .1 .8 .3 .8 .1 .8 .2 .6 .3 1 .5 .7 .7 .9 .7 .8 .5 .8 .5 .6 .6 1 .7 .8 .8 .8 1.1 .8 .8 .6 .8 .7 .5 .3 1.1 .7 .8 .3 .8 .3 .8 .1 .8 .1 .8 0 .8 0 .8 0 .8 .1 .8 .3 .8 .2 .8 .2 .8 .1 .8-.1 .8-.2 .8-.4 .8-.4 .8-.5 .8-.6 .5-1 .1-.8 .1-.8 .2-.8 .6-.8 .7-.8 .5-.8 .2-.8 0-.8-.1-.8-.1-.8 0-.8-.1-.8-.4-.8-.6-.7-.8-.7-.8-.7-.4-.3-1-.8-.7-.8-.3-.4-.8-1.2-.1-.8 .8-.8 .9-.8 .2-.8 0-.8-.2-.6-.6-1-1-.8-.8-.3-.8-.1-.8-.2-.6-.2-1-.4-.8-.3-.8-.4-.8-.2-.8-.1-.8 .1-.8 .2zM63.2 66.4l.8-.4 .8-.1 .8 .1 .8 .2 .6 .2 1 .4 .8 .3 .8 .5 .5 .4 .8 .8 .7 .8 .4 .5 .8 .9 .8 .7 .5 .3 1.1 .8 .8 .6 .8 .8 .7 1 .4 .8 .3 .8 .1 .8-.1 .8-.2 .8-.3 .8-.4 .8-.5 .7-.8 .7-.8 .5-.8 .2-.8 .1-.8-.1-.8 0-.8-.1-.8 .1-.8 .1-.8 .2-.8 0-.8 0-.8-.3-.8-.3-.8-.6-.6-.4-1-.8-.8-.7-.8-.8-.8-.9-.6-.8-.5-.8-.5-.7-.4-.9-.2-.8-.1-.8 .1-.8 .2-.8 .4-.8 .6-.8 .7-.8 .8-.8 .3-.5 .8-1.1 .8-.8zM63.4 66.4l-.8 .8-.6 .8-.4 .5-.8 1-.8 .8-.7 .9-.4 .8-.2 .8-.1 .8 .1 .8 .2 .8 .3 .7 .6 .9 .6 .8 .4 .6 .8 .9 .8 .8 .8 .7 .8 .7 .8 .6 .7 .5 .9 .4 .8 .2 .8 .1 .8-.1 .8-.1 .8-.1 .8 0 .8 0 .8 0 .8 .1 .8-.1 .8-.2 .8-.5 .5-.5 .7-.8 .4-.7 .4-.9 .1-.8 .1-.8-.1-.8-.3-.8-.2-.5-.7-1.1-.8-.8-.9-.7-.8-.6-.5-.3-.9-.8-.8-.8-.7-.8-.7-.8-.4-.4-.4-.4-1.2-.8-.8-.3-.8-.3-.8-.3-.8-.2-.8-.1-.8 .1-.6 .3zM48.8 72l.8-.3 .5 1.1-.9 0-.4-.7zM150.4 100.7l.8-.1 .8-.1 .8-.1 .8-.1 .8 0 .8 .1 .8 .1 .8 0 .8 0 .8 0 .8 0 .8 0 .8 0 .8-.1 .8-.1 .8 0 .8 0 .8 .2 .7 .3 .9 .7 .7 .9 .3 .8 .3 .8 .2 .8 .2 .8 .4 .8 .3 .4 .8 .9 .8 .7 .4 .4 .4 .4 .4 .4 .4 .5 .6 1.1 .2 .7 .1 .9-.1 .8-.1 .8-.1 .8-.2 .8-.2 .8-.3 .8-.2 .8-.3 .8-.2 .8-.2 .8-.2 .8-.2 .8-.2 .5-.5 1.1-.3 .4-.8 1-.8 .8-.8 .5-.8 .4-.8 .3-.8 .2-.8 .1-.8 0-.8-.1-.8-.2-.8-.2-.8-.1-.8-.2-.8-.1-.8-.1-.8-.1-.8-.1-.8-.3-.8-.4-.8-.9-.6-.9-.5-.8-.5-.8-.6-.8-.7-.8-.9-.8-.8-.8-.8-.8-.8-.8-.6-.8-.4-.5-.8-1.1-.5-.8-.3-.5-.8-.9-.8-.5-.8-.4-.8-.3-.8-.2-.8-.2-.8-.2-.8-.2-.8-.2-.8-.2-.8-.5-.6-.5-.4-.8-.1-.8 .1-.8 .2-.6 .7-1 .9-.6 .5-.2 1.1-.2 .8-.1 .8-.1 .8-.2 .8-.2 .8-.2 .8-.2 .8-.3 .8-.4 .8-.4 .8-.6 .6-.3 1-.5 .8-.2 .8-.1 .8-.1zM148.8 102.4l-.8 .3-.8 .5-.8 .5-.5 .3-1.1 .6-.8 .5-.8 .5-.8 .6-.8 .8-.4 1 .4 .5 .8 .4 .8 .1 .8 .2 .8 .2 .8 .5 .5 .5 .3 .6 .4 1 .3 .8 .3 .8 .3 .8 .3 .7 .4 .9 .4 .7 .6 .9 .6 .8 .4 .4 .4 .4 .4 .4 .4 .4 .4 .5 .8 1.1 .6 .8 .6 .8 .4 .5 .4 .3 .4 .3 .8 .5 .8 .3 .8 .3 .8 .3 .8 .3 .8 .2 .8 .1 .8 .2 .8 .1 .8 .1 .8 0 .8-.2 .8-.2 .8-.4 .4-.3 1-.8 .7-.8 .3-.4 .6-1.2 .3-.8 .3-.8 .2-.8 .2-.8 .2-.8 .3-.8 .2-.8 .2-.8 .2-.8 .2-.8 .1-.8 0-.8-.2-.8-.3-.8-.7-.8-.9-.8-.9-.6-.8-.6-.4-.4-.4-.4-.4-.4-.4-.6-.6-1-.2-.6-.4-1-.3-.8-.7-.8-1-.5-.8-.1-.8 0-.8 0-.8 0-.8 0-.8 0-.8 .1-.8 .1-.8 0-.8 0-.8-.1-.8-.1-.8 0-.8 .1-.8 .1-.8 .1-.8 .1-.8 .2z" fill="#ffff00" stroke="#7a3a00" stroke-opacity=".8" stroke-width=".6"/>
<path d="M67.2 59.7l.8-.2 .8-.1 .8 .1 .8 .2 .6 .3 1 .4 .8 .4 .8 .2 .8 .2 .8 .1 .8 .3 .8 .6 .7 1 .3 .8 0 .8-.2 .7-.8 .8-.8 .8 0 .9 .5 .8 .6 .8 .5 .5 .8 .8 .8 .6 .6 .5 .9 .8 .7 .8 .4 .8 .1 .8 0 .8 .1 .8 .1 .8 0 .8-.2 .8-.3 .5-.8 .9-.7 1-.2 .8-.1 .8-.1 .8-.3 .8-.9 .8-.9 .5-.6 .3-1 .5-.8 .2-.8 .1-.8-.1-.8-.2-.8-.2-.7-.3-.9-.1-.8 0-.8 0-.8 0-.8-.1-.8-.1-.8-.3-.8-.3-.8-.5-.8-.5-.6-.5-1-.8-.8-.5-.8-.8-.8-.9-.7-1-.6-.8-.3-.5-.8-1-.8-.9-.5-.8-.3-.8-.2-.8-.1-.8-.3-.8-.1-.8 .5-.8 .9-.8 .5-.8 .4-.8 .3-.8 .5-.7 .8-.8 .8-.8 .8-.7 .8-.8 .8-.8 .8-.7 .7-.3 .9-.4 .8-.2 .8-.7 .8-.8 .8-.6zM66.9 60.8l-.5 .5-.8 .5-.8 .4-.8 .1-.8 .2-.8 .4-.8 .7-.4 .4-.9 .8-.8 .8-.3 .4-.5 .4-.3 .4-.5 .4-.3 .4-.6 1.2-.4 .8-.5 .8-.7 .8-.5 .8 0 .8 .3 .8 .1 .8 .1 .8 .3 .8 .3 .5 .8 1 .8 .9 .5 .8 .3 .4 .8 1.2 .6 .8 .9 .8 .9 .7 .8 .6 .4 .3 1.2 .8 .8 .5 .7 .3 .9 .3 .8 .2 .8 .1 .8 0 .8-.1 .8 .1 .8 0 .8 .2 .8 .3 .8 .2 .8 .1 .8-.1 .8-.2 .7-.3 .9-.4 .6-.4 1-.8 .4-.8 .1-.8 .1-.8 .1-.8 .6-.8 .3-.4 .4-.4 .4-.7 .2-.9 0-.8-.1-.8-.1-.8 0-.8-.1-.8-.3-.8-.4-.4-.4-.4-.4-.4-.5-.4-1.1-.8-.8-.7-.8-.8-.8-.9-.5-.8-.3-.6 0-1 .8-.8 .6-.8 0-.8-.3-.8-.7-.8-1.2-.5-.8-.3-.8-.2-.8-.3-.6-.3-1-.4-.8-.2-.8-.1-.8 .1-.8 .4zM63.2 66.3l.8-.4 .8-.1 .8 .1 .8 .2 .8 .3 .8 .3 .8 .4 .8 .5 .6 .4 .8 .8 .7 .8 .3 .4 .4 .4 .4 .5 .8 .7 .6 .4 1 .7 .8 .6 .8 .8 .8 1.1 .4 .8 .2 .8 .2 .8-.1 .8-.2 .8-.3 .8-.4 .8-.6 .8-.8 .8-.8 .4-.8 .2-.8 .1-.8-.1-.8 0-.8-.1-.8 .1-.8 .1-.8 .1-.8 .1-.8 0-.8-.3-.8-.3-.4-.3-1.2-.8-.8-.7-.8-.7-.8-.8-.8-.9-.7-.9-.5-.8-.4-.6-.5-1-.2-.8-.1-.7 0-.9 .3-.8 .4-.8 .6-.8 .3-.4 .4-.4 .4-.4 .8-1 .7-1 .7-.8zM63.2 66.4l-.8 .8-.5 .8-.6 .8-.5 .5-.8 .9-.8 1-.4 .8-.2 .8-.1 .8 .1 .8 .2 .8 .3 .8 .6 .8 .3 .5 .8 1 .7 .9 .8 .8 .9 .8 .8 .6 .8 .6 .5 .4 1.1 .5 .8 .3 .8 0 .8 0 .8-.2 .8-.1 .8-.1 .8 .1 .8 0 .8 .1 .8-.1 .8-.2 .6-.3 .9-.8 .6-.8 .3-.5 .4-1.1 .2-.8 .1-.8-.1-.8-.3-.8-.3-.7-.6-.9-.8-.8-1-.8-.8-.5-.8-.6-.5-.5-.8-.8-.7-.8-.4-.5-.8-.8-.8-.7-.7-.4-.9-.4-.8-.3-.8-.3-.8-.2-.8-.1-.8 .1-.8 .4zM148.8 102.4l.8-.2 .8-.1 .8-.1 .8-.1 .8-.1 .8 0 .8 .1 .8 .1 .8 0 .8 0 .8-.1 .8-.1 .8 0 .8 0 .8 0 .8 0 .8 0 .8 .1 .8 .3 .8 .8 .4 1 .3 .8 .3 .8 .5 .8 .5 .8 .4 .4 .4 .4 .4 .4 .6 .4 1 .7 .8 .7 .8 .9 .4 .9 .2 .8 0 .8-.1 .8-.2 .8-.2 .8-.2 .8-.2 .8-.3 .8-.2 .7-.2 .9-.2 .8-.3 .8-.3 .8-.4 .8-.5 .8-.5 .6-.8 .8-.8 .5-.8 .4-.8 .2-.8 .2-.8 0-.8-.1-.8-.1-.8-.2-.8-.1-.8-.2-.8-.3-.8-.3-.8-.3-.7-.3-.9-.5-.4-.3-.4-.3-.4-.5-.4-.5-.8-1.1-.6-.8-.6-.8-.4-.4-.4-.4-.4-.4-.4-.4-.4-.5-.8-1.1-.4-.8-.3-.8-.4-.8-.3-.8-.3-.8-.3-.8-.3-.8-.4-.8-.5-.5-.8-.5-.8-.2-.8-.2-.8-.1-.8-.4-.4-.5 .2-.8 .7-.8 1.1-.8 .8-.5 .5-.3 1.1-.6 .8-.5 .7-.5 .9-.5 .8-.3zM158.9 103.2l-1.3 .2-.8 .2-.8 .1-.8 0-.8-.1-.8-.1-.8 0-.8 .1-.8 .1-.8 .2-.8 .3-.8 .4-.8 .8-.3 1 .3 .7 .5 .9 .3 .8 .2 .8 .2 .8 .2 .8 .2 .6 .4 1 .4 .8 .2 .8 .1 .8 .1 .8 .3 .8 .4 .8 .5 .8 .6 .8 .6 .8 .4 .6 .6 1 .7 .8 1 .8 .9 .5 .5 .3 1.1 .6 .8 .4 .8 .2 .8 .2 .8 .1 .7 .1 .9 0 .8 0 .8-.2 .8-.3 .5-.3 1-.8 .7-.8 .6-.8 .3-.8 .3-.8 .2-.8 .2-.8 .2-.6 .3-1 .3-.8 .2-.8 .2-.8 .1-.8 0-.8-.1-.8-.2-.6-.7-1-.9-.7-.8-.5-.5-.4-1-.8-.8-.8-.8-.8-.6-.8-.3-.4-.8-1-.8-.8-.8-.4-.8-.4-.8-.1-.8-.1z" fill="#f8b010" stroke="#7a3a00" stroke-opacity=".8" stroke-width=".6"/>
<path d="M67.2 60.6l.8-.4 .8-.1 .8 .1 .8 .2 .8 .3 .8 .4 .8 .3 .8 .2 .8 .3 .8 .3 .8 .6 .6 1.2 0 .8-.6 .8-.8 .8-.1 .8 .4 .8 .5 .8 .7 .8 .8 .8 .9 .8 .8 .6 .8 .6 .4 .4 .4 .4 .4 .4 .3 .8 .1 .8 0 .8 .1 .8 .1 .8 0 .8-.2 .8-.4 .8-.4 .4-.3 .4-.5 .7-.2 .9-.1 .8-.1 .8-.4 .8-.8 .7-.8 .5-.8 .3-.8 .4-.8 .2-.8 .1-.8-.1-.8-.2-.8-.3-.8-.2-.8 0-.8-.1-.8 .1-.8 0-.8-.1-.8-.2-.8-.3-.8-.3-.8-.5-.8-.5-.8-.6-.6-.5-1-.7-.8-.7-.8-1-.6-.8-.5-.8-.5-.8-.7-.8-.7-.8-.5-.8-.3-.8-.1-.8-.1-.7-.3-.9 0-.8 .3-.5 .8-.9 .6-1 .4-.8 .3-.8 .6-.8 .5-.4 .3-.4 .5-.4 .3-.4 .5-.4 .8-.9 .8-.7 .5-.4 1.1-.7 .6-.1 1-.2 .8-.4 .5-.2 .8-.8zM68.8 60.8l-.8 .2-.8 .5-.8 .5-.8 .3-.8 .2-.8 0-.8 .1-.8 .5-.8 .6-.8 .8-.8 .8-.8 .9-.8 .8-.8 .9-.5 .9-.3 .8-.5 .8-.3 .5-.4 .3-.4 .8 0 .8 .1 .8 .1 .8 .1 .8 .3 .8 .5 .8 .5 .5 .8 1 .6 .9 .5 .8 .5 .7 .8 .9 .8 .7 .8 .7 .8 .6 .6 .4 1 .7 .8 .5 .8 .3 .8 .3 .8 .2 .8 0 .8 0 .8 0 .8 0 .8 .1 .8 .2 .8 .2 .8 .3 .8 0 .8 0 .8-.3 .8-.3 .8-.4 .8-.5 .6-.5 .4-.8 .2-.8 .1-.8 .1-.8 .5-.8 .5-.7 .6-.9 .2-.8 0-.8-.1-.8 0-.8-.1-.8-.1-.8-.4-.8-.7-.8-1-.8-.8-.6-.8-.7-.8-.8-.8-.8-.8-1-.6-.9-.2-.6 0-.9 .6-.9 .2-.8-.4-.8-.4-.3-.8-.5-.8-.3-.8-.4-.8-.3-.8-.3-.8-.3-.7 0zM63.2 66.1l.8-.3 .8-.1 .8 .1 .8 .2 .8 .3 .8 .3 .8 .4 .8 .5 .8 .5 .7 .8 .7 .8 .6 .8 .4 .4 .5 .4 1 .8 .9 .6 .8 .7 .4 .3 .4 .4 .4 .4 .4 .6 .5 1 .2 .8 .1 .8 0 .8-.2 .8-.3 .8-.3 .6-.7 1-.8 .8-.9 .5-.8 .2-.8 .1-.8-.1-.8 0-.8-.1-.8 .1-.7 .1-.9 .1-.8 .1-.8-.1-.6-.1-1-.4-.6-.4-1-.7-.8-.7-.8-.7-.8-.7-.8-1-.8-1-.5-.8-.5-.8-.4-.8-.2-.8-.1-.8 0-.8 .3-.8 .4-.8 .5-.8 .5-.6 .8-.8 .8-1 .6-.8 .7-.8zM63 66.4l-.6 .7-.7 .9-.6 .8-.7 .8-.4 .4-.3 .4-.5 .6-.5 1-.3 .8 0 .8 .1 .8 .2 .8 .4 .8 .5 .8 .4 .6 .7 1 .7 .8 .8 .8 .9 .8 .9 .8 .8 .5 .8 .6 .8 .3 .6 .2 1 .1 .8-.1 .8-.1 .8-.1 .8-.1 .8 .1 .8 0 .8 .1 .8-.1 .8-.2 .8-.4 .8-.8 .6-.8 .4-.8 .3-.8 .2-.8 .1-.8-.2-.8-.2-.8-.4-.8-.5-.8-.8-.8-1-.8-.9-.6-.8-.6-.4-.4-.8-.8-.4-.4-.3-.4-.5-.6-.8-.9-.8-.5-.6-.4-1-.5-.7-.3-.9-.3-.8-.2-.8-.1-.8 .1-.8 .4zM159.2 103.2l.8 .1 .8 .1 .8 .4 .5 .2 .9 .8 .7 .8 .6 .8 .5 .6 .8 .9 .8 .8 .8 .7 .8 .6 .7 .4 .9 .7 .7 .9 .3 .8 .1 .8 0 .8-.1 .8-.2 .7-.2 .9-.3 .8-.2 .8-.3 .8-.2 .8-.2 .8-.2 .6-.4 1-.4 .6-.8 .9-.8 .7-.8 .5-.8 .3-.8 .2-.8 0-.8 0-.8-.1-.8-.1-.8-.2-.8-.2-.8-.4-.8-.4-.8-.5-.8-.5-.8-.5-.8-.9-.7-1-.5-.8-.4-.6-.8-1-.5-.8-.3-.5-.4-1.1-.1-.8-.1-.8-.2-.7-.4-.9-.3-.8-.3-.8-.2-.8-.2-.8-.2-.8-.3-.8-.5-.8-.3-.8 .1-.8 .7-.8 1.1-.6 .8-.3 .8-.2 .8-.1 .8-.1 .8 0 .8 .1 .8 .1 .8 0 .8-.1 .8-.2 .8-.2 .8 0zM156.1 105.6l-.9 .1-.8 .1-.8 .3-.6 .3-.4 .8-.1 .8-.1 .8 0 .8 0 .8 .1 .8 0 .8 0 .8 .1 .8 0 .8 .1 .8 .2 .8 .2 .8 .4 .8 .5 .8 .4 .7 .5 .9 .3 .5 .8 1 .8 .7 .8 .6 .5 .4 1.1 .7 .8 .4 .8 .2 .8 .1 .8 0 .8 0 .8-.2 .8-.2 .8-.4 .8-.6 .8-.8 .5-.8 .3-.6 .3-1 .3-.8 .2-.8 .2-.8 .2-.8 .2-.8 .1-.8 .1-.8-.1-.8-.3-.8-.4-.5-.8-.8-.4-.3-1.1-.8-.9-.8-.8-.7-.8-.7-.8-.7-.4-.3-.4-.4-.6-.4-1-.7-.8-.4-.8-.2-.8 0-.8 .2-.8 .2-.7 .1z" fill="#f06008" stroke="#7a3a00" stroke-opacity=".8" stroke-width=".6"/>
<path d="M68.8 60.8l.8 0 .8 .3 .8 .3 .5 .2 1.1 .5 .8 .3 .8 .5 .4 .3 .4 .8-.2 .8-.6 .8-.1 .8 .3 .8 .5 .8 .6 .8 .8 .8 .7 .8 .9 .8 1 .8 .9 .7 .8 .8 .5 .9 .1 .8 .1 .8 0 .8 .1 .8 0 .8-.2 .8-.5 .8-.6 .8-.5 .8-.1 .8-.1 .8-.2 .8-.2 .5-.8 .8-.4 .3-1.2 .6-.8 .3-.8 .3-.8 0-.8 0-.8-.3-.8-.2-.8-.2-.8-.1-.8 0-.8 0-.8 0-.8 0-.8-.2-.5-.2-1.1-.4-.6-.4-1-.6-.8-.6-.5-.4-1-.8-.9-.8-.7-.8-.6-.8-.3-.6-.7-1-.7-.8-.7-.8-.3-.6-.5-1-.1-.8-.1-.8-.1-.8 0-.8 .4-.8 .4-.3 .3-.5 .5-.8 .3-.8 .5-.8 .6-.8 .8-.8 .7-.8 .8-.8 .8-.8 1-.8 .9-.6 .8-.1 .8 0 .8-.2 .8-.3 .7-.4 .9-.6 .8-.2zM62.9 66.4l-.5 .5-.8 1.1-.6 .8-.8 .8-.7 .8-.3 .4-.6 1.2-.2 .6-.1 1 .1 .8 .2 .8 .4 .8 .5 .8 .5 .8 .6 .8 .7 .8 .7 .8 .9 .8 1 .8 .9 .7 .8 .5 .8 .3 .8 .2 .8 .1 .8-.1 .8-.1 .8-.1 .8-.1 .8 .1 .8 0 .8 .1 .8-.1 .8-.2 .8-.4 .8-.7 .7-1 .4-.8 .3-.8 .2-.8 0-.8-.1-.8-.2-.8-.4-.8-.5-.8-.4-.4-.4-.4-.4-.3-.6-.5-1-.7-.8-.6-.8-.7-.4-.4-.4-.5-.8-1-.8-.9-.8-.5-.8-.5-.8-.4-.5-.2-1.1-.4-.8-.2-.8-.1-.8 .1-.8 .3zM156.8 105.5l.8-.2 .8-.2 .8 0 .8 .2 .7 .3 .9 .6 .8 .6 .4 .4 .4 .3 .5 .5 .9 .8 1 .8 .8 .7 .8 .6 .8 .6 .6 .5 .6 .8 .3 .8 .1 .8-.1 .8-.1 .8-.2 .8-.2 .8-.2 .7-.2 .9-.3 .8-.2 .8-.4 .8-.5 .8-.8 .8-.8 .6-.8 .4-.8 .2-.8 .2-.8 0-.8 0-.8-.1-.8-.2-.6-.3-1-.6-.8-.6-.5-.4-1-.8-.7-.8-.5-.8-.4-.8-.5-.8-.4-.7-.5-.9-.2-.8-.2-.8-.1-.8 0-.8-.1-.8 0-.8 0-.8-.1-.8 0-.8 0-.8 .1-.8 .1-.8 .4-.8 .6-.3 .8-.3 .8-.1 .8-.1 .8-.1z" fill="#ff0000" stroke="#7a3a00" stroke-opacity=".8" stroke-width=".6"/>
<rect width="224.4" height="167.6" fill="url(#dots)"/>
<path d="M114.7 47.1l.2 1M109.8 52l-.1 .9M114.7 52l.2 .9M129.4 52l-.2 .9M60.8 56.9l.9 0M109.8 56.9l0 1.4M114.7 56.9l.2 1.5M119.6 56.9l-.2 1.3M124.5 56.9l-.1 1.3M129.4 56.9l-.2 .9M55.9 61.8l.6-.7M60.8 61.8l1.3-.5M65.7 61.8l1.7 1.2M70.6 61.8l1.2 1.4M75.5 61.8l1-.6M80.4 61.8l.9-.4M100 61.8l.3 .9M104.9 61.8l-.1 1.2M109.8 61.8l-.1 1.8M114.7 61.8l0 2M119.6 61.8l-.1 2.2M124.5 61.8l-.2 1.7M129.4 61.8l0 1.3M134.3 61.8l-.4 .9M55.9 66.7l.7-1M60.8 66.7l1.6-1.3M65.7 66.7l3.4-.1M70.6 66.7l4.6 1.8M75.5 66.7l3.4 .7M80.4 66.7l1.8 .4M85.3 66.7l1 .6M90.2 66.7l.3 .9M95.1 66.7l.5 .8M100 66.7l.3 1M104.9 66.7l-.1 2M109.8 66.7l0 2.4M114.7 66.7l0 2.5M119.6 66.7l0 2.6M124.5 66.7l-.3 2.2M129.4 66.7l0 1.9M134.3 66.7l-.1 1.6M55.9 71.6l-.4-1.7M60.8 71.6l.5-2.8M65.7 71.6l2.5-1.9M70.6 71.6l3.4 1.6M75.5 71.6l2.1 2.4M80.4 71.6l1.2 1.7M85.3 71.6l.2 1.2M90.2 71.6l.4 1M95.1 71.6l-.1 1.2M100 71.6l.2 1.8M104.9 71.6l.1 2.3M109.8 71.6l-.1 2.9M114.7 71.6l.1 3.3M119.6 71.6l-.1 3.2M124.5 71.6l-.2 3M129.4 71.6l-.3 2.5M134.3 71.6l-.1 1.8M139.2 71.6l-.8 1M144.1 71.6l-.9 .9M153.9 71.6l-.8 .4M168.6 71.6l-.9 0M55.9 76.5l-.8-1M60.8 76.5l-1.8-3.1M65.7 76.5l-2.6-2.8M70.6 76.5l-1.6 1.6M75.5 76.5l-.9 2.8M80.4 76.5l-.4 1.9M85.3 76.5l-.2 1.3M90.2 76.5l.2 .9M95.1 76.5l.3 1.3M100 76.5l.2 1.6M104.9 76.5l.1 2.8M109.8 76.5l-.2 3M114.7 76.5l-.1 3.9M119.6 76.5l-.1 3.9M124.5 76.5l-.1 3.8M129.4 76.5l-.4 2.8M134.3 76.5l-.5 2M139.2 76.5l-.6 1.5M144.1 76.5l-.6 1.2M149 76.5l-1 .7M153.9 76.5l-1.1 .3M158.8 76.5l-1.2 0M163.7 76.5l-1.3-.2M168.6 76.5l-1.2-.3M173.5 76.5l-.9-.2M65.7 81.4l-3-1.9M70.6 81.4l-3.8-.3M75.5 81.4l-2.4 1.5M80.4 81.4l-1.2 1.4M85.3 81.4l-.5 .8M90.2 81.4l-.2 .9M95.1 81.4l0 1.3M100 81.4l-.1 2M104.9 81.4l.3 2.6M109.8 81.4l-.1 3.8M114.7 81.4l.1 4.3M119.6 81.4l-.4 4.7M124.5 81.4l-.5 4.4M129.4 81.4l-.2 3.4M134.3 81.4l-.6 2.7M139.2 81.4l-.8 1.7M144.1 81.4l-.9 1.1M149 81.4l-1.3 .8M153.9 81.4l-1.5 .7M158.8 81.4l-1.6-.1M163.7 81.4l-2.1 0M168.6 81.4l-1.5-.2M173.5 81.4l-1.5-.8M178.4 81.4l-1.2-.6M183.3 81.4l-.9-.6M70.6 86.3l-1.2-.5M75.5 86.3l-1.8-.1M80.4 86.3l-1.1 .2M85.3 86.3l-.8 .5M95.1 86.3l.1 1.4M100 86.3l.1 1.8M104.9 86.3l.2 2.8M109.8 86.3l.2 3.7M114.7 86.3l.1 4.8M119.6 86.3l-.1 5.1M124.5 86.3l-.1 4.6M129.4 86.3l-.5 3.9M134.3 86.3l-.8 2.7M139.2 86.3l-1.4 2.4M144.1 86.3l-1.5 1.7M149 86.3l-1.8 1M153.9 86.3l-2.3 .6M158.8 86.3l-2.8 .5M163.7 86.3l-2.5 0M168.6 86.3l-2.4-.9M173.5 86.3l-1.9-.5M178.4 86.3l-1.2-1M183.3 86.3l-1.2-.7M95.1 91.2l.2 .9M100 91.2l.2 1.5M104.9 91.2l.1 2.8M109.8 91.2l.1 3.8M114.7 91.2l-.1 4.7M119.6 91.2l0 5.2M124.5 91.2l-.3 5M129.4 91.2l-.8 4.3M134.3 91.2l-.7 3.5M139.2 91.2l-1.3 2.7M144.1 91.2l-1.9 2.2M149 91.2l-2.5 1.6M153.9 91.2l-3.4 1.1M158.8 91.2l-3.7 .3M163.7 91.2l-3.5-.1M168.6 91.2l-3.3-1.1M173.5 91.2l-2.7-1.6M178.4 91.2l-2.1-1.4M183.3 91.2l-1.3-1M188.2 91.2l-1.1-1M193.1 91.2l-.7-.7M95.1 96.1l-.1 1M100 96.1l.2 1.3M104.9 96.1l.4 2.6M109.8 96.1l.4 3.8M114.7 96.1l.2 4.7M119.6 96.1l.1 4.8M124.5 96.1l0 4.8M129.4 96.1l-.4 4.3M134.3 96.1l-1 3.9M139.2 96.1l-1.5 3.2M144.1 96.1l-2.4 3.2M149 96.1l-3.4 2.4M153.9 96.1l-4.6 1.8M158.8 96.1l-5 .4M163.7 96.1l-5.1-.5M168.6 96.1l-4.5-1.6M173.5 96.1l-3.4-2.1M178.4 96.1l-2.4-1.9M183.3 96.1l-1.9-1.9M188.2 96.1l-1.3-1.6M193.1 96.1l-.6-1.1M198 96.1l-.6-.9M104.9 101l.7 1.5M109.8 101l.8 2.7M114.7 101l.8 3.7M119.6 101l.6 4.4M124.5 101l.2 4.6M129.4 101l-.4 4.5M134.3 101l-.8 4.2M139.2 101l-1.6 4.2M144.1 101l-2.5 4M149 101l-3.9 3.4M153.9 101l-5.3 2.7M158.8 101l-6.4 1.2M163.7 101l-6.5-1.1M168.6 101l-5.6-2.8M173.5 101l-4.1-3.3M178.4 101l-3-3.1M183.3 101l-1.8-2.5M188.2 101l-1.3-1.9M193.1 101l-.7-1.5M198 101l-.5-.9M202.9 101l-.3-1M109.8 105.9l.5 1.9M114.7 105.9l1.1 2.6M119.6 105.9l.8 3.5M124.5 105.9l.5 4.1M129.4 105.9l.4 4.4M134.3 105.9l-.3 4.2M139.2 105.9l-1.2 4.7M144.1 105.9l-2.2 5M149 105.9l-4.1 5.2M153.9 105.9l-5.8 4.4M158.8 105.9l-7.3 1.6M163.7 105.9l-7.4-1.8M168.6 105.9l-5.9-3.8M173.5 105.9l-4.4-5M178.4 105.9l-2.7-4.4M183.3 105.9l-1.6-3.6M188.2 105.9l-1-2.5M193.1 105.9l-.8-2M198 105.9l-.4-1.2M202.9 105.9l0-.9M114.7 110.8l.8 1.2M119.6 110.8l.9 2.2M124.5 110.8l1.4 3M129.4 110.8l.8 3.7M134.3 110.8l.7 4.5M139.2 110.8l-.3 5.5M144.1 110.8l-1.1 6.5M149 110.8l-2.6 7M153.9 110.8l-4.4 6M158.8 110.8l-5.7 2.6M163.7 110.8l-5.9-2.6M168.6 110.8l-4.6-5.6M173.5 110.8l-3.2-6.1M178.4 110.8l-1.9-5.4M183.3 110.8l-1.4-4.4M188.2 110.8l-.6-3.1M193.1 110.8l-.2-2.4M198 110.8l-.2-1.7M202.9 110.8l-.2-1M119.6 115.7l.6 .7M124.5 115.7l1.1 1.9M129.4 115.7l1.2 2.8M134.3 115.7l1.4 4.3M139.2 115.7l1.5 5.8M144.1 115.7l.9 7.1M149 115.7l.4 8.2M153.9 115.7l-.1 7.4M158.8 115.7l-.8 3.1M163.7 115.7l-1.1-3M168.6 115.7l-.8-6.7M173.5 115.7l-.4-7.2M178.4 115.7l0-6.1M183.3 115.7l0-4.6M188.2 115.7l-.1-3.6M193.1 115.7l-.2-2.3M198 115.7l-.1-1.5M202.9 115.7l.1-1.1M124.5 120.6l-.8-.7M129.4 120.6l1.4 1.1M134.3 120.6l2.3 2.9M139.2 120.6l2.7 4.7M144.1 120.6l3.5 6.5M149 120.6l4.1 8.6M153.9 120.6l4.8 7.4M158.8 120.6l5 3.5M163.7 120.6l4.6-2.1M168.6 120.6l3.7-6.1M173.5 120.6l2.5-7M178.4 120.6l1.7-6.1M183.3 120.6l1-4.5M188.2 120.6l.7-3.1M193.1 120.6l.5-2.3M198 120.6l.5-1.6M202.9 120.6l.1-1.3M139.2 125.5l3 2.6M144.1 125.5l4.8 5.1M149 125.5l6.6 6.7M153.9 125.5l7.7 6.1M158.8 125.5l8.7 3.4M163.7 125.5l8.1-1.2M168.6 125.5l6.4-4.7M173.5 125.5l4.2-5.3M178.4 125.5l3-5M183.3 125.5l1.8-3.7M188.2 125.5l1.2-2.7M193.1 125.5l.7-2M198 125.5l.2-1.4M202.9 125.5l.1-.9M144.1 130.4l2.2 1.4M149 130.4l5.9 4.2M153.9 130.4l8.4 4.5M158.8 130.4l9.4 3.2M163.7 130.4l9 0M168.6 130.4l7.3-2.3M173.5 130.4l5.4-3.3M178.4 130.4l3.5-3.2M183.3 130.4l2.1-2.9M188.2 130.4l1.4-1.8M193.1 130.4l.9-1.7M198 130.4l.7-1.1M202.9 130.4l.5-.8M149 135.3l-2.5-1.6M153.9 135.3l4.1 2.3M158.8 135.3l6.7 2.8M163.7 135.3l7.1 1.1M168.6 135.3l6.1-.1M173.5 135.3l4.9-1.7M178.4 135.3l3.5-2.1M183.3 135.3l2.1-1.6M188.2 135.3l1.6-1.5M193.1 135.3l.8-1M198 135.3l.7-.9M163.7 140.2l3.6 1.5M168.6 140.2l4.2 1.1M173.5 140.2l3.8 .2M178.4 140.2l2.9-.7M183.3 140.2l2.1-1M188.2 140.2l1.2-1.1M193.1 140.2l.8-.7M202.9 140.2l.6-.6M168.6 145.1l1 .5M173.5 145.1l2 .6M178.4 145.1l1.9 .2M183.3 145.1l1.6 0M188.2 145.1l1.1-.5M183.3 150l1 .2M188.2 150l.9-.1" fill="none" stroke="#000" stroke-width=".62" stroke-opacity=".85"/>
<path d="M69.1 66.6L67.7 67.2L67.7 66.1zM75.2 68.5L73.3 68.5L73.8 67.2zM78.9 67.4L77.4 67.6L77.6 66.6zM119.6 69.3L119.1 68.1L120 68.1zM61.3 68.8L61.5 70.1L60.6 69.9zM68.2 69.7L67.4 70.9L66.8 70.1zM74 73.2L72.4 73.1L72.9 72.1zM77.6 74L76.3 73.3L77.1 72.7zM109.7 74.5L109.3 73.2L110.2 73.2zM114.8 74.9L114.2 73.6L115.3 73.5zM119.5 74.8L119.1 73.4L120.1 73.4zM124.3 74.6L123.9 73.2L124.9 73.3zM59 73.4L60.2 74.4L59.2 74.9zM63.1 73.7L64.6 74.4L63.7 75.2zM74.6 79.3L74.5 77.9L75.5 78.2zM105 79.3L104.5 78L105.4 78zM109.6 79.5L109.2 78.1L110.2 78.2zM114.6 80.4L114.1 78.8L115.3 78.8zM119.5 80.4L118.9 78.8L120.1 78.9zM124.4 80.3L123.8 78.8L125 78.8zM129 79.3L128.7 78L129.7 78.1zM62.7 79.5L64.3 79.8L63.7 80.8zM66.8 81.1L68.4 80.6L68.3 81.8zM73.1 82.9L73.9 81.8L74.5 82.6zM109.7 85.2L109.2 83.7L110.3 83.7zM114.8 85.7L114.1 84.1L115.4 84zM119.2 86.1L118.7 84.3L120 84.4zM124 85.8L123.5 84.1L124.8 84.2zM129.2 84.8L128.7 83.4L129.8 83.4zM133.7 84.1L133.5 82.8L134.4 83zM105.1 89.1L104.6 87.9L105.5 87.8zM110 90L109.4 88.5L110.5 88.5zM114.8 91.1L114.1 89.3L115.4 89.3zM119.5 91.4L118.8 89.5L120.2 89.6zM124.4 90.9L123.8 89.2L125.1 89.2zM128.9 90.2L128.5 88.6L129.7 88.7zM133.5 89L133.4 87.7L134.3 87.9zM137.8 88.7L138 87.4L138.8 87.8zM156 86.8L157.2 86.1L157.3 87zM105 94L104.5 92.8L105.4 92.8zM109.9 95L109.3 93.5L110.4 93.5zM114.6 95.9L114 94.1L115.3 94.1zM119.6 96.4L118.8 94.5L120.3 94.5zM124.2 96.2L123.6 94.3L125 94.4zM128.6 95.5L128.3 93.7L129.5 94zM133.6 94.7L133.3 93.1L134.4 93.4zM137.9 93.9L138 92.5L138.9 92.9zM142.2 93.4L142.7 92.1L143.4 92.8zM146.5 92.8L147.3 91.7L147.9 92.5zM150.5 92.3L151.7 91.3L152.1 92.4zM155.1 91.5L156.5 90.8L156.6 91.9zM160.2 91.1L161.7 90.6L161.6 91.7zM165.3 90.1L166.8 90L166.5 91.1zM170.8 89.6L172.2 89.8L171.7 90.7zM105.3 98.7L104.7 97.6L105.6 97.4zM110.2 99.9L109.5 98.4L110.6 98.3zM114.9 100.8L114.2 99L115.5 99zM119.7 100.9L119 99.1L120.3 99.1zM124.5 100.9L123.9 99.1L125.2 99.1zM129 100.4L128.5 98.7L129.8 98.8zM133.3 100L133.1 98.3L134.3 98.6zM137.7 99.3L137.8 97.8L138.8 98.2zM141.7 99.3L142.2 97.7L143.1 98.4zM145.6 98.5L146.6 97.1L147.3 98.1zM149.3 97.9L150.8 96.6L151.3 97.9zM153.8 96.5L155.6 95.6L155.7 97zM158.6 95.6L160.5 95.1L160.4 96.5zM164.1 94.5L166 94.5L165.6 95.8zM170.1 94L171.8 94.3L171.1 95.4zM176 94.2L177.3 94.6L176.7 95.4zM181.4 94.2L182.6 94.7L181.9 95.4zM110.6 103.7L109.8 102.6L110.7 102.3zM115.5 104.7L114.6 103.3L115.8 103.1zM120.2 105.4L119.3 103.8L120.6 103.6zM124.7 105.6L124 103.9L125.3 103.8zM129 105.5L128.5 103.7L129.8 103.8zM133.5 105.2L133.2 103.5L134.4 103.7zM137.6 105.2L137.6 103.4L138.8 103.8zM141.6 105L142 103.1L143.1 103.8zM145.1 104.4L146 102.6L147 103.7zM148.6 103.7L150.1 102L150.8 103.4zM152.4 102.2L154.5 101L154.8 102.6zM157.2 99.9L159.6 99.4L159.3 101.1zM163 98.2L165.3 98.5L164.6 100zM169.4 97.7L171.4 98.3L170.4 99.4zM175.4 97.9L177 98.6L176.1 99.5zM181.5 98.5L182.7 99.3L181.9 99.9zM115.8 108.5L114.9 107.5L115.8 107.2zM120.4 109.4L119.5 108.1L120.6 107.9zM125 110L124.2 108.5L125.4 108.3zM129.8 110.3L129 108.7L130.3 108.6zM134 110.1L133.5 108.4L134.7 108.5zM138 110.6L137.8 108.7L139.1 109zM141.9 110.9L142 108.8L143.4 109.4zM144.9 111.1L145.6 108.8L147 109.9zM148.1 110.3L149.5 108.1L150.6 109.6zM151.5 107.5L153.7 106.1L154.1 107.9zM156.3 104.1L158.9 103.8L158.5 105.6zM162.7 102.1L165.2 102.6L164.2 104.2zM169.1 100.9L171.3 102.1L170 103.2zM175.7 101.5L177.3 102.8L176.1 103.5zM181.7 102.3L182.9 103.5L181.8 104zM187.2 103.4L188.1 104.4L187.2 104.7zM125.9 113.8L124.8 112.7L125.8 112.3zM130.2 114.5L129.3 113.2L130.5 112.9zM135 115.3L134.1 113.7L135.4 113.5zM138.9 116.3L138.2 114.3L139.8 114.4zM143 117.3L142.5 114.9L144.2 115.2zM146.4 117.8L146.4 115.1L148.2 115.8zM149.5 116.8L150.2 114.2L151.7 115.4zM153.1 113.4L154.7 111.8L155.4 113.3zM157.8 108.2L160.2 108.3L159.5 109.9zM164 105.2L166.3 106.5L164.8 107.7zM170.3 104.7L172.2 106.4L170.6 107.2zM176.5 105.4L177.9 107.1L176.5 107.6zM181.9 106.4L183 107.9L181.8 108.3zM187.6 107.7L188.4 108.9L187.4 109.1zM130.6 118.5L129.6 117.5L130.6 117.1zM135.7 120L134.5 118.5L135.8 118.1zM140.7 121.5L139.4 119.6L140.9 119.2zM145 122.8L143.8 120.5L145.6 120.2zM149.4 123.9L148.4 121.5L150.2 121.4zM153.8 123.1L152.9 120.6L154.8 120.7zM158 118.8L157.9 117.4L158.9 117.6zM162.6 112.7L163.5 113.8L162.6 114.1zM167.8 109L168.9 111.2L167.2 111.4zM173.1 108.5L174.2 110.9L172.3 111zM178.4 109.6L179.2 111.8L177.6 111.8zM183.3 111.1L183.9 112.9L182.6 112.9zM188.1 112.1L188.7 113.6L187.6 113.6zM136.6 123.5L135.2 122.6L136.1 121.9zM141.9 125.3L140.3 123.9L141.6 123.2zM147.6 127.1L145.6 125.3L147.3 124.4zM153.1 129.2L151.2 127.3L152.9 126.5zM158.7 128L156.5 126.5L158.1 125.4zM163.8 124.1L161.6 123.5L162.5 122.2zM168.3 118.5L166.9 119.9L166.3 118.6zM172.3 114.5L171.8 117L170.2 116.1zM176 113.6L176 116.3L174.2 115.7zM180.1 114.5L180.3 116.8L178.7 116.4zM184.3 116.1L184.6 118L183.3 117.7zM188.9 117.5L189.1 118.9L188.1 118.7zM142.2 128.1L140.7 127.5L141.4 126.6zM148.9 130.6L146.6 129.5L147.9 128.2zM155.6 132.2L153.1 131.1L154.5 129.7zM161.6 131.6L159 130.8L160.2 129.3zM167.5 128.9L164.8 128.9L165.5 127.1zM171.8 124.3L169.5 125.6L169.2 123.7zM175 120.8L173.6 123L172.4 121.5zM177.7 120.2L177 122.6L175.6 121.5zM181.4 120.5L181 122.7L179.6 121.9zM185.1 121.8L184.9 123.5L183.8 123zM189.4 122.8L189.3 124.2L188.4 123.8zM146.3 131.8L145 131.6L145.5 130.8zM154.9 134.6L152.4 134L153.4 132.4zM162.3 134.9L159.7 134.6L160.6 132.9zM168.2 133.6L165.5 133.7L166.1 131.9zM172.7 130.4L170.2 131.4L170.2 129.5zM175.9 128.1L173.8 129.8L173.2 128zM178.9 127.1L177.4 129L176.6 127.6zM181.9 127.2L181 128.9L180.1 127.9zM185.4 127.5L185 129L184.1 128.4zM146.5 133.7L147.9 134L147.3 134.8zM158 137.6L156.1 137.3L156.8 136.2zM165.5 138.1L162.8 138L163.6 136.3zM170.8 136.4L168.2 137L168.5 135.1zM174.7 135.2L172.6 136.1L172.6 134.4zM178.4 133.6L176.8 134.9L176.3 133.6zM181.9 133.2L180.8 134.6L180.2 133.5zM185.4 133.7L184.7 134.8L184.2 134.1zM167.3 141.7L165.7 141.6L166.1 140.5zM172.8 141.3L171 141.5L171.3 140.2zM177.3 140.4L175.8 140.9L175.8 139.7zM181.3 139.5L180.1 140.3L179.9 139.3z" fill="#000"/>
<polygon points="0,45 204.3,167.6 0,167.6" fill="#000"/>
<path d="M0 0h5M0 11.2h3.6M0 22.3h3.6M0 33.5h3.6M0 44.7h3.6M0 55.9h5M0 67h3.6M0 78.2h3.6M0 89.4h3.6M0 100.6h3.6M0 111.7h5M0 122.9h3.6M0 134.1h3.6M0 145.3h3.6M0 156.4h3.6M0 167.6h5M0 167.6v-5M11.2 167.6v-3.8M22.4 167.6v-3.8M33.7 167.6v-3.8M44.9 167.6v-3.8M56.1 167.6v-5M67.3 167.6v-3.8M78.5 167.6v-3.8M89.8 167.6v-3.8M101 167.6v-3.8M112.2 167.6v-5M123.4 167.6v-3.8M134.6 167.6v-3.8M145.9 167.6v-3.8M157.1 167.6v-3.8M168.3 167.6v-5M179.5 167.6v-3.8M190.7 167.6v-3.8M202 167.6v-3.8M213.2 167.6v-3.8M224.4 167.6v-5" stroke="#000" stroke-width=".8" fill="none"/>
</g>
<rect x="0" y="0" width="224.4" height="167.6" fill="none" stroke="#000" stroke-width="1.7"/>
<text x="-.3" y="181.8" font-size="12" fill="#000" text-anchor="middle">-2</text>
<text x="55.8" y="181.8" font-size="12" fill="#000" text-anchor="middle">-1</text>
<text x="112.2" y="181.8" font-size="12" fill="#000" text-anchor="middle">0</text>
<text x="168.3" y="181.8" font-size="12" fill="#000" text-anchor="middle">1</text>
<text x="224.4" y="181.8" font-size="12" fill="#000" text-anchor="middle">2</text>
<text x="-6.2" y="4.1" font-size="12" fill="#000" text-anchor="end">2</text>
<text x="-6.2" y="60" font-size="12" fill="#000" text-anchor="end">1</text>
<text x="-6.2" y="115.8" font-size="12" fill="#000" text-anchor="end">0</text>
<text x="-6.2" y="171.7" font-size="12" fill="#000" text-anchor="end">-1</text>
<text x="112.2" y="199.4" font-size="13" fill="#111" text-anchor="middle">x/d</text>
<text transform="translate(-15.8,84.1) rotate(-90)" font-size="13" fill="#111" text-anchor="middle">y/d</text>
<text x="7.4" y="15.4" font-size="12.8" fill="#111">(e) τ=3.2</text>
</g>
<clipPath id="cf"><rect x="0" y="0" width="224.4" height="167.6"/></clipPath>
<g transform="translate(555.9,251.2)">
<g clip-path="url(#cf)">
<rect width="224.4" height="167.6" fill="#00ff00"/>
<path d="M65.6 78.1l.8-.3 .5 .6 .6 .8 .5 .8 .3 .8 .3 .8 .1 .8 0 .8-.2 .8-.4 .8-.9 .8-.8 .4-.8 .1-.8-.1-.8-.4-.8-.7-.4-.9 0-.8 .1-.8 .3-.8 .3-.8 .5-.8 .6-.8 .8-.8z" fill="#0000ff" stroke="#2a4a7a" stroke-opacity=".8" stroke-width=".6"/>
<path d="M66.4 72.2l.8 0 .5 .6 .3 .6 .2 1 0 .8 0 .8-.1 .8 0 .8 .1 .8 .1 .8 .2 .8 .3 .8 .1 .8 .1 .8 .1 .8-.1 .8-.4 .8-.6 .8-.8 .5-.7 .3-.9 .1-.8-.1-.8-.4-.5-.4-.8-.8-.3-.8 0-.8 .1-.8 .2-.8 .2-.8 .2-.8 .4-.8 .3-.8 .2-.6 .4-1 .2-.8 .2-.7 .3-.9 .3-.8 .5-.8 .5-.6zM65.4 78.4l-.6 .5-.8 1.1-.5 .8-.3 .8-.3 .8-.1 .8 0 .8 .3 .8 .9 .8 .8 .4 .8 .1 .8-.1 .8-.4 .8-.7 .5-.9 .2-.8 0-.8-.1-.8-.3-.8-.3-.8-.5-.8-.3-.6-.8-.8-.8 .3z" fill="#0050e0" stroke="#2a4a7a" stroke-opacity=".8" stroke-width=".6"/>
<path d="M66.4 70.2l.8-.4 .8 .3 .4 .3 .4 .4 .7 1.2 .3 .8 .3 .8 .2 .8 0 .8-.2 .8-.5 .8-.3 .8-.3 .8 0 .8 0 .8 .1 .8 .1 .8 .1 .8 .1 .8-.1 .8-.2 .8-.3 .6-.8 .8-.8 .4-.8 .3-.8 0-.8-.4-.7-.1-.9-.7-.8-.9-.4-.8-.1-.8 .1-.8 .1-.8 .2-.8 .1-.8 .1-.8 .1-.8 .2-.8 .1-.8 .1-.8 .1-.8 .2-.8 .4-.8 .3-.4 .3-.4 .5-.6 .8-1 .7-.8zM65.9 72.8l-.5 .8-.3 .8-.3 .8-.2 .8-.2 .8-.3 .8-.3 .8-.3 .8-.3 .6-.3 1-.2 .8-.2 .8-.1 .6 0 .8 .3 1 .5 .6 .8 .6 .8 .4 .8 .1 .8-.1 .8-.3 .8-.5 .6-.8 .4-.8 .1-.8-.1-.8-.1-.8-.1-.7-.3-.9-.2-.8-.1-.8-.1-.8 0-.8 .1-.8 0-.8 0-.8-.1-.8-.4-.8-.5-.6-.8 0-.5 .6z" fill="#00b090" stroke="#2a4a7a" stroke-opacity=".8" stroke-width=".6"/>
<path d="M67.2 68.3l.8 .2 .7 .3 .9 .7 .7 .9 .4 .8 .4 .8 .4 .8 .5 .8 .5 .8 .3 .6 .3 1-.3 .6-.8 .6-.7 .4-.9 .4-.4 .4-.4 .6-.2 1-.1 .8 .1 .8 .1 .8 .1 .8 .1 .8-.1 .8-.3 .8-.5 .7-.8 .5-.8 .4-.8 0-.8 .1-.8-.7-.8-.1-.8-.7-.8-.8-.7-.2-.2-.8-.1-.8 .1-.8 .1-.8 0-.8 0-.8 0-.8 0-.8 0-.8 0-.8 0-.8 0-.8 0-.8 .1-.8 .7-.5 .4-.3 1.2-.6 .8-.8 .8-1 .5-.8 .3-.6 .8-.7zM66.3 70.4l-.7 .8-.6 .8-.7 .8-.3 .4-.3 .4-.4 .8-.2 .8-.1 .8-.1 .8-.1 .8-.2 .8-.1 .8-.1 .8-.1 .8-.2 .8-.1 .8-.1 .8 .1 .8 .2 .8 .9 .8 .9 .8 .8 .1 .8 .4 .8 0 .8-.3 .5-.2 1-.8 .4-.8 .2-.8 .1-.8-.1-.8-.1-.8-.1-.8-.1-.8 0-.8 0-.8 .3-.8 .3-.8 .5-.8 .2-.8 0-.8-.2-.8-.3-.8-.2-.5-.6-1.1-.6-.8-.4-.3-.8-.3-.8 .4zM178.4 136.8l.8-.3 .8-.2 .8-.1 .6 .6-.5 .8-.9 .6-.8 .4-.8 .2-.8-.1-.2-1.1 1-.8z" fill="#00ffc8" stroke="#2a4a7a" stroke-opacity=".8" stroke-width=".6"/>
<path d="M66.4 66.2l.8 .1 .8 .2 .8 .2 .8 .4 .8 .4 .7 .5 .7 .8 .5 .8 .4 .8 .6 .8 .3 .4 .4 .4 .4 .5 .8 .9 .4 1 .1 .8 0 .8-.2 .8-1 .8-.9 .2-.8 .2-.8 .4-.8 .3-.8 .5-.5 .8-.2 .8 0 .8 .1 .8 .2 .8 .3 .8 .1 .8-.1 .8-.3 .8-.4 .5-.8 .6-.8 .3-.7 .2-.9-.5-.8 0-.8-.7-.8 0-.4-.4-.4-.4-.4-.4-.4-.4-.8-.2-.8-.9-.5-.9 0-.8 0-.8 0-.8-.1-.8-.1-.8-.1-.6-.2-1-.2-.8-.2-.8-.2-.8-.2-.8-.2-.8-.3-.8-.2-.8 .9-.5 .8 .2 .8 .1 .8 .1 .8 .1 .8-.2 .8-.3 .8-.8 .7-1.1 .3-.8 .2-.8-.1-.8 .3-.8zM66.6 68.8l-.5 .8-.5 .7-.6 .9-.9 .8-.9 .7-.8 .4-.7 .5-.1 .8 0 .8 0 .8 0 .8 0 .8 0 .8 0 .8 0 .8 0 .8 0 .8-.1 .8-.1 .8 .1 .8 .2 .8 .7 .2 .6 .6 .9 .8 .9 .2 .7 .6 .9 0 .8 0 .8-.4 .7-.4 .6-.8 .3-.7 .1-.9-.1-.8-.1-.8-.1-.8-.1-.8 .1-.8 .1-.8 .5-.8 .4-.4 .8-.4 .8-.4 .7-.4 .4-.8-.2-.8-.4-.8-.5-.8-.5-.8-.3-.6-.5-1-.3-.6-.7-1-.9-.8-.8-.3-.8-.2-.6 .5zM122.4 111.1l.8-.1 .8 .2 .8 .3 .8 .4 .8 .5 .6 .4 .5 .8-.1 .8-1 .3-.8-.1-.7-.2-.9-.5-.5-.3-1-.8-.5-.8 .2-.8zM180.8 134.2l.8-.2 .8-.2 .8 0 .8 .1 .8 .2 .6 .3 .6 .8 .1 .8-.5 .8-.5 .8-.6 .8-.5 .7-.8 .9-.8 .5-.8 .5-.8 .3-.7 .3-.9 .2-.8 .2-.8 .1-.8 0-.8-.2-.7-.3-.8-.8-.4-.8-.2-.8 .1-.8 .4-.8 .7-.8 .9-.6 .8-.4 .8-.4 .5-.2 1.1-.4 .8-.3 .8-.3zM178.4 136.8l-.8 .7-.3 .9 1.1 .4 .8-.2 .8-.4 .8-.6 .6-.8-.6-.6-.8 .1-.8 .2-.8 .3z" fill="#20ffb0" stroke="#2a4a7a" stroke-opacity=".8" stroke-width=".6"/>
<path d="M64.8 64.8l.8-.1 .8 .1 .8 .1 .8 .2 .8 .2 .8 .3 .8 .2 .8 .4 .8 .5 .5 .5 .7 .8 .4 .6 .8 1 .6 .8 .7 .8 .3 .5 .6 1.1 .2 .7 .2 .9 0 .8-.1 .8-.1 .7-.4 .9-.4 .6-.8 .1-.8-.1-.8 0-.8 .3-.8 .2-.8 .4-.8 .6-.5 1.1 0 .8 .1 .8 .2 .8 .5 .8 .4 .8 .1 .8-.1 .8-.5 .8-1 .8-.8 .4-.8 .2-.8-.3-.8-.6-.8 0-.5-.5-1.1-.3-.5-.5-.8-.8-1.1-.4-.4-.4-.4-.5-.8-.1-.8-1-.2-.8-.1-.8-.1-.8-.1-.8-.2-.8-.2-.8-.3-.8-.3-.8-.2-.8-.4-.8-.3-.7-.5-.9-.3-.7-.3-.9 0-.8 .2-.8 .9-.2 .8 .1 .8 .3 .8 .2 .8 .3 .8 .2 .8 .3 .8 0 .8-.1 .6-.3 .9-.8 .6-.8 .2-.8 0-.8-.2-.8-.5-.8-.7-.8 .5-.8zM66.2 66.4l-.3 .8 .1 .8-.2 .8-.3 .8-.4 .8-.8 .8-1.1 .6-.8 .2-.8-.1-.8-.1-.8-.1-.8-.2-.8 .3 .1 1 .3 .8 .2 .8 .2 .7 .2 .9 .2 .8 .2 .8 .2 .8 .1 .8 .1 .8 .1 .8 0 .8 0 .8 0 .8 .1 .8 1 .8 1 .4 .4 .4 .4 .4 .4 .4 .4 .4 .8 0 .5 .4 1.1 .3 .8 .5 .8-.2 .8-.3 .4-.3 .8-.8 .3-.8 .1-.8-.1-.8-.3-.8-.2-.8-.1-.8 0-.8 .2-.8 .5-.8 .8-.5 .7-.3 .9-.4 .8-.2 .8-.2 .8-.5 .5-1.1 0-.8-.1-.8-.3-.8-.6-.8-.7-.8-.4-.4-.3-.4-.5-.7-.5-.9-.3-.4-.8-1.1-.8-.6-.5-.3-1.1-.5-.8-.2-.8-.2-.8-.1zM120 109.5l.8 0 .8 0 .8 .2 .8 .3 .8 .2 .8 .3 .8 .4 .8 .3 .8 .4 .7 .4 .9 .8 .6 .8 .4 .8 .2 .8 0 .8-.4 .7-.8 .3-.8-.1-.8-.2-.8-.3-.8-.4-.8-.4-.8-.4-.8-.5-.5-.3-1.1-.7-.8-.5-.7-.4-.8-.8-.4-.8 0-.8 .9-.8zM122.2 111.2l-.2 .8 .4 .6 .8 .8 .8 .5 .8 .5 .8 .2 .8 .1 .8-.2 .3-.9-.5-.8-.6-.4-.5-.4-1.1-.5-.7-.3-.9-.2-.8 .1zM184 132.7l.8 0 .8 .1 .8 .2 .8 .3 .5 .3 .8 .8 .3 .8 0 .8-.2 .8-.6 .7-.8 .9-.7 .8-.6 .8-.7 .8-.4 .3-.7 .5-.9 .4-.8 .4-.8 .3-.8 .4-.8 .2-.8 .2-.8 .2-.8 .1-.8-.1-.8-.1-.8-.2-.5-.2-1.1-.7-.8-.9-.5-.8-.3-.6-.2-1 .2-.8 .4-.8 .4-.4 .8-.8 .6-.4 1-.5 .7-.3 .9-.3 .8-.3 .6-.2 1-.4 .8-.3 .8-.3 .8-.3 .8-.2 .8-.1 .8-.1zM180.2 134.4l-1 .4-.8 .3-.8 .3-.8 .4-.5 .2-1.1 .7-.8 .9-.4 .8-.1 .8 .2 .8 .3 .7 .8 .8 .8 .4 .8 .2 .8 0 .8-.1 .8-.2 .8-.2 .8-.3 .8-.3 .8-.5 .8-.5 .7-.8 .6-.8 .3-.5 .8-1 .5-.9-.1-.8-.4-.6-.8-.5-.8-.2-.8-.1-.8 0-.8 .2-.8 .2-.6 .2z" fill="#10ff50" stroke="#2a4a7a" stroke-opacity=".8" stroke-width=".6"/>
<path d="M83.2 59.1l.8-.2 .8-.1 .8 .1 .7 .3 .9 .8 .6 .8 .3 .8 .2 .8 0 .8-.1 .8-.1 .8-.2 .8-.1 .8 .1 .8 .1 .8 .2 .8 .1 .8 0 .8-.1 .8-.2 .7-.3 .9-.2 .8-.1 .8-.2 .7-.2 .9-.3 .8-.3 .5-.7 1.1-.7 .8-.9 .8-.9 .7-.8 .4-.8 .2-.8-.2-.7-1.1-.2-.8 0-.8 .1-.7 .2-.9 .1-.8 .1-.8 0-.8-.1-.8-.1-.8-.1-.8 0-.8 0-.8 0-.8-.1-.8-.3-.8-.5-.7-.7-.9-.6-.8-.3-.4-.7-1.2-.2-.8 .1-.8 .3-.8 .5-.7 .8-.7 .8-.4 .8-.3 .8-.1 .8-.1 .8-.1 .8-.1zM79.4 60.8l-.9 .8-.4 .8-.1 .8 .2 .8 .4 .8 .5 .8 .6 .8 .3 .4 .8 1.2 .2 .8 0 .8 0 .8-.1 .8 0 .8 .1 .8 .1 .8 .1 .8 0 .8-.1 .8-.1 .8-.1 .8 0 .8 .5 .8 1 .3 .8-.3 .8-.4 .4-.4 .8-.8 .4-.5 .5-1.1 .2-.8 .1-.7 .1-.9 .2-.8 .2-.8 .2-.8 .1-.8 0-.8-.2-.8-.2-.8-.1-.8 0-.8 .1-.8 .2-.8 .2-.8 .1-.8-.2-.8-.4-.8-.3-.4-.4-.4-1.2-.6-.8 0-.8 0-.8 .1-.8 0-.8 .1-.8 .1-.6 .3zM47.2 65.5l.8-.3 .8-.1 .8 .1 .8 .4 .5 .8 .3 .8 .2 .8 0 .8 0 .8-.2 .8-.2 .8-.4 .8-.2 .5-.8 1.1-.8 .5-.8 .1-.8-.2-.8-.4-.8-.6-.7-1-.3-.8-.1-.8 0-.8 .1-.8 .2-.8 .3-.8 .5-.6 .8-.7 .6-.3zM47.4 66.4l-1 .8-.5 .8-.3 .6-.2 1-.1 .8 .1 .8 .5 .8 .5 .6 .8 .4 .8 .2 .8-.2 .8-.6 .7-1.2 .2-.8 .2-.8 0-.8-.1-.8-.3-.8-.6-.8-.9-.3-.8 .1-.6 .2zM60.8 67l.8-.2 .8 0 .8 .1 .5 .3 .8 .8 .1 .8-.2 .8-.4 .4-.6 .4-1 .2-.8-.1-.8-.3-.8-.4-.8-.5-.5-.5 .2-.8 1.1-.7 .8-.3zM61.2 67.2l-1.2 .5-.5 .3-.3 .8 .8 .7 .8 .4 .8 .3 .8 .2 .8-.1 .8-.5 .4-1-.1-.8-1-.8-.9-.2-.8 .1zM72 79.7l.8-.2 .8 .2 .3 1.1-.3 .7-.6 .9-1 .7-.8-.1-.5-.6-.2-.8 .2-.8 .5-.6 .8-.5zM71.9 80l-.7 .4-.5 1.2 .2 .8 1.1 .5 .7-.5 .6-.8 .3-.8-.2-.8-.6-.2-.8 .1zM146.4 100l.8-.2 .8-.1 .8-.1 .8 .1 .8 0 .8 .1 .8 0 .8 0 .8 0 .8-.1 .8-.1 .8-.1 .8-.1 .8-.1 .8 0 .8 .1 .8 .1 .8 .2 .8 .2 .8 .2 .8 .3 .8 .2 .8 .4 .8 .3 .6 .3 1 .5 .5 .3 1.1 .6 .5 .2 1.1 .5 .5 .3 1.1 .7 .8 .8 .8 .9 .8 .8 .8 .8 .8 .5 .5 .3 1.1 .6 .8 .5 .5 .5 .3 .4 .7 1.2 .3 .8 .3 .8 .3 .8 .3 .8 .4 .8 .4 .8 .5 .8 .4 .8 .4 .7 .4 .9 .4 .8 .3 .8 .3 .8 .1 .8 0 .8-.2 .8-.3 .8-.2 .5-.7 1.1-.7 .8-1 .8-.8 .4-.8 .4-.8 .3-.8 .2-.8 .2-.8 .2-.8 .1-.8 .1-.8 .1-.8 .2-.8 .2-.8 .1-.8 .1-.8 .1-.8 0-.8-.1-.8 0-.8-.1-.7-.1-.9-.1-.8-.3-.8-.3-.8-.6-.8-.7-.4-.4-.4-.4-.3-.4-.5-.5-.8-.8-.8-.7-.5-.4-1.1-.8-.8-.5-.5-.3-1.1-.6-.8-.5-.8-.5-.8-.5-.5-.3-1.1-.8-.8-.6-.8-.7-.8-.6-.6-.5-1-.8-.8-.6-.8-.4-.8-.3-.8-.1-.8-.2-.8-.2-.8-.3-.6-.3-1-.6-.8-.6-.5-.4-1.1-.8-.8-.4-.8-.4-.8-.5-.5-.3-.7-.8-.3-.8 0-.8 .1-.8 .1-.8 .1-.8 0-.8 0-.8 0-.8 .2-.8 .4-.8 .6-.7 .8-.6 .8-.3 .8-.2 .8-.1 .8 0 .8-.1 .8 0 .8-.1 .8 0 .8-.1 .8 0 .8-.1 .8 0 .7-.1zM155.3 100.8l-.9 .2-.8 .1-.8 .1-.8 .1-.8 .1-.8-.1-.8 0-.8 0-.8 0-.8 .1-.8 .1-.8 0-.8 .1-.8 0-.8 0-.8 .1-.8 0-.8 .1-.8 .2-.8 .2-.6 .2-1 .7-.5 .9-.1 .8 .1 .8 0 .8 0 .8-.1 .8 0 .8 .2 .8 .4 .4 .6 .4 1 .4 .8 .3 .8 .3 .8 .4 .8 .6 .6 .4 1 .5 .8 .2 .8 .3 .8 .3 .8 .6 .7 .5 .9 .8 .8 .7 .8 .7 .8 .6 .5 .4 1.1 .7 .8 .4 .8 .5 .8 .6 .8 .8 .8 .9 .8 .7 .8 .6 .5 .4 1 .8 .9 .7 .8 .7 .8 .7 .8 .7 .5 .4 1.1 .6 .8 .4 .8 .2 .8 .3 .8 .2 .8 .1 .8 .2 .8 0 .8 0 .8-.1 .8-.1 .7-.2 .9-.2 .8-.1 .8-.1 .8-.2 .8-.1 .8-.2 .8-.3 .8-.4 .8-.6 .8-1 .4-.8 .3-.8 .1-.8 0-.8-.2-.8-.2-.8-.2-.8-.3-.8-.4-.8-.3-.4-.7-1.2-.5-.8-.4-.7-.4-.9-.3-.8-.4-.8-.5-.8-.8-.8-.8-.5-.6-.3-1-.5-.7-.3-.9-.8-.6-.8-.4-.8-.5-.8-.6-.8-1-.8-.9-.6-.8-.4-.8-.4-.8-.6-.5-.4-1-.8-.9-.7-.8-.4-.8-.3-.5-.2-1.1-.3-.8-.1-.8-.1-.8 0-.8 .1-.8 .1-.8 .1-.7 .2zM168 145.5l.8 0 .8 .4 .7 .5 .9 .8 .7 .8 .5 .8 .1 .8-.5 .4-.8-.1-.8-.3-.8-.4-.6-.4-.9-.8-.5-.8-.2-.8 .3-.8z" fill="#50ff10" stroke="#7a3a00" stroke-opacity=".8" stroke-width=".6"/>
<path d="M80 60.5l.8-.1 .8-.1 .8 0 .8-.1 .8 0 .8 0 .8 .3 .8 .7 .3 .4 .4 .8 .2 .8-.1 .8-.2 .8-.2 .8-.1 .8 0 .8 .1 .8 .2 .8 .2 .8 0 .8-.1 .8-.2 .8-.2 .8-.2 .8-.1 .8-.1 .8-.2 .8-.3 .8-.6 .8-.4 .5-.8 .7-.7 .4-.9 .3-.8-.1-.7-1 0-.8 .1-.8 .1-.8 .1-.8 0-.8-.1-.8-.1-.8-.1-.8 0-.8 .1-.8 0-.8 0-.8-.2-.7-.5-.9-.6-.8-.5-.7-.6-.9-.4-.8-.2-.8 .1-.8 .3-.7 .8-.8 .8-.4zM81.7 63.2l-.3 .8 .1 .8 .4 .8 .5 .7 .8 .3 .5-.2 .7-.8 .4-.7 .1-.9-.3-.8-.6-.3-.8-.1-.8 .1-.7 .3zM83.2 70.4l-.6 .8-.2 .6 0 1 0 .7 .1 .9 .2 .8 .1 .8 .3 .8 .8 0 .8-.8 .3-.8 .1-.8 0-.8 0-.8-.1-.8-.1-.8-.5-.8-1.2-.1zM48 66.2l.8-.1 .8 .2 .7 .9 .3 .8 .1 .8 0 .8-.2 .8-.2 .8-.4 .8-.8 .8-1.1 .4-.8-.2-.8-.4-.5-.6-.3-.5-.3-1.1 .1-.8 .1-.8 .4-.8 .5-.8 .8-.7 .8-.3zM47.3 68.8l-.5 .8-.2 .8 .3 .8 1.1 .6 .8-.4 .6-1 0-.8-.2-.8-.4-.6-.8 0-.7 .6zM61.6 67.1l.8-.1 .8 .2 .8 .5 .4 1.1-.3 .8-.9 .7-.8 .1-.8-.2-.8-.3-.7-.3-.9-.8 .3-.8 .5-.3 .8-.4 .8-.2zM60.3 68l-.3 .7 .8 .8 .8 .4 .8 .1 .8-.1 .5-.3 .3-.4 0-.9-.8-.8-.8-.1-.8 .1-.8 .3-.5 .2zM72 79.9l.8-.1 .6 .2 .2 .8-.3 .8-.5 .7-.8 .6-.8-.1-.5-1.2 .2-.8 1-.8zM71.2 80.8l-.2 .8 .2 .7 .8 .2 .8-.8 .3-.9-.3-.5-.8 0-.8 .5zM156 100.6l.8-.1 .8-.1 .8-.1 .8 0 .8 .1 .8 .1 .8 .2 .8 .3 .8 .3 .6 .3 1 .7 .8 .7 .8 .6 .5 .4 1.1 .6 .8 .4 .8 .5 .8 .7 .8 .9 .6 .9 .2 .5 .8 1.1 .8 .7 .8 .4 .8 .4 .8 .4 .8 .5 .8 .8 .5 .8 .3 .6 .4 1 .4 .8 .4 .8 .4 .7 .6 .9 .5 .8 .4 .8 .3 .8 .2 .8 .2 .8 .2 .8 0 .8-.1 .8-.3 .8-.4 .8-.6 .8-1 .8-.8 .4-.8 .3-.8 .2-.8 .1-.8 .2-.8 .1-.8 .1-.8 .2-.8 .2-.8 .1-.8 .1-.8 0-.8 0-.8-.2-.8-.1-.8-.2-.8-.3-.8-.2-.8-.4-.8-.4-.8-.6-.5-.4-.9-.8-.9-.8-.9-.7-.8-.7-.8-.6-.5-.4-1-.8-.7-.8-.8-.8-1-.8-.8-.5-.6-.3-1-.6-.8-.6-.5-.4-1-.8-.9-.8-.8-.7-.8-.6-.4-.3-1.2-.6-.8-.3-.8-.2-.8-.4-.8-.5-.6-.4-1-.6-.5-.2-1.1-.4-.8-.3-.8-.5-.4-.4-.2-.8 0-.8 .1-.8 0-.8 0-.8-.1-.8 .1-.8 .4-.8 .9-.7 .8-.3 .8-.2 .8-.2 .8-.1 .8 0 .8-.1 .8 0 .8 0 .8-.1 .8 0 .8-.1 .8-.1 .8 0 .8 0 .8 0 .8 .1 .8-.1 .8-.1 .8-.1 .8-.1 .8-.2 .8-.2zM155.6 102.4l-1.2 .3-.8 .2-.8 .2-.8 .2-.8 .2-.8 .1-.8 .1-.8 .1-.8 .1-.8 .2-.8 .1-.8 .1-.8 .1-.8 .1-.8 .2-.8 .7 0 1 .6 .8 1 .8 .8 .5 .5 .3 1.1 .8 .8 .7 .7 .9 .5 .8 .4 .5 .8 .8 .8 .7 .7 .4 .9 .5 .8 .3 .8 .3 .8 .4 .8 .3 .8 .6 .7 .8 .5 .8 .4 .8 .4 .8 .4 .7 .7 .9 .8 .8 .9 .8 .8 .6 .8 .5 .7 .5 .9 .5 .5 .3 1.1 .5 .5 .3 1.1 .5 .7 .3 .9 .3 .8 .2 .8 .1 .8 0 .8 0 .8-.1 .8-.2 .8-.1 .7-.2 .9-.3 .8-.3 .5-.2 .9-.8 .5-.8 .3-.8 .2-.8 0-.8-.1-.8-.1-.8-.3-.8-.3-.7-.4-.9-.4-.7-.4-.9-.4-.8-.5-.8-.3-.4-.4-.4-.4-.3-.8-.5-.8-.3-.8-.3-.8-.4-.8-.5-.8-.7-.8-1-.5-.8-.3-.7-.6-.9-.8-.8-1-.7-.8-.4-.7-.5-.8-.8-.5-.8-.4-.5-.8-.8-.4-.3-1.2-.4-.8-.2-.8 0-.8 0-.8 .2-.8 .1-.8 .2z" fill="#b0ff10" stroke="#7a3a00" stroke-opacity=".8" stroke-width=".6"/>
<path d="M82.4 62.9l.8-.1 .8 .1 .6 .3 .3 .8-.1 .8-.4 .8-.4 .6-.8 .4-.5-.2-.8-.8-.3-.5-.2-1.1 .2-.7 .8-.4zM60.8 67.8l.8-.3 .8-.1 .8 .1 .7 .5 .2 .8-.4 .8-.5 .3-.8 .1-.8-.1-.6-.3-1-.8 .3-.8 .5-.2zM61 68l-.5 .8 1.1 .8 .8 .2 .8-.1 .7-.9-.4-.8-1.1-.4-.8 .2-.6 .2zM48 68.2l.8 0 .4 .6 .2 .8 0 .8-.4 .8-1 .6-.8-.3-.6-1.1 .2-.8 .4-.7 .8-.7zM83.2 70.3l.8-.2 .8 .8 .2 1.1 .1 .8 0 .8 0 .8-.1 .8-.2 .6-.8 1-.8 .1-.4-.9-.1-.8-.2-.8-.1-.8 0-.8 0-.8 .2-.8 .6-.8zM72 80.3l.8 0 .3 .5-.2 .8-.7 .8-.9 0-.3-.8 .2-.8 .8-.5zM71.6 80.8l-.4 .6 .8 .8 .6-.6 .2-.8-.8-.2zM156 102.3l.8-.2 .8-.1 .8-.2 .8 0 .8 0 .8 .2 .8 .2 .8 .5 .6 .5 .6 .8 .4 .6 .8 .9 .8 .6 .6 .3 1 .6 .8 .7 .7 1.1 .4 .8 .5 .8 .6 .8 .8 .8 1 .6 .8 .4 .8 .3 .7 .3 .9 .5 .4 .3 .4 .4 .3 .4 .5 .8 .4 .8 .4 .8 .4 .8 .4 .8 .3 .8 .3 .8 .1 .8 .1 .8 0 .8-.2 .8-.3 .8-.3 .6-.8 .8-.8 .4-.8 .3-.8 .3-.8 .2-.8 .1-.8 .2-.8 .1-.8 0-.8 0-.8-.1-.8-.2-.8-.2-.8-.4-.8-.4-.8-.4-.8-.3-.8-.5-.8-.4-.8-.6-.5-.3-1-.8-.9-.7-.8-.8-.7-.9-.5-.8-.4-.8-.4-.8-.4-.6-.8-1-.8-.6-.5-.2-1.1-.5-.8-.3-.8-.3-.8-.4-.8-.5-.5-.4-.8-.8-.7-.8-.4-.6-.7-1-.9-.8-.8-.6-.8-.5-.8-.5-.8-.6-.8-.9-.1-.9 .7-.8 1-.3 .8-.1 .8-.1 .8-.1 .8-.1 .8-.2 .8-.1 .8-.1 .8-.1 .8-.1 .8-.2 .8-.2 .8-.2 .8-.2 .8-.2 .8-.2zM154.4 104l-.8 .4-.8 .3-.8 .4-.8 .4-.8 .3-.8 .3-.6 .3-.5 .8 .2 .8 .4 .8 .5 .8 .4 .8 .4 .7 .8 .9 .8 .5 .6 .3 1 .3 .8 .2 .8 .2 .8 .4 .8 .5 .8 .8 .5 .8 .3 .7 .4 .9 .3 .8 .3 .8 .4 .8 .5 .8 .5 .5 .8 .8 .4 .3 1.2 .8 .8 .4 .8 .4 .8 .3 .8 .3 .8 .4 .8 .4 .8 .4 .8 .3 .8 .2 .8 0 .8 0 .8-.1 .8-.2 .8-.3 .8-.4 .6-.5 .7-.8 .3-.7 .3-.9 .1-.8 0-.8-.2-.8-.2-.8-.3-.8-.4-.8-.4-.8-.5-.8-.8-.7-.8-.5-.8-.4-.8-.3-.8-.4-.8-.5-.5-.4-.9-.8-.7-.8-.7-.8-.4-.6-.8-1-.8-.7-.8-.6-.4-.3-1.1-.8-.9-.8-.7-.8-.8-.8-.9-.5-.8-.2-.8 0-.8 0-.8 .1-.8 .2-.8 .2-.8 .2z" fill="#ffff00" stroke="#7a3a00" stroke-opacity=".8" stroke-width=".6"/>
<path d="M61.6 67.8l.8-.2 .8 .2 .7 1-.5 .8-1 .2-.8-.2-.8-.6 0-.7 .8-.5zM61.8 68l-.7 .8 .5 .3 .8 .4 .8-.2 .4-.5-.4-.7-.8-.2zM72 80.6l.8 .2-.2 .8-.6 .6-.8-.4 .4-1zM71.5 81.6l.5 .3 0-1.1-.5 .8zM155.2 103.8l.8-.2 .8-.2 .8-.1 .8 0 .8 0 .8 .2 .8 .4 .8 .8 .8 .9 .8 .7 .8 .6 .8 .6 .7 .5 .9 .8 .6 .8 .6 .8 .4 .4 .8 1 .8 .8 .8 .6 .7 .4 .9 .5 .8 .3 .8 .4 .7 .4 .9 .8 .5 .8 .3 .5 .5 1.1 .3 .8 .2 .8 .2 .8 0 .8-.1 .8-.3 .8-.3 .8-.5 .6-.8 .7-.5 .3-1.1 .4-.8 .2-.8 .1-.8 0-.8 0-.8-.2-.8-.3-.8-.4-.8-.4-.8-.4-.8-.3-.8-.3-.8-.4-.8-.4-.8-.5-.8-.6-.6-.5-.7-.8-.3-.5-.6-1.1-.3-.8-.3-.8-.4-.8-.3-.8-.5-.8-.8-.8-.8-.5-.7-.3-.9-.3-.8-.2-.8-.2-.8-.4-.8-.5-.7-.8-.5-.8-.4-.7-.5-.9-.3-.6-.3-1 .3-.6 .8-.5 .8-.3 .8-.3 .8-.4 .6-.3 1-.4 .8-.4 .8-.2zM155.7 105.6l-.5 .3-.8 .5-.6 .8-.2 .5 0 .9 .8 .8 .8 .5 .8 .4 .8 .6 .4 .3 1 .8 .8 .8 .5 .8 .4 .8 .2 .8 .2 .8 .2 .8 .2 .8 .3 .8 .3 .8 .3 .6 .8 1 .8 .7 .8 .4 .8 .4 .8 .3 .8 .3 .8 .2 .8 .3 .8 .4 .6 .2 1 .3 .8 .2 .8-.1 .8-.2 .8-.4 .5-.6 .5-.8 .3-.8 .2-.8 0-.8-.1-.8-.2-.8-.3-.8-.6-.8-1-.8-.9-.4-.8-.4-.8-.4-.8-.4-.8-.6-.8-.6-.5-.4-.9-.8-.9-.8-.8-.8-.8-.8-.8-.8-.9-.7-.8-.6-.4-.3-1.1-.8-.9-.6-.8-.4-.8-.1-.8 0-.8 .2z" fill="#f8b010" stroke="#7a3a00" stroke-opacity=".8" stroke-width=".6"/>
<path d="M62.4 67.9l.6 .1 .6 .8-.4 .5-.8 .2-.8-.4-.5-.3 .5-.7 .8-.2zM61.9 68.8l.5 .2 .8-.2-.8-.4-.5 .4zM72 80.8l.2 .8-.2-.8zM156 105.5l.8-.2 .8 0 .8 .1 .8 .4 .8 .5 .8 .6 .8 .6 .7 .5 .9 .7 .8 .8 .8 .8 .8 .8 .8 .7 .8 .7 .8 .7 .5 .4 1.1 .8 .8 .4 .8 .4 .8 .4 .8 .4 .8 .5 .8 1 .4 .9 .2 .8 .1 .8 0 .8-.2 .8-.3 .8-.5 .8-.5 .6-.8 .4-.8 .2-.8 .1-.8-.2-.8-.2-.8-.3-.8-.4-.6-.2-1-.3-.8-.3-.6-.2-1-.5-.6-.3-1-.8-.7-.8-.4-.8-.3-.8-.3-.8-.2-.8-.2-.8-.2-.8-.2-.8-.4-.8-.3-.5-.8-.9-.8-.7-.8-.6-.7-.5-.9-.5-.6-.3-.9-.8-.2-.8 .3-.8 .6-.7 .8-.6 .5-.3zM164.5 115.2l-.5 .6-.4 1-.1 .8 0 .8 .3 .8 .7 .8 1.1 .6 .8 .3 .8 .2 .8 .2 .8 .2 .8 .2 .8 .1 .8-.1 .8-.6 .5-1.1 0-.8-.3-.8-.7-.8-1.1-.5-.6-.3-1-.4-.8-.4-.8-.4-.8-.4-.8-.2-.8 0z" fill="#f06008" stroke="#7a3a00" stroke-opacity=".8" stroke-width=".6"/>
<path d="M62.4 68.4l.8 .3-.8 .3-.5-.2 .5-.4zM164.8 115l.8 0 .8 .2 .8 .4 .8 .4 .8 .4 .8 .3 .8 .4 .8 .3 .8 .7 .5 1.1 0 .8-.3 .8-.8 .8-1 .2-.8-.1-.8-.2-.8-.2-.8-.2-.8-.2-.8-.3-.8-.4-.8-.7-.5-1.1 0-.8 .1-.8 .3-.8 .6-.8z" fill="#ff0000" stroke="#7a3a00" stroke-opacity=".8" stroke-width=".6"/>
<rect width="224.4" height="167.6" fill="url(#dots)"/>
<path d="M60.8 66.7l.5-.9M75.5 66.7l.4 .9M109.8 66.7l.1 .9M119.6 66.7l0 .9M55.9 71.6l-.3-1M60.8 71.6l.5-1.5M65.7 71.6l1-.6M70.6 71.6l.9 .9M109.8 71.6l-.1 1.1M114.7 71.6l-.1 .9M119.6 71.6l0 1M124.5 71.6l-.3 1M129.4 71.6l-.1 1M134.3 71.6l-.3 1M139.2 71.6l-.7 .9M60.8 76.5l-.9-1.6M65.7 76.5l-1.4-.7M70.6 76.5l-1.1 1M75.5 76.5l-.5 .8M85.3 76.5l-.4 1.1M100 76.5l-.2 1.1M109.8 76.5l0 1.4M114.7 76.5l-.3 1.5M119.6 76.5l.2 1.6M124.5 76.5l0 1.4M129.4 76.5l-.1 1.5M134.3 76.5l.1 1.4M139.2 76.5l-.3 1.5M144.1 76.5l-.2 1M149 76.5l-.6 1.1M158.8 76.5l-.7 .7M163.7 76.5l-1 .5M65.7 81.4l-1.8-.6M70.6 81.4l-1.5-.1M100 81.4l0 1.1M104.9 81.4l-.1 1.4M109.8 81.4l.1 1.6M114.7 81.4l0 1.9M119.6 81.4l.3 1.7M124.5 81.4l-.1 1.9M129.4 81.4l-.3 1.9M134.3 81.4l-.3 1.7M139.2 81.4l-.8 1.8M144.1 81.4l-.7 1.5M149 81.4l-.7 .9M153.9 81.4l-1 1.1M158.8 81.4l-1.3 .7M163.7 81.4l-1.2 .4M168.6 81.4l-1.3 .3M173.5 81.4l-1 0M178.4 81.4l-1-.4M183.3 81.4l-1-.4M95.1 86.3l0 1.1M100 86.3l-.2 1.4M104.9 86.3l-.2 1.7M109.8 86.3l-.1 1.6M114.7 86.3l-.1 2.1M119.6 86.3l-.1 2.6M124.5 86.3l-.2 2.3M129.4 86.3l-.2 2.7M134.3 86.3l-.4 2.3M139.2 86.3l-.3 1.8M144.1 86.3l-.7 2.1M149 86.3l-.7 1.5M153.9 86.3l-1 1.3M158.8 86.3l-1.6 1M163.7 86.3l-1.7 .7M168.6 86.3l-1.6 .1M173.5 86.3l-1.5-.3M178.4 86.3l-1.3-.2M183.3 86.3l-1.1-.6M188.2 86.3l-.7-.9M95.1 91.2l.3 1M100 91.2l.4 .9M104.9 91.2l.1 1.6M109.8 91.2l.2 2.3M114.7 91.2l.2 2.3M119.6 91.2l0 2.6M124.5 91.2l-.2 3.1M129.4 91.2l0 2.9M134.3 91.2l-.5 2.9M139.2 91.2l-.7 2.8M144.1 91.2l-1.2 2.1M149 91.2l-1.1 2.1M153.9 91.2l-1.7 1.8M158.8 91.2l-2.2 1.3M163.7 91.2l-2.3 .8M168.6 91.2l-2.5-.1M173.5 91.2l-2.2-.3M178.4 91.2l-1.9-.8M183.3 91.2l-1.4-.8M188.2 91.2l-1-1M193.1 91.2l-.7-.8M198 91.2l-.6-.8M104.9 96.1l.3 1.5M109.8 96.1l.2 2M114.7 96.1l.1 2.2M119.6 96.1l.1 3M124.5 96.1l-.3 2.8M129.4 96.1l-.1 3.3M134.3 96.1l-.3 3.2M139.2 96.1l-.7 3.2M144.1 96.1l-.9 3M149 96.1l-1.8 2.8M153.9 96.1l-2.4 2.5M158.8 96.1l-3.1 1.6M163.7 96.1l-3.8 1M168.6 96.1l-3.4 .1M173.5 96.1l-3-.8M178.4 96.1l-2.3-1.5M183.3 96.1l-1.9-1.3M188.2 96.1l-1.6-1.3M193.1 96.1l-.8-1M198 96.1l-.3-1.1M104.9 101l.5 1.3M109.8 101l.6 1.7M114.7 101l.3 2.4M119.6 101l.3 2.8M124.5 101l.1 3M129.4 101l-.1 3.2M134.3 101l-.3 3.5M139.2 101l-.5 3.3M144.1 101l-1.2 3.4M149 101l-1.9 3.1M153.9 101l-2.9 3.2M158.8 101l-3.6 2.3M163.7 101l-4.2 1M168.6 101l-4.4-.3M173.5 101l-4-1.4M178.4 101l-3.1-2.2M183.3 101l-2.2-2.2M188.2 101l-1.8-1.8M193.1 101l-1.2-1.4M198 101l-.5-1.2M109.8 105.9l.4 .9M114.7 105.9l.3 1.7M119.6 105.9l.9 2.3M124.5 105.9l.5 2.7M129.4 105.9l.2 2.9M134.3 105.9l0 3.3M139.2 105.9l-.5 3.7M144.1 105.9l-1.1 4.1M149 105.9l-1.8 4M153.9 105.9l-3.1 4M158.8 105.9l-4 3.5M163.7 105.9l-5.3 1.7M168.6 105.9l-5.7-.6M173.5 105.9l-4.7-2.7M178.4 105.9l-3.5-3.2M183.3 105.9l-2-3.4M188.2 105.9l-1.3-2.7M193.1 105.9l-.8-2.3M198 105.9l-.6-1.5M114.7 110.8l.7 .8M119.6 110.8l.7 1.2M124.5 110.8l.8 1.9M129.4 110.8l.5 2.5M134.3 110.8l.6 3.4M139.2 110.8l0 3.6M144.1 110.8l-.5 4.1M149 110.8l-1.1 5M153.9 110.8l-2.2 5.5M158.8 110.8l-3.8 5M163.7 110.8l-5 2.6M168.6 110.8l-5.1-.9M173.5 110.8l-4.2-3.8M178.4 110.8l-2.9-4.5M183.3 110.8l-1.6-3.8M188.2 110.8l-.9-3.2M193.1 110.8l-.4-2.4M198 110.8l-.4-1.7M202.9 110.8l-.1-1.2M124.5 115.7l1 .8M129.4 115.7l.8 1.8M134.3 115.7l.6 2.6M139.2 115.7l.6 3.5M144.1 115.7l.4 4.1M149 115.7l.1 5.5M153.9 115.7l-.6 6.5M158.8 115.7l-1.5 5.7M163.7 115.7l-1.8 3.1M168.6 115.7l-1.9-1.2M173.5 115.7l-1.7-4.8M178.4 115.7l-.8-5.6M183.3 115.7l-.4-4.8M188.2 115.7l-.4-3.6M193.1 115.7l0-2.7M198 115.7l.1-1.8M202.9 115.7l-.1-1.2M129.4 120.6l.9 .6M134.3 120.6l1.1 1.6M139.2 120.6l1.5 2.8M144.1 120.6l1.5 4.2M149 120.6l1.8 5.6M153.9 120.6l1.8 6.2M158.8 120.6l2.3 5.7M163.7 120.6l2.4 3.1M168.6 120.6l2.6-1.2M173.5 120.6l2.3-5.1M178.4 120.6l1.8-5.5M183.3 120.6l1.3-5.1M188.2 120.6l.9-3.8M193.1 120.6l.7-2.4M198 120.6l.2-1.9M202.9 120.6l.2-1.1M139.2 125.5l1.6 1.3M144.1 125.5l2.5 3M149 125.5l3.3 4.2M153.9 125.5l4 5.2M158.8 125.5l4.9 5M163.7 125.5l6.1 2.8M168.6 125.5l6.2-1.1M173.5 125.5l5.1-4.2M178.4 125.5l3.9-4.7M183.3 125.5l2.8-4M188.2 125.5l1.9-2.9M193.1 125.5l1.2-2M198 125.5l.6-1.5M202.9 125.5l.5-1.1M144.1 130.4l1.1 .8M149 130.4l3.3 2.7M153.9 130.4l4.6 3.6M158.8 130.4l6 3.6M163.7 130.4l7 2.2M168.6 130.4l7.1-.5M173.5 130.4l6.2-2.8M178.4 130.4l5.2-3.4M183.3 130.4l3.7-2.7M188.2 130.4l2.5-2.1M193.1 130.4l1.6-1.5M198 130.4l1.1-.9M149 135.3l-1.7-1M153.9 135.3l2.4 1.6M158.8 135.3l4.9 2.5M163.7 135.3l5.7 1.7M168.6 135.3l5.7-.5M173.5 135.3l5.3-2.1M178.4 135.3l4.8-2.4M183.3 135.3l3.6-1M188.2 135.3l2.1-.5M193.1 135.3l1.3-.7M163.7 140.2l2.8 1.3M168.6 140.2l3.5 .1M173.5 140.2l3.4-1.3M178.4 140.2l1.8-1.7M183.3 140.2l1.2-.3M188.2 140.2l1.3-.2M173.5 145.1l1.3 0" fill="none" stroke="#000" stroke-width=".62" stroke-opacity=".85"/>
<path d="M129.2 89L128.8 87.7L129.8 87.8zM119.6 93.8L119.1 92.6L120.1 92.6zM124.3 94.3L123.9 93L124.9 93zM129.4 94.1L128.9 92.9L129.9 92.8zM133.8 94.1L133.5 92.8L134.5 92.9zM138.5 94L138.3 92.6L139.3 92.9zM119.7 99.1L119.2 97.8L120.2 97.7zM124.2 98.9L123.9 97.6L124.8 97.7zM129.3 99.4L128.8 98L129.8 98zM134 99.3L133.6 97.8L134.6 98zM138.5 99.3L138.3 97.8L139.3 98.1zM143.2 99.1L143.1 97.7L144.1 97.9zM147.2 98.9L147.5 97.4L148.4 98zM151.5 98.6L152.1 97.2L152.9 97.9zM155.7 97.7L156.7 96.6L157.2 97.5zM159.9 97.1L161.3 96.1L161.6 97.3zM165.2 96.2L166.6 95.6L166.7 96.7zM170.5 95.3L171.9 95.2L171.6 96.1zM176.1 94.6L177.4 94.9L176.9 95.7zM119.9 103.8L119.3 102.6L120.3 102.5zM124.6 104L124 102.7L125.1 102.7zM129.3 104.2L128.8 102.8L129.9 102.9zM134 104.5L133.6 103L134.7 103.1zM138.7 104.3L138.4 102.8L139.4 103zM142.9 104.4L142.9 102.8L143.9 103.2zM147.1 104.1L147.4 102.6L148.3 103.2zM151 104.2L151.7 102.6L152.6 103.4zM155.2 103.3L156.3 101.9L157 102.9zM159.5 102L161 101L161.3 102.3zM164.2 100.7L166 100.2L165.9 101.5zM169.5 99.6L171.3 99.5L170.9 100.7zM175.3 98.8L176.9 99.2L176.2 100.2zM181.1 98.8L182.4 99.4L181.7 100.1zM125 108.6L124.3 107.5L125.2 107.3zM129.6 108.8L129 107.6L130 107.5zM134.3 109.2L133.8 107.8L134.8 107.8zM138.7 109.6L138.3 108.1L139.5 108.2zM143 110L142.8 108.2L144 108.5zM147.2 109.9L147.3 108.1L148.5 108.6zM150.8 109.9L151.4 108L152.5 108.8zM154.8 109.4L155.8 107.6L156.7 108.7zM158.4 107.6L160.1 106.2L160.6 107.7zM162.9 105.3L165.1 104.8L164.9 106.3zM168.8 103.2L170.9 103.5L170.1 104.8zM174.9 102.7L176.7 103.4L175.8 104.4zM181.3 102.5L182.6 103.6L181.6 104.2zM186.9 103.2L187.9 104.2L187 104.6zM134.9 114.2L134.1 112.9L135.2 112.7zM139.2 114.4L138.6 112.9L139.8 112.9zM143.6 114.9L143.2 113.2L144.4 113.4zM147.9 115.8L147.6 113.8L149 114.1zM151.7 116.3L151.7 114L153.2 114.6zM155 115.8L155.7 113.5L157 114.5zM158.7 113.4L160.1 111.8L160.8 113.2zM163.5 109.9L165.5 109.5L165.2 111zM169.3 107L171.3 107.8L170.3 108.9zM175.5 106.3L177.2 107.5L175.9 108.3zM181.7 107L182.9 108.2L181.8 108.7zM187.3 107.6L188.2 108.8L187.2 109.1zM134.9 118.3L134.2 117.2L135.1 117zM139.8 119.2L139 117.8L140.1 117.7zM144.5 119.8L143.7 118.3L145 118.2zM149.1 121.2L148.3 119.2L149.8 119.2zM153.3 122.2L152.6 119.8L154.4 120zM157.3 121.4L157.1 119.2L158.6 119.6zM161.9 118.8L162.1 117.3L163.1 117.8zM171.8 110.9L173.1 112.4L171.7 112.9zM177.6 110.1L178.7 112L177.1 112.2zM182.9 110.9L183.7 112.6L182.4 112.7zM187.8 112.1L188.5 113.5L187.4 113.6zM193.1 113L193.6 114.3L192.7 114.3zM140.7 123.4L139.6 122.4L140.5 121.9zM145.6 124.8L144.4 123.4L145.6 123zM150.8 126.2L149.4 124.5L150.9 124zM155.7 126.8L154.3 124.9L155.9 124.4zM161.1 126.3L159.5 124.6L161.1 124zM166.1 123.7L164.7 122.8L165.6 122.1zM171.2 119.4L170.3 120.4L169.9 119.5zM175.8 115.5L175.7 117.7L174.3 117zM180.2 115.1L180.3 117.3L178.8 116.8zM184.6 115.5L184.8 117.5L183.4 117.2zM189.1 116.8L189.3 118.5L188.2 118.2zM146.6 128.5L145.2 127.7L146.1 127zM152.3 129.7L150.5 128.6L151.7 127.7zM157.9 130.7L155.8 129.4L157.2 128.4zM163.7 130.5L161.4 129.4L162.7 128.2zM169.8 128.3L167.3 128.1L168 126.5zM174.8 124.4L172.8 125.6L172.5 123.9zM178.6 121.3L177.4 123.4L176.3 122.1zM182.3 120.8L181.5 123L180.3 121.9zM186.1 121.5L185.6 123.4L184.5 122.6zM190.1 122.6L189.8 124.1L188.9 123.5zM152.3 133.1L150.6 132.5L151.4 131.6zM158.5 134L156.4 133.4L157.3 132.1zM164.8 134L162.3 133.6L163.2 132zM170.7 132.6L168 132.8L168.6 131zM175.7 129.9L173.3 131L173.2 129.2zM179.7 127.6L177.9 129.4L177.2 127.8zM183.6 127L182.3 128.9L181.4 127.5zM187 127.7L186 129.3L185.2 128.2zM190.7 128.3L190 129.6L189.3 128.8zM156.3 136.9L155 136.6L155.5 135.8zM163.7 137.8L161.6 137.6L162.2 136.2zM169.4 137L167.1 137.1L167.6 135.6zM174.3 134.8L172.3 135.7L172.2 134.2zM178.8 133.2L177.2 134.6L176.6 133.2zM183.2 132.9L181.8 134.4L181.1 133.1zM186.9 134.3L185.6 135.3L185.3 134.1zM166.5 141.5L165.1 141.4L165.5 140.5zM172.1 140.3L170.6 140.8L170.7 139.7zM176.9 138.9L175.7 139.9L175.3 138.9z" fill="#000"/>
<polygon points="0,45 204.3,167.6 0,167.6" fill="#000"/>
<path d="M0 0h5M0 11.2h3.6M0 22.3h3.6M0 33.5h3.6M0 44.7h3.6M0 55.9h5M0 67h3.6M0 78.2h3.6M0 89.4h3.6M0 100.6h3.6M0 111.7h5M0 122.9h3.6M0 134.1h3.6M0 145.3h3.6M0 156.4h3.6M0 167.6h5M0 167.6v-5M11.2 167.6v-3.8M22.4 167.6v-3.8M33.7 167.6v-3.8M44.9 167.6v-3.8M56.1 167.6v-5M67.3 167.6v-3.8M78.5 167.6v-3.8M89.8 167.6v-3.8M101 167.6v-3.8M112.2 167.6v-5M123.4 167.6v-3.8M134.6 167.6v-3.8M145.9 167.6v-3.8M157.1 167.6v-3.8M168.3 167.6v-5M179.5 167.6v-3.8M190.7 167.6v-3.8M202 167.6v-3.8M213.2 167.6v-3.8M224.4 167.6v-5" stroke="#000" stroke-width=".8" fill="none"/>
</g>
<rect x="0" y="0" width="224.4" height="167.6" fill="none" stroke="#000" stroke-width="1.7"/>
<text x="-.3" y="181.8" font-size="12" fill="#000" text-anchor="middle">-2</text>
<text x="55.8" y="181.8" font-size="12" fill="#000" text-anchor="middle">-1</text>
<text x="112.2" y="181.8" font-size="12" fill="#000" text-anchor="middle">0</text>
<text x="168.3" y="181.8" font-size="12" fill="#000" text-anchor="middle">1</text>
<text x="224.4" y="181.8" font-size="12" fill="#000" text-anchor="middle">2</text>
<text x="-6.2" y="4.1" font-size="12" fill="#000" text-anchor="end">2</text>
<text x="-6.2" y="60" font-size="12" fill="#000" text-anchor="end">1</text>
<text x="-6.2" y="115.8" font-size="12" fill="#000" text-anchor="end">0</text>
<text x="-6.2" y="171.7" font-size="12" fill="#000" text-anchor="end">-1</text>
<text x="112.2" y="199.4" font-size="13" fill="#111" text-anchor="middle">x/d</text>
<text transform="translate(-15.8,84.1) rotate(-90)" font-size="13" fill="#111" text-anchor="middle">y/d</text>
<text x="7.3" y="15.4" font-size="12.8" fill="#111">(f) τ=3.7</text>
</g>
<text x="733.2" y="288.7" font-size="12.5" fill="#061006" text-anchor="middle">Second wall</text>
<text x="733.2" y="303.7" font-size="12.5" fill="#061006" text-anchor="middle">boundary layer</text>
<text x="733.2" y="317.8" font-size="12.5" fill="#061006" text-anchor="middle">separation</text>
<polyline points="755.1,317.4 766.2,374.2 754.7,380.1" fill="none" stroke="#000" stroke-width="1.5"/><polygon points="744.6,385.3 752.8,376.5 756.5,383.8" fill="#000"/>
<clipPath id="cg"><rect x="0" y="0" width="224.4" height="167.6"/></clipPath>
<g transform="translate(35,463.3)">
<g clip-path="url(#cg)">
<rect width="224.4" height="167.6" fill="#00ff00"/>
<path d="M67.2 74.3l.8 .4 .3 .5 .2 .8 0 .8-.2 .8-.3 .5-.8 1-.8 .4-.8 .1-.8-.4-.7-.8-.1-.8 .4-.8 .4-.6 .8-.9 .8-.7 .5-.2z" fill="#0000ff" stroke="#2a4a7a" stroke-opacity=".8" stroke-width=".6"/>
<path d="M67.2 74.2l.6 .2 .6 .8 .2 .8 0 .8-.2 .8-.4 .7-.8 .9-.8 .4-.8 0-.8-.3-.8-.9 0-.8 .3-.8 .5-.7 .8-.9 .8-.7 .8-.3zM66.9 74.4l-.5 .2-.7 .6-.7 .8-.6 .8-.4 .8 .1 .8 .7 .8 .8 .4 .8-.1 .7-.3 .8-.8 .4-.8 .2-.8 0-.8-.2-.8-.3-.5-.5-.3z" fill="#0050e0" stroke="#2a4a7a" stroke-opacity=".8" stroke-width=".6"/>
<path d="M67.2 74.1l.8 .3 .5 .8 .2 .8 0 .8-.2 .8-.4 .8-.7 .8-1 .5-.8 0-.8-.3-.8-.8-.1-1 .3-.8 .6-.7 .7-.9 .9-.8 .8-.3zM66.7 74.4l-1.1 .8-.7 .8-.6 .8-.3 .7 0 .9 .6 .8 1 .4 .8 0 .8-.4 .8-.8 .4-.8 .2-.8 0-.8-.2-.8-.4-.7-.8-.3-.5 .2z" fill="#00b090" stroke="#2a4a7a" stroke-opacity=".8" stroke-width=".6"/>
<path d="M66.4 74.3l.8-.4 .8 .3 .6 1 .1 .8 0 .8-.1 .8-.4 .8-.7 .8-1.1 .6-.8 0-.8-.3-.4-.3-.4-.4-.2-1.2 .4-.8 .6-.8 .6-.8 .9-.8zM66.4 74.4l-.8 .7-.8 .9-.6 .8-.2 .6-.1 1 .6 .8 1.1 .5 .8 0 .8-.3 .8-.9 .5-.9 .2-.8 0-.8-.2-.8-.5-.8-.8-.3-.8 .3zM200.8 131.7l.8-.1 .8 .2 .5 .2 .3 .4 .2 1.2-.1 .8-.9 .6-.8-.2-.7-.4-.9-.8-.3-.8 .3-.5 .8-.6z" fill="#00ffc8" stroke="#2a4a7a" stroke-opacity=".8" stroke-width=".6"/>
<path d="M66.4 74.2l.8-.4 .8 .2 .4 .4 .3 .8 .2 .8 0 .8-.2 .8-.3 .8-.4 .5-.8 .8-.8 .3-.8-.1-.8-.2-.6-.5-.6-.8 .1-.8 .3-.6 .6-1 .7-.8 .8-.8zM66.3 74.4l-.7 .6-.8 1-.6 .8-.4 .8 0 .8 .6 .8 .4 .3 .8 .3 .8 0 .8-.3 .8-.8 .6-1.1 .1-.8 0-.8-.1-.8-.4-.8-1-.5-.8 .4zM122.4 115.2l.8 0 .8 .2 .8 .2 .8 .3-.8 .4-.8 .1-.8-.1-.8-.1-.8-.2 .4-.8zM133.6 121.2l.8 .2 .8 .5 .8 .5 .8 .5 .8 .6 .6 .5 .8 .8 .6 .8 .4 .5 .8 .9 .8 .7 .8 .7 .6 .4 .8 .8 .6 .8-.3 .8-.9-.1-.8-.2-.8-.1-.8-.3-.8-.3-.8-.5-.8-.6-.8-.7-.6-.4-.8-.8-.6-.8-.4-.6-.6-1-.5-.8-.4-.8-.3-.8-.1-.8 .3-.4zM201.6 129.6l.8-.1 .8 0 .8 .1 .8 .4 .5 .4 .5 .8 .2 .8 .1 .8-.1 .8 0 .8-.1 .8-.2 .8-.3 .8-.6 .8-.8 .6-.8 .2-.8-.1-.8-.2-.8-.5-.8-.5-.5-.3-1.1-.7-.8-.8-.5-.9-.2-.8-.1-.8 .1-.8 .5-.8 1-.7 .8-.4 .8-.2 .8-.2 .8-.1zM200.2 132l-.5 .8 .3 .8 .8 .8 .8 .4 .8 .2 .8-.5 .2-.9 0-.8-.5-.8-.5-.2-.8-.2-.8 .1-.6 .3zM177.6 151.1l.8-.3 .8-.1 .8 .1 .7 .4-.7 .7-.8 .5-.6 .4-1 .4-.8 0-.5-.4 .2-.8 .8-.8z" fill="#20ffb0" stroke="#2a4a7a" stroke-opacity=".8" stroke-width=".6"/>
<path d="M66.4 74.1l.8-.4 .8 .1 .5 .6 .3 .7 .2 .9 0 .8-.1 .8-.4 .8-.5 .7-.8 .7-.6 .2-1 0-.8-.2-.8-.6-.5-.8 .1-.8 .4-.8 .5-.8 .7-.8 .4-.4 .4-.4 .4-.3zM66.1 74.4l-.5 .5-.8 .9-.7 1-.4 .8-.1 .8 .4 .6 .8 .7 .8 .2 .8 .1 .8-.3 .6-.5 .6-.8 .3-.8 .2-.8 0-.8-.2-.8-.3-.8-.4-.4-.8-.2-.8 .4zM119.2 114.1l.8-.1 .8-.1 .8 .1 .8 .2 .8 .1 .8 .2 .8 .1 .8 .2 .8 .3 .8 .5 .6 .4 1 .8 .8 .6 .8 .5 .8 .2 .8 .2 .8 .4 .8 .4 .8 .5 .6 .4 1 .7 .8 .6 .5 .3 1.1 .7 .8 .6 .8 .9 .6 1 .5 .8 .5 .6 .8 .8 .8 .7 .4 .3 1 .8 .9 .8 .8 .8 .7 .8 .7 .8 1 .8 .9 .6 .6 .2 1 .5 .5 .3 1.1 .6 .8 .5 .8 .4 .8 .4 .8 .5 .8 .6 .8 .7 .4 .3 .4 .4 .4 .4 .4 .7 0 .9-.8 .2-.8-.2-.8-.3-.8-.4-.8-.5-.6-.4-1-.7-.8-.7-.8-.7-.4-.3-.4-.4-.7-.4-.9-.7-.8-.4-.8-.2-.8-.3-.8-.3-.8-.4-.8-.4-.8-.4-.8-.4-.8-.3-.7-.2-.9-.3-.8-.3-.8-.5-.7-.5-.9-.7-.8-.6-.5-.3-1.1-.8-.8-.8-.4-.8-.4-.8-.4-.8-.4-.7-.5-.9-.3-.7-.4-.9-.4-.7-.6-.9-.8-.8-1-.6-.8-.4-.8-.2-.8-.3-.8-.2-.8-.1-.8 0-.8 0-.8 0-.8-.1-.8-.2-.7-.3-.9-.6-.8-1 .2-.8 .6-.3zM122 115.2l-.4 .8 .8 .2 .8 .1 .8 .1 .8-.1 .8-.1-.8-.6-.8-.2-.8-.2-.8 0zM133.3 121.6l.1 .8 .2 .5 .5 1.1 .3 .5 .7 1.1 .5 .8 .4 .5 .8 .9 .8 .6 .4 .4 1.1 .8 .9 .6 .5 .2 1.1 .4 .8 .1 .8 .2 .7 .1 .5-.8-.4-.6-.8-.8-.8-.6-.4-.4-1-.8-.8-.8-.6-.8-.4-.5-.8-.9-.8-.7-.8-.6-.8-.5-.8-.5-.6-.3-1-.4-.3 .4zM203.2 128l.8 0 .8 .2 .8 .4 .8 .6 .8 1.1 .3 .9 .1 .8 .1 .8-.1 .8 0 .8-.2 .8-.2 .8-.2 .8-.3 .8-.6 .8-.5 .6-.8 .6-.8 .4-.8 .2-.8 .1-.8-.1-.8-.3-.8-.4-.8-.5-.8-.5-.8-.4-.7-.5-.6-.8-.3-.5-.3-1.1-.3-.8-.2-.7-.3-.9-.3-.8-.2-.8 0-.8 .6-.8 1-.5 .8-.2 .8-.2 .8-.1 .8-.2 .8-.1 .8-.1 .8-.1 .8-.1 .8 0zM201.6 129.6l-.8 .1-.8 .2-.8 .2-.6 .3-1 .7-.7 .9-.1 .7 .1 .9 .2 .8 .4 .8 .8 .8 .9 .6 .8 .5 .7 .5 .9 .5 .8 .2 .8 .1 .8-.2 .8-.6 .6-.8 .3-.8 .2-.8 .1-.8 0-.8 .1-.8-.1-.8-.2-.8-.5-.8-.5-.4-.8-.4-.8-.1-.8 0-.8 .1zM177.6 150.2l.8-.3 .8-.1 .8-.1 .8 0 .8 .1 .8 .2 .8 .3 .4 .9-.4 .5-.8 .7-.6 .4-1 .5-.5 .3-1.1 .6-.5 .2-1.1 .1-.8-.7-.8 0-.8-.8-.3-1 .8-.8 1.1-.6 .8-.4zM177.3 151.2l-.5 .5-.5 1.1 .5 .4 .8 0 .8-.3 .8-.5 .7-.4 .8-.8-.7-.4-.8-.1-.8 .1-.8 .3z" fill="#10ff50" stroke="#2a4a7a" stroke-opacity=".8" stroke-width=".6"/>
<path d="M48.8 61.9l.8-.2 .8-.1 .8 .1 .8 .1 .8 .2 .8 .4 .8 .6 .8 .7 .8 .6 .8 .4 .6 .1 1 .1 .8 .1 .8 .1 .8 .2 .8 .2 .8 .2 .8 .3 .8 .3 .8 .1 .8 0 .8-.1 .8 0 .8 .1 .8 .3 .8 .4 .7 .9 .4 .8 .1 .8 .1 .8 .2 .8 .4 .8 .5 .7 .8 .6 .5 .3 1.1 .5 .6 .3 1 .7 .8 .6 .8 .7 .5 .4 1 .8 .9 .6 .8 .4 .8 .4 .8 .3 .8 .4 .5 .3 .9 .8 .5 .8 .3 .8 .2 .8 .1 .8 0 .8 0 .8-.1 .8-.2 .8-.4 .8-.6 .8-.4 .5-.8 .7-.6 .4-1 .6-.8 .4-.8 .2-.8 0-.8-.1-.7-.3-.9-.5-.8-.7-.4-.4-.4-.5-.8-.7-.7-.4-.9-.4-.8-.1-.8-.1-.8-.1-.8 0-.8 0-.8 .1-.8 0-.8-.1-.8 0-.8-.7-.8-.1-.8-.7-.8-.7-.8-.1-.8-.7-.8-.1-.8-.8-.8-.7-.8-.1-.8-.8-.8 0-.8-.8-.8-.8-.8-.2-.4-.8-.3-.8-.3-.8-.2-.8-.4-.7-.8-.7-.8-.5-.8-.4-.8-.4-.7-.5-.9-.6-.8-.8-.7-1-.4-.8-.2-.8 0-.8 0-.8 .2-.8 .3-.7 .5-.9 .3-.5 .7-1.1 .5-.8 .4-.6 .8-.7zM50.5 64.8l-.9 .5-.4 .3-1 .8-.7 .8-.3 .6-.3 1 0 .8 .3 .8 .4 .8 .4 .5 .8 .8 .4 .3 .4 .3 .8 .5 .8 .4 .8 .4 .8 .4 .4 .4 .4 .7 .3 .9 .1 .8 .3 .8 .4 .8 .5 .8 .8 .8 .8 .6 .8 .6 .6 .4 1 .6 .8 .5 .8 .4 .8 .5 .8 .4 .8 .4 .8 .4 .8 .3 .8 .3 .8 .1 .8 .1 .8 0 .7 0 .9 0 .8-.1 .8 0 .8-.1 .8 0 .8 .1 .8 .2 .8 .5 .8 .8 .8 .9 .8 .7 .6 .2 1 .1 .8-.1 .8-.2 .8-.3 .6-.3 1-.6 .8-.8 .5-1 .1-.8 .1-.8-.1-.8-.2-.8-.3-.8-.6-.8-.3-.4-.6-.4-1-.5-.7-.3-.9-.5-.6-.3-1-.8-.8-.8-.7-.8-.9-.8-.8-.6-.8-.5-.8-.4-.8-.4-.7-.5-.7-.8-.5-.8-.3-.8-.2-.8-.1-.8-.3-.8-.4-.7-.8-.6-.8-.3-.8-.1-.7 .1-.9 .1-.8 .1-.8 0-.8-.2-.8-.3-.8-.4-.8-.3-.8-.2-.8-.1-.8 0-.8 0-.8 0-.8-.1-.7-.2-.9-.5-.6-.3-1-.5-.8 0-.8 .2-.7 .3zM66.4 73.5l.8-.5 .8 0 .8 .6 .5 .8 .3 .8 .2 .8 0 .8-.1 .8-.3 .8-.6 .8-.7 .8-.9 .6-.8 .1-.8-.1-.8-.2-.6-.4-.9-.8-.4-.8 .2-.8 .4-.8 .5-.6 .8-1 .6-.8 .9-.8zM66.5 73.6l-.9 .8-.7 .8-.7 .8-.6 .8-.4 .8-.1 .8 .3 .8 .6 .5 .4 .3 1.2 .5 .8 .1 .8-.2 .6-.4 .8-.8 .6-.8 .3-.8 .1-.8-.1-.8-.1-.8-.3-.8-.3-.5-.8-.7-.8 0-.7 .4zM178.4 104l.8-.1 .8 0 .8 0 .8 0 .8 .1 .8 .1 .8 .1 .8 .1 .8 .1 .8 .2 .8 .2 .8 .2 .8 .2 .8 .4 .8 .5 .8 .9 .7 1 .3 .8 .1 .8 .1 .8 0 .8 0 .8 0 .8-.1 .8 0 .8 0 .8-.1 .8-.1 .8-.1 .8-.1 .8-.1 .8-.1 .8-.2 .8-.1 .8-.1 .8-.1 .8-.2 .8-.5 .8-.8 .8-.9 .5-.8 .6-.6 .5-.5 .8-.2 .8-.1 .8 .1 .8 .1 .8 .1 .8 .1 .8 0 .8 0 .8 0 .8 .1 .8 0 .8 0 .8-.1 .8-.1 .8-.1 .8-.3 .8-.8 .8-.9 .4-.8 .2-.8 .3-.8 .3-.8 .3-.8 .2-.8 .1-.7-.2-.9-.6-.8-.6-.4-.4-.4-.3-.7-.5-.9-.4-.8-.4-.8-.2-.8-.4-.8-.3-.8-.4-.7-.3-.9-.3-.8-.2-.7-.3-.9-.5-.8-.7-.5-.4-1.1-.8-.8-.3-.8-.2-.8-.2-.8-.3-.8-.4-.8-.5-.7-.5-.9-.7-.8-.6-.8-.7-.5-.4-.7-.8-.4-.6-.4-1-.2-.8 0-.8 0-.8 .2-.8 .2-.8 .2-.5 .6-1.1 .6-.8 .4-.4 .3-.4 .5-.5 .8-1.1 .5-.8 .3-.5 .7-1.1 .5-.8 .4-.4 .4-.4 1.1-.8 .9-.5 .5-.3 1.1-.5 .8-.3 .8-.3 .8-.3 .8-.2 .8-.3 .8-.4 .8-.7 .7-1 .4-.8 .3-.8 .5-.8 .5-.7 .8-.7 .8-.5 .8-.4 .8-.3 .8-.3 .8-.2 .6-.1zM178.9 106.4l-1.3 .5-.6 .3-1 .5-.8 .6-.5 .5-.7 .8-.4 .5-.7 1.1-.7 .8-.8 .8-1 .8-.8 .3-.8 .3-.8 .3-.8 .3-.8 .3-.8 .4-.8 .5-.7 .8-.6 .8-.3 .4-.8 1.1-.7 .9-.5 .8-.4 .7-.4 .9-.4 .7-.4 .9-.2 .8-.1 .8 .2 .8 .4 .8 .5 .8 .4 .5 .8 1.1 .6 .8 .6 .8 .4 .4 .4 .4 .4 .4 .5 .4 1.1 .7 .8 .6 .8 .7 .5 .4 1.1 .8 .8 .4 .8 .4 .8 .3 .8 .4 .8 .3 .8 .3 .8 .3 .8 .3 .8 .3 .8 .4 .8 .5 .8 .4 .8 .5 .8 .2 .8 0 .6-.2 1-.5 .6-.3 1-.8 .6-.8 .2-.6 .2-1 0-.8 0-.8 .1-.8 .1-.8 .1-.8 .1-.8 0-.8 0-.8 .1-.8 .1-.8 .2-.8 .4-.8 .7-.8 1-.8 .9-.6 .8-.8 .4-1 .2-.8 .1-.8 .2-.8 .1-.8 .2-.8 .1-.8 .1-.8 0-.8 0-.8-.1-.8-.1-.8-.2-.8-.2-.7-.2-.9-.2-.8-.2-.8-.4-.8-.5-.8-.8-.8-.9-.6-.8-.4-.8-.4-.5-.2-1.1-.2-.8-.1-.8 0-.8 0-.8 0-.8 0-.8 .2z" fill="#50ff10" stroke="#7a3a00" stroke-opacity=".8" stroke-width=".6"/>
<path d="M51.2 64.5l.8-.2 .8 0 .8 .4 .8 .4 .8 .5 .8 .2 .8 .1 .8 0 .8 0 .8 0 .8 .1 .8 .2 .8 .3 .8 .4 .7 .3 .9 .2 .8 0 .8-.1 .8-.1 .8-.1 .8 .1 .8 .3 .7 .5 .5 .8 .3 .8 .1 .7 .2 .9 .3 .8 .3 .6 .8 .9 .8 .6 .7 .3 .9 .5 .6 .3 1 .8 .8 .7 .8 .9 .8 .8 .8 .7 .8 .4 .8 .4 .8 .4 .8 .4 .8 .5 .3 .4 .5 .7 .4 .9 .2 .8 .1 .8-.1 .8-.1 .8-.4 .8-.7 .8-1 .7-.8 .4-.8 .3-.8 .2-.8 .1-.8 0-.8-.3-.7-.6-.7-.8-.8-.8-1-.7-.8-.2-.8-.1-.8 0-.8 .1-.8 0-.8 .1-.8 0-.8 0-.8 0-.8-.1-.8-.1-.8-.3-.7-.3-.9-.4-.8-.4-.8-.4-.7-.4-.9-.5-.8-.5-.8-.6-.8-.4-.6-.4-1-.8-.8-.8-.5-.8-.3-.5-.4-1.1-.1-.8-.3-.8-.4-.8-.4-.4-.7-.4-.9-.4-.8-.4-.8-.5-.4-.3-.4-.3-.5-.5-.7-.8-.4-.8-.3-.8 0-.8 .2-.8 .4-.8 .5-.6 .8-.7 .8-.6 .8-.5 .8-.3zM52.5 67.2l-1.3 .6-.8 .8-.5 1 .1 .8 .4 .8 .8 .8 .8 .4 .8 .3 .8 .3 .8 .3 .8 .8 .3 1.1 .1 .8 .2 .8 .4 .8 .5 .8 .5 .8 .4 .5 .8 1 .8 .7 .8 .5 .8 .5 .8 .5 .6 .3 1 .6 .5 .2 1.1 .5 .8 .3 .8 .3 .8 .2 .8 .1 .8 0 .8-.1 .8-.1 .8-.2 .6-.2 1-.4 .8-.3 .7-.1 .9 .1 .8 .5 .8 .8 .8 1 .8 .8 .8 .2 .8 0 .8-.1 .8-.4 .8-.5 .6-.8 .1-.8 0-.8-.4-.8-.3-.5-.4-.3-.4-.3-.8-.4-.8-.3-.8-.4-.8-.5-.7-.5-.7-.8-.5-.8-.4-.8-.7-.8-1-.8-.8-.5-.6-.3-1-.6-.8-.7-.7-1.1-.3-.8-.2-.8-.1-.8-.3-.8-.4-.8-.4-.4-.8-.3-.8-.1-.8 .1-.8 .2-.8 .2-.8 .1-.8 0-.8-.2-.8-.4-.8-.3-.8-.3-.8-.1-.8 .1-.8 .1-.8 .1-.8 0-.8-.1-.8-.2-.8-.2-.8 0zM68 72.7l.8 .4 .5 .5 .3 .8 .4 .8 .2 .8 0 .8-.1 .8-.3 .8-.5 .8-.5 .5-.8 .8-.6 .3-1 .3-.8-.2-.8-.3-.8-.4-.8-.7-.5-1.1 .1-.8 .4-.5 .8-1.1 .6-.8 .7-.8 .3-.4 .5-.4 1.1-.8 .8-.1zM66.3 73.6l-.7 .6-.8 1-.7 .8-.6 .8-.3 .6-.3 1 .3 .6 .8 .9 .8 .5 .8 .2 .8 .1 .8-.1 .8-.5 .8-.9 .6-.8 .2-.6 .2-1 0-.8-.2-.8-.3-.8-.5-.8-.8-.6-.8 0-.8 .5zM179.2 106.3l.8-.2 .8 0 .8 0 .8 0 .8 0 .8 .1 .8 .1 .8 .3 .8 .4 .5 .2 1.1 .7 .8 .8 .6 .9 .4 .8 .2 .8 .2 .8 .2 .8 .2 .8 .2 .8 .1 .8 .1 .8 0 .8 0 .8-.1 .8-.1 .8-.2 .8-.1 .8-.2 .8-.1 .8-.2 .8-.3 .8-.7 .8-1 .7-.8 .6-.8 .9-.6 1-.2 .8-.1 .8-.1 .8 0 .8 0 .8-.1 .8-.1 .8-.1 .8-.1 .8 0 .8 0 .8-.2 .8-.2 .8-.6 .8-.8 .6-.8 .5-.8 .4-.8 .3-.8 0-.7-.2-.9-.5-.5-.3-1.1-.6-.8-.4-.8-.3-.8-.3-.8-.3-.8-.3-.8-.3-.8-.4-.7-.3-.9-.4-.7-.4-.9-.6-.8-.6-.4-.4-1.1-.8-.9-.6-.8-.6-.4-.4-.4-.4-.4-.4-.4-.6-.8-1-.6-.8-.6-.8-.4-.6-.5-1-.2-.8 .1-.8 .2-.8 .4-.8 .4-.8 .4-.8 .4-.8 .4-.6 .7-1 .6-.8 .6-.8 .5-.7 .8-.9 .8-.5 .5-.3 1.1-.4 .8-.3 .8-.3 .8-.3 .7-.3 .9-.6 .8-.7 .8-1 .6-.9 .6-.8 .4-.6 .8-.7 .8-.6 .8-.4 .8-.4 .8-.3 .8-.3zM177.1 111.2l-1.1 .2-.8 .4-.8 .6-.4 .4-.4 .3-.5 .5-.7 .8-.4 .4-.4 .4-.4 .4-.5 .4-1.1 .8-.8 .6-.8 .8-.8 1-.6 .8-.7 .8-.3 .4-.7 1.2-.2 .8-.2 .8 0 .8 0 .8 0 .8 .1 .8 .1 .8 .2 .8 .3 .8 .3 .8 .6 .8 .8 .8 1 .8 .9 .7 .8 .7 .8 .6 .5 .4 1.1 .6 .8 .4 .8 .3 .8 .2 .8 .3 .8 .2 .8 .2 .7 .2 .9 .2 .8 0 .8-.3 .8-.5 .8-1 .5-.8 .3-.8 .3-.8 .2-.8 .3-.8 .2-.8 .2-.8 .3-.8 .3-.8 .3-.8 .3-.5 .7-1.1 .7-.8 .9-.8 .9-.8 .6-.8 .2-.6 .3-1 .1-.8 .2-.8 .1-.8 .1-.8 0-.8-.1-.8-.2-.8-.5-.8-.8-.7-.8-.7-.8-.6-.4-.4-.4-.4-.5-.4-1.1-.8-.8-.2-.8-.1-.8 0-.8 .1-.8 0-.8 .1-.8 0-.8 0z" fill="#b0ff10" stroke="#7a3a00" stroke-opacity=".8" stroke-width=".6"/>
<path d="M52.8 67.1l.8 0 .8 .2 .8 .2 .8 .1 .8 0 .8-.1 .8-.1 .8-.1 .8 .1 .8 .3 .7 .3 .9 .4 .8 .2 .8 0 .8-.1 .8-.2 .8-.2 .8-.1 .8 .1 .8 .3 .4 .4 .4 .7 .3 .9 .1 .8 .2 .8 .3 .8 .5 .8 .7 .8 1.1 .7 .8 .4 .8 .5 .8 .6 .8 .9 .5 .9 .3 .5 .8 1 .8 .6 .5 .3 1.1 .6 .6 .2 1 .5 .4 .3 .4 .3 .3 .5 .4 .8 0 .8-.1 .8-.6 .8-.8 .5-.6 .3-1 .2-.8 0-.7-.2-.9-.8-.6-.8-.7-.8-1.1-.7-.8-.1-.8 .1-.8 .3-.8 .3-.8 .3-.8 .2-.8 .1-.8 .1-.8 0-.8-.1-.8-.2-.8-.3-.8-.3-.8-.4-.8-.3-.8-.5-.8-.4-.8-.5-.8-.5-.5-.3-1-.8-.7-.8-.6-.8-.4-.6-.6-1-.4-.8-.2-.8-.1-.8-.2-.8-.5-.8-1.2-.6-.6-.2-1-.4-.8-.4-.8-.8-.4-.8-.1-.8 .3-.8 .7-.8 1.1-.7 .8-.2zM53.5 68.8l-.7 .4-.3 .4 0 .8 1 .8 .9 .3 .8 .4 .8 .5 .4 .4 .3 .8 .1 .8 0 .8 .1 .8 .2 .8 .4 .8 .5 .8 .4 .7 .6 .9 .8 .8 1 .7 .8 .5 .6 .4 1 .6 .5 .2 1.1 .6 .5 .2 1.1 .4 .8 .3 .8 .1 .8 0 .8-.1 .8-.2 .8-.3 .8-.4 .8-.5 .8-.5 .6-.4 1-.7 .6-.9 0-.8-.1-.8-.2-.8-.3-.5-.8-1-.8-.5-.6-.4-1-.5-.5-.3-1-.8-.1 .8 .2 .8 0 .8-.2 .8-.2 .8-.6 .8-.7 .8-.9 .8-.8 .4-.8 .1-.8-.1-.7-.4-.9-.4-.5-.4-.8-.8-.2-.8 .2-.8 .5-.8 .6-.8 .6-.8 .4-.4 .3-.4 .5-.5 .8-.8 .6-.3 1-.3 .8 .3 .8 .7 .3-.7-.1-.8-.1-.8-.2-.8-.3-.8-.4-.6-.8-.4-.8-.1-.8 .1-.6 .2-1 .2-.8 .2-.8 .1-.8-.1-.8-.2-.8-.2-.8-.1-.8-.1-.8 .1-.6 .1-1 .1-.8 0-.7-.1-.9 0-.8 0zM67.6 72.8l-1.2 .5-.8 .7-.3 .4-.5 .5-.8 1.1-.7 .8-.5 .8-.1 .8 .3 .8 .8 .8 1 .6 .6 .2 1 .3 .8-.2 .8-.4 .6-.5 .7-.8 .3-.5 .5-1.1 .1-.8 0-.8-.2-.8-.4-.8-.3-.8-.5-.5-.6-.3zM77.3 82.4l.1 .8 .5 .8 .5 .8 .8 .7 .8 .3 .8-.2 .8-.7 0-.9-.8-.8-.8-.3-.8-.3-.6-.2-1-.1zM177.6 111.1l.8 0 .8 0 .8-.1 .8 0 .8-.1 .8 0 .8 .1 .7 .2 .9 .5 .8 .7 .4 .4 .4 .4 .5 .4 1 .8 .9 .8 .5 .8 .2 .8 .1 .8 0 .8-.1 .8-.1 .8-.2 .8-.1 .8-.2 .8-.3 .8-.6 .8-.8 .7-.8 .7-.8 .8-.6 1-.5 .8-.3 .8-.3 .8-.3 .8-.2 .8-.2 .7-.3 .9-.2 .8-.3 .8-.3 .8-.5 .8-.6 .8-1 .7-.8 .3-.8 0-.8-.2-.8-.2-.8-.2-.8-.2-.8-.3-.8-.2-.8-.3-.8-.4-.8-.4-.8-.6-.5-.4-1-.8-.9-.7-.8-.6-.8-.8-.8-1-.4-.9-.3-.8-.2-.8-.1-.8-.1-.8 0-.8 0-.8 0-.8 .2-.8 .2-.8 .4-.8 .6-.8 .5-.6 .8-1 .7-.8 .7-.8 1-.8 .8-.6 .8-.6 .4-.4 .4-.4 .4-.4 .4-.4 .8-.9 .4-.3 .4-.4 .6-.4 1-.6 .8-.2 .8-.1zM175.7 112.8l-.5 .2-.8 .6-.8 .7-.7 .9-.6 .8-.6 .8-.5 .6-.8 .9-.8 .8-.8 .8-.8 .8-.8 .9-.5 .8-.3 .7-.2 .9-.1 .8-.1 .8 0 .8 0 .8 .1 .8 .1 .8 .2 .6 .5 1 .3 .4 .4 .4 .4 .4 .5 .4 1 .8 .9 .8 .8 .7 .8 .6 .5 .3 1.1 .5 .8 .2 .8 .2 .8 .2 .8 .1 .8 .1 .8 0 .8-.3 .8-.6 .4-.4 .4-.7 .5-.9 .3-.8 .3-.8 .2-.8 .3-.7 .4-.9 .4-.7 .5-.9 .5-.8 .6-.8 .6-.8 .7-.8 .8-.8 .7-.8 .4-.8 .2-.8 .2-.8 .1-.8 .1-.8 .1-.8-.1-.8-.3-.8-.3-.5-.8-.7-.6-.4-1-.7-.8-.6-.5-.3-1.1-.7-.8-.2-.8-.2-.8-.1-.8 0-.8-.1-.8 0-.8 0-.8 .1-.8 .3z" fill="#ffff00" stroke="#7a3a00" stroke-opacity=".8" stroke-width=".6"/>
<path d="M53.6 68.8l.8 0 .8 0 .8 .1 .8 0 .8-.1 .8-.1 .8-.1 .8 .1 .7 .1 .9 .2 .8 .2 .8 .1 .8-.1 .8-.2 .8-.2 .8-.2 .8-.1 .8 .1 .8 .4 .4 .6 .3 .8 .2 .8 .1 .8 .1 .8-.3 .7-.8-.7-.8-.3-.8 .2-.8 .4-.5 .5-.8 .8-.3 .4-.4 .4-.4 .6-.8 1-.5 .8-.2 .8 .2 .8 .5 .6 .8 .6 .8 .4 .8 .4 .8 .1 .8-.1 .7-.4 .9-.7 .8-.9 .6-.8 .2-.7 .2-.9 0-.8-.2-.8-.1-.8 .9 .6 .8 .5 .8 .4 .8 .5 .7 .4 .7 .8 .5 .8 .2 .8 .1 .8 0 .8-.3 .8-1.1 .6-.8 .6-.6 .4-1 .6-.8 .4-.8 .3-.8 .2-.8 .1-.8 0-.8-.1-.8-.3-.8-.3-.8-.3-.8-.4-.8-.4-.8-.5-.8-.5-.7-.4-.9-.6-.8-.8-.8-1-.4-.8-.4-.7-.5-.9-.2-.8-.1-.8 0-.8-.1-.8-.3-.8-.4-.4-.6-.4-1-.5-.8-.3-.8-.5-.3-1.1 .3-.4 .7-.4zM64.6 69.6l-1.4 .3-.8 0-.8 .1-.8 .1-.8 .2-.8 .4-.6 .5-.2 .8-.1 .8-.1 .8-.2 .8-.1 .8 0 .8 .2 .8 .3 .6 .5 1 .3 .6 .7 1 .9 .7 .8 .6 .5 .3 1.1 .6 .8 .4 .8 .5 .8 .4 .8 .3 .6 .2 1 .2 .8-.1 .8-.1 .8-.3 .8-.4 .8-.5 .5-.4 .8-.8 .3-.4 .7-1.2 .1-.8-.2-.8-.6-.8-.8-.6-.6-.2-1 .5-.4 1.1-.4 .5-.8 .9-.8 .8-.8 .6-.8 .3-.8 0-.8-.1-.8-.2-.5-.4-1.1-.7-.7-.9-.2-.8 .2-.8 .5-.8 .6-.8 .4-.4 .3-.4 .5-.6 .8-.9 .8-.7 .8-.6 .8-.2 .8 .1 .5-1.1-.2-.8-.3-.7-.8-.6-.8-.2-.8 .2-.8 .2-.8 .2zM77.6 82.3l.8 0 .8 .3 .8 .3 .8 .3 .8 .8 0 .8-.7 .8-.9 .2-.6-.2-1-.8-.5-.8-.3-.5-.3-1.1zM176 112.7l.8-.3 .8-.1 .8 0 .8 0 .8 .1 .8 0 .8 .1 .8 .2 .8 .2 .8 .5 .8 .5 .6 .5 1 .7 .8 .5 .5 .4 .6 .8 .3 .8 .1 .8-.1 .8-.1 .8-.1 .8-.2 .8-.2 .8-.4 .8-.4 .5-.8 .8-.8 .8-.8 1.1-.6 .8-.5 .8-.5 .8-.4 .8-.4 .8-.3 .8-.2 .8-.3 .7-.3 .9-.4 .8-.5 .8-.4 .4-.5 .4-1.1 .5-.8 0-.8-.1-.8-.1-.8-.2-.8-.2-.8-.2-.8-.4-.8-.4-.7-.5-.9-.8-.8-.7-.8-.7-.8-.6-.4-.4-.4-.4-.3-.4-.4-.8-.3-.8-.1-.8-.1-.8 0-.8 0-.8 .1-.8 .1-.8 .2-.8 .3-.8 .5-.7 .7-.9 .8-.8 .8-.8 .8-.8 .7-.8 .7-.8 .3-.4 .8-1.1 .7-.9 .9-.8 .8-.6 .5-.2zM175.9 113.6l-.7 .3-.6 .5-.8 .8-.6 .8-.4 .7-.5 .9-.3 .6-.7 1-.7 .8-.9 .8-.9 .8-.7 .8-.4 .8-.3 .8-.2 .8 0 .8-.1 .8 0 .8 .1 .8 .1 .8 .3 .8 .4 .6 .8 .9 .8 .7 .8 .7 .8 .8 .8 .7 .6 .4 1 .5 .8 .2 .8 .2 .8 .1 .8 .1 .8 0 .8-.1 .8-.5 .4-.5 .4-.6 .5-1 .3-.8 .3-.8 .3-.8 .2-.5 .7-1.1 .6-.8 .6-.8 .5-.6 .7-1 .6-.8 .7-.8 .4-.5 .7-1.1 .3-.8 .1-.8 .1-.8 .1-.8-.1-.8-.3-.8-.6-.8-.9-.8-1-.7-.8-.6-.4-.3-1.2-.6-.6-.2-1-.2-.8-.1-.8-.1-.8 0-.8 0-.8 .1-.8 .3z" fill="#f8b010" stroke="#7a3a00" stroke-opacity=".8" stroke-width=".6"/>
<path d="M64.8 69.5l.8-.2 .8-.2 .8-.2 .8 .2 .7 .5 .4 .8 .2 .8-.1 .8-1.2 .2-.8 .2-.5 .4-1 .8-.7 .8-.7 .8-.3 .4-.4 .4-.4 .6-.7 1-.1 .7 .1 .9 .6 .8 .9 .7 .8 .5 .8 .2 .8 .1 .8 0 .8-.3 .5-.4 1-.8 .7-.8 .6-.8 .3-.8 .7-.8 1 .2 .8 .6 .6 .8 .2 .8-.1 .8-.4 .8-.6 .8-.5 .5-.8 .7-.6 .4-1 .5-.8 .3-.8 .1-.8 .1-.8-.1-.8-.3-.8-.3-.6-.3-1-.6-.8-.4-.8-.4-.8-.5-.7-.5-.9-.7-.7-.9-.4-.8-.4-.8-.4-.8-.2-.8 0-.8 .1-.8 .2-.8 .1-.8 .1-.7 .2-.9 .6-.5 .5-.3 1.1-.3 .8-.1 .8-.1 .8 0 .8-.2 .8-.2zM66 69.6l-1.2 .4-.8 .2-.7 .2-.9 .2-.8 .3-.5 .3-.9 .8-.4 .8-.4 .8-.2 .6-.3 1-.1 .8 .2 .8 .2 .7 .4 .9 .4 .6 .8 .8 .8 .6 .7 .4 .9 .2-.7-1-.5-.8 0-.8 .4-.8 .4-.8 .4-.4 .8-1 .8-.9 .8-.9 .8-.8 .8-.6 .7-.2 .9-.7-.1-.9-.6-.8-.9-.2-.8 .1zM71.5 79.2l-1 .8-.9 .7-.8 .7-.8 .5-.8 .3-.8 0-.8 0 .8 .7 .5 .3 1.1 .1 .8 0 .8-.3 .8-.4 .8-.5 .5-.5 .6-.8 .3-.8-.2-.8-.9 0zM63.9 81.6l.9 .1-.8-.2zM176 113.6l.8-.3 .8-.1 .8 0 .8 0 .8 .1 .8 .1 .8 .1 .8 .3 .8 .4 .8 .5 .7 .5 .9 .7 .8 .6 .8 .9 .4 1 .1 .8-.1 .8-.1 .8-.1 .8-.3 .8-.5 .8-.6 .8-.4 .4-.8 1.1-.7 .9-.6 .8-.3 .5-.8 1-.6 .9-.4 .8-.3 .8-.3 .7-.3 .9-.4 .8-.5 .8-.4 .5-.5 .3-1.1 .3-.8 0-.8-.1-.8-.1-.8-.2-.8-.2-.8-.4-.8-.5-.5-.4-.8-.8-.8-.8-1-.8-.8-.8-.5-.8-.3-.8-.1-.7-.1-.9 0-.8 .1-.8 0-.8 .2-.8 .3-.8 .3-.6 .8-1 .8-.7 .8-.8 .8-.8 .6-.9 .5-.8 .4-.8 .5-.8 .4-.6 .8-.9 .8-.6 .7-.3zM175.8 114.4l-.6 .3-.6 .5-.6 .8-.4 .6-.5 1-.3 .7-.5 .9-.3 .6-.8 1-.8 .8-.8 .7-.7 .9-.4 .8-.2 .8-.1 .8-.1 .8 0 .8 .1 .8 .2 .8 .4 .8 .6 .8 .8 .8 .8 .8 .7 .8 .9 .8 1 .6 .7 .2 .9 .2 .8 .1 .8 0 .8-.1 .6-.2 .9-.8 .5-.8 .3-.8 .3-.8 .3-.8 .3-.6 .6-1 .7-.8 .7-.8 .4-.4 .8-1.1 .7-.9 .5-.8 .4-.6 .5-1 .3-.8 .1-.8 .1-.8-.1-.8-.2-.8-.5-.8-.7-.8-.9-.8-1-.8-.8-.4-.8-.4-.8-.2-.8-.2-.8-.1-.8 0-.8 0-.8 .1-.8 .3z" fill="#f06008" stroke="#7a3a00" stroke-opacity=".8" stroke-width=".6"/>
<path d="M66.4 69.5l.8-.1 .8 .1 .7 .9 .1 .6-.8 .9-.8 .3-.7 .6-.9 .8-.7 .8-.7 .8-.7 .8-.7 .8-.4 .8-.4 .8 0 .8 .4 .7 .8 .9-.8 0-.8-.4-.5-.4-.9-.8-.6-.8-.4-.8-.2-.8-.2-.8 .1-.8 .2-.8 .3-.8 .4-.8 .4-.8 .6-.6 .8-.5 .8-.3 .8-.2 .8-.2 .8-.2 .8-.3 .8-.2zM72 78.9l.6 1.1-.3 .8-.3 .5-.8 .8-.4 .3-1.2 .6-.8 .3-.8 0-.8 0-.8-.4-.8-.4 .8-.3 .8 0 .8-.3 .8-.5 .7-.6 .9-.8 .8-.6 .8-.5zM64 81.5l.8 .1-.8 .1zM176 114.3l.8-.3 .8-.1 .8 0 .8 0 .8 .1 .8 .2 .8 .2 .8 .4 .7 .4 .9 .7 .8 .7 .8 .8 .7 1 .2 .8 .1 .8-.1 .8-.1 .8-.3 .8-.4 .8-.5 .8-.4 .6-.7 1-.6 .8-.7 .8-.4 .5-.8 .9-.7 1-.4 .8-.3 .8-.2 .5-.4 1.1-.4 .6-.8 .9-.8 .3-.8 .1-.8 0-.8-.1-.8-.2-.8-.2-.8-.5-.8-.6-.8-.9-.8-.8-.8-.8-.8-1-.4-.8-.2-.8-.1-.8 0-.8 .1-.8 .1-.8 .2-.8 .3-.6 .7-1 .9-.8 .8-.8 .7-.8 .4-.8 .4-.8 .4-.8 .4-.8 .5-.8 .4-.6 .8-.7 .6-.3z" fill="#ff0000" stroke="#7a3a00" stroke-opacity=".8" stroke-width=".6"/>
<rect width="224.4" height="167.6" fill="url(#dots)"/>
<path d="M65.7 66.7l.9-.2M65.7 71.6l.7-.5M70.6 71.6l.8 .4M60.8 76.5l-.5-1M70.6 76.5l-.5 1M65.7 81.4l-1.2-.3M144.1 86.3l-.5 .8M153.9 86.3l-.3 .9M163.7 86.3l-.6 .6M173.5 86.3l-1 .4M178.4 86.3l-1 0M183.3 86.3l-1.3-.1M139.2 91.2l-.3 1.2M149 91.2l-.3 1.2M153.9 91.2l-.7 1M158.8 91.2l-.9 .9M163.7 91.2l-1.3 1.2M168.6 91.2l-1.5 .7M173.5 91.2l-1.6 .3M178.4 91.2l-1.4-.1M183.3 91.2l-1.5-.3M188.2 91.2l-1.2-.4M193.1 91.2l-1-.3M198 91.2l-.8-.6M134.3 96.1l.3 .9M139.2 96.1l0 1.2M144.1 96.1l-.3 1.5M149 96.1l-.6 1.7M153.9 96.1l-.7 1.8M158.8 96.1l-1.1 1.8M163.7 96.1l-1.4 1.5M168.6 96.1l-1.7 1.2M173.5 96.1l-1.8 .5M178.4 96.1l-2-.1M183.3 96.1l-1.8-.5M188.2 96.1l-1.5-.6M193.1 96.1l-1.1-.9M198 96.1l-.9-.6M202.9 96.1l-.7-.7M134.3 101l-.2 1.4M139.2 101l0 2M144.1 101l-.3 2.2M149 101l-.8 2.5M153.9 101l-.9 3M158.8 101l-1.5 2.5M163.7 101l-2 2.4M168.6 101l-2.4 1.6M173.5 101l-2.7 .9M178.4 101l-2.7 0M183.3 101l-2.8-.6M188.2 101l-2.3-1.4M193.1 101l-1.9-1.5M198 101l-1.1-1.3M207.8 101l-.1-1M129.4 105.9l.1 1.1M134.3 105.9l.1 1.7M139.2 105.9l0 2.3M144.1 105.9l-.3 3.1M149 105.9l-.4 3.2M153.9 105.9l-1.3 3.6M158.8 105.9l-1.7 3.2M163.7 105.9l-2.2 3.1M168.6 105.9l-2.9 2.5M173.5 105.9l-3.8 1.2M178.4 105.9l-3.7 .2M183.3 105.9l-3.2-1M188.2 105.9l-2.4-1.6M193.1 105.9l-1.9-2.1M198 105.9l-1.3-1.6M202.9 105.9l-.8-1.5M207.8 105.9l-.3-1M129.4 110.8l-.1 1.3M134.3 110.8l.3 1.9M139.2 110.8l.3 2.5M144.1 110.8l-.3 3M149 110.8l-.4 4M153.9 110.8l-.5 4.3M158.8 110.8l-1.5 4.7M163.7 110.8l-2.8 4.1M168.6 110.8l-3.7 3.6M173.5 110.8l-4.4 1.8M178.4 110.8l-4.6-.2M183.3 110.8l-3.8-1.9M188.2 110.8l-2.8-2.7M193.1 110.8l-1.9-2.9M198 110.8l-.8-2.5M202.9 110.8l-.5-1.7M207.8 110.8l-.2-1.4M129.4 115.7l.4 1M134.3 115.7l.3 1.5M139.2 115.7l.4 2.4M144.1 115.7l.5 3.3M149 115.7l.1 4M153.9 115.7l-.2 4.5M158.8 115.7l-.9 5.3M163.7 115.7l-2.2 5.2M168.6 115.7l-3.3 4.8M173.5 115.7l-4.3 2.8M178.4 115.7l-4.7-.5M183.3 115.7l-4.1-3M188.2 115.7l-2.4-4.1M193.1 115.7l-1.2-4.1M198 115.7l-.4-3.3M202.9 115.7l.1-2.2M207.8 115.7l.2-1.3M134.3 120.6l.7 1.1M139.2 120.6l.8 1.8M144.1 120.6l.8 2.9M149 120.6l.5 3.6M153.9 120.6l.4 4.7M158.8 120.6l-.1 5.7M163.7 120.6l-.6 6M168.6 120.6l-1.7 5.8M173.5 120.6l-2.2 3.1M178.4 120.6l-2.3-.8M183.3 120.6l-2.1-4.3M188.2 120.6l-1.2-5.3M193.1 120.6l-.3-4.9M198 120.6l.7-3.7M202.9 120.6l.8-2.6M207.8 120.6l.8-1.3M139.2 125.5l.5 .9M144.1 125.5l1 1.6M149 125.5l1.4 2.9M153.9 125.5l1.3 4.4M158.8 125.5l1.3 5.2M163.7 125.5l1.8 6M168.6 125.5l1.4 6M173.5 125.5l1.7 3.2M178.4 125.5l1.5-.8M183.3 125.5l1.2-4.3M188.2 125.5l1.1-6M193.1 125.5l1.2-5.7M198 125.5l1.8-4.4M202.9 125.5l1.8-2M207.8 125.5l1.3-.5M149 130.4l1.5 1.6M153.9 130.4l2.2 2.8M158.8 130.4l2.6 4.4M163.7 130.4l3.2 5.4M168.6 130.4l4.1 5.1M173.5 130.4l4.6 2.8M178.4 130.4l4.8-.6M183.3 130.4l4.3-3.9M188.2 130.4l2.8-5.2M193.1 130.4l1.8-5.5M198 130.4l2.1-4.6M202.9 130.4l1.6-1.7M149 135.3l-.8-.6M153.9 135.3l1.5 1M158.8 135.3l2.8 3M163.7 135.3l4 3.8M168.6 135.3l5 3.7M173.5 135.3l6 2.4M178.4 135.3l6.1-.3M183.3 135.3l5.2-2.6M188.2 135.3l3.6-4.1M193.1 135.3l2-4.1M198 135.3l.3-3.7M202.9 135.3l-.6-1.2M163.7 140.2l2.8 2M168.6 140.2l4.4 2.7M173.5 140.2l5.3 1.7M178.4 140.2l5.4 .2M183.3 140.2l4.2-1.4M188.2 140.2l3.3-2.4M193.1 140.2l1.9-2.8M198 140.2l.4-2.2M202.9 140.2l-.3-1.4M168.6 145.1l1.2 .5M173.5 145.1l3.1 1.4M178.4 145.1l3.7 .6M183.3 145.1l3.5-.4M188.2 145.1l2.6-.8M193.1 145.1l1.6-1.3M198 145.1l.7-1.5M173.5 150l-1-.4M178.4 150l1.4 .6M183.3 150l1.9 .4M188.2 150l1.6-.2M193.1 150l1.4-.6M198 150l1-.8" fill="none" stroke="#000" stroke-width=".62" stroke-opacity=".85"/>
<path d="M153 104L152.9 102.6L153.9 102.9zM157.3 103.5L157.6 102.1L158.4 102.6zM161.7 103.4L162.2 102L163 102.7zM166.2 102.6L167 101.5L167.5 102.3zM170.8 101.9L171.8 101L172.1 101.9zM175.7 101L177 100.5L177 101.5zM180.5 100.4L181.8 100.2L181.6 101.1zM185.9 99.6L187.2 99.8L186.7 100.6zM143.8 109L143.4 107.6L144.4 107.7zM148.6 109.1L148.2 107.7L149.3 107.8zM152.6 109.5L152.6 107.8L153.7 108.2zM157.1 109.1L157.3 107.5L158.3 108.1zM161.5 109L161.9 107.4L162.8 108.1zM165.7 108.4L166.5 107L167.2 107.9zM169.7 107.1L171 106.1L171.4 107.2zM174.7 106.1L176.2 105.4L176.2 106.6zM180.1 104.9L181.6 104.8L181.3 105.8zM185.8 104.3L187.1 104.6L186.6 105.4zM191.2 103.8L192.4 104.4L191.7 105zM143.8 113.8L143.4 112.5L144.4 112.6zM148.6 114.8L148.1 113.1L149.3 113.3zM153.4 115.1L152.9 113.3L154.2 113.5zM157.3 115.5L157.2 113.5L158.5 114zM160.9 114.9L161.4 113L162.5 113.8zM164.9 114.4L165.7 112.5L166.7 113.6zM169.1 112.6L170.5 111.3L171 112.6zM173.8 110.6L175.6 110L175.5 111.3zM179.5 108.9L181.2 109.1L180.7 110.2zM185.4 108.1L186.9 108.8L186.1 109.6zM191.2 107.9L192.4 108.8L191.5 109.4zM197.2 108.3L198 109.3L197.1 109.6zM144.6 119L143.8 117.7L144.9 117.6zM149.1 119.7L148.5 118.1L149.7 118.1zM153.7 120.2L153.1 118.4L154.4 118.5zM157.9 121L157.5 118.9L159 119.2zM161.5 120.9L161.6 118.8L163 119.4zM165.3 120.5L165.8 118.3L167.1 119.2zM169.2 118.5L170.4 116.9L171.2 118.1zM173.7 115.2L175.5 114.7L175.4 116zM179.2 112.7L181.1 113.2L180.3 114.4zM185.8 111.6L187.3 112.8L186.1 113.4zM191.9 111.6L192.9 113L191.7 113.4zM197.6 112.4L198.3 113.7L197.2 113.8zM144.9 123.5L144.1 122.4L145 122.1zM149.5 124.2L148.8 122.8L149.9 122.7zM154.3 125.3L153.5 123.6L154.9 123.5zM158.7 126.3L158 124.2L159.5 124.3zM163.1 126.6L162.5 124.4L164.1 124.6zM166.9 126.4L166.8 124.1L168.3 124.5zM171.3 123.7L171.7 122.1L172.7 122.8zM181.2 116.3L182.6 117.6L181.4 118.2zM187 115.3L188.2 117.1L186.7 117.4zM192.8 115.7L193.6 117.5L192.2 117.5zM198.7 116.9L199 118.5L197.9 118.3zM203.7 118L203.8 119.3L202.9 119.1zM150.4 128.4L149.3 127.4L150.3 126.9zM155.2 129.9L154.1 128.4L155.3 128zM160.1 130.7L158.9 129L160.3 128.6zM165.5 131.5L164.1 129.6L165.7 129.1zM170 131.5L168.7 129.6L170.3 129.2zM175.2 128.7L174 127.6L175 127.1zM184.5 121.2L184.7 123L183.4 122.7zM189.3 119.5L189.7 121.7L188.1 121.5zM194.3 119.8L194.6 122L193.1 121.7zM199.8 121.1L199.7 123L198.5 122.5zM204.7 123.5L204.2 124.7L203.5 124.1zM156.1 133.2L154.8 132.4L155.7 131.7zM161.4 134.8L159.8 133.5L161.1 132.8zM166.9 135.8L165 134.3L166.5 133.5zM172.7 135.5L170.6 134.3L172 133.2zM178.1 133.2L176.1 132.8L176.8 131.6zM183.2 129.8L181.5 130.7L181.3 129.4zM187.6 126.5L186.6 128.5L185.6 127.3zM191 125.2L190.7 127.4L189.3 126.7zM194.9 124.9L195 127.1L193.5 126.6zM200.1 125.8L199.9 127.8L198.7 127.2zM161.6 138.3L160 137.6L160.9 136.7zM167.7 139.1L165.7 138.3L166.8 137.2zM173.6 139L171.4 138.4L172.4 137.1zM179.5 137.7L177.1 137.7L177.8 136.1zM184.5 135L182.4 135.9L182.3 134.3zM188.5 132.7L187 134.3L186.3 132.9zM191.8 131.2L191.1 133.1L189.9 132.2zM195.1 131.2L194.9 133L193.7 132.5zM198.3 131.6L198.8 133.1L197.6 133zM166.5 142.2L165 141.8L165.6 140.9zM173 142.9L171 142.5L171.8 141.3zM178.8 141.9L176.6 142L177.1 140.6zM183.8 140.4L181.8 141.1L181.9 139.6zM187.5 138.8L186.1 139.9L185.7 138.7zM191.5 137.8L190.6 139.3L189.9 138.3zM195 137.4L194.7 138.9L193.8 138.3zM176.6 146.5L175.1 146.4L175.5 145.4zM182.1 145.7L180.5 146L180.7 144.9zM186.8 144.7L185.4 145.4L185.3 144.3zM190.8 144.3L189.8 145.1L189.5 144.2z" fill="#000"/>
<polygon points="0,45 204.3,167.6 0,167.6" fill="#000"/>
<path d="M0 0h5M0 11.2h3.6M0 22.3h3.6M0 33.5h3.6M0 44.7h3.6M0 55.9h5M0 67h3.6M0 78.2h3.6M0 89.4h3.6M0 100.6h3.6M0 111.7h5M0 122.9h3.6M0 134.1h3.6M0 145.3h3.6M0 156.4h3.6M0 167.6h5M0 167.6v-5M11.2 167.6v-3.8M22.4 167.6v-3.8M33.7 167.6v-3.8M44.9 167.6v-3.8M56.1 167.6v-5M67.3 167.6v-3.8M78.5 167.6v-3.8M89.8 167.6v-3.8M101 167.6v-3.8M112.2 167.6v-5M123.4 167.6v-3.8M134.6 167.6v-3.8M145.9 167.6v-3.8M157.1 167.6v-3.8M168.3 167.6v-5M179.5 167.6v-3.8M190.7 167.6v-3.8M202 167.6v-3.8M213.2 167.6v-3.8M224.4 167.6v-5" stroke="#000" stroke-width=".8" fill="none"/>
</g>
<rect x="0" y="0" width="224.4" height="167.6" fill="none" stroke="#000" stroke-width="1.7"/>
<text x="-.3" y="181.8" font-size="12" fill="#000" text-anchor="middle">-2</text>
<text x="55.8" y="181.8" font-size="12" fill="#000" text-anchor="middle">-1</text>
<text x="112.2" y="181.8" font-size="12" fill="#000" text-anchor="middle">0</text>
<text x="168.3" y="181.8" font-size="12" fill="#000" text-anchor="middle">1</text>
<text x="224.4" y="181.8" font-size="12" fill="#000" text-anchor="middle">2</text>
<text x="-6.2" y="4.1" font-size="12" fill="#000" text-anchor="end">2</text>
<text x="-6.2" y="60" font-size="12" fill="#000" text-anchor="end">1</text>
<text x="-6.2" y="115.8" font-size="12" fill="#000" text-anchor="end">0</text>
<text x="-6.2" y="171.7" font-size="12" fill="#000" text-anchor="end">-1</text>
<text x="112.2" y="199.4" font-size="13" fill="#111" text-anchor="middle">x/d</text>
<text transform="translate(-15.8,84.1) rotate(-90)" font-size="13" fill="#111" text-anchor="middle">y/d</text>
<text x="6.2" y="15.4" font-size="12.8" fill="#111">(g) τ=4.7</text>
</g>
<text x="145.3" y="498.6" font-size="12.5" fill="#061006" text-anchor="middle">Tertiary</text>
<text x="145.3" y="513.6" font-size="12.5" fill="#061006" text-anchor="middle">vortex-ring</text>
<text x="224.6" y="498.6" font-size="12.5" fill="#061006" text-anchor="middle">Secondary</text>
<text x="224.6" y="513.6" font-size="12.5" fill="#061006" text-anchor="middle">vortex-ring</text>
<polyline points="113.8,512.9 103.9,519.3" fill="none" stroke="#000" stroke-width="1.5"/><polygon points="94.4,525.5 101.6,515.9 106.1,522.8" fill="#000"/>
<polyline points="236.6,517.4 236.6,574.9" fill="none" stroke="#000" stroke-width="1.5"/><polygon points="236.6,586.2 232.5,574.9 240.7,574.9" fill="#000"/>
<clipPath id="ch"><rect x="0" y="0" width="224.4" height="167.6"/></clipPath>
<g transform="translate(295.3,463.3)">
<g clip-path="url(#ch)">
<rect width="224.4" height="167.6" fill="#00ff00"/>
<path d="M64 75.8l.8-.4 .8-.1 .8 .3 .4 .4 .1 .8-.2 .8-.3 .5-.5 .3-.9 0-1-.7-.4-.9 .2-.8z" fill="#0000ff" stroke="#2a4a7a" stroke-opacity=".8" stroke-width=".6"/>
<path d="M65.6 75.2l.8 .2 .5 .6 .2 .8-.2 .8-.5 .8-.8 .3-.8-.2-.8-.6-.6-1.1 .1-.8 .5-.4 .8-.4 .8 0zM63.8 76l-.2 .8 .4 .8 .8 .7 .8 .3 .8-.5 .3-.5 .2-.8-.1-.8-.4-.4-.8-.3-.8 .1-.8 .4z" fill="#0050e0" stroke="#2a4a7a" stroke-opacity=".8" stroke-width=".6"/>
<path d="M64.8 75.1l.8-.1 .7 .2 .8 .8 .1 .7-.2 .9-.4 .8-1 .5-.8-.2-.5-.3-.7-.8-.4-.7 .1-.9 .7-.6 .5-.2zM65.1 75.2l-1.1 .4-.5 .4-.1 .8 .4 .8 .8 .8 1 .3 .7-.3 .6-.8 .2-.8-.2-.8-.5-.6-.6-.2z" fill="#00b090" stroke="#2a4a7a" stroke-opacity=".8" stroke-width=".6"/>
<path d="M64.8 75l.8-.1 .8 .2 .8 .8 .2 .9-.2 .7-.5 .9-.3 .4-.8 .3-.8-.2-.7-.5-.7-.8-.4-.8 .1-.8 .9-.8 .8-.2zM64.5 75.2l-.5 .2-.7 .6-.1 .8 .4 .8 .4 .5 .8 .6 .8 .2 .8-.3 .6-1 .2-.7-.1-.9-.7-.8-.8-.2-.8 .1zM206.4 113.4l.8 0 .5 .2 .9 .8 .4 .8 .4 .8 .3 .8 .2 .8 .3 .8 .3 .8 .3 .8 .2 .8-.1 .8-.5 .8-.8 .4-.8 .2-.8 0-.8-.1-.8-.2-.8-.2-.8-.3-.8-.4-.8-.8-.3-1-.1-.8 0-.8 .2-.8 .1-.8 .1-.7 .4-.9 .4-.6 .8-.6 .8-.4 .8-.2z" fill="#00ffc8" stroke="#2a4a7a" stroke-opacity=".8" stroke-width=".6"/>
<path d="M64 75l.8-.3 .8 0 .8 .2 .5 .3 .6 .8 .1 .8-.2 .8-.4 .8-.6 .7-.8 .3-.8-.2-.8-.5-.8-.9-.5-1 0-.8 .5-.6 .8-.4zM64.1 75.2l-.9 .6-.2 1 .4 .8 .6 .7 .8 .6 .8 .2 .8-.3 .3-.4 .5-.8 .2-.8-.2-.8-.6-.8-1-.3-.8 .1-.7 .2zM207.2 109.5l.8-.2 .8 0 .7 .3 .7 .8 .4 .8 .4 .8 .6 .8 .4 .5 .8 1 .4 .9 .1 .8 0 .8-.1 .8 0 .8 .2 .8 .1 .8 .1 .8 0 .8-.1 .8-.4 .8-.3 .5-.8 .8-.8 .6-.8 .3-.7 .2-.9 .1-.8 0-.8 0-.8-.1-.8-.1-.8-.2-.8-.3-.8-.6-.3-.4-.5-.6-.6-1-.3-.8-.2-.8-.1-.8 0-.8 .1-.8 .1-.8 .1-.8 0-.8 0-.8 .1-.8 .2-.8 .5-.8 .7-.8 .9-.8 .9-.5 .5-.3 1.1-.6 .8-.3zM205.6 113.6l-.8 .4-.6 .4-.6 .8-.4 .8-.1 .8-.1 .8-.2 .8 0 .8 .1 .8 .2 .8 .7 .8 1 .6 .8 .3 .8 .2 .8 .2 .8 .1 .8 0 .8-.2 .8-.4 .5-.8 .1-.8-.2-.8-.3-.8-.3-.8-.3-.8-.2-.8-.3-.8-.4-.8-.4-.8-.6-.6-.8-.4-.8 0-.8 .2zM144 127.7l.8 0 .8 .1 .8 .4 .8 .5 .8 .5 .6 .4 1 .5 .6 .3 1 .6 .8 .7 .8 .9 .5 1-.1 .8-.4 .3-.8 .3-.8 .1-.8-.1-.8 0-.8-.1-.8-.1-.8-.2-.8-.4-.8-.5-.8-.8-.7-.9-.6-.8-.3-.6-.4-1-.1-.8 .5-.7 .8-.4z" fill="#20ffb0" stroke="#2a4a7a" stroke-opacity=".8" stroke-width=".6"/>
<path d="M63.2 75.2l.8-.4 .8-.2 .8 0 .8 .1 .7 .5 .5 .8 .1 .8-.1 .8-.4 .8-.7 .8-.9 .4-.8-.1-.4-.3-.9-.8-.7-.8-.3-.8 0-.8 .7-.8zM63.5 75.2l-.8 .8 0 .8 .4 .8 .6 .8 1 .8 .9 .2 .5-.2 .9-.8 .4-.8 .2-.8-.1-.8-.3-.4-.8-.7-.8-.2-.8 0-.8 .3-.5 .2zM208 107.1l.8 0 .8 .1 .8 .4 .6 .4 .7 .8 .3 .6 .5 1 .3 .5 .8 .9 .8 .8 .8 .9 .3 .9 0 .8-.1 .8-.2 .8-.1 .8-.1 .8 0 .8 .1 .8 0 .8 0 .8-.2 .8-.2 .8-.3 .7-.5 .9-.7 .8-.4 .5-.8 .7-.5 .4-1.1 .6-.6 .2-1 .1-.8 0-.6-.1-1-.2-.8-.2-.8-.2-.7-.2-.9-.4-.5-.4-.6-.8-.4-.8-.4-.8-.3-.8-.2-.5-.4-1.1-.1-.8 0-.8 0-.8 .1-.8 .1-.8 0-.8-.1-.8 0-.8-.1-.8 .1-.8 .2-.8 .2-.6 .7-1 .7-.8 .9-.8 .9-.6 .8-.6 .8-.4 .8-.4 .8-.3 .8-.2zM206.9 109.6l-1.3 .6-.8 .5-.8 .5-.8 .6-.8 .8-.6 1-.2 .7-.1 .9 0 .8 0 .8-.1 .8-.1 .8-.1 .8 0 .8 .1 .8 .2 .8 .3 .8 .5 .8 .6 .8 .3 .4 .5 .4 1.1 .5 .8 .2 .8 .1 .8 .1 .8 0 .8 0 .8-.1 .8-.2 .8-.3 .8-.6 .5-.5 .6-.8 .4-.8 .1-.6 0-1-.1-.8-.1-.8-.2-.8 0-.8 .1-.8 0-.8-.1-.8-.3-.8-.7-.8-.6-.8-.4-.5-.6-1.1-.4-.8-.6-.7-.8-.4-.8 0-.8 .2zM142.4 126.1l.8-.1 .8-.1 .8 0 .8 .2 .8 .3 .8 .4 .7 .4 .9 .5 .5 .3 1.1 .6 .8 .4 .8 .6 .8 .7 .8 .7 .8 .9 .6 .9 .4 .8 .3 .8 .2 .8-.5 .8-1 .4-.8 .1-.8 0-.8 0-.8-.1-.8-.2-.8-.1-.8-.1-.8-.2-.8-.2-.8-.4-.8-.5-.4-.3-.9-.8-.8-.8-.3-.4-.4-.4-.4-.6-.8-1-.5-.8-.3-.6-.4-1 .1-.8 1.1-.8 .8-.3zM143.3 128l-.6 .8 .1 .8 .3 .8 .4 .8 .5 .7 .7 .9 .8 .8 .9 .6 .8 .4 .8 .2 .8 .1 .8 .1 .8 0 .8 .1 .8-.1 .8-.3 .4-.3 .1-.8-.4-.8-.6-.8-.9-.8-1-.7-.8-.4-.8-.4-.8-.5-.6-.4-1-.6-.8-.4-.8-.1-.8 0-.7 .3z" fill="#10ff50" stroke="#2a4a7a" stroke-opacity=".8" stroke-width=".6"/>
<path d="M63.2 63.9l.8-.1 .8 0 .8 0 .6 .2 1 .5 .8 1.1 .3 .8 .1 .8 .1 .8 .1 .8 .2 .8 .5 .8 .8 .8 .6 .8 .4 .8 .1 .8 0 .8 0 .8-.2 .8-.2 .8-.4 .8-.3 .8-.4 .8-.5 .8-.4 .8-.4 .8-.3 .8-.2 .8-.2 .8-.3 .8-.2 .5-.8 1-.8 .5-.8-.3-.8 0-.8-.7-.8-.8-.8-.1-.8-.9-.8-.7-.6-.9-.4-.8-.4-.8-.4-.8-.3-.8-.2-.8-.1-.6-.1-1 0-.8 0-.8 0-.8 .1-.8 .2-.8 .3-.8 .3-.5 .8-1 .4-.9-1.2-.7-.8-.2-.8-.3-.8-.3-.8-.7 .5-1 1.1-.5 .8-.3 .8-.3 .8-.2 .8-.2 .8-.2 .8-.3 .8-.2 .6-.2zM63.1 64.8l-.7 .2-.8 .2-.8 .3-.8 .3-.8 .3-.7 .3-.6 .8 .5 .3 .8 .4 .8 .3 .8 .3 .6 .3 .5 .8-.6 .8-.5 .3-.6 .5-.8 .8-.6 .8-.2 .8-.2 .8 0 .8-.1 .8 .1 .8 .1 .8 .2 .8 .3 .8 .5 .8 .5 .8 .5 .8 .3 .4 .8 1.1 .8 .9 .8 .7 .8 .4 .8 0 .8-.3 .7-.8 .4-.8 .3-.8 .3-.8-.1-.8-.8 .6-.6 .2-1 .1-.8-.5-.3-.4-.5-.6-.7-1-.6-.8-.3-.7-.4-.9 0-.8 .3-.8 .7-.8 1-.5 .8-.2 .8-.1 .8 .1 .8 .1 .8 .4 .8 .7 .6 1.1 .1 .8 0 .8 0 .8 .9-.6 .5-1 .3-.8 .1-.8 .1-.8-.2-.8-.3-.8-.5-.6-.8-.6-.6-.4-1-.8-.3-.8-.1-.8 0-.8 0-.8-.2-.8-.5-.8-.5-.5-.7-.3-.9-.1-.8 .1zM62.9 74.4l-.5 .2-.6 .6-.2 .7 0 .9 .2 .8 .6 .8 .6 .8 .7 .8 .3 .4 .7 .4 .9 .1 .8-.3 .7-.6 .7-.8 .2-.5 .4-1.1 .1-.8-.1-.8-.4-.7-.8-.8-.8-.5-.8-.1-.8 0-.8 .1-.8 .2zM181.6 96l.8-.2 .8 .1 .8 .2 .8 .4 .5 .3 1 .8 .7 .8 .7 .8 .3 .4 .8 1.2 .4 .8 .4 .7 .5 .9 .3 .8 .3 .8 .3 .8 .2 .8 .2 .8 .1 .8 .1 .8 0 .8 .1 .8 .1 .8 .2 .6 .4 1 .3 .8 .4 .8 .3 .8 .2 .6 .3 1 .1 .8 .1 .8 0 .8 0 .8 0 .8 0 .8 0 .8 0 .8 .1 .8 .2 .5 .4 1.1 .4 .7 .4 .9 .4 .8 .3 .8 .4 .8 .5 .8 .4 .6 .8 1 .5 .8 .3 .6 .2 1-.1 .8-.3 .8-.6 .6-.8 .5-.8 .2-.8 .2-.8 .2-.8 .2-.8 .3-.8 .2-.8 .3-.8 .3-.7 .2-.9 .3-.8 .1-.8 0-.8-.1-.8-.1-.8-.1-.8 0-.8 .1-.8 .2-.8 .1-.8 .2-.8 .4-.8 .4-.8 .6-.8 .6-.8 .4-.8 .3-.8 .3-.8 .1-.8 .1-.8 0-.8-.1-.8-.2-.8-.4-.8-.5-.5-.3-1.1-.7-.8-.6-.4-.3-.8-.8-.4-.5-.6-1.1-.4-.8-.3-.8-.3-.7-.3-.9-.2-.8-.2-.8-.1-.8 0-.8 0-.8 .1-.8 .1-.8 .2-.8 .1-.8 .1-.8 0-.8-.1-.8-.2-.8-.2-.8 0-.8 0-.8 0-.8 .1-.8 .2-.8 .2-.8 .2-.8 .2-.8 .3-.8 .3-.8 .2-.8 .2-.8 .2-.8 .1-.8 .2-.8 .1-.8 .1-.8 .3-.8 .2-.5 .6-1.1 .5-.8 .5-.8 .4-.8 .3-.8 .3-.8 .3-.8 .3-.7 .5-.9 .3-.5 .8-.9 .8-.7 .4-.3 1.1-.8 .9-.6 .8-.4 .8-.2 .8-.1 .8 0 .8 0 .8 0 .8-.2 .6-.1zM178 100l-1.2 .6-.8 .5-.7 .5-.9 .8-.8 .7-.8 .9-.6 .8-.5 .8-.5 .8-.4 .8-.4 .7-.3 .9-.3 .8-.1 .8-.1 .8 0 .8-.1 .8-.1 .8-.1 .8 0 .8 0 .8-.1 .8 0 .8 0 .8-.1 .8 .1 .8 .2 .8 .4 .8 .5 .8 .4 .8 .4 .8 .3 .8 .2 .8 .1 .8-.1 .8-.2 .8-.2 .6-.5 1-.3 .6-.5 1-.3 .5-.4 1.1-.3 .8-.1 .8-.1 .8 0 .8 .1 .8 .2 .8 .6 .8 .8 .7 .8 .4 .8 .3 .8 .1 .8 0 .8-.1 .8-.2 .8-.3 .8-.4 .7-.5 .9-.6 .8-.3 .8-.3 .8-.1 .8-.1 .8 0 .8 0 .8-.1 .8 0 .8-.1 .8 .1 .8 .1 .8 .1 .8 .1 .8 .1 .8-.1 .8-.2 .8-.2 .8-.2 .8-.2 .8-.2 .6-.2 1-.5 .7-1.1-.1-.8-.3-.8-.5-.8-.6-.8-.5-.8-.3-.6-.5-1-.3-.6-.5-1-.3-.5-.3-1.1-.1-.8-.1-.8 0-.8-.1-.8 0-.8 0-.8-.1-.8-.1-.8-.1-.8-.1-.8-.2-.8-.3-.8-.3-.8-.3-.8-.3-.6-.4-1-.4-.8-.2-.8-.1-.8-.1-.8-.1-.8 0-.8-.2-.8-.1-.7-.3-.9-.3-.8-.4-.8-.5-.8-.6-.8-.9-.8-1-.6-.6-.2-1-.4-.8-.3-.8-.2-.8-.2-.8 0-.8 0-.8 .2zM186.4 154.3l.8 0 .7 .1 .9 .4 .6 .4 0 .8-.6 .7-.8 .4-.8 .2-.8 0-.8-.1-.8-.2-.5-.2-.1-.8 .5-.8 .9-.7 .8-.2z" fill="#50ff10" stroke="#7a3a00" stroke-opacity=".8" stroke-width=".6"/>
<path d="M63.2 64.8l.8-.1 .8 .1 .8 .3 .5 .5 .3 .4 .4 1.2 0 .8 0 .8 .1 .8 .3 .7 .8 .8 .8 .5 .6 .4 .7 .8 .3 .7 .2 .9-.1 .8-.1 .7-.3 .9-.4 .8-.7 .8-.3-.8 0-.8-.1-.8-.3-.8-.8-.8-1.1-.6-.8-.1-.8-.1-.8 .1-.8 .2-.8 .4-.8 .7-.4 1 0 .8 .3 .8 .4 .8 .5 .7 .7 .9 .6 .8 .3 .4 .7 .4 .9 .1 .8-.3 .8-.6 .1 .8-.3 .8-.3 .8-.3 .7-.8 .9-.8 .3-.8 0-.6-.3-1-.8-.7-.8-.6-.8-.6-.8-.5-.7-.5-.9-.5-.8-.3-.8-.2-.8-.1-.7-.1-.9 .1-.8 0-.8 .2-.8 .2-.8 .4-.6 .8-.8 .8-.7 .5-.3 .3-.4 0-.9-.8-.6-.8-.3-.7-.2-.9-.5-.5-.3 .5-.6 .8-.5 .8-.3 .8-.3 .8-.3 .8-.2 .7-.2zM63.5 71.2l-1.1 .4-.7 .4-.9 .6-.8 .8-.4 1-.1 .8 0 .8 .1 .8 .2 .8 .8 .8 .1-.8-.2-.8 0-.8 .3-.8 .3-.8 .5-.5 .6-.3 1-.5 .8-.2 .8 0 .8 .1 .8 .2 .6 .4 1 .5 .4 .3 .4 .5 .7-.5-.3-.8-.4-.4-.4-.4-1.2-.6-.8-.4-.8-.3-.8-.3-.8-.1zM178.4 99.9l.8-.2 .8 0 .8 0 .8 .2 .8 .2 .8 .3 .8 .3 .8 .3 .8 .5 .8 .6 .8 .9 .6 1 .4 .8 .3 .8 .3 .8 .1 .8 .2 .8 0 .8 .1 .8 .1 .8 .1 .8 .2 .6 .4 1 .3 .8 .4 .8 .3 .8 .3 .8 .3 .8 .2 .8 .1 .8 .1 .8 .1 .8 .1 .8 0 .8 0 .8 .1 .8 0 .8 .1 .8 .1 .8 .2 .8 .4 .8 .4 .8 .4 .8 .4 .8 .4 .8 .5 .8 .6 .8 .5 .8 .3 .8 .1 .8-.4 .8-1.1 .7-.8 .3-.8 .2-.8 .2-.7 .2-.9 .2-.8 .2-.8 .1-.8-.1-.8-.1-.8-.1-.8-.1-.8-.1-.8 .1-.8 0-.8 .1-.8 0-.8 0-.8 .1-.8 .1-.8 .3-.8 .3-.8 .6-.8 .5-.5 .3-1.1 .4-.8 .2-.8 .1-.8 0-.8-.1-.8-.3-.7-.3-.9-.8-.6-.8-.2-.7-.1-.9 0-.8 .1-.8 .1-.8 .3-.8 .3-.8 .4-.8 .4-.8 .4-.8 .4-.8 .3-.8 .2-.8 .1-.8-.1-.8-.2-.8-.2-.6-.5-1-.3-.6-.6-1-.4-.8-.2-.8-.1-.8 .1-.8 0-.8 0-.8 .1-.8 0-.8 0-.8 .1-.8 .1-.8 .1-.8 0-.8 .1-.8 .1-.8 .3-.8 .3-.8 .4-.8 .4-.8 .5-.8 .3-.6 .8-1 .7-.8 .9-.8 .8-.7 .8-.6 .4-.3 1.2-.6 .8-.3zM180.9 108.8l-.9 .3-.8 .4-.8 .5-.6 .4-1 .7-.8 .6-.5 .3-1 .8-.6 .8-.3 .5-.3 1.1 0 .8 .1 .8 .1 .8 .2 .8 .3 .8 .4 .7 .6 .9 .5 .8 .5 .8 .4 .8 .2 .8 .3 .8 .1 .8 .1 .8 0 .8-.1 .8 0 .8-.1 .8 .1 .8 .1 .8 .2 .8 .3 .6 .7 1 .9 .6 .8 .2 .8 0 .8 .1 .8 0 .8 0 .8 0 .8 0 .8 0 .8 0 .8-.1 .8 0 .8-.1 .8-.3 .8-.3 .8-.7 .4-1 0-.8-.1-.8-.1-.8-.2-.5-.3-1.1-.2-.8-.1-.8 0-.8 0-.8 .1-.8 0-.8 0-.8-.1-.8-.2-.8-.1-.8-.2-.8-.2-.8-.3-.8-.3-.8-.5-.8-.6-.8-.6-.8-.4-.5-.8-1.1-.4-.8-.4-.8-.5-.8-.3-.6-.8-.9-.8-.4-.8-.1-.8 .2-.7 .2z" fill="#b0ff10" stroke="#7a3a00" stroke-opacity=".8" stroke-width=".6"/>
<path d="M64 71.1l.8 .1 .8 .3 .8 .3 .8 .4 .8 .4 .8 .6 .4 .4 .3 .8-.7 .5-.4-.5-.4-.3-.8-.4-.8-.5-.8-.2-.8-.1-.8 0-.8 .2-.8 .3-.8 .5-.5 .5-.3 .8-.3 .8 0 .8 .2 .8 .1 .8-.8-.4-.4-1.2-.1-.8 0-.8 .1-.8 .3-.8 .6-.8 1.1-.8 .8-.4 .8-.3 .8-.2zM181.6 108.6l.8-.2 .8 .1 .6 .3 .8 .8 .5 .8 .5 .8 .4 .8 .4 .7 .6 .9 .6 .8 .4 .5 .8 1.1 .5 .8 .3 .8 .3 .8 .2 .8 .2 .8 .1 .6 .2 1 .1 .8 0 .8 0 .8-.1 .8 0 .8 0 .8 .1 .8 .2 .8 .2 .8 .3 .8 .1 .8 .1 .8 0 .8-.2 .8-.8 .8-1 .4-.8 .3-.8 .1-.8 0-.8 .1-.8 0-.8 0-.8 0-.8 0-.8 0-.8 0-.8-.1-.8 0-.8-.2-.8-.5-.7-.9-.4-.8-.2-.8-.1-.8-.1-.8 .1-.8 0-.8 .1-.8 0-.8-.1-.8-.1-.8-.3-.8-.2-.8-.4-.8-.5-.8-.3-.5-.7-1.1-.5-.8-.3-.8-.2-.8-.1-.8-.1-.8 0-.8 .2-.8 .4-.8 .5-.7 .8-.7 .8-.5 .7-.5 .9-.7 .8-.5 .7-.4 .9-.5 .8-.3 .8-.2zM180 113.6l-.8 .6-.8 .7-.8 .9-.4 1 0 .8 .2 .8 .2 .5 .6 1.1 .5 .8 .2 .8 .1 .8 0 .8-.1 .8-.1 .8-.1 .8-.1 .8-.1 .8-.1 .8-.1 .8 0 .8 .1 .8 .1 .8 .5 .8 1 .8 .8 .1 .8 .1 .8-.1 .8-.1 .8 0 .8 0 .8-.1 .8-.1 .8-.2 .8-.3 .8-.7 .7-1 .1-.6 0-1 0-.8-.1-.8 0-.8 .1-.8 .1-.8 .1-.8 .1-.8-.1-.8-.1-.8-.2-.8-.3-.8-.3-.8-.3-.8-.5-.8-.7-.8-.7-.8-.9-.8-.8-.8-.9-.8-.9-.5-.8-.2-.8 0-.8 .3-.8 .4z" fill="#ffff00" stroke="#7a3a00" stroke-opacity=".8" stroke-width=".6"/>
<path d="M180 113.6l.8-.4 .8-.3 .8 0 .8 .2 .8 .4 .8 .7 .8 .8 .8 .7 .8 .8 .8 1 .6 .9 .2 .5 .4 1.1 .3 .8 .2 .8 .1 .8 .1 .8-.1 .8-.1 .8-.1 .8-.1 .8 0 .8 .1 .8 0 .8 0 .8-.1 .8-.5 .8-.9 .8-.9 .4-.8 .2-.8 .1-.8 .1-.8 0-.8 0-.8 .1-.8 .1-.8-.1-.7-.1-.9-.5-.7-1.1-.1-.6-.1-1 0-.8 .1-.8 .1-.8 .1-.8 .1-.8 .1-.8 .1-.8 .1-.8 0-.8-.1-.8-.2-.8-.3-.5-.7-1.1-.3-.8-.2-.8 0-.8 .3-.8 .6-.8 .9-.8 1-.8zM182.6 116.8l-.9 .8-.4 .8-.1 .8 0 .8-.1 .8 0 .8-.1 .8-.2 .6-.3 1-.3 .8-.3 .8-.2 .8-.2 .8-.1 .8 0 .8 .1 .8 .3 .8 .9 .8 .9 .1 .8 0 .8-.2 .8-.1 .8-.1 .8-.1 .8-.3 .8-.5 .4-.4 .4-.7 .2-.9 .2-.8 .1-.8 .2-.8 .2-.8 .1-.8 0-.8 0-.8-.2-.8-.3-.8-.4-.8-.7-.8-.8-.8-1-.8-.8-.5-.6-.3-1-.2-.6 .2z" fill="#f8b010" stroke="#7a3a00" stroke-opacity=".8" stroke-width=".6"/>
<path d="M183.2 116.6l.8 .1 .8 .4 .8 .5 .8 .6 .8 .7 .8 1 .5 .9 .3 .8 .2 .8 0 .8 0 .8-.1 .8-.2 .8-.2 .8-.1 .8-.2 .8-.2 .8-.4 .8-.4 .4-.6 .4-1 .4-.8 .1-.8 .1-.8 .1-.8 .2-.8 0-.8 0-.8-.6-.5-1.1-.1-.8 0-.8 .1-.8 .2-.8 .2-.8 .3-.8 .3-.8 .3-.8 .2-.8 .1-.8 0-.8 .1-.8 0-.8 .1-.8 .3-.7 .8-.8 .8-.3zM184.2 120l-.9 .8-.4 .8-.3 .8-.2 .5-.5 1.1-.3 .5-.5 1.1-.3 .7-.2 .9 0 .8 .2 .8 .8 .7 .8 .1 .8-.1 .8-.2 .8-.2 .7-.3 .9-.7 .6-.9 .2-.6 .3-1 .3-.8 .2-.8 0-.8-.1-.8-.3-.8-.4-.6-.8-.7-.7-.3-.9-.2-.6 .2z" fill="#f06008" stroke="#7a3a00" stroke-opacity=".8" stroke-width=".6"/>
<path d="M184.8 119.8l.8 .2 .8 .3 .6 .5 .6 .8 .3 .8 .1 .8 0 .8-.2 .8-.3 .8-.2 .8-.3 .8-.5 .8-.9 .8-.8 .3-.8 .2-.8 .2-.8 .1-.8-.1-.8-.7-.2-.8 0-.8 .2-.8 .3-.8 .4-.8 .4-.8 .4-.8 .3-.8 .3-.8 .3-.7 .8-.9 .8-.2z" fill="#ff0000" stroke="#7a3a00" stroke-opacity=".8" stroke-width=".6"/>
<rect width="224.4" height="167.6" fill="url(#dots)"/>
<path d="M153.9 91.2l-.4 1M163.7 91.2l-.6 .8M168.6 91.2l-.7 .7M173.5 91.2l-.9 .5M183.3 91.2l-1-.3M188.2 91.2l-1-.3M193.1 91.2l-.7-.6M144.1 96.1l0 1M149 96.1l-.4 1.1M153.9 96.1l-.4 1.5M158.8 96.1l-.6 1.3M163.7 96.1l-.8 1.1M168.6 96.1l-1 .7M173.5 96.1l-1.2 .8M178.4 96.1l-1.5 .7M183.3 96.1l-1.2-.3M188.2 96.1l-1.2-.3M193.1 96.1l-.7-.5M198 96.1l-.6-.8M144.1 101l.1 1M149 101l-.3 1.6M153.9 101l-.4 1.7M158.8 101l-.6 1.7M163.7 101l-.9 1.9M168.6 101l-1.2 1.5M173.5 101l-1.8 1.3M178.4 101l-1.9 .6M183.3 101l-2.2 0M188.2 101l-1.9-.8M193.1 101l-1.3-.8M198 101l-.7-1.5M202.9 101l0-1.2M207.8 101l.2-.9M139.2 105.9l-.3 1.2M144.1 105.9l-.3 1.9M149 105.9l0 2M153.9 105.9l-.6 2.4M158.8 105.9l-.6 2.7M163.7 105.9l-1.2 2.6M168.6 105.9l-1.6 2.2M173.5 105.9l-2.5 1.9M178.4 105.9l-2.6 .7M183.3 105.9l-2.9-.4M188.2 105.9l-2.6-.9M193.1 105.9l-1.9-1.7M198 105.9l-.9-2M202.9 105.9l.1-2M207.8 105.9l.6-1M139.2 110.8l-.1 1M144.1 110.8l-.1 1.7M149 110.8l-.2 2.3M153.9 110.8l-.3 3M158.8 110.8l-.7 2.9M163.7 110.8l-1 3.4M168.6 110.8l-1.8 2.8M173.5 110.8l-2.8 2.3M178.4 110.8l-3.7 1.3M183.3 110.8l-3.8-.2M188.2 110.8l-3.3-1.9M193.1 110.8l-2.3-2.7M198 110.8l-1.2-3M202.9 110.8l.4-2.5M207.8 110.8l1.1-1.4M212.7 110.8l1-.2M139.2 115.7l.2 .9M144.1 115.7l.1 1.5M149 115.7l0 2.2M153.9 115.7l-.1 2.7M158.8 115.7l-.5 3.2M163.7 115.7l-1 3.5M168.6 115.7l-1.8 3.6M173.5 115.7l-2.6 3.5M178.4 115.7l-4 2.2M183.3 115.7l-4-.3M188.2 115.7l-4-2.8M193.1 115.7l-2.9-4.3M198 115.7l-1.3-4.6M202.9 115.7l0-4.4M207.8 115.7l1.1-2M212.7 115.7l.8 .7M144.1 120.6l.5 1.5M149 120.6l.4 2M153.9 120.6l.3 2.7M158.8 120.6l-.1 3.4M163.7 120.6l-.3 4M168.6 120.6l-.9 4.4M173.5 120.6l-1.7 4.4M178.4 120.6l-2.6 3.2M183.3 120.6l-2.8-.5M188.2 120.6l-2.8-3.7M193.1 120.6l-1.5-5.3M198 120.6l-1.4-5.4M202.9 120.6l-1.3-4.9M207.8 120.6l-1.6-2.2M212.7 120.6l-1.3 .6M144.1 125.5l.5 .8M149 125.5l.5 1.4M153.9 125.5l.9 2.1M158.8 125.5l.6 3M163.7 125.5l.5 3.9M168.6 125.5l.6 4.4M173.5 125.5l.5 4.9M178.4 125.5l.7 3.4M183.3 125.5l.9-.4M188.2 125.5l.4-3.8M193.1 125.5l0-5.5M198 125.5l-.7-5.3M202.9 125.5l-1.6-4.2M207.8 125.5l-1.9-2.3M212.7 125.5l-1.3-.4M217.6 125.5l-.9 .3M149 130.4l.5 .9M153.9 130.4l1.1 1.5M158.8 130.4l1.2 2.6M163.7 130.4l1.4 3.2M168.6 130.4l2 4M173.5 130.4l2.5 4.2M178.4 130.4l3.7 2.9M183.3 130.4l3.7-.3M188.2 130.4l3.3-3.6M193.1 130.4l1.9-4.4M198 130.4l.6-4.2M202.9 130.4l-.6-3.3M207.8 130.4l-1-2.3M212.7 130.4l-1-.7M217.6 130.4l-1-.4M153.9 135.3l.9 .6M158.8 135.3l1.6 1.4M163.7 135.3l2 2.5M168.6 135.3l2.7 3.2M173.5 135.3l3.4 3.3M178.4 135.3l4.1 2.2M183.3 135.3l4.8 0M188.2 135.3l4-2.1M193.1 135.3l2.8-3.3M198 135.3l1.3-2.9M202.9 135.3l.5-2.4M207.8 135.3l-.3-1.7M212.7 135.3l-.7-1.3M217.6 135.3l-.5-.7M163.7 140.2l1.6 1M168.6 140.2l2.5 2.2M173.5 140.2l3.3 2.2M178.4 140.2l4 1.6M183.3 140.2l3.9 .3M188.2 140.2l3.5-.9M193.1 140.2l2.8-1.6M198 140.2l1.4-2M202.9 140.2l.7-2M207.8 140.2l0-1.3M212.7 140.2l0-1.3M168.6 145.1l1 .6M173.5 145.1l2.5 1.6M178.4 145.1l3 1.5M183.3 145.1l3.1 .6M188.2 145.1l2.8-.1M193.1 145.1l2.1-.8M198 145.1l1.4-1.1M202.9 145.1l.8-1.1M173.5 150l-.7-.6M178.4 150l1.3 .7M183.3 150l2 .5M188.2 150l2.1 .1M193.1 150l1.5-.4M198 150l1.1-.6M202.9 150l.9-.6M207.8 150l.6-.7M188.2 154.9l.9 .4M193.1 154.9l.9 .1" fill="none" stroke="#000" stroke-width=".62" stroke-opacity=".85"/>
<path d="M158.2 108.6L158 107.3L158.9 107.5zM162.5 108.5L162.6 107.1L163.5 107.5zM167 108.1L167.3 106.8L168.1 107.4zM171 107.8L171.8 106.6L172.4 107.4zM175.8 106.6L176.9 105.8L177.1 106.7zM180.4 105.5L181.8 105.2L181.6 106.1zM185.6 105L186.9 105L186.6 105.9zM153.6 113.8L153.2 112.4L154.2 112.5zM158.1 113.7L157.9 112.3L158.9 112.6zM162.7 114.2L162.6 112.6L163.6 113zM166.8 113.6L167.1 112.1L168 112.7zM170.7 113.1L171.5 111.8L172.2 112.6zM174.7 112.1L176 111L176.4 112.1zM179.5 110.6L181 110.1L181 111.2zM184.9 108.9L186.5 109.2L185.9 110.2zM190.8 108.1L192.2 108.8L191.3 109.6zM196.8 107.8L197.8 108.9L196.8 109.3zM153.8 118.4L153.4 117.2L154.3 117.2zM158.3 118.9L158 117.5L159.1 117.6zM162.7 119.2L162.5 117.7L163.6 118zM166.8 119.3L167 117.6L168 118.1zM170.9 119.2L171.4 117.5L172.4 118.3zM174.4 117.9L175.6 116.5L176.2 117.6zM179.3 115.4L180.9 114.9L180.8 116.1zM184.2 112.9L186.1 113.4L185.3 114.5zM190.2 111.4L191.9 112.6L190.7 113.4zM196.7 111.1L197.8 112.6L196.5 113zM202.9 111.3L203.5 113L202.2 113zM154.2 123.3L153.6 122.1L154.5 122zM158.7 124L158.2 122.6L159.3 122.6zM163.4 124.6L162.9 123L164.1 123.1zM167.7 125L167.4 123.2L168.7 123.5zM171.8 125L171.8 123.1L173.1 123.6zM175.8 123.8L176.4 122.1L177.3 122.9zM180.5 120.1L181.8 119.8L181.7 120.8zM185.4 116.9L187 117.9L186 118.7zM191.6 115.3L192.8 117L191.4 117.4zM196.6 115.2L197.9 117L196.4 117.4zM201.6 115.7L202.8 117.3L201.4 117.7zM206.2 118.4L207.3 119.1L206.5 119.6zM159.4 128.5L158.7 127.3L159.6 127.1zM164.2 129.4L163.4 128L164.6 127.8zM169.2 129.9L168.3 128.3L169.6 128.2zM174 130.4L173.1 128.6L174.5 128.5zM179.1 128.9L178.3 127.6L179.3 127.4zM188.6 121.7L189 123.3L187.9 123.2zM193.1 120L193.8 122L192.3 122zM197.3 120.2L198.3 122L196.8 122.2zM201.3 121.3L202.5 122.7L201.3 123.2zM205.9 123.2L207.1 123.9L206.4 124.5zM160 133L159 132L159.9 131.6zM165.1 133.6L164 132.5L165 132.1zM170.6 134.4L169.2 133.2L170.4 132.6zM176 134.6L174.5 133.4L175.7 132.7zM182.1 133.3L180.3 132.7L181.1 131.7zM187 130.1L185.5 130.8L185.4 129.6zM191.5 126.8L190.8 128.6L189.7 127.7zM195 126L194.9 127.9L193.7 127.4zM198.6 126.2L199 127.9L197.8 127.7zM202.3 127.1L203.1 128.4L202 128.6zM165.7 137.8L164.4 137.1L165.3 136.4zM171.3 138.5L169.8 137.7L170.7 136.9zM176.9 138.6L175.1 137.8L176.1 136.9zM182.5 137.5L180.6 137.2L181.3 136.1zM188.1 135.3L186.3 136L186.3 134.6zM192.2 133.2L191 134.6L190.4 133.4zM195.9 132L195.3 133.7L194.3 132.9zM199.3 132.4L199.2 133.8L198.3 133.4zM171.1 142.4L169.7 141.8L170.4 141.1zM176.8 142.4L175.1 142L175.8 141zM182.4 141.8L180.7 141.7L181.1 140.6zM187.2 140.5L185.6 141L185.7 139.8zM191.7 139.3L190.4 140.2L190.1 139.1zM195.9 138.6L195 139.7L194.5 138.8zM176 146.7L174.6 146.4L175.2 145.6zM181.4 146.6L179.9 146.4L180.3 145.5zM186.4 145.7L185 146L185.2 144.9zM191 145L189.7 145.5L189.7 144.6z" fill="#000"/>
<polygon points="0,45 204.3,167.6 0,167.6" fill="#000"/>
<path d="M0 0h5M0 11.2h3.6M0 22.3h3.6M0 33.5h3.6M0 44.7h3.6M0 55.9h5M0 67h3.6M0 78.2h3.6M0 89.4h3.6M0 100.6h3.6M0 111.7h5M0 122.9h3.6M0 134.1h3.6M0 145.3h3.6M0 156.4h3.6M0 167.6h5M0 167.6v-5M11.2 167.6v-3.8M22.4 167.6v-3.8M33.7 167.6v-3.8M44.9 167.6v-3.8M56.1 167.6v-5M67.3 167.6v-3.8M78.5 167.6v-3.8M89.8 167.6v-3.8M101 167.6v-3.8M112.2 167.6v-5M123.4 167.6v-3.8M134.6 167.6v-3.8M145.9 167.6v-3.8M157.1 167.6v-3.8M168.3 167.6v-5M179.5 167.6v-3.8M190.7 167.6v-3.8M202 167.6v-3.8M213.2 167.6v-3.8M224.4 167.6v-5" stroke="#000" stroke-width=".8" fill="none"/>
</g>
<rect x="0" y="0" width="224.4" height="167.6" fill="none" stroke="#000" stroke-width="1.7"/>
<text x="-.3" y="181.8" font-size="12" fill="#000" text-anchor="middle">-2</text>
<text x="55.8" y="181.8" font-size="12" fill="#000" text-anchor="middle">-1</text>
<text x="112.2" y="181.8" font-size="12" fill="#000" text-anchor="middle">0</text>
<text x="168.3" y="181.8" font-size="12" fill="#000" text-anchor="middle">1</text>
<text x="224.4" y="181.8" font-size="12" fill="#000" text-anchor="middle">2</text>
<text x="-6.2" y="4.1" font-size="12" fill="#000" text-anchor="end">2</text>
<text x="-6.2" y="60" font-size="12" fill="#000" text-anchor="end">1</text>
<text x="-6.2" y="115.8" font-size="12" fill="#000" text-anchor="end">0</text>
<text x="-6.2" y="171.7" font-size="12" fill="#000" text-anchor="end">-1</text>
<text x="112.2" y="199.4" font-size="13" fill="#111" text-anchor="middle">x/d</text>
<text transform="translate(-15.8,84.1) rotate(-90)" font-size="13" fill="#111" text-anchor="middle">y/d</text>
<text x="7.4" y="15.4" font-size="12.8" fill="#111">(h) τ=5.8</text>
</g>
<clipPath id="ci"><rect x="0" y="0" width="224.4" height="167.6"/></clipPath>
<g transform="translate(555.9,463.3)">
<g clip-path="url(#ci)">
<rect width="224.4" height="167.6" fill="#00ff00"/>
<path d="M202.4 102.3l.8 0 .8-.1 .8 0 .8 .1 .6 .1 .9 .8 .3 .8 0 .8 0 .8-.1 .8-.1 .8-.2 .8-.4 .8-1 .6-.8-.1-.8-.4-.8-.6-.4-.3-1-.8-.9-.8-.6-.8-.3-.6-.1-1 .4-.8 .5-.4 .8-.3 .8-.2z" fill="#00b090" stroke="#2a4a7a" stroke-opacity=".8" stroke-width=".6"/>
<path d="M64.8 72.8l.8-.4 .8-.2 .8 .1 .8 .1 .8 .3 .8 .6 .6 1.1-.1 .8-.3 .8-1 .6-.8 .3-.8 .2-.8 .2-.8-.2-.6-.3-.6-.8-.2-.8-.1-.8 .2-.8 .5-.8zM204.8 100.6l.8-.1 .8-.1 .8 .1 .8 .3 .8 .5 .8 .9 .4 1 .1 .8-.2 .8-.2 .8-.2 .8-.2 .8-.3 .8-.2 .5-.5 1.1-.7 .8-.4 .4-.8 .3-.8 0-.8-.1-.8-.3-.5-.3-1.1-.7-.8-.6-.8-.7-.4-.4-.4-.4-.4-.4-.4-.6-.4-1-.2-.8-.1-.8 .2-.8 .4-.8 .9-.8 .8-.3 .8-.1 .8-.1 .8-.1 .8-.2 .8-.2zM201.9 102.4l-1.1 .4-.5 .4-.3 .5-.1 1.1 .4 .8 .5 .7 .8 .7 .8 .7 .8 .6 .6 .5 1 .5 .8 .1 .8-.4 .6-1 .2-.7 .1-.9 .1-.8 0-.8 0-.8-.2-.6-.8-.9-.8-.2-.8-.1-.8 0-.8 .1-.8 0z" fill="#00ffc8" stroke="#2a4a7a" stroke-opacity=".8" stroke-width=".6"/>
<path d="M65.6 70.3l.8 0 .8 .1 .8 .1 .8 .1 .8 .1 .8 .2 .8 .3 .7 .8 .4 .8 .1 .8 .1 .8 0 .8 0 .8-.2 .8-.3 .8-.8 .8-.8 .4-.8 .2-.8 .1-.8 .2-.8 .2-.8 .1-.8 0-.8-.2-.8-.5-.7-.5-.8-.8-.5-.8-.1-.8 0-.8 0-.8 .1-.8 .3-.8 .3-.8 .6-.7 .8-.5 .8-.3 .8-.2zM64.8 72.8l-.5 .8-.2 .8 .1 .8 .2 .8 .4 .6 .8 .5 .8 .2 .8-.2 .8-.2 .8-.3 .8-.4 .5-1 .1-.8-.3-.8-.9-.8-1-.4-.8-.1-.8-.1-.8 .2-.8 .4zM203.2 99.2l.8-.3 .8-.3 .8-.1 .8 0 .8 .1 .8 .1 .8 .2 .8 .2 .8 .4 .8 .4 .8 .6 .8 .8 .7 1.1 .2 .8 .1 .8 0 .8 0 .8 0 .8 .2 .8 .1 .8 0 .8-.2 .8-.3 .5-.8 .7-.8 .4-.8 .5-.5 .3-1.1 .7-.8 .4-.8 .2-.8 .1-.8-.1-.8-.1-.8-.2-.8-.2-.8-.3-.8-.3-.8-.5-.8-.5-.8-.7-.8-.8-.7-.9-.5-.8-.4-.8-.3-.8-.2-.8-.1-.8 0-.8 .1-.8 .3-.8 .4-.8 .6-.7 .8-.7 .8-.4 .8-.2 .8-.1 .8-.1 .7-.2zM204 100.8l-.8 .2-.8 .1-.8 .1-.8 .1-.8 .3-.8 .7-.5 .9-.2 .8 .1 .8 .2 .8 .3 .8 .5 .8 .4 .4 .4 .4 .4 .4 .5 .4 1 .8 .9 .6 .8 .5 .8 .3 .8 .1 .8 0 .8-.3 .4-.4 .4-.4 .7-1.2 .3-.8 .3-.8 .2-.8 .2-.8 .2-.8 .2-.8-.1-.8-.2-.8-.6-.8-1.1-.8-.9-.3-.8-.1-.8 .1-.8 .1-.8 .2zM147.2 128.6l.8-.2 .8 .2 .8 .3 .8 .4 .8 .3 .8 .3 .8 .3 .8 .6 .5 .4 .7 .8 .4 .8 .1 .8-.3 .8-.6 .6-.8 .5-.8 .2-.8-.1-.7-.4-.6-.8-.5-.8-.6-.8-.7-.8-.8-.8-.6-.8-.3-.7-.2-.9zM201.6 148.7l.8-.3 .8-.3 .8-.1 .5 .8-.4 .8-.6 .8-.3 .5-.7 1.1-.4 .8-.3 .8-.4 .8-.4 .8-.6 .8-.4 .5-.8 .5-.8 .1-.8-.2-.8-.7-.2-1 .4-.8 .5-.8 .6-.8 .3-.5 .7-1.1 .6-.8 .8-.8 1-.8z" fill="#20ffb0" stroke="#2a4a7a" stroke-opacity=".8" stroke-width=".6"/>
<path d="M64 69.5l.8-.3 .8-.1 .8 .1 .8 0 .8 .1 .8 .1 .8 .1 .8 0 .8 .2 .8 .3 .5 .4 .6 .8 .3 .8 .2 .6 .2 1 .1 .8 .1 .8 0 .8 0 .8 0 .8-.2 .8-.5 .8-.5 .6-.8 .5-.8 .3-.8 .1-.8 0-.8 .1-.8 .1-.8 .2-.8 .1-.8 .1-.8-.2-.8-.3-.8-.5-.4-.3-1.1-.8-.9-.8-.6-.8-.2-.8 .1-.8 .2-.8 .2-.8 .2-.8 .2-.8 .2-.8 .5-.8 .8-.8 .8-.5 .5-.3zM65.2 70.4l-1.2 .4-.6 .4-.8 .8-.2 .5-.4 1.1-.1 .8 0 .8 0 .8 .1 .8 .4 .7 .8 .8 .8 .6 .5 .3 1.1 .4 .8 0 .8-.1 .8-.2 .8-.2 .8-.1 .8-.2 .8-.4 .8-.8 .3-.8 .2-.8 0-.8 0-.8-.1-.8-.1-.8-.3-.7-.8-.9-.8-.3-.8-.2-.8-.1-.8-.1-.8-.1-.8-.1-.8 0zM202.4 97.6l.8-.4 .8-.2 .8-.1 .8 0 .8 .1 .8 .1 .8 .1 .8 .1 .8 .1 .8 .2 .8 .3 .8 .4 .8 .5 .5 .4 .8 .8 .6 .8 .5 .8 .4 .8 .3 .8 .3 .8 .2 .8 .1 .8-.1 .8-.1 .8 0 .8 0 .8 0 .8 .1 .8-.2 .8-.4 .8-.6 .7-.8 .6-.8 .6-.8 .5-.8 .4-.8 .3-.8 .2-.8 .1-.8 0-.8 0-.8-.2-.8-.2-.8-.2-.8-.3-.8-.2-.8-.3-.8-.2-.8-.4-.8-.3-.5-.3-1-.8-.7-.8-.6-.8-.4-.7-.5-.9-.3-.7-.4-.9-.2-.8-.1-.8-.1-.8 0-.8 .1-.8 .3-.8 .3-.8 .5-.8 .4-.6 .8-.9 .8-.5 .8-.4 .8-.3 .8-.2 .8-.3zM203.1 99.2l-.7 .2-.8 .1-.8 .1-.8 .2-.8 .4-.7 .6-.7 .8-.4 .8-.3 .8-.1 .8 0 .8 .1 .8 .2 .8 .3 .7 .4 .9 .4 .6 .7 1 .8 .8 .9 .8 .8 .5 .5 .3 1.1 .5 .8 .3 .8 .2 .8 .2 .8 .1 .8 .1 .8-.1 .8-.2 .7-.3 .9-.6 .8-.5 .8-.5 .8-.4 .5-.4 .6-.8 .2-.8 0-.8-.1-.8-.2-.8 0-.8 0-.8 0-.8-.1-.8-.2-.8-.5-.8-.7-.8-1-.8-.9-.5-.6-.3-1-.3-.8-.2-.8-.1-.8-.1-.8 0-.8 .1-.8 .3-.8 .3zM145.6 125.4l.8 0 .8 .2 .8 .4 .5 .4 1 .8 .9 .7 .8 .4 .8 .4 .8 .4 .8 .4 .8 .5 .5 .4 .8 .8 .3 .4 .7 1.2 .3 .8 .1 .8-.1 .8-.5 .8-.5 .4-.7 .4-.9 .4-.8 .3-.8 .1-.8-.1-.8-.3-.6-.4-1-.7-.8-.7-.8-.5-.6-.5-.5-.8-.3-.8-.4-.8-.4-.8-.5-.8-.5-.6-.7-1-.4-.8-.1-.8 .4-.8 .8-.7 .8-.3zM147 128.8l.1 .8 .4 .8 .5 .6 .8 .9 .8 .9 .6 .8 .5 .8 .5 .7 .8 .5 .8 .1 .8-.2 .5-.3 .9-.8 .3-.8-.1-.8-.4-.8-.4-.5-.8-.7-.5-.4-1.1-.5-.7-.3-.9-.3-.8-.4-.8-.3-.8-.2-.8 .2zM204.8 146.2l.8-.2 .8-.1 .8-.1 .8 .1 .8 .3 0 1-.8 .7-.8 .5-.4 .4-1 .8-.7 .8-.7 .8-.4 .7-.5 .9-.3 .7-.4 .9-.4 .7-.5 .9-.6 .8-.5 .7-.8 .8-.8 .5-.8 .2-.8 .1-.8 0-.8-.1-.8-.1-.8-.3-.7-1 .1-.8 .4-.8 .4-.8 .6-.8 .7-.8 .7-.8 .7-.8 .3-.5 .8-1.1 .6-.8 .8-.8 .8-.8 1-.6 .8-.4 .8-.3 .8-.3 .8-.2zM201.5 148.8l-.7 .5-.8 .8-.8 1-.6 .9-.5 .8-.5 .7-.6 .9-.4 .8 .1 .8 .8 .8 .9 .3 .8-.1 .8-.5 .4-.5 .4-.5 .6-1.1 .4-.8 .3-.8 .3-.6 .6-1 .5-.8 .5-.6 .5-1-.5-.8-.8 .1-.8 .3-.8 .3z" fill="#10ff50" stroke="#2a4a7a" stroke-opacity=".8" stroke-width=".6"/>
<path d="M52.8 66.8l.8-.3 .8 .1 .8 .5 .3 .9 0 .8-.2 .8-.2 .8-.1 .8-.1 .8 0 .8-.1 .8-.2 .8-.2 .7-.6 .9-.9 0-.4-.8-.2-.8-.2-.8-.3-.8-.2-.8-.2-.8-.1-.8-.1-.8 .1-.8 .3-.8 .4-.5 .8-.7zM52.8 68l-.6 .8-.3 .8 0 .8 .1 .8 .2 .8 .3 .8 .2 .8 .6 .8 .8-.8 .1-.8 0-.8 0-.8 .1-.8 .2-.8 .1-.8-.2-.8-.8-.3-.8 .3zM176.8 95.9l.8-.3 .8-.2 .8-.1 .8 .1 .8 .2 .8 .2 .6 .2 1 .2 .8 .2 .8 .2 .7 .2 .9 .6 .7 1 .4 .8 .2 .8 .2 .8-.1 .8-.1 .8-.3 .8-.4 .8-.3 .8-.3 .6-.5 1-.3 .8-.3 .8-.3 .8-.2 .6-.2 1 .1 .8 .3 .8 .5 .8 .7 .8 1 .5 .6 .3 1 .3 .8 .2 .8 .3 .8 .3 .8 .4 .8 .4 .7 .5 .9 .6 .8 .6 .5 .4 .8 .8 .7 .8 .4 .6 .8 .9 .8 .6 .6 .3 1 .3 .8 .1 .8 .1 .8 .3 .8 .4 .5 .4 1.1 .6 .6 .2 1 .3 .8 .3 .5 .2 .9 .8 .1 .8-.2 .8-.3 .8-.4 .8-.6 .6-.8 .7-.6 .3-1 .4-.8 .3-.8 .3-.8 .3-.6 .3-1 .6-.8 .5-.7 .5-.9 .6-.8 .7-.8 .9-.8 .9-.8 .9-.8 .7-.8 .6-.4 .3-1.1 .8-.9 .7-.8 .6-.8 .6-.7 .5-.9 .5-.6 .3-1 .4-.8 .2-.8 .1-.8 0-.8-.1-.8-.2-.8-.3-.8-.5-.5-.4-.8-.8-.8-.8-.3-.5-.5-1.1-.1-.8 .1-.8 .2-.8 .3-.8 .3-.8 .3-.8 .3-.8 .2-.8 .1-.8 0-.8-.2-.8-.2-.8-.5-.8-1.1-.8-.8-.1-.8 .2-.8 .4-.7 .3-.9 .4-.8 .3-.8 .2-.8 .1-.8 .1-.8-.1-.8-.1-.8-.1-.8-.1-.8-.1-.8-.2-.8-.3-.8-.4-.6-.5-.6-.8-.3-.8-.1-.8 .1-.8 .1-.8 .1-.8 .1-.8 .2-.8 .2-.6 .4-1 .4-.7 .6-.9 .6-.8 .4-.4 .8-1 .8-.9 .8-.9 .6-.8 .4-.8 .3-.8 .3-.8 .2-.8 .2-.8 .2-.8 .3-.8 .4-.8 .3-.8 .3-.8 .2-.8 .1-.8 0-.8 0-.8 0-.8 .1-.8 .1-.6 .3-1 .4-.8 .5-.8 .4-.7 .8-.9 .8-.5 .7-.3zM178.1 100l-.5 .3-.7 .5-.9 .8-.6 .8-.4 .8-.2 .8-.1 .8 0 .8-.2 .8-.1 .6-.2 1-.2 .8-.2 .8 0 .8-.1 .8-.1 .8-.2 .8-.3 .8-.3 .8-.4 .8-.4 .5-.8 1-.8 .8-.8 .8-.7 .9-.6 .8-.6 .8-.5 .6-.7 1-.4 .8-.1 .8 0 .8 .1 .8 .3 .8 .8 .7 .8 .2 .8 .1 .8 0 .8 0 .8 0 .8 0 .8-.2 .8-.3 .6-.5 .7-.8 .3-.4 .8-1 .8-.4 .6 .2 1 .8 .7 .8 .8 .8 .7 .8 .5 .8 .3 .8 .3 .8 .2 .8 .2 .8 .1 .8 .1 .8-.1 .8-.1 .8-.2 .8-.3 .8-.3 .8-.2 .8-.2 .8-.1 .8 .1 .8 .3 .8 .4 .5 .8 .8 .5 .3 1.1 .5 .8 .2 .8-.1 .8-.2 .8-.4 .8-.7 .8-.8 .8-.8 .8-.8 .8-.7 .8-.7 .8-.6 .8-.5 .8-.6 .8-.7 .8-.9 .8-.9 .8-.6 .5-.3 1.1-.3 .8-.2 .8-.2 .8-.3 .8-.2 .8-.3 .8-.2 .8-.3 .8-.3 .8-.6 .7-1.1 .1-.6-.5-1-1.1-.4-.8-.2-.8-.3-.8-.3-.8-.4-.8-.3-.8-.3-.7-.2-.9-.3-.8-.3-.8-.4-.7-.6-.8-.8-.5-.8-.4-.6-.8-1-.8-.7-.8-.7-.8-.6-.5-.4-1.1-.7-.8-.4-.8-.3-.8-.1-.6-.1-1-.1-.8 0-.8-.1-.8 0-.8-.1-.8-.2-.8-.2-.8-.4-.6-.5-.3-.8 0-.8 .1-.8 .2-.8 .3-.8 .3-.5 .8-1.1 .7-.8 .6-.8 .3-.5 .6-1.1 .3-.8 .3-.8 .2-.8 0-.8-.3-.8-1.1-.5-.8-.3-.8-.3-.8-.5-.8-.3-.8-.1-.8 .2z" fill="#50ff10" stroke="#7a3a00" stroke-opacity=".8" stroke-width=".6"/>
<path d="M53.6 67.7l.8 .3 .2 .8-.1 .8-.2 .8-.1 .8 0 .8 0 .8-.1 .8-.3 .8-1-.4-.3-1.2-.3-.8-.2-.8-.1-.8 0-.8 .3-.8 .6-.8 .8-.3zM178.4 99.8l.8-.2 .8 .1 .8 .3 .8 .5 .7 .3 .9 .3 .8 .2 .6 1.1 0 .8-.2 .8-.3 .8-.3 .8-.4 .8-.5 .8-.5 .7-.8 .9-.6 .8-.5 .8-.3 .8-.2 .7-.1 .9 0 .8 .3 .8 .6 .5 .6 .3 1 .3 .8 .2 .8 .1 .8 0 .8 .1 .8 0 .8 .1 .8 .1 .8 .1 .8 .3 .7 .3 .9 .6 .8 .6 .5 .4 1 .8 .9 .8 .7 .8 .5 .8 .4 .6 .8 .9 .8 .7 .8 .4 .8 .3 .8 .3 .8 .2 .8 .3 .8 .3 .8 .4 .8 .3 .8 .3 .8 .2 .8 .2 .8 .9-.1 .9-.4 .8-1 .8-.9 .4-.8 .3-.8 .2-.8 .3-.8 .2-.6 .2-1 .3-.8 .2-.8 .2-.8 .4-.7 .5-.8 .8-.6 .8-.8 .8-1.1 .8-.8 .5-.5 .3-.9 .8-.9 .8-.8 .8-.8 .8-.7 .8-1 .8-.8 .4-.8 .2-.8 .1-.8-.2-.8-.3-.8-.5-.6-.5-.6-.8-.3-.8-.1-.6 .1-1 .2-.8 .2-.8 .3-.7 .3-.9 .2-.8 .1-.8 .1-.8-.1-.8-.1-.8-.2-.8-.2-.8-.3-.8-.3-.8-.3-.5-.8-1-.8-.8-.8-.9-.8-.8-.8-.2-.8 .4-.5 .6-.6 .8-.5 .6-.8 .7-.8 .3-.8 .2-.8 0-.8 0-.8 0-.8 0-.8-.1-.8-.2-.8-.7-.3-.8-.1-.8 0-.8 .1-.8 .3-.6 .6-1 .7-.8 .3-.4 .8-1.1 .7-.9 .8-.8 .8-.8 .7-.8 .6-.8 .4-.8 .3-.8 .3-.8 .2-.8 .1-.8 .1-.8 0-.8 .2-.8 .2-.8 .2-.8 .1-.8 .2-.8 0-.8 .1-.8 .2-.8 .4-.8 .6-.8 .8-.7 .8-.6 .5-.3zM185.4 118.4l-.6 .2-.8 .2-.8 .3-.8 .4-.5 .5-.5 .8-.2 .8-.1 .8 .1 .8 .2 .8 .4 .8 .4 .8 .5 .8 .3 .8 .3 .8 .3 .8 .2 .8 .2 .6 .4 1 .4 .8 .5 .8 .3 .5 .7 .3 .9 0 .8-.3 .8-.3 .7-.2 .9-.2 .8-.2 .8-.1 .8-.3 .8-.3 .8-.5 .8-.6 .8-.6 .6-.4 .5-.8-.3-.5-.8-.9-.8-.9-.7-.9-.7-.8-.6-.8-.4-.5-.7-1.1-.4-.8-.4-.8-.5-.8-.4-.4-.4-.4-.4-.4-.8-.4-.8-.2-.8-.1-.8 .1-.8 .1z" fill="#b0ff10" stroke="#7a3a00" stroke-opacity=".8" stroke-width=".6"/>
<path d="M185.6 118.3l.8-.1 .8-.1 .8 .1 .8 .2 .8 .4 .4 .4 .4 .4 .4 .4 .4 .6 .5 1 .3 .6 .6 1 .6 .8 .4 .5 .8 1 .7 .9 .7 .8 .9 .8 .4 .8-.3 .4-.8 .8-.4 .4-1.2 .8-.8 .5-.8 .3-.8 .3-.8 .1-.8 .2-.8 .2-.8 .2-.8 .3-.8 .3-.8 .1-.8-.4-.3-.5-.5-.7-.4-.9-.3-.8-.3-.8-.2-.8-.3-.8-.3-.8-.3-.8-.3-.5-.6-1.1-.4-.8-.2-.8-.1-.8 .1-.8 .2-.8 .5-.8 .5-.5 .6-.3 1-.4 .8-.2 .6-.2zM185.2 120l-1.2 .7-.8 .8-.3 .9-.1 .8 .2 .8 .2 .7 .4 .9 .3 .8 .4 .8 .3 .8 .4 .8 .4 .8 .7 .8 1.1 .6 .8 .1 .8-.1 .8-.1 .8-.1 .8-.2 .8-.2 .8-.4 .6-.4 .4-.8-.1-.8-.4-.8-.5-.7-.7-.9-.6-.8-.5-.8-.4-.8-.2-.7-.4-.9-.4-.8-.8-.8-.8-.3-.8-.2-.8 .1-.8 .2z" fill="#ffff00" stroke="#7a3a00" stroke-opacity=".8" stroke-width=".6"/>
<path d="M185.6 119.8l.8-.2 .8-.1 .8 .2 .8 .3 .8 .8 .4 .8 .4 .8 .2 .8 .4 .8 .5 .8 .5 .7 .7 .9 .6 .8 .3 .7 .2 .9-.4 .8-.6 .4-.7 .4-.9 .2-.8 .2-.8 .1-.8 .1-.8 .1-.8-.1-.8-.3-.8-.8-.6-1.1-.4-.8-.3-.8-.3-.6-.4-1-.4-.8-.2-.8-.2-.8 .1-.8 .2-.8 .7-.8 1-.6 .8-.4zM185.6 121.6l-.8 .8-.3 .8-.1 .8 .2 .8 .2 .7 .4 .9 .4 .7 .7 .9 .8 .8 .9 .4 .8 0 .8-.1 .8-.3 .6-.8-.2-.8-.4-.7-.5-.9-.3-.7-.3-.9-.2-.8-.3-.8-.5-.8-1.1-.5-.8 .1-.8 .4z" fill="#f8b010" stroke="#7a3a00" stroke-opacity=".8" stroke-width=".6"/>
<path d="M185.6 121.6l.8-.4 .8-.1 .8 .3 .8 .9 .3 .9 .2 .8 .3 .8 .3 .8 .5 .8 .4 .8 .2 .8-.5 .8-.9 .3-.8 .1-.8 0-.8-.3-.8-.7-.7-1-.5-.8-.4-.8-.2-.8-.2-.8 .1-.8 .3-.8 .8-.8z" fill="#f06008" stroke="#7a3a00" stroke-opacity=".8" stroke-width=".6"/>
<rect width="224.4" height="167.6" fill="url(#dots)"/>
<path d="M163.7 91.2l-.6 .9M168.6 91.2l-.9 .6M173.5 91.2l-1.1 .6M178.4 91.2l-1.2-.1M188.2 91.2l-.8-.7M193.1 91.2l-.8-.9M153.9 96.1l-.7 1M158.8 96.1l-.6 1.3M163.7 96.1l-.6 1.5M168.6 96.1l-.7 1.3M173.5 96.1l-1.5 .9M178.4 96.1l-1.6 .3M183.3 96.1l-1.3-.7M188.2 96.1l-1.2-.9M193.1 96.1l-.6-1.3M198 96.1l0-1.3M202.9 96.1l.7-1.3M207.8 96.1l1-.2M212.7 96.1l.9 .7M149 101l0 1.1M153.9 101l-.2 1.4M158.8 101l-.4 1.7M163.7 101l-.8 2M168.6 101l-1.1 1.9M173.5 101l-1.6 1.7M178.4 101l-1.9 .5M183.3 101l-1.8-.6M188.2 101l-1.7-1.4M193.1 101l-1.2-2.1M198 101l-.7-2.2M202.9 101l.5-1.9M207.8 101l1.4-.2M212.7 101l.8 .7M217.6 101l.3 .9M144.1 105.9l-.1 .9M149 105.9l.1 1.4M153.9 105.9l-.2 1.7M158.8 105.9l-.5 2.3M163.7 105.9l-.3 2.4M168.6 105.9l-.5 2.5M173.5 105.9l-.9 2.1M178.4 105.9l-1.5 .8M183.3 105.9l-1.8-.7M188.2 105.9l-2.6-1.4M193.1 105.9l-2.1-2.2M198 105.9l-1.5-3.1M202.9 105.9l-1.1-3.2M212.7 105.9l-.6 1.3M217.6 105.9l-.7 .9M144.1 110.8l.1 1.2M149 110.8l0 1.5M153.9 110.8l-.2 1.7M158.8 110.8l-.2 2.4M163.7 110.8l-.4 2.8M168.6 110.8l-.6 2.9M173.5 110.8l-.7 2.8M178.4 110.8l-1.5 1.7M183.3 110.8l-2 .4M188.2 110.8l-3-1M193.1 110.8l-2.9-2.2M198 110.8l-3-3.2M202.9 110.8l-3.2-3.1M207.8 110.8l-3.1-1M212.7 110.8l-2 .4M217.6 110.8l-1.2 .2M144.1 115.7l.3 .9M149 115.7l-.1 1.2M153.9 115.7l0 1.9M158.8 115.7l0 2.5M163.7 115.7l-.3 2.5M168.6 115.7l-.2 3.1M173.5 115.7l-.7 2.9M178.4 115.7l-1.3 2.4M183.3 115.7l-2.4 1.3M188.2 115.7l-3.5-.6M193.1 115.7l-3.8-2.4M198 115.7l-3.3-3.1M202.9 115.7l-3.1-3M207.8 115.7l-2.6-2M212.7 115.7l-1.8-.6M217.6 115.7l-1.2-.4M144.1 120.6l.5 .8M149 120.6l.2 1M153.9 120.6l0 1.6M158.8 120.6l.4 1.9M163.7 120.6l.1 2.6M168.6 120.6l.3 3M173.5 120.6l-.5 3.5M178.4 120.6l-1.1 3.3M183.3 120.6l-2 2.3M188.2 120.6l-2.8 0M193.1 120.6l-2.8-2.7M198 120.6l-2.8-3.8M202.9 120.6l-2-3.4M207.8 120.6l-1.8-2.2M212.7 120.6l-1-1.4M217.6 120.6l-1-1.1M149 125.5l.2 1M153.9 125.5l.5 1.4M158.8 125.5l.4 1.9M163.7 125.5l.5 2.2M168.6 125.5l.3 3M173.5 125.5l.1 3.3M178.4 125.5l.3 3.6M183.3 125.5l.1 2.9M193.1 125.5l-.4-2.6M198 125.5l-.6-3.9M202.9 125.5l-.6-3.5M207.8 125.5l-.8-2.5M212.7 125.5l-1.1-1.7M217.6 125.5l-.3-1M149 130.4l.7 .7M153.9 130.4l.9 1M158.8 130.4l.5 1.7M163.7 130.4l.7 2M168.6 130.4l.7 2.6M173.5 130.4l1.2 3.2M178.4 130.4l1.7 3.4M183.3 130.4l2.4 2.6M188.2 130.4l2.5 .5M193.1 130.4l2.1-1.9M198 130.4l1.2-3.4M202.9 130.4l1-2.8M207.8 130.4l.1-2.2M212.7 130.4l0-1.3M217.6 130.4l-.3-1.1M153.9 135.3l.4 .9M158.8 135.3l.9 .7M163.7 135.3l1.1 1.7M168.6 135.3l1.2 1.9M173.5 135.3l1.9 2.4M178.4 135.3l2.4 2.8M183.3 135.3l3.4 2M188.2 135.3l3.8 .4M193.1 135.3l3-1.2M198 135.3l2.2-2.4M202.9 135.3l1.2-2.1M207.8 135.3l.6-1.7M212.7 135.3l0-1.6M217.6 135.3l0-1.2M222.5 135.3l0-.9M163.7 140.2l.9 .7M168.6 140.2l1.4 1.1M173.5 140.2l2.3 1.6M178.4 140.2l2.8 1.6M183.3 140.2l3.2 1.4M188.2 140.2l3.5 .3M193.1 140.2l3.2-.9M198 140.2l2.3-1.3M202.9 140.2l1.7-1.4M207.8 140.2l1-1.6M212.7 140.2l.6-1.1M217.6 140.2l.3-1M173.5 145.1l1.4 1.4M178.4 145.1l2.2 1.5M183.3 145.1l2.6 .8M188.2 145.1l2.7 .5M193.1 145.1l2.4-.3M198 145.1l2.2-.8M202.9 145.1l1.5-.8M207.8 145.1l1.1-.7M222.5 145.1l.3-1M178.4 150l1.2 .4M183.3 150l1.9 .8M188.2 150l1.7 .6M193.1 150l2 .4M198 150l1.3-.3M202.9 150l1-.4M207.8 150l.8-.4M188.2 154.9l1.3 .5M193.1 154.9l1.2 .3M198 154.9l1.1-.2M202.9 154.9l.9-.4" fill="none" stroke="#000" stroke-width=".62" stroke-opacity=".85"/>
<path d="M185.6 104.5L187 104.7L186.5 105.5zM191 103.7L192.3 104.3L191.5 105zM196.5 102.8L197.6 103.8L196.6 104.3zM201.8 102.7L202.8 103.9L201.8 104.2zM163.3 113.6L163 112.3L164 112.5zM168 113.7L167.8 112.3L168.7 112.5zM172.8 113.6L172.7 112.3L173.6 112.5zM185.2 109.8L186.7 109.8L186.4 110.7zM190.2 108.6L191.7 109.1L191 110zM195 107.6L196.6 108.4L195.7 109.3zM199.7 107.7L201.4 108.5L200.5 109.4zM204.7 109.8L206.1 109.7L205.8 110.7zM168.4 118.8L168 117.4L169 117.5zM172.8 118.6L172.6 117.2L173.6 117.4zM177.1 118.1L177.3 116.8L178.1 117.2zM180.9 117L181.7 116L182.2 116.8zM184.7 115.1L186.2 114.8L186 115.9zM189.3 113.3L191.1 113.7L190.4 114.8zM194.7 112.6L196.4 113.3L195.5 114.2zM199.8 112.7L201.4 113.4L200.6 114.3zM205.2 113.7L206.6 114.2L206 115zM163.8 123.2L163.3 122L164.2 122zM168.9 123.6L168.3 122.4L169.3 122.3zM173 124.1L172.7 122.6L173.8 122.7zM177.3 123.9L177.2 122.4L178.3 122.7zM181.3 122.9L181.8 121.6L182.6 122.2zM185.4 120.6L186.6 120.1L186.6 121.1zM190.3 117.9L191.8 118.5L191 119.4zM195.2 116.8L196.8 117.9L195.7 118.7zM200.9 117.2L202.2 118.2L201.2 118.8zM206 118.4L207.2 119.1L206.4 119.7zM168.9 128.5L168.3 127.3L169.3 127.2zM173.6 128.8L173 127.5L174.1 127.4zM178.7 129.1L178 127.7L179.1 127.6zM183.4 128.4L182.9 127.2L183.9 127.1zM197.4 121.6L198.2 123L197 123.2zM202.3 122L203.1 123.3L202 123.5zM169.3 133L168.5 131.9L169.4 131.7zM174.7 133.6L173.7 132.4L174.7 132zM180.1 133.8L178.9 132.7L179.9 132.1zM185.7 133L184.3 132.3L185.1 131.5zM195.2 128.5L194.6 129.7L193.9 129zM199.2 127L199.2 128.6L198.2 128.2zM203.9 127.6L203.9 129L203 128.6zM175.4 137.7L174.2 137L175 136.4zM180.8 138.1L179.4 137.3L180.3 136.6zM186.7 137.3L185.1 137L185.7 136zM192 135.7L190.4 136.1L190.5 134.9zM196.1 134.1L195 135.1L194.6 134.1zM200.2 132.9L199.6 134.3L198.9 133.6zM175.8 141.8L174.5 141.5L175.1 140.7zM181.2 141.8L179.8 141.6L180.3 140.7zM186.5 141.6L184.9 141.5L185.4 140.5zM191.7 140.5L190.2 140.9L190.3 139.9zM196.3 139.3L195.1 140.2L194.8 139.2zM200.3 138.9L199.4 139.9L199 139.1zM180.6 146.6L179.3 146.3L179.9 145.6zM185.9 145.9L184.6 146L184.8 145.1zM190.9 145.6L189.6 145.9L189.8 144.9z" fill="#000"/>
<polygon points="0,45 204.3,167.6 0,167.6" fill="#000"/>
<path d="M0 0h5M0 11.2h3.6M0 22.3h3.6M0 33.5h3.6M0 44.7h3.6M0 55.9h5M0 67h3.6M0 78.2h3.6M0 89.4h3.6M0 100.6h3.6M0 111.7h5M0 122.9h3.6M0 134.1h3.6M0 145.3h3.6M0 156.4h3.6M0 167.6h5M0 167.6v-5M11.2 167.6v-3.8M22.4 167.6v-3.8M33.7 167.6v-3.8M44.9 167.6v-3.8M56.1 167.6v-5M67.3 167.6v-3.8M78.5 167.6v-3.8M89.8 167.6v-3.8M101 167.6v-3.8M112.2 167.6v-5M123.4 167.6v-3.8M134.6 167.6v-3.8M145.9 167.6v-3.8M157.1 167.6v-3.8M168.3 167.6v-5M179.5 167.6v-3.8M190.7 167.6v-3.8M202 167.6v-3.8M213.2 167.6v-3.8M224.4 167.6v-5" stroke="#000" stroke-width=".8" fill="none"/>
</g>
<rect x="0" y="0" width="224.4" height="167.6" fill="none" stroke="#000" stroke-width="1.7"/>
<text x="-.3" y="181.8" font-size="12" fill="#000" text-anchor="middle">-2</text>
<text x="55.8" y="181.8" font-size="12" fill="#000" text-anchor="middle">-1</text>
<text x="112.2" y="181.8" font-size="12" fill="#000" text-anchor="middle">0</text>
<text x="168.3" y="181.8" font-size="12" fill="#000" text-anchor="middle">1</text>
<text x="224.4" y="181.8" font-size="12" fill="#000" text-anchor="middle">2</text>
<text x="-6.2" y="4.1" font-size="12" fill="#000" text-anchor="end">2</text>
<text x="-6.2" y="60" font-size="12" fill="#000" text-anchor="end">1</text>
<text x="-6.2" y="115.8" font-size="12" fill="#000" text-anchor="end">0</text>
<text x="-6.2" y="171.7" font-size="12" fill="#000" text-anchor="end">-1</text>
<text x="112.2" y="199.4" font-size="13" fill="#111" text-anchor="middle">x/d</text>
<text transform="translate(-15.8,84.1) rotate(-90)" font-size="13" fill="#111" text-anchor="middle">y/d</text>
<text x="7.3" y="15.4" font-size="12.8" fill="#111">(i) τ=6.6</text>
</g>
</svg>
</body></html>
